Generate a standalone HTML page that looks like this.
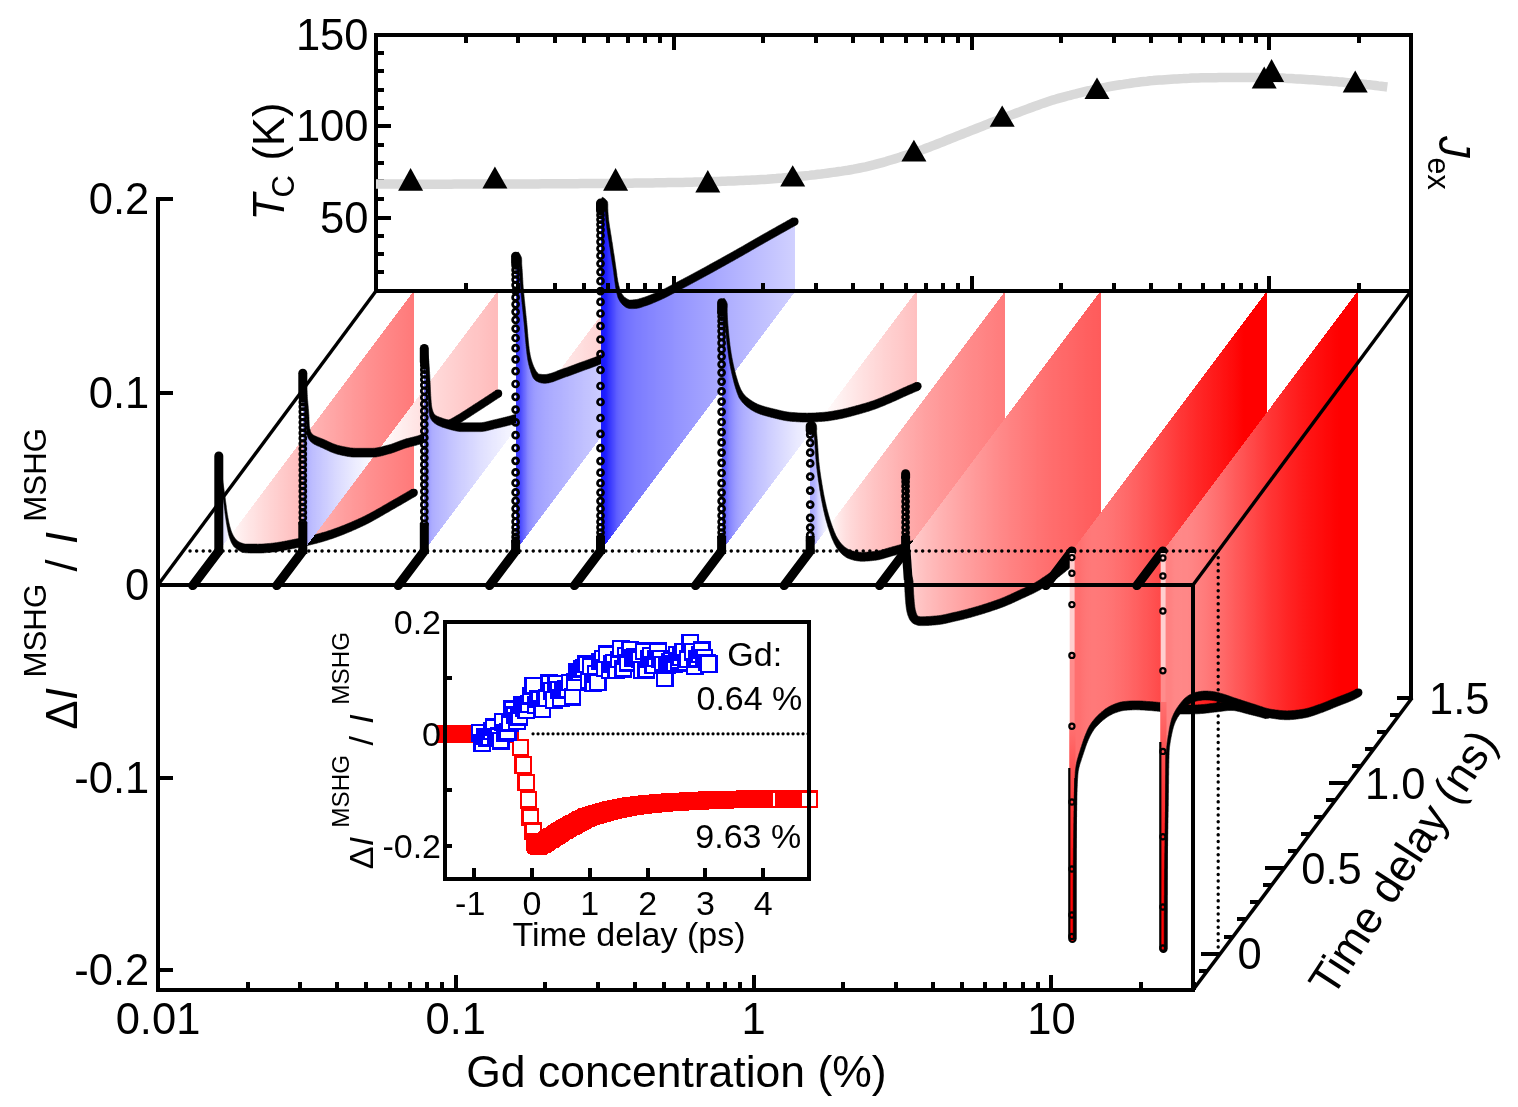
<!DOCTYPE html><html><head><meta charset="utf-8"><title>figure</title><style>html,body{margin:0;padding:0;background:#fff}svg{display:block}</style></head><body><svg width="1518" height="1107" viewBox="0 0 1518 1107" font-family='"Liberation Sans", sans-serif' fill="#000">
<rect width="1518" height="1107" fill="#fff"/>
<defs><linearGradient id="g0" gradientUnits="userSpaceOnUse" x1="218.8" y1="0" x2="413.9" y2="0"><stop offset="0.0000" stop-color="#bfbfff"/><stop offset="0.0103" stop-color="#cdcdff"/><stop offset="0.0205" stop-color="#d9d9ff"/><stop offset="0.0308" stop-color="#e5e5ff"/><stop offset="0.0410" stop-color="#f0f0ff"/><stop offset="0.0513" stop-color="#f9f9ff"/><stop offset="0.0615" stop-color="#ffffff"/><stop offset="0.0718" stop-color="#fffafa"/><stop offset="0.0820" stop-color="#fff6f6"/><stop offset="0.0923" stop-color="#fff3f3"/><stop offset="0.1025" stop-color="#fff1f1"/><stop offset="0.1128" stop-color="#ffeeee"/><stop offset="0.1230" stop-color="#ffecec"/><stop offset="0.1333" stop-color="#ffeaea"/><stop offset="0.1435" stop-color="#ffe8e8"/><stop offset="0.1538" stop-color="#ffe6e6"/><stop offset="0.1640" stop-color="#ffe4e4"/><stop offset="0.1743" stop-color="#ffe3e3"/><stop offset="0.1845" stop-color="#ffe1e1"/><stop offset="0.1948" stop-color="#ffdfdf"/><stop offset="0.2050" stop-color="#ffdddd"/><stop offset="0.2153" stop-color="#ffdcdc"/><stop offset="0.2255" stop-color="#ffdada"/><stop offset="0.2358" stop-color="#ffd8d8"/><stop offset="0.2460" stop-color="#ffd7d7"/><stop offset="0.2563" stop-color="#ffd5d5"/><stop offset="0.2665" stop-color="#ffd3d3"/><stop offset="0.2768" stop-color="#ffd2d2"/><stop offset="0.2870" stop-color="#ffd0d0"/><stop offset="0.2973" stop-color="#ffcfcf"/><stop offset="0.3075" stop-color="#ffcdcd"/><stop offset="0.3178" stop-color="#ffcbcb"/><stop offset="0.3280" stop-color="#ffcaca"/><stop offset="0.3383" stop-color="#ffc8c8"/><stop offset="0.3485" stop-color="#ffc7c7"/><stop offset="0.3588" stop-color="#ffc5c5"/><stop offset="0.3690" stop-color="#ffc4c4"/><stop offset="0.3793" stop-color="#ffc2c2"/><stop offset="0.3895" stop-color="#ffc1c1"/><stop offset="0.3998" stop-color="#ffbfbf"/><stop offset="0.4100" stop-color="#ffbebe"/><stop offset="0.4203" stop-color="#ffbcbc"/><stop offset="0.4305" stop-color="#ffbbbb"/><stop offset="0.4408" stop-color="#ffb9b9"/><stop offset="0.4511" stop-color="#ffb8b8"/><stop offset="0.4613" stop-color="#ffb7b7"/><stop offset="0.4716" stop-color="#ffb5b5"/><stop offset="0.4818" stop-color="#ffb4b4"/><stop offset="0.4921" stop-color="#ffb2b2"/><stop offset="0.5023" stop-color="#ffb1b1"/><stop offset="0.5126" stop-color="#ffafaf"/><stop offset="0.5228" stop-color="#ffaeae"/><stop offset="0.5331" stop-color="#ffadad"/><stop offset="0.5433" stop-color="#ffabab"/><stop offset="0.5536" stop-color="#ffaaaa"/><stop offset="0.5638" stop-color="#ffa9a9"/><stop offset="0.5741" stop-color="#ffa7a7"/><stop offset="0.5843" stop-color="#ffa6a6"/><stop offset="0.5946" stop-color="#ffa5a5"/><stop offset="0.6048" stop-color="#ffa3a3"/><stop offset="0.6151" stop-color="#ffa2a2"/><stop offset="0.6253" stop-color="#ffa1a1"/><stop offset="0.6356" stop-color="#ffa0a0"/><stop offset="0.6458" stop-color="#ff9e9e"/><stop offset="0.6561" stop-color="#ff9d9d"/><stop offset="0.6663" stop-color="#ff9c9c"/><stop offset="0.6766" stop-color="#ff9b9b"/><stop offset="0.6868" stop-color="#ff9999"/><stop offset="0.6971" stop-color="#ff9898"/><stop offset="0.7073" stop-color="#ff9797"/><stop offset="0.7176" stop-color="#ff9696"/><stop offset="0.7278" stop-color="#ff9595"/><stop offset="0.7381" stop-color="#ff9494"/><stop offset="0.7483" stop-color="#ff9393"/><stop offset="0.7586" stop-color="#ff9191"/><stop offset="0.7688" stop-color="#ff9090"/><stop offset="0.7791" stop-color="#ff8f8f"/><stop offset="0.7893" stop-color="#ff8e8e"/><stop offset="0.7996" stop-color="#ff8d8d"/><stop offset="0.8098" stop-color="#ff8c8c"/><stop offset="0.8201" stop-color="#ff8b8b"/><stop offset="0.8303" stop-color="#ff8a8a"/><stop offset="0.8406" stop-color="#ff8989"/><stop offset="0.8508" stop-color="#ff8888"/><stop offset="0.8611" stop-color="#ff8787"/><stop offset="0.8713" stop-color="#ff8686"/><stop offset="0.8816" stop-color="#ff8585"/><stop offset="0.8919" stop-color="#ff8484"/><stop offset="0.9021" stop-color="#ff8383"/><stop offset="0.9124" stop-color="#ff8282"/><stop offset="0.9226" stop-color="#ff8181"/><stop offset="0.9329" stop-color="#ff8080"/><stop offset="0.9431" stop-color="#ff7f7f"/><stop offset="0.9534" stop-color="#ff7e7e"/><stop offset="0.9636" stop-color="#ff7d7d"/><stop offset="0.9739" stop-color="#ff7c7c"/><stop offset="0.9841" stop-color="#ff7b7b"/><stop offset="0.9944" stop-color="#ff7a7a"/></linearGradient><linearGradient id="g1" gradientUnits="userSpaceOnUse" x1="302.8" y1="0" x2="498.3" y2="0"><stop offset="0.0000" stop-color="#8888ff"/><stop offset="0.0102" stop-color="#9494ff"/><stop offset="0.0205" stop-color="#a3a3ff"/><stop offset="0.0307" stop-color="#b6b6ff"/><stop offset="0.0409" stop-color="#babaff"/><stop offset="0.0512" stop-color="#bebeff"/><stop offset="0.0614" stop-color="#c0c0ff"/><stop offset="0.0716" stop-color="#c3c3ff"/><stop offset="0.0818" stop-color="#c5c5ff"/><stop offset="0.0921" stop-color="#c7c7ff"/><stop offset="0.1023" stop-color="#cacaff"/><stop offset="0.1125" stop-color="#ccccff"/><stop offset="0.1228" stop-color="#ceceff"/><stop offset="0.1330" stop-color="#d1d1ff"/><stop offset="0.1432" stop-color="#d3d3ff"/><stop offset="0.1535" stop-color="#d5d5ff"/><stop offset="0.1637" stop-color="#d8d8ff"/><stop offset="0.1739" stop-color="#dadaff"/><stop offset="0.1841" stop-color="#dcdcff"/><stop offset="0.1944" stop-color="#dedeff"/><stop offset="0.2046" stop-color="#e0e0ff"/><stop offset="0.2148" stop-color="#e2e2ff"/><stop offset="0.2251" stop-color="#e4e4ff"/><stop offset="0.2353" stop-color="#e6e6ff"/><stop offset="0.2455" stop-color="#e8e8ff"/><stop offset="0.2558" stop-color="#eaeaff"/><stop offset="0.2660" stop-color="#ececff"/><stop offset="0.2762" stop-color="#eeeeff"/><stop offset="0.2864" stop-color="#efefff"/><stop offset="0.2967" stop-color="#f1f1ff"/><stop offset="0.3069" stop-color="#f3f3ff"/><stop offset="0.3171" stop-color="#f5f5ff"/><stop offset="0.3274" stop-color="#f6f6ff"/><stop offset="0.3376" stop-color="#f8f8ff"/><stop offset="0.3478" stop-color="#fafaff"/><stop offset="0.3581" stop-color="#fcfcff"/><stop offset="0.3683" stop-color="#fdfdff"/><stop offset="0.3785" stop-color="#ffffff"/><stop offset="0.3887" stop-color="#fffdfd"/><stop offset="0.3990" stop-color="#fffcfc"/><stop offset="0.4092" stop-color="#fffbfb"/><stop offset="0.4194" stop-color="#fff9f9"/><stop offset="0.4297" stop-color="#fff8f8"/><stop offset="0.4399" stop-color="#fff6f6"/><stop offset="0.4501" stop-color="#fff5f5"/><stop offset="0.4604" stop-color="#fff4f4"/><stop offset="0.4706" stop-color="#fff2f2"/><stop offset="0.4808" stop-color="#fff1f1"/><stop offset="0.4910" stop-color="#fff0f0"/><stop offset="0.5013" stop-color="#ffefef"/><stop offset="0.5115" stop-color="#ffeded"/><stop offset="0.5217" stop-color="#ffecec"/><stop offset="0.5320" stop-color="#ffebeb"/><stop offset="0.5422" stop-color="#ffe9e9"/><stop offset="0.5524" stop-color="#ffe8e8"/><stop offset="0.5627" stop-color="#ffe6e6"/><stop offset="0.5729" stop-color="#ffe5e5"/><stop offset="0.5831" stop-color="#ffe4e4"/><stop offset="0.5934" stop-color="#ffe2e2"/><stop offset="0.6036" stop-color="#ffe1e1"/><stop offset="0.6138" stop-color="#ffe0e0"/><stop offset="0.6240" stop-color="#ffdfdf"/><stop offset="0.6343" stop-color="#ffdddd"/><stop offset="0.6445" stop-color="#ffdcdc"/><stop offset="0.6547" stop-color="#ffdbdb"/><stop offset="0.6650" stop-color="#ffdada"/><stop offset="0.6752" stop-color="#ffdada"/><stop offset="0.6854" stop-color="#ffd8d8"/><stop offset="0.6957" stop-color="#ffd7d7"/><stop offset="0.7059" stop-color="#ffd6d6"/><stop offset="0.7161" stop-color="#ffd5d5"/><stop offset="0.7263" stop-color="#ffd4d4"/><stop offset="0.7366" stop-color="#ffd3d3"/><stop offset="0.7468" stop-color="#ffd2d2"/><stop offset="0.7570" stop-color="#ffd1d1"/><stop offset="0.7673" stop-color="#ffd0d0"/><stop offset="0.7775" stop-color="#ffcfcf"/><stop offset="0.7877" stop-color="#ffcece"/><stop offset="0.7980" stop-color="#ffcdcd"/><stop offset="0.8082" stop-color="#ffcccc"/><stop offset="0.8184" stop-color="#ffcbcb"/><stop offset="0.8286" stop-color="#ffcaca"/><stop offset="0.8389" stop-color="#ffc9c9"/><stop offset="0.8491" stop-color="#ffc8c8"/><stop offset="0.8593" stop-color="#ffc7c7"/><stop offset="0.8696" stop-color="#ffc6c6"/><stop offset="0.8798" stop-color="#ffc5c5"/><stop offset="0.8900" stop-color="#ffc5c5"/><stop offset="0.9003" stop-color="#ffc4c4"/><stop offset="0.9105" stop-color="#ffc3c3"/><stop offset="0.9207" stop-color="#ffc2c2"/><stop offset="0.9309" stop-color="#ffc1c1"/><stop offset="0.9412" stop-color="#ffc0c0"/><stop offset="0.9514" stop-color="#ffbfbf"/><stop offset="0.9616" stop-color="#ffbebe"/><stop offset="0.9719" stop-color="#ffbdbd"/><stop offset="0.9821" stop-color="#ffbcbc"/><stop offset="0.9923" stop-color="#ffbcbc"/></linearGradient><linearGradient id="g2" gradientUnits="userSpaceOnUse" x1="424.3" y1="0" x2="619.0" y2="0"><stop offset="0.0000" stop-color="#7878ff"/><stop offset="0.0103" stop-color="#7e7eff"/><stop offset="0.0205" stop-color="#8e8eff"/><stop offset="0.0308" stop-color="#a5a5ff"/><stop offset="0.0411" stop-color="#adadff"/><stop offset="0.0514" stop-color="#b0b0ff"/><stop offset="0.0616" stop-color="#b3b3ff"/><stop offset="0.0719" stop-color="#b5b5ff"/><stop offset="0.0822" stop-color="#b8b8ff"/><stop offset="0.0924" stop-color="#babaff"/><stop offset="0.1027" stop-color="#bcbcff"/><stop offset="0.1130" stop-color="#bebeff"/><stop offset="0.1233" stop-color="#c1c1ff"/><stop offset="0.1335" stop-color="#c3c3ff"/><stop offset="0.1438" stop-color="#c5c5ff"/><stop offset="0.1541" stop-color="#c7c7ff"/><stop offset="0.1644" stop-color="#c9c9ff"/><stop offset="0.1746" stop-color="#cbcbff"/><stop offset="0.1849" stop-color="#cdcdff"/><stop offset="0.1952" stop-color="#cfcfff"/><stop offset="0.2054" stop-color="#d0d0ff"/><stop offset="0.2157" stop-color="#d2d2ff"/><stop offset="0.2260" stop-color="#d4d4ff"/><stop offset="0.2363" stop-color="#d6d6ff"/><stop offset="0.2465" stop-color="#d7d7ff"/><stop offset="0.2568" stop-color="#d9d9ff"/><stop offset="0.2671" stop-color="#dbdbff"/><stop offset="0.2773" stop-color="#ddddff"/><stop offset="0.2876" stop-color="#dfdfff"/><stop offset="0.2979" stop-color="#e0e0ff"/><stop offset="0.3082" stop-color="#e2e2ff"/><stop offset="0.3184" stop-color="#e3e3ff"/><stop offset="0.3287" stop-color="#e5e5ff"/><stop offset="0.3390" stop-color="#e6e6ff"/><stop offset="0.3493" stop-color="#e8e8ff"/><stop offset="0.3595" stop-color="#e9e9ff"/><stop offset="0.3698" stop-color="#eaeaff"/><stop offset="0.3801" stop-color="#ececff"/><stop offset="0.3903" stop-color="#ededff"/><stop offset="0.4006" stop-color="#efefff"/><stop offset="0.4109" stop-color="#f0f0ff"/><stop offset="0.4212" stop-color="#f2f2ff"/><stop offset="0.4314" stop-color="#f3f3ff"/><stop offset="0.4417" stop-color="#f4f4ff"/><stop offset="0.4520" stop-color="#f6f6ff"/><stop offset="0.4622" stop-color="#f7f7ff"/><stop offset="0.4725" stop-color="#f9f9ff"/><stop offset="0.4828" stop-color="#fafaff"/><stop offset="0.4931" stop-color="#fbfbff"/><stop offset="0.5033" stop-color="#fdfdff"/><stop offset="0.5136" stop-color="#fefeff"/><stop offset="0.5239" stop-color="#ffffff"/><stop offset="0.5342" stop-color="#fffefe"/><stop offset="0.5444" stop-color="#fffcfc"/><stop offset="0.5547" stop-color="#fffbfb"/><stop offset="0.5650" stop-color="#fffafa"/><stop offset="0.5752" stop-color="#fff9f9"/><stop offset="0.5855" stop-color="#fff7f7"/><stop offset="0.5958" stop-color="#fff6f6"/><stop offset="0.6061" stop-color="#fff5f5"/><stop offset="0.6163" stop-color="#fff4f4"/><stop offset="0.6266" stop-color="#fff2f2"/><stop offset="0.6369" stop-color="#fff1f1"/><stop offset="0.6471" stop-color="#fff0f0"/><stop offset="0.6574" stop-color="#ffefef"/><stop offset="0.6677" stop-color="#ffeeee"/><stop offset="0.6780" stop-color="#ffecec"/><stop offset="0.6882" stop-color="#ffebeb"/><stop offset="0.6985" stop-color="#ffeaea"/><stop offset="0.7088" stop-color="#ffe9e9"/><stop offset="0.7191" stop-color="#ffe8e8"/><stop offset="0.7293" stop-color="#ffe7e7"/><stop offset="0.7396" stop-color="#ffe6e6"/><stop offset="0.7499" stop-color="#ffe4e4"/><stop offset="0.7601" stop-color="#ffe3e3"/><stop offset="0.7704" stop-color="#ffe2e2"/><stop offset="0.7807" stop-color="#ffe1e1"/><stop offset="0.7910" stop-color="#ffe0e0"/><stop offset="0.8012" stop-color="#ffdfdf"/><stop offset="0.8115" stop-color="#ffdede"/><stop offset="0.8218" stop-color="#ffdcdc"/><stop offset="0.8320" stop-color="#ffdbdb"/><stop offset="0.8423" stop-color="#ffdada"/><stop offset="0.8526" stop-color="#ffd9d9"/><stop offset="0.8629" stop-color="#ffd8d8"/><stop offset="0.8731" stop-color="#ffd7d7"/><stop offset="0.8834" stop-color="#ffd6d6"/><stop offset="0.8937" stop-color="#ffd5d5"/><stop offset="0.9040" stop-color="#ffd4d4"/><stop offset="0.9142" stop-color="#ffd3d3"/><stop offset="0.9245" stop-color="#ffd2d2"/><stop offset="0.9348" stop-color="#ffd0d0"/><stop offset="0.9450" stop-color="#ffcfcf"/><stop offset="0.9553" stop-color="#ffcece"/><stop offset="0.9656" stop-color="#ffcdcd"/><stop offset="0.9759" stop-color="#ffcccc"/><stop offset="0.9861" stop-color="#ffcbcb"/><stop offset="0.9964" stop-color="#ffcaca"/></linearGradient><linearGradient id="g3" gradientUnits="userSpaceOnUse" x1="515.6" y1="0" x2="710.6" y2="0"><stop offset="0.0000" stop-color="#3b3bff"/><stop offset="0.0103" stop-color="#3e3eff"/><stop offset="0.0205" stop-color="#4242ff"/><stop offset="0.0308" stop-color="#5454ff"/><stop offset="0.0410" stop-color="#6464ff"/><stop offset="0.0513" stop-color="#7272ff"/><stop offset="0.0615" stop-color="#8383ff"/><stop offset="0.0718" stop-color="#8d8dff"/><stop offset="0.0821" stop-color="#9393ff"/><stop offset="0.0923" stop-color="#9999ff"/><stop offset="0.1026" stop-color="#9d9dff"/><stop offset="0.1128" stop-color="#a0a0ff"/><stop offset="0.1231" stop-color="#a2a2ff"/><stop offset="0.1333" stop-color="#a4a4ff"/><stop offset="0.1436" stop-color="#a6a6ff"/><stop offset="0.1538" stop-color="#a8a8ff"/><stop offset="0.1641" stop-color="#a9a9ff"/><stop offset="0.1744" stop-color="#ababff"/><stop offset="0.1846" stop-color="#acacff"/><stop offset="0.1949" stop-color="#aeaeff"/><stop offset="0.2051" stop-color="#afafff"/><stop offset="0.2154" stop-color="#b0b0ff"/><stop offset="0.2256" stop-color="#b1b1ff"/><stop offset="0.2359" stop-color="#b2b2ff"/><stop offset="0.2462" stop-color="#b4b4ff"/><stop offset="0.2564" stop-color="#b5b5ff"/><stop offset="0.2667" stop-color="#b6b6ff"/><stop offset="0.2769" stop-color="#b8b8ff"/><stop offset="0.2872" stop-color="#b9b9ff"/><stop offset="0.2974" stop-color="#babaff"/><stop offset="0.3077" stop-color="#bcbcff"/><stop offset="0.3179" stop-color="#bdbdff"/><stop offset="0.3282" stop-color="#bebeff"/><stop offset="0.3385" stop-color="#bfbfff"/><stop offset="0.3487" stop-color="#c1c1ff"/><stop offset="0.3590" stop-color="#c2c2ff"/><stop offset="0.3692" stop-color="#c3c3ff"/><stop offset="0.3795" stop-color="#c4c4ff"/><stop offset="0.3897" stop-color="#c6c6ff"/><stop offset="0.4000" stop-color="#c7c7ff"/><stop offset="0.4103" stop-color="#c8c8ff"/><stop offset="0.4205" stop-color="#cacaff"/><stop offset="0.4308" stop-color="#cbcbff"/><stop offset="0.4410" stop-color="#ccccff"/><stop offset="0.4513" stop-color="#cdcdff"/><stop offset="0.4615" stop-color="#ceceff"/><stop offset="0.4718" stop-color="#cfcfff"/><stop offset="0.4821" stop-color="#d1d1ff"/><stop offset="0.4923" stop-color="#d2d2ff"/><stop offset="0.5026" stop-color="#d3d3ff"/><stop offset="0.5128" stop-color="#d4d4ff"/><stop offset="0.5231" stop-color="#d5d5ff"/><stop offset="0.5333" stop-color="#d6d6ff"/><stop offset="0.5436" stop-color="#d7d7ff"/><stop offset="0.5538" stop-color="#d8d8ff"/><stop offset="0.5641" stop-color="#d9d9ff"/><stop offset="0.5744" stop-color="#dbdbff"/><stop offset="0.5846" stop-color="#dcdcff"/><stop offset="0.5949" stop-color="#ddddff"/><stop offset="0.6051" stop-color="#dedeff"/><stop offset="0.6154" stop-color="#dfdfff"/><stop offset="0.6256" stop-color="#e0e0ff"/><stop offset="0.6359" stop-color="#e1e1ff"/><stop offset="0.6462" stop-color="#e2e2ff"/><stop offset="0.6564" stop-color="#e3e3ff"/><stop offset="0.6667" stop-color="#e4e4ff"/><stop offset="0.6769" stop-color="#e5e5ff"/><stop offset="0.6872" stop-color="#e6e6ff"/><stop offset="0.6974" stop-color="#e7e7ff"/><stop offset="0.7077" stop-color="#e8e8ff"/><stop offset="0.7179" stop-color="#e9e9ff"/><stop offset="0.7282" stop-color="#eaeaff"/><stop offset="0.7385" stop-color="#ebebff"/><stop offset="0.7487" stop-color="#ededff"/><stop offset="0.7590" stop-color="#eeeeff"/><stop offset="0.7692" stop-color="#efefff"/><stop offset="0.7795" stop-color="#f0f0ff"/><stop offset="0.7897" stop-color="#f1f1ff"/><stop offset="0.8000" stop-color="#f2f2ff"/><stop offset="0.8103" stop-color="#f3f3ff"/><stop offset="0.8205" stop-color="#f4f4ff"/><stop offset="0.8308" stop-color="#f5f5ff"/><stop offset="0.8410" stop-color="#f6f6ff"/><stop offset="0.8513" stop-color="#f7f7ff"/><stop offset="0.8615" stop-color="#f8f8ff"/><stop offset="0.8718" stop-color="#f9f9ff"/><stop offset="0.8821" stop-color="#fafaff"/><stop offset="0.8923" stop-color="#fbfbff"/><stop offset="0.9026" stop-color="#fcfcff"/><stop offset="0.9128" stop-color="#fdfdff"/><stop offset="0.9231" stop-color="#fefeff"/><stop offset="0.9333" stop-color="#ffffff"/><stop offset="0.9436" stop-color="#fffefe"/><stop offset="0.9538" stop-color="#fffdfd"/><stop offset="0.9641" stop-color="#fffcfc"/><stop offset="0.9744" stop-color="#fffbfb"/><stop offset="0.9846" stop-color="#fffbfb"/><stop offset="0.9949" stop-color="#fffafa"/></linearGradient><linearGradient id="g4" gradientUnits="userSpaceOnUse" x1="600.5" y1="0" x2="794.5" y2="0"><stop offset="0.0000" stop-color="#1818ff"/><stop offset="0.0103" stop-color="#1a1aff"/><stop offset="0.0206" stop-color="#1c1cff"/><stop offset="0.0309" stop-color="#2424ff"/><stop offset="0.0412" stop-color="#3131ff"/><stop offset="0.0515" stop-color="#3b3bff"/><stop offset="0.0619" stop-color="#4646ff"/><stop offset="0.0722" stop-color="#5050ff"/><stop offset="0.0825" stop-color="#5c5cff"/><stop offset="0.0928" stop-color="#6363ff"/><stop offset="0.1031" stop-color="#6868ff"/><stop offset="0.1134" stop-color="#6c6cff"/><stop offset="0.1237" stop-color="#6f6fff"/><stop offset="0.1340" stop-color="#7272ff"/><stop offset="0.1443" stop-color="#7474ff"/><stop offset="0.1546" stop-color="#7676ff"/><stop offset="0.1649" stop-color="#7878ff"/><stop offset="0.1753" stop-color="#7a7aff"/><stop offset="0.1856" stop-color="#7c7cff"/><stop offset="0.1959" stop-color="#7d7dff"/><stop offset="0.2062" stop-color="#7e7eff"/><stop offset="0.2165" stop-color="#8080ff"/><stop offset="0.2268" stop-color="#8181ff"/><stop offset="0.2371" stop-color="#8282ff"/><stop offset="0.2474" stop-color="#8484ff"/><stop offset="0.2577" stop-color="#8585ff"/><stop offset="0.2680" stop-color="#8686ff"/><stop offset="0.2784" stop-color="#8787ff"/><stop offset="0.2887" stop-color="#8989ff"/><stop offset="0.2990" stop-color="#8a8aff"/><stop offset="0.3093" stop-color="#8b8bff"/><stop offset="0.3196" stop-color="#8c8cff"/><stop offset="0.3299" stop-color="#8d8dff"/><stop offset="0.3402" stop-color="#8e8eff"/><stop offset="0.3505" stop-color="#8f8fff"/><stop offset="0.3608" stop-color="#9090ff"/><stop offset="0.3711" stop-color="#9191ff"/><stop offset="0.3814" stop-color="#9393ff"/><stop offset="0.3918" stop-color="#9494ff"/><stop offset="0.4021" stop-color="#9595ff"/><stop offset="0.4124" stop-color="#9696ff"/><stop offset="0.4227" stop-color="#9797ff"/><stop offset="0.4330" stop-color="#9898ff"/><stop offset="0.4433" stop-color="#9999ff"/><stop offset="0.4536" stop-color="#9a9aff"/><stop offset="0.4639" stop-color="#9b9bff"/><stop offset="0.4742" stop-color="#9c9cff"/><stop offset="0.4845" stop-color="#9d9dff"/><stop offset="0.4948" stop-color="#9e9eff"/><stop offset="0.5052" stop-color="#9f9fff"/><stop offset="0.5155" stop-color="#a0a0ff"/><stop offset="0.5258" stop-color="#a1a1ff"/><stop offset="0.5361" stop-color="#a2a2ff"/><stop offset="0.5464" stop-color="#a3a3ff"/><stop offset="0.5567" stop-color="#a4a4ff"/><stop offset="0.5670" stop-color="#a5a5ff"/><stop offset="0.5773" stop-color="#a6a6ff"/><stop offset="0.5876" stop-color="#a7a7ff"/><stop offset="0.5979" stop-color="#a9a9ff"/><stop offset="0.6082" stop-color="#aaaaff"/><stop offset="0.6186" stop-color="#ababff"/><stop offset="0.6289" stop-color="#acacff"/><stop offset="0.6392" stop-color="#adadff"/><stop offset="0.6495" stop-color="#aeaeff"/><stop offset="0.6598" stop-color="#afafff"/><stop offset="0.6701" stop-color="#b0b0ff"/><stop offset="0.6804" stop-color="#b1b1ff"/><stop offset="0.6907" stop-color="#b2b2ff"/><stop offset="0.7010" stop-color="#b3b3ff"/><stop offset="0.7113" stop-color="#b4b4ff"/><stop offset="0.7216" stop-color="#b5b5ff"/><stop offset="0.7320" stop-color="#b6b6ff"/><stop offset="0.7423" stop-color="#b7b7ff"/><stop offset="0.7526" stop-color="#b8b8ff"/><stop offset="0.7629" stop-color="#b9b9ff"/><stop offset="0.7732" stop-color="#babaff"/><stop offset="0.7835" stop-color="#bbbbff"/><stop offset="0.7938" stop-color="#bcbcff"/><stop offset="0.8041" stop-color="#bdbdff"/><stop offset="0.8144" stop-color="#bebeff"/><stop offset="0.8247" stop-color="#bfbfff"/><stop offset="0.8351" stop-color="#c0c0ff"/><stop offset="0.8454" stop-color="#c1c1ff"/><stop offset="0.8557" stop-color="#c2c2ff"/><stop offset="0.8660" stop-color="#c3c3ff"/><stop offset="0.8763" stop-color="#c4c4ff"/><stop offset="0.8866" stop-color="#c5c5ff"/><stop offset="0.8969" stop-color="#c6c6ff"/><stop offset="0.9072" stop-color="#c7c7ff"/><stop offset="0.9175" stop-color="#c8c8ff"/><stop offset="0.9278" stop-color="#c9c9ff"/><stop offset="0.9381" stop-color="#cacaff"/><stop offset="0.9485" stop-color="#cbcbff"/><stop offset="0.9588" stop-color="#ccccff"/><stop offset="0.9691" stop-color="#cdcdff"/><stop offset="0.9794" stop-color="#ceceff"/><stop offset="0.9897" stop-color="#cfcfff"/><stop offset="1.0000" stop-color="#d0d0ff"/></linearGradient><linearGradient id="g5" gradientUnits="userSpaceOnUse" x1="721.6" y1="0" x2="917.4" y2="0"><stop offset="0.0000" stop-color="#5959ff"/><stop offset="0.0102" stop-color="#5c5cff"/><stop offset="0.0204" stop-color="#6262ff"/><stop offset="0.0306" stop-color="#7676ff"/><stop offset="0.0409" stop-color="#8383ff"/><stop offset="0.0511" stop-color="#8c8cff"/><stop offset="0.0613" stop-color="#9494ff"/><stop offset="0.0715" stop-color="#9b9bff"/><stop offset="0.0817" stop-color="#a1a1ff"/><stop offset="0.0919" stop-color="#a6a6ff"/><stop offset="0.1021" stop-color="#aaaaff"/><stop offset="0.1124" stop-color="#aeaeff"/><stop offset="0.1226" stop-color="#b1b1ff"/><stop offset="0.1328" stop-color="#b4b4ff"/><stop offset="0.1430" stop-color="#b7b7ff"/><stop offset="0.1532" stop-color="#b9b9ff"/><stop offset="0.1634" stop-color="#bcbcff"/><stop offset="0.1736" stop-color="#bebeff"/><stop offset="0.1839" stop-color="#c1c1ff"/><stop offset="0.1941" stop-color="#c3c3ff"/><stop offset="0.2043" stop-color="#c5c5ff"/><stop offset="0.2145" stop-color="#c7c7ff"/><stop offset="0.2247" stop-color="#c9c9ff"/><stop offset="0.2349" stop-color="#ccccff"/><stop offset="0.2451" stop-color="#ceceff"/><stop offset="0.2554" stop-color="#d0d0ff"/><stop offset="0.2656" stop-color="#d2d2ff"/><stop offset="0.2758" stop-color="#d4d4ff"/><stop offset="0.2860" stop-color="#d6d6ff"/><stop offset="0.2962" stop-color="#d8d8ff"/><stop offset="0.3064" stop-color="#dadaff"/><stop offset="0.3166" stop-color="#dcdcff"/><stop offset="0.3269" stop-color="#dedeff"/><stop offset="0.3371" stop-color="#e0e0ff"/><stop offset="0.3473" stop-color="#e2e2ff"/><stop offset="0.3575" stop-color="#e4e4ff"/><stop offset="0.3677" stop-color="#e6e6ff"/><stop offset="0.3779" stop-color="#e8e8ff"/><stop offset="0.3882" stop-color="#eaeaff"/><stop offset="0.3984" stop-color="#ebebff"/><stop offset="0.4086" stop-color="#ededff"/><stop offset="0.4188" stop-color="#efefff"/><stop offset="0.4290" stop-color="#f1f1ff"/><stop offset="0.4392" stop-color="#f3f3ff"/><stop offset="0.4494" stop-color="#f4f4ff"/><stop offset="0.4597" stop-color="#f6f6ff"/><stop offset="0.4699" stop-color="#f8f8ff"/><stop offset="0.4801" stop-color="#f9f9ff"/><stop offset="0.4903" stop-color="#fbfbff"/><stop offset="0.5005" stop-color="#fdfdff"/><stop offset="0.5107" stop-color="#ffffff"/><stop offset="0.5209" stop-color="#fffefe"/><stop offset="0.5312" stop-color="#fffcfc"/><stop offset="0.5414" stop-color="#fffbfb"/><stop offset="0.5516" stop-color="#fff9f9"/><stop offset="0.5618" stop-color="#fff7f7"/><stop offset="0.5720" stop-color="#fff6f6"/><stop offset="0.5822" stop-color="#fff4f4"/><stop offset="0.5924" stop-color="#fff3f3"/><stop offset="0.6027" stop-color="#fff1f1"/><stop offset="0.6129" stop-color="#fff0f0"/><stop offset="0.6231" stop-color="#ffeeee"/><stop offset="0.6333" stop-color="#ffeded"/><stop offset="0.6435" stop-color="#ffebeb"/><stop offset="0.6537" stop-color="#ffeaea"/><stop offset="0.6639" stop-color="#ffe9e9"/><stop offset="0.6742" stop-color="#ffe7e7"/><stop offset="0.6844" stop-color="#ffe6e6"/><stop offset="0.6946" stop-color="#ffe4e4"/><stop offset="0.7048" stop-color="#ffe3e3"/><stop offset="0.7150" stop-color="#ffe2e2"/><stop offset="0.7252" stop-color="#ffe0e0"/><stop offset="0.7354" stop-color="#ffdfdf"/><stop offset="0.7457" stop-color="#ffdede"/><stop offset="0.7559" stop-color="#ffdcdc"/><stop offset="0.7661" stop-color="#ffdbdb"/><stop offset="0.7763" stop-color="#ffdada"/><stop offset="0.7865" stop-color="#ffd8d8"/><stop offset="0.7967" stop-color="#ffd7d7"/><stop offset="0.8069" stop-color="#ffd6d6"/><stop offset="0.8172" stop-color="#ffd5d5"/><stop offset="0.8274" stop-color="#ffd3d3"/><stop offset="0.8376" stop-color="#ffd2d2"/><stop offset="0.8478" stop-color="#ffd1d1"/><stop offset="0.8580" stop-color="#ffd0d0"/><stop offset="0.8682" stop-color="#ffcece"/><stop offset="0.8784" stop-color="#ffcdcd"/><stop offset="0.8887" stop-color="#ffcccc"/><stop offset="0.8989" stop-color="#ffcbcb"/><stop offset="0.9091" stop-color="#ffcaca"/><stop offset="0.9193" stop-color="#ffc9c9"/><stop offset="0.9295" stop-color="#ffc8c8"/><stop offset="0.9397" stop-color="#ffc6c6"/><stop offset="0.9499" stop-color="#ffc5c5"/><stop offset="0.9602" stop-color="#ffc4c4"/><stop offset="0.9704" stop-color="#ffc3c3"/><stop offset="0.9806" stop-color="#ffc2c2"/><stop offset="0.9908" stop-color="#ffc0c0"/></linearGradient><linearGradient id="g6" gradientUnits="userSpaceOnUse" x1="810.2" y1="0" x2="1005.2" y2="0"><stop offset="0.0000" stop-color="#ababff"/><stop offset="0.0103" stop-color="#adadff"/><stop offset="0.0205" stop-color="#b1b1ff"/><stop offset="0.0308" stop-color="#bdbdff"/><stop offset="0.0410" stop-color="#cfcfff"/><stop offset="0.0513" stop-color="#dadaff"/><stop offset="0.0615" stop-color="#e4e4ff"/><stop offset="0.0718" stop-color="#ededff"/><stop offset="0.0821" stop-color="#f4f4ff"/><stop offset="0.0923" stop-color="#fbfbff"/><stop offset="0.1026" stop-color="#fffdfd"/><stop offset="0.1128" stop-color="#fff8f8"/><stop offset="0.1231" stop-color="#fff3f3"/><stop offset="0.1333" stop-color="#ffefef"/><stop offset="0.1436" stop-color="#ffebeb"/><stop offset="0.1538" stop-color="#ffe7e7"/><stop offset="0.1641" stop-color="#ffe4e4"/><stop offset="0.1744" stop-color="#ffe1e1"/><stop offset="0.1846" stop-color="#ffdede"/><stop offset="0.1949" stop-color="#ffdcdc"/><stop offset="0.2051" stop-color="#ffd9d9"/><stop offset="0.2154" stop-color="#ffd7d7"/><stop offset="0.2256" stop-color="#ffd5d5"/><stop offset="0.2359" stop-color="#ffd3d3"/><stop offset="0.2462" stop-color="#ffd1d1"/><stop offset="0.2564" stop-color="#ffcfcf"/><stop offset="0.2667" stop-color="#ffcdcd"/><stop offset="0.2769" stop-color="#ffcccc"/><stop offset="0.2872" stop-color="#ffcaca"/><stop offset="0.2974" stop-color="#ffc8c8"/><stop offset="0.3077" stop-color="#ffc7c7"/><stop offset="0.3179" stop-color="#ffc5c5"/><stop offset="0.3282" stop-color="#ffc3c3"/><stop offset="0.3385" stop-color="#ffc2c2"/><stop offset="0.3487" stop-color="#ffc0c0"/><stop offset="0.3590" stop-color="#ffbfbf"/><stop offset="0.3692" stop-color="#ffbdbd"/><stop offset="0.3795" stop-color="#ffbcbc"/><stop offset="0.3897" stop-color="#ffbbbb"/><stop offset="0.4000" stop-color="#ffb9b9"/><stop offset="0.4103" stop-color="#ffb8b8"/><stop offset="0.4205" stop-color="#ffb7b7"/><stop offset="0.4308" stop-color="#ffb5b5"/><stop offset="0.4410" stop-color="#ffb4b4"/><stop offset="0.4513" stop-color="#ffb2b2"/><stop offset="0.4615" stop-color="#ffb1b1"/><stop offset="0.4718" stop-color="#ffb0b0"/><stop offset="0.4821" stop-color="#ffaeae"/><stop offset="0.4923" stop-color="#ffadad"/><stop offset="0.5026" stop-color="#ffacac"/><stop offset="0.5128" stop-color="#ffaaaa"/><stop offset="0.5231" stop-color="#ffa9a9"/><stop offset="0.5333" stop-color="#ffa8a8"/><stop offset="0.5436" stop-color="#ffa6a6"/><stop offset="0.5538" stop-color="#ffa5a5"/><stop offset="0.5641" stop-color="#ffa4a4"/><stop offset="0.5744" stop-color="#ffa3a3"/><stop offset="0.5846" stop-color="#ffa1a1"/><stop offset="0.5949" stop-color="#ffa0a0"/><stop offset="0.6051" stop-color="#ff9f9f"/><stop offset="0.6154" stop-color="#ff9e9e"/><stop offset="0.6256" stop-color="#ff9d9d"/><stop offset="0.6359" stop-color="#ff9c9c"/><stop offset="0.6462" stop-color="#ff9b9b"/><stop offset="0.6564" stop-color="#ff9a9a"/><stop offset="0.6667" stop-color="#ff9898"/><stop offset="0.6769" stop-color="#ff9797"/><stop offset="0.6872" stop-color="#ff9696"/><stop offset="0.6974" stop-color="#ff9595"/><stop offset="0.7077" stop-color="#ff9494"/><stop offset="0.7179" stop-color="#ff9494"/><stop offset="0.7282" stop-color="#ff9393"/><stop offset="0.7385" stop-color="#ff9292"/><stop offset="0.7487" stop-color="#ff9191"/><stop offset="0.7590" stop-color="#ff9090"/><stop offset="0.7692" stop-color="#ff8f8f"/><stop offset="0.7795" stop-color="#ff8e8e"/><stop offset="0.7897" stop-color="#ff8d8d"/><stop offset="0.8000" stop-color="#ff8c8c"/><stop offset="0.8103" stop-color="#ff8b8b"/><stop offset="0.8205" stop-color="#ff8a8a"/><stop offset="0.8308" stop-color="#ff8989"/><stop offset="0.8410" stop-color="#ff8888"/><stop offset="0.8513" stop-color="#ff8888"/><stop offset="0.8615" stop-color="#ff8787"/><stop offset="0.8718" stop-color="#ff8686"/><stop offset="0.8821" stop-color="#ff8585"/><stop offset="0.8923" stop-color="#ff8484"/><stop offset="0.9026" stop-color="#ff8383"/><stop offset="0.9128" stop-color="#ff8282"/><stop offset="0.9231" stop-color="#ff8282"/><stop offset="0.9333" stop-color="#ff8181"/><stop offset="0.9436" stop-color="#ff8080"/><stop offset="0.9538" stop-color="#ff7f7f"/><stop offset="0.9641" stop-color="#ff7e7e"/><stop offset="0.9744" stop-color="#ff7e7e"/><stop offset="0.9846" stop-color="#ff7d7d"/><stop offset="0.9949" stop-color="#ff7c7c"/></linearGradient><linearGradient id="g7" gradientUnits="userSpaceOnUse" x1="905.6" y1="0" x2="1100.6" y2="0"><stop offset="0.0000" stop-color="#cacaff"/><stop offset="0.0103" stop-color="#fdfdff"/><stop offset="0.0205" stop-color="#ffdddd"/><stop offset="0.0308" stop-color="#ffd1d1"/><stop offset="0.0410" stop-color="#ffcccc"/><stop offset="0.0513" stop-color="#ffc9c9"/><stop offset="0.0615" stop-color="#ffc6c6"/><stop offset="0.0718" stop-color="#ffc4c4"/><stop offset="0.0821" stop-color="#ffc3c3"/><stop offset="0.0923" stop-color="#ffc1c1"/><stop offset="0.1026" stop-color="#ffbfbf"/><stop offset="0.1128" stop-color="#ffbdbd"/><stop offset="0.1231" stop-color="#ffbcbc"/><stop offset="0.1333" stop-color="#ffbaba"/><stop offset="0.1436" stop-color="#ffb8b8"/><stop offset="0.1538" stop-color="#ffb7b7"/><stop offset="0.1641" stop-color="#ffb5b5"/><stop offset="0.1744" stop-color="#ffb3b3"/><stop offset="0.1846" stop-color="#ffb2b2"/><stop offset="0.1949" stop-color="#ffb0b0"/><stop offset="0.2051" stop-color="#ffafaf"/><stop offset="0.2154" stop-color="#ffadad"/><stop offset="0.2256" stop-color="#ffacac"/><stop offset="0.2359" stop-color="#ffabab"/><stop offset="0.2462" stop-color="#ffa9a9"/><stop offset="0.2564" stop-color="#ffa8a8"/><stop offset="0.2667" stop-color="#ffa6a6"/><stop offset="0.2769" stop-color="#ffa5a5"/><stop offset="0.2872" stop-color="#ffa3a3"/><stop offset="0.2974" stop-color="#ffa2a2"/><stop offset="0.3077" stop-color="#ffa0a0"/><stop offset="0.3179" stop-color="#ff9f9f"/><stop offset="0.3282" stop-color="#ff9e9e"/><stop offset="0.3385" stop-color="#ff9c9c"/><stop offset="0.3487" stop-color="#ff9b9b"/><stop offset="0.3590" stop-color="#ff9999"/><stop offset="0.3692" stop-color="#ff9898"/><stop offset="0.3795" stop-color="#ff9797"/><stop offset="0.3897" stop-color="#ff9595"/><stop offset="0.4000" stop-color="#ff9494"/><stop offset="0.4103" stop-color="#ff9393"/><stop offset="0.4205" stop-color="#ff9191"/><stop offset="0.4308" stop-color="#ff9090"/><stop offset="0.4410" stop-color="#ff8f8f"/><stop offset="0.4513" stop-color="#ff8d8d"/><stop offset="0.4615" stop-color="#ff8c8c"/><stop offset="0.4718" stop-color="#ff8b8b"/><stop offset="0.4821" stop-color="#ff8989"/><stop offset="0.4923" stop-color="#ff8888"/><stop offset="0.5026" stop-color="#ff8787"/><stop offset="0.5128" stop-color="#ff8686"/><stop offset="0.5231" stop-color="#ff8585"/><stop offset="0.5333" stop-color="#ff8383"/><stop offset="0.5436" stop-color="#ff8282"/><stop offset="0.5538" stop-color="#ff8181"/><stop offset="0.5641" stop-color="#ff8080"/><stop offset="0.5744" stop-color="#ff7f7f"/><stop offset="0.5846" stop-color="#ff7e7e"/><stop offset="0.5949" stop-color="#ff7c7c"/><stop offset="0.6051" stop-color="#ff7b7b"/><stop offset="0.6154" stop-color="#ff7a7a"/><stop offset="0.6256" stop-color="#ff7979"/><stop offset="0.6359" stop-color="#ff7878"/><stop offset="0.6462" stop-color="#ff7777"/><stop offset="0.6564" stop-color="#ff7676"/><stop offset="0.6667" stop-color="#ff7575"/><stop offset="0.6769" stop-color="#ff7373"/><stop offset="0.6872" stop-color="#ff7373"/><stop offset="0.6974" stop-color="#ff7272"/><stop offset="0.7077" stop-color="#ff7171"/><stop offset="0.7179" stop-color="#ff7070"/><stop offset="0.7282" stop-color="#ff6f6f"/><stop offset="0.7385" stop-color="#ff6e6e"/><stop offset="0.7487" stop-color="#ff6d6d"/><stop offset="0.7590" stop-color="#ff6c6c"/><stop offset="0.7692" stop-color="#ff6c6c"/><stop offset="0.7795" stop-color="#ff6b6b"/><stop offset="0.7897" stop-color="#ff6a6a"/><stop offset="0.8000" stop-color="#ff6969"/><stop offset="0.8103" stop-color="#ff6868"/><stop offset="0.8205" stop-color="#ff6868"/><stop offset="0.8308" stop-color="#ff6767"/><stop offset="0.8410" stop-color="#ff6666"/><stop offset="0.8513" stop-color="#ff6666"/><stop offset="0.8615" stop-color="#ff6565"/><stop offset="0.8718" stop-color="#ff6464"/><stop offset="0.8821" stop-color="#ff6363"/><stop offset="0.8923" stop-color="#ff6262"/><stop offset="0.9026" stop-color="#ff6262"/><stop offset="0.9128" stop-color="#ff6161"/><stop offset="0.9231" stop-color="#ff6060"/><stop offset="0.9333" stop-color="#ff5f5f"/><stop offset="0.9436" stop-color="#ff5f5f"/><stop offset="0.9538" stop-color="#ff5e5e"/><stop offset="0.9641" stop-color="#ff5d5d"/><stop offset="0.9744" stop-color="#ff5d5d"/><stop offset="0.9846" stop-color="#ff5c5c"/><stop offset="0.9949" stop-color="#ff5b5b"/></linearGradient><linearGradient id="g8" gradientUnits="userSpaceOnUse" x1="1071.9" y1="0" x2="1266.9" y2="0"><stop offset="0.0000" stop-color="#ff6f6f"/><stop offset="0.0103" stop-color="#ff6f6f"/><stop offset="0.0205" stop-color="#ff6f6f"/><stop offset="0.0308" stop-color="#ff6f6f"/><stop offset="0.0410" stop-color="#ff6f6f"/><stop offset="0.0513" stop-color="#ff7272"/><stop offset="0.0615" stop-color="#ff7474"/><stop offset="0.0718" stop-color="#ff7676"/><stop offset="0.0821" stop-color="#ff7777"/><stop offset="0.0923" stop-color="#ff7878"/><stop offset="0.1026" stop-color="#ff7979"/><stop offset="0.1128" stop-color="#ff7979"/><stop offset="0.1231" stop-color="#ff7979"/><stop offset="0.1333" stop-color="#ff7878"/><stop offset="0.1436" stop-color="#ff7878"/><stop offset="0.1538" stop-color="#ff7777"/><stop offset="0.1641" stop-color="#ff7777"/><stop offset="0.1744" stop-color="#ff7676"/><stop offset="0.1846" stop-color="#ff7575"/><stop offset="0.1949" stop-color="#ff7474"/><stop offset="0.2051" stop-color="#ff7373"/><stop offset="0.2154" stop-color="#ff7272"/><stop offset="0.2256" stop-color="#ff7070"/><stop offset="0.2359" stop-color="#ff6f6f"/><stop offset="0.2462" stop-color="#ff6e6e"/><stop offset="0.2564" stop-color="#ff6c6c"/><stop offset="0.2667" stop-color="#ff6b6b"/><stop offset="0.2769" stop-color="#ff6969"/><stop offset="0.2872" stop-color="#ff6868"/><stop offset="0.2974" stop-color="#ff6666"/><stop offset="0.3077" stop-color="#ff6464"/><stop offset="0.3179" stop-color="#ff6262"/><stop offset="0.3282" stop-color="#ff6161"/><stop offset="0.3385" stop-color="#ff5f5f"/><stop offset="0.3487" stop-color="#ff5d5d"/><stop offset="0.3590" stop-color="#ff5b5b"/><stop offset="0.3692" stop-color="#ff5959"/><stop offset="0.3795" stop-color="#ff5858"/><stop offset="0.3897" stop-color="#ff5656"/><stop offset="0.4000" stop-color="#ff5454"/><stop offset="0.4103" stop-color="#ff5252"/><stop offset="0.4205" stop-color="#ff5050"/><stop offset="0.4308" stop-color="#ff4e4e"/><stop offset="0.4410" stop-color="#ff4c4c"/><stop offset="0.4513" stop-color="#ff4a4a"/><stop offset="0.4615" stop-color="#ff4949"/><stop offset="0.4718" stop-color="#ff4747"/><stop offset="0.4821" stop-color="#ff4545"/><stop offset="0.4923" stop-color="#ff4343"/><stop offset="0.5026" stop-color="#ff4141"/><stop offset="0.5128" stop-color="#ff3f3f"/><stop offset="0.5231" stop-color="#ff3d3d"/><stop offset="0.5333" stop-color="#ff3b3b"/><stop offset="0.5436" stop-color="#ff3939"/><stop offset="0.5538" stop-color="#ff3737"/><stop offset="0.5641" stop-color="#ff3535"/><stop offset="0.5744" stop-color="#ff3434"/><stop offset="0.5846" stop-color="#ff3232"/><stop offset="0.5949" stop-color="#ff3030"/><stop offset="0.6051" stop-color="#ff2e2e"/><stop offset="0.6154" stop-color="#ff2d2d"/><stop offset="0.6256" stop-color="#ff2b2b"/><stop offset="0.6359" stop-color="#ff2929"/><stop offset="0.6462" stop-color="#ff2727"/><stop offset="0.6564" stop-color="#ff2626"/><stop offset="0.6667" stop-color="#ff2424"/><stop offset="0.6769" stop-color="#ff2222"/><stop offset="0.6872" stop-color="#ff2121"/><stop offset="0.6974" stop-color="#ff1f1f"/><stop offset="0.7077" stop-color="#ff1e1e"/><stop offset="0.7179" stop-color="#ff1c1c"/><stop offset="0.7282" stop-color="#ff1a1a"/><stop offset="0.7385" stop-color="#ff1919"/><stop offset="0.7487" stop-color="#ff1717"/><stop offset="0.7590" stop-color="#ff1616"/><stop offset="0.7692" stop-color="#ff1414"/><stop offset="0.7795" stop-color="#ff1212"/><stop offset="0.7897" stop-color="#ff1111"/><stop offset="0.8000" stop-color="#ff0f0f"/><stop offset="0.8103" stop-color="#ff0d0d"/><stop offset="0.8205" stop-color="#ff0c0c"/><stop offset="0.8308" stop-color="#ff0a0a"/><stop offset="0.8410" stop-color="#ff0808"/><stop offset="0.8513" stop-color="#ff0606"/><stop offset="0.8615" stop-color="#ff0404"/><stop offset="0.8718" stop-color="#ff0202"/><stop offset="0.8821" stop-color="#ff0000"/><stop offset="0.8923" stop-color="#ff0000"/><stop offset="0.9026" stop-color="#ff0000"/><stop offset="0.9128" stop-color="#ff0000"/><stop offset="0.9231" stop-color="#ff0000"/><stop offset="0.9333" stop-color="#ff0000"/><stop offset="0.9436" stop-color="#ff0000"/><stop offset="0.9538" stop-color="#ff0000"/><stop offset="0.9641" stop-color="#ff0000"/><stop offset="0.9744" stop-color="#ff0000"/><stop offset="0.9846" stop-color="#ff0000"/><stop offset="0.9949" stop-color="#ff0000"/></linearGradient><linearGradient id="s8" x1="0" y1="0" x2="0" y2="1"><stop offset="0" stop-color="#ff7070"/><stop offset="0.35" stop-color="#ff3a3a"/><stop offset="0.7" stop-color="#ff0808"/><stop offset="1" stop-color="#ff0000"/></linearGradient><linearGradient id="g9" gradientUnits="userSpaceOnUse" x1="1162.9" y1="0" x2="1358.4" y2="0"><stop offset="0.0000" stop-color="#ff8282"/><stop offset="0.0102" stop-color="#ff8282"/><stop offset="0.0205" stop-color="#ff8282"/><stop offset="0.0307" stop-color="#ff8282"/><stop offset="0.0409" stop-color="#ff8282"/><stop offset="0.0512" stop-color="#ff8585"/><stop offset="0.0614" stop-color="#ff8787"/><stop offset="0.0716" stop-color="#ff8787"/><stop offset="0.0818" stop-color="#ff8787"/><stop offset="0.0921" stop-color="#ff8888"/><stop offset="0.1023" stop-color="#ff8787"/><stop offset="0.1125" stop-color="#ff8787"/><stop offset="0.1228" stop-color="#ff8787"/><stop offset="0.1330" stop-color="#ff8686"/><stop offset="0.1432" stop-color="#ff8585"/><stop offset="0.1535" stop-color="#ff8484"/><stop offset="0.1637" stop-color="#ff8282"/><stop offset="0.1739" stop-color="#ff8181"/><stop offset="0.1841" stop-color="#ff7f7f"/><stop offset="0.1944" stop-color="#ff7e7e"/><stop offset="0.2046" stop-color="#ff7c7c"/><stop offset="0.2148" stop-color="#ff7b7b"/><stop offset="0.2251" stop-color="#ff7979"/><stop offset="0.2353" stop-color="#ff7777"/><stop offset="0.2455" stop-color="#ff7575"/><stop offset="0.2558" stop-color="#ff7373"/><stop offset="0.2660" stop-color="#ff7171"/><stop offset="0.2762" stop-color="#ff6f6f"/><stop offset="0.2864" stop-color="#ff6d6d"/><stop offset="0.2967" stop-color="#ff6b6b"/><stop offset="0.3069" stop-color="#ff6969"/><stop offset="0.3171" stop-color="#ff6767"/><stop offset="0.3274" stop-color="#ff6464"/><stop offset="0.3376" stop-color="#ff6262"/><stop offset="0.3478" stop-color="#ff6060"/><stop offset="0.3581" stop-color="#ff5e5e"/><stop offset="0.3683" stop-color="#ff5b5b"/><stop offset="0.3785" stop-color="#ff5959"/><stop offset="0.3887" stop-color="#ff5757"/><stop offset="0.3990" stop-color="#ff5555"/><stop offset="0.4092" stop-color="#ff5353"/><stop offset="0.4194" stop-color="#ff5151"/><stop offset="0.4297" stop-color="#ff4e4e"/><stop offset="0.4399" stop-color="#ff4c4c"/><stop offset="0.4501" stop-color="#ff4a4a"/><stop offset="0.4604" stop-color="#ff4848"/><stop offset="0.4706" stop-color="#ff4646"/><stop offset="0.4808" stop-color="#ff4343"/><stop offset="0.4910" stop-color="#ff4141"/><stop offset="0.5013" stop-color="#ff3f3f"/><stop offset="0.5115" stop-color="#ff3d3d"/><stop offset="0.5217" stop-color="#ff3b3b"/><stop offset="0.5320" stop-color="#ff3838"/><stop offset="0.5422" stop-color="#ff3636"/><stop offset="0.5524" stop-color="#ff3434"/><stop offset="0.5627" stop-color="#ff3232"/><stop offset="0.5729" stop-color="#ff3131"/><stop offset="0.5831" stop-color="#ff2f2f"/><stop offset="0.5934" stop-color="#ff2d2d"/><stop offset="0.6036" stop-color="#ff2b2b"/><stop offset="0.6138" stop-color="#ff2929"/><stop offset="0.6240" stop-color="#ff2727"/><stop offset="0.6343" stop-color="#ff2525"/><stop offset="0.6445" stop-color="#ff2323"/><stop offset="0.6547" stop-color="#ff2222"/><stop offset="0.6650" stop-color="#ff2020"/><stop offset="0.6752" stop-color="#ff1f1f"/><stop offset="0.6854" stop-color="#ff1d1d"/><stop offset="0.6957" stop-color="#ff1b1b"/><stop offset="0.7059" stop-color="#ff1a1a"/><stop offset="0.7161" stop-color="#ff1818"/><stop offset="0.7263" stop-color="#ff1717"/><stop offset="0.7366" stop-color="#ff1515"/><stop offset="0.7468" stop-color="#ff1414"/><stop offset="0.7570" stop-color="#ff1212"/><stop offset="0.7673" stop-color="#ff1111"/><stop offset="0.7775" stop-color="#ff1010"/><stop offset="0.7877" stop-color="#ff0e0e"/><stop offset="0.7980" stop-color="#ff0d0d"/><stop offset="0.8082" stop-color="#ff0c0c"/><stop offset="0.8184" stop-color="#ff0b0b"/><stop offset="0.8286" stop-color="#ff0909"/><stop offset="0.8389" stop-color="#ff0808"/><stop offset="0.8491" stop-color="#ff0707"/><stop offset="0.8593" stop-color="#ff0606"/><stop offset="0.8696" stop-color="#ff0404"/><stop offset="0.8798" stop-color="#ff0303"/><stop offset="0.8900" stop-color="#ff0202"/><stop offset="0.9003" stop-color="#ff0101"/><stop offset="0.9105" stop-color="#ff0000"/><stop offset="0.9207" stop-color="#ff0000"/><stop offset="0.9309" stop-color="#ff0000"/><stop offset="0.9412" stop-color="#ff0000"/><stop offset="0.9514" stop-color="#ff0000"/><stop offset="0.9616" stop-color="#ff0000"/><stop offset="0.9719" stop-color="#ff0000"/><stop offset="0.9821" stop-color="#ff0000"/><stop offset="0.9923" stop-color="#ff0000"/></linearGradient><linearGradient id="s9" x1="0" y1="0" x2="0" y2="1"><stop offset="0" stop-color="#ff7070"/><stop offset="0.35" stop-color="#ff3a3a"/><stop offset="0.7" stop-color="#ff0808"/><stop offset="1" stop-color="#ff0000"/></linearGradient></defs>
<g id="curves"><path d="M218.8 551.0 L218.8 451.4 L219.1 453.4 L219.1 454.1 L219.2 454.8 L219.2 455.5 L219.3 456.2 L219.4 456.9 L219.4 457.6 L219.5 458.3 L219.5 459.0 L219.6 459.7 L219.6 460.4 L219.7 461.1 L219.7 461.8 L219.8 462.5 L219.9 463.2 L219.9 463.9 L220.0 464.6 L220.1 465.3 L220.1 466.0 L220.2 466.7 L220.2 467.4 L220.3 468.1 L220.4 468.8 L220.5 469.5 L220.5 470.2 L220.6 470.9 L220.7 471.6 L220.7 472.3 L220.8 473.0 L220.9 473.7 L221.0 474.4 L221.1 475.1 L221.1 475.8 L221.2 476.5 L221.3 477.2 L221.4 477.9 L221.5 478.6 L221.6 479.3 L221.7 480.0 L221.7 480.7 L221.8 481.4 L221.9 482.1 L222.0 482.8 L222.1 483.5 L222.2 484.2 L222.3 484.9 L222.4 485.6 L222.5 486.3 L222.6 487.0 L222.7 487.7 L222.8 488.4 L222.9 489.1 L223.0 489.8 L223.1 490.5 L223.2 491.1 L223.3 491.8 L223.4 492.5 L223.5 493.2 L223.6 493.9 L223.7 494.6 L223.8 495.3 L223.8 496.0 L223.9 496.7 L224.0 497.4 L224.1 498.1 L224.2 498.8 L224.3 499.5 L224.4 500.2 L224.5 500.9 L224.6 501.6 L224.7 502.3 L224.8 503.0 L224.9 503.7 L225.0 504.4 L225.1 505.1 L225.2 505.8 L225.2 506.5 L225.3 507.2 L225.4 507.9 L225.5 508.6 L225.6 509.3 L225.7 510.0 L225.8 510.7 L225.9 511.4 L226.0 512.1 L226.1 512.8 L226.2 513.5 L226.3 514.2 L226.4 514.9 L226.5 515.6 L226.6 516.3 L226.7 516.9 L226.8 517.6 L226.9 518.3 L227.0 519.0 L227.1 519.7 L227.3 520.4 L227.4 521.1 L227.5 521.8 L227.6 522.5 L227.8 523.2 L227.9 523.9 L228.0 524.6 L228.2 525.3 L228.3 526.0 L228.5 526.6 L228.6 527.3 L228.8 528.0 L228.9 528.7 L229.1 529.4 L229.3 530.1 L229.5 530.8 L229.7 531.5 L229.8 532.2 L230.1 532.8 L230.3 533.5 L230.5 534.1 L230.7 534.8 L230.9 535.4 L231.2 536.1 L231.5 536.7 L231.8 537.4 L232.1 538.1 L232.4 538.7 L232.8 539.4 L233.1 540.1 L233.5 540.7 L233.9 541.3 L234.3 541.9 L234.7 542.5 L235.2 543.0 L235.6 543.5 L236.1 544.0 L236.6 544.4 L237.1 544.7 L237.6 545.1 L238.2 545.5 L238.8 545.9 L239.4 546.3 L240.0 546.6 L240.7 546.9 L241.4 547.3 L242.1 547.5 L242.8 547.8 L243.5 548.0 L244.2 548.2 L244.9 548.3 L245.6 548.4 L246.3 548.4 L246.9 548.4 L247.6 548.5 L248.3 548.5 L249.0 548.5 L249.7 548.5 L250.4 548.5 L251.1 548.5 L251.8 548.5 L252.5 548.6 L253.3 548.6 L254.0 548.6 L254.7 548.6 L255.4 548.6 L256.1 548.6 L256.8 548.6 L257.5 548.6 L258.2 548.6 L258.9 548.6 L259.6 548.6 L260.3 548.6 L261.0 548.5 L261.7 548.5 L262.4 548.5 L263.1 548.4 L263.8 548.4 L264.5 548.3 L265.2 548.3 L266.0 548.2 L266.7 548.2 L267.4 548.1 L268.1 548.0 L268.8 548.0 L269.5 547.9 L270.2 547.8 L270.9 547.8 L271.5 547.7 L272.2 547.6 L272.9 547.6 L273.6 547.5 L274.3 547.4 L275.0 547.3 L275.7 547.2 L276.4 547.1 L277.1 547.0 L277.8 546.9 L278.5 546.8 L279.2 546.7 L279.9 546.6 L280.6 546.4 L281.3 546.3 L282.0 546.2 L282.7 546.1 L283.4 545.9 L284.1 545.8 L284.7 545.7 L285.4 545.6 L286.1 545.4 L286.8 545.3 L287.5 545.1 L288.2 545.0 L288.9 544.9 L289.6 544.7 L290.3 544.6 L291.0 544.5 L291.7 544.3 L292.4 544.2 L293.0 544.0 L293.7 543.9 L294.4 543.8 L295.1 543.6 L295.8 543.5 L296.5 543.4 L297.2 543.2 L297.9 543.1 L298.6 543.0 L299.3 542.8 L299.9 542.7 L300.6 542.5 L301.3 542.4 L302.0 542.2 L302.7 542.1 L303.4 541.9 L304.1 541.8 L304.8 541.6 L305.4 541.5 L306.1 541.3 L306.8 541.2 L307.5 541.0 L308.2 540.9 L308.9 540.7 L309.6 540.5 L310.2 540.4 L310.9 540.2 L311.6 540.0 L312.3 539.9 L313.0 539.7 L313.7 539.5 L314.3 539.4 L315.0 539.2 L315.7 539.0 L316.4 538.8 L317.1 538.7 L317.7 538.5 L318.4 538.3 L319.1 538.1 L319.8 537.9 L320.5 537.7 L321.1 537.5 L321.8 537.3 L322.5 537.2 L323.2 537.0 L323.8 536.8 L324.5 536.6 L325.2 536.3 L325.9 536.1 L326.5 535.9 L327.2 535.7 L327.9 535.5 L328.5 535.3 L329.2 535.1 L329.9 534.9 L330.5 534.6 L331.2 534.4 L331.9 534.2 L332.5 534.0 L333.2 533.7 L333.8 533.5 L334.5 533.3 L335.2 533.0 L335.8 532.8 L336.5 532.5 L337.2 532.3 L337.8 532.0 L338.5 531.8 L339.1 531.6 L339.8 531.3 L340.5 531.0 L341.1 530.8 L341.8 530.5 L342.4 530.3 L343.1 530.0 L343.7 529.8 L344.4 529.5 L345.1 529.2 L345.7 529.0 L346.4 528.7 L347.0 528.4 L347.7 528.2 L348.3 527.9 L349.0 527.6 L349.6 527.4 L350.3 527.1 L350.9 526.8 L351.6 526.5 L352.2 526.2 L352.9 526.0 L353.5 525.7 L354.1 525.4 L354.8 525.1 L355.4 524.8 L356.1 524.5 L356.7 524.3 L357.3 524.0 L358.0 523.7 L358.6 523.4 L359.3 523.1 L359.9 522.8 L360.5 522.5 L361.2 522.2 L361.8 521.9 L362.4 521.6 L363.1 521.3 L363.7 521.0 L364.3 520.7 L365.0 520.4 L365.6 520.1 L366.2 519.8 L366.8 519.4 L367.5 519.1 L368.1 518.8 L368.7 518.5 L369.3 518.2 L369.9 517.8 L370.6 517.5 L371.2 517.2 L371.8 516.8 L372.4 516.5 L373.0 516.2 L373.7 515.8 L374.3 515.5 L374.9 515.1 L375.5 514.8 L376.1 514.4 L376.7 514.1 L377.3 513.8 L378.0 513.4 L378.6 513.1 L379.2 512.7 L379.8 512.4 L380.4 512.0 L381.0 511.7 L381.6 511.3 L382.2 510.9 L382.8 510.6 L383.5 510.2 L384.1 509.9 L384.7 509.5 L385.3 509.2 L385.9 508.8 L386.5 508.5 L387.1 508.1 L387.7 507.8 L388.3 507.4 L388.9 507.1 L389.6 506.7 L390.2 506.4 L390.8 506.0 L391.4 505.6 L392.0 505.3 L392.6 504.9 L393.2 504.6 L393.8 504.3 L394.4 503.9 L395.1 503.6 L395.7 503.2 L396.3 502.9 L396.9 502.5 L397.5 502.2 L398.1 501.8 L398.7 501.5 L399.3 501.1 L399.9 500.8 L400.5 500.4 L401.2 500.1 L401.8 499.7 L402.4 499.4 L403.0 499.0 L403.6 498.7 L404.2 498.3 L404.8 497.9 L405.4 497.6 L406.0 497.2 L406.6 496.9 L407.2 496.5 L407.8 496.2 L408.4 495.8 L409.1 495.5 L409.7 495.1 L410.3 494.7 L410.9 494.4 L411.5 494.0 L412.1 493.7 L412.7 493.3 L413.3 493.0 L413.9 492.6 L413.9 290.9 L218.8 551.0Z" fill="url(#g0)" shape-rendering="crispEdges"/>
<g fill="none" stroke="#000" stroke-width="2.7"><path d="M192.8 585.5L218.8 551.0" stroke="#000" stroke-width="9.2" stroke-linecap="round" fill="none"/><path d="M218.8 551.0L218.8 455.9" stroke="#000" stroke-width="9" stroke-linecap="round" fill="none"/><path d="M218.3 453.5 L218.3 454.2 L218.3 454.9 L218.4 455.6 L218.5 456.3 L218.5 457.0 L218.6 457.7 L218.6 458.4 L218.7 459.1 L218.7 459.8 L218.8 460.5 L218.8 461.2 L218.9 461.9 L218.9 462.6 L219.0 463.3 L219.1 464.0 L219.1 464.7 L219.2 465.4 L219.2 466.1 L219.3 466.8 L219.4 467.5 L219.4 468.2 L219.5 468.9 L219.6 469.6 L219.6 470.3 L219.7 471.0 L219.8 471.7 L219.8 472.4 L219.9 473.1 L220.0 473.8 L220.0 474.5 L220.1 475.2 L220.2 475.9 L220.3 476.6 L220.3 477.3 L220.4 478.0 L220.5 478.7 L220.6 479.4 L220.7 480.1 L220.7 480.8 L220.8 481.5 L220.9 482.2 L221.0 482.9 L221.1 483.6 L221.2 484.3 L221.3 485.0 L221.4 485.7 L221.5 486.4 L221.6 487.1 L221.7 487.8 L221.7 488.5 L221.8 489.2 L221.9 489.9 L222.0 490.6 L222.1 491.3 L222.2 492.0 L222.3 492.7 L222.4 493.4 L222.5 494.1 L222.6 494.8 L222.7 495.5 L222.8 496.2 L222.9 496.9 L223.0 497.6 L223.1 498.3 L223.2 499.0 L223.3 499.6 L223.4 500.3 L223.5 501.0 L223.6 501.7 L223.7 502.4 L223.8 503.1 L223.9 503.8 L224.0 504.5 L224.1 505.2 L224.2 505.9 L224.2 506.6 L224.3 507.3 L224.4 508.0 L224.5 508.7 L224.6 509.4 L224.7 510.1 L224.8 510.8 L224.9 511.5 L224.9 512.2 L225.0 512.9 L225.1 513.6 L225.2 514.3 L225.3 515.0 L225.4 515.7 L225.5 516.4 L225.6 517.1 L225.7 517.8 L225.8 518.5 L225.9 519.2 L226.0 519.9 L226.1 520.6 L226.2 521.3 L226.3 522.0 L226.4 522.7 L226.5 523.4 L226.6 524.1 L226.8 524.8 L226.9 525.5 L227.0 526.2 L227.1 526.9 L227.3 527.7 L227.4 528.4 L227.5 529.1 L227.7 529.8 L227.8 530.5 L227.9 531.2 L228.1 531.9 L228.2 532.6 L228.4 533.3 L228.6 534.0 L228.7 534.7 L228.9 535.4 L229.1 536.1 L229.3 536.8 L229.5 537.6 L229.8 538.3 L230.0 539.1 L230.3 539.8 L230.6 540.6 L230.9 541.3 L231.2 542.1 L231.6 542.9 L232.0 543.6 L232.4 544.3 L232.8 545.0 L233.3 545.7 L233.8 546.4 L234.4 547.0 L235.0 547.5 L235.5 548.1 L236.1 548.6 L236.8 549.1 L237.5 549.6 L238.2 550.1 L239.0 550.6 L239.8 551.0 L240.6 551.4 L241.5 551.8 L242.4 552.1 L243.3 552.3 L244.3 552.6 L245.2 552.7 L246.1 552.8 L246.8 552.8 L247.5 552.8 L248.2 552.9 L248.9 552.9 L249.6 552.9 L250.3 553.0 L251.0 553.0 L251.8 553.0 L252.5 553.0 L253.2 553.0 L253.9 553.0 L254.6 553.0 L255.4 553.0 L256.1 553.0 L256.8 553.0 L257.5 553.0 L258.2 553.0 L259.0 553.0 L259.7 553.0 L260.5 553.0 L261.2 553.0 L262.0 552.9 L262.7 552.9 L263.4 552.9 L264.2 552.8 L264.9 552.7 L265.6 552.7 L266.3 552.6 L267.0 552.6 L267.7 552.5 L268.4 552.4 L269.2 552.4 L269.8 552.3 L270.5 552.3 L271.3 552.2 L272.0 552.1 L272.7 552.0 L273.4 552.0 L274.2 551.9 L274.9 551.8 L275.6 551.7 L276.3 551.6 L277.1 551.5 L277.8 551.4 L278.5 551.3 L279.2 551.1 L279.9 551.0 L280.6 550.9 L281.3 550.8 L282.0 550.7 L282.8 550.5 L283.5 550.4 L284.2 550.3 L284.9 550.1 L285.6 550.0 L286.3 549.9 L287.0 549.7 L287.7 549.6 L288.4 549.4 L289.1 549.3 L289.8 549.2 L290.5 549.0 L291.1 548.9 L291.8 548.7 L292.5 548.6 L293.2 548.5 L293.9 548.3 L294.6 548.2 L295.3 548.1 L295.9 547.9 L296.6 547.8 L297.3 547.7 L298.0 547.5 L298.7 547.4 L299.4 547.2 L300.1 547.1 L300.8 547.0 L301.5 546.8 L302.2 546.7 L302.9 546.5 L303.6 546.4 L304.3 546.2 L305.0 546.1 L305.7 545.9 L306.4 545.7 L307.1 545.6 L307.8 545.4 L308.5 545.3 L309.2 545.1 L309.9 544.9 L310.6 544.8 L311.3 544.6 L311.9 544.4 L312.6 544.3 L313.3 544.1 L314.0 543.9 L314.7 543.7 L315.4 543.6 L316.1 543.4 L316.8 543.2 L317.5 543.0 L318.2 542.8 L318.9 542.6 L319.6 542.5 L320.2 542.3 L320.9 542.1 L321.6 541.9 L322.3 541.7 L323.0 541.5 L323.7 541.3 L324.4 541.1 L325.1 540.9 L325.8 540.6 L326.4 540.4 L327.1 540.2 L327.8 540.0 L328.5 539.8 L329.2 539.6 L329.8 539.3 L330.5 539.1 L331.2 538.9 L331.9 538.7 L332.6 538.4 L333.2 538.2 L333.9 538.0 L334.6 537.7 L335.3 537.5 L335.9 537.2 L336.6 537.0 L337.3 536.7 L337.9 536.5 L338.6 536.2 L339.3 536.0 L340.0 535.7 L340.6 535.5 L341.3 535.2 L342.0 535.0 L342.6 534.7 L343.3 534.4 L344.0 534.2 L344.6 533.9 L345.3 533.6 L345.9 533.4 L346.6 533.1 L347.3 532.8 L347.9 532.6 L348.6 532.3 L349.3 532.0 L349.9 531.7 L350.6 531.4 L351.2 531.2 L351.9 530.9 L352.5 530.6 L353.2 530.3 L353.8 530.0 L354.5 529.7 L355.1 529.5 L355.8 529.2 L356.4 528.9 L357.1 528.6 L357.7 528.3 L358.4 528.0 L359.0 527.7 L359.7 527.4 L360.3 527.1 L361.0 526.8 L361.6 526.5 L362.2 526.2 L362.9 525.9 L363.5 525.6 L364.2 525.3 L364.8 525.0 L365.5 524.7 L366.1 524.3 L366.8 524.0 L367.4 523.7 L368.0 523.4 L368.7 523.0 L369.3 522.7 L369.9 522.4 L370.6 522.0 L371.2 521.7 L371.8 521.4 L372.4 521.0 L373.1 520.7 L373.7 520.3 L374.3 520.0 L374.9 519.6 L375.6 519.3 L376.2 518.9 L376.8 518.6 L377.4 518.2 L378.1 517.9 L378.7 517.5 L379.3 517.2 L379.9 516.8 L380.5 516.5 L381.1 516.1 L381.7 515.8 L382.4 515.4 L383.0 515.1 L383.6 514.7 L384.2 514.3 L384.8 514.0 L385.4 513.6 L386.0 513.3 L386.6 512.9 L387.3 512.6 L387.9 512.2 L388.5 511.9 L389.1 511.5 L389.7 511.2 L390.3 510.8 L390.9 510.5 L391.5 510.1 L392.1 509.7 L392.7 509.4 L393.3 509.1 L393.9 508.7 L394.6 508.4 L395.2 508.0 L395.8 507.7 L396.4 507.3 L397.0 507.0 L397.6 506.6 L398.2 506.3 L398.8 505.9 L399.4 505.6 L400.1 505.2 L400.7 504.9 L401.3 504.5 L401.9 504.2 L402.5 503.8 L403.1 503.5 L403.7 503.1 L404.3 502.7 L404.9 502.4 L405.6 502.0 L406.2 501.7 L406.8 501.3 L407.4 501.0 L408.0 500.6 L408.6 500.3 L409.2 499.9 L409.8 499.5 L410.4 499.2 L411.0 498.8 L411.6 498.5 L412.2 498.1 L412.9 497.8 L413.5 497.4 L414.1 497.0 L414.7 496.7 L415.3 496.3 L415.9 496.0 L411.9 489.2 L411.3 489.6 L410.7 490.0 L410.1 490.3 L409.5 490.7 L408.9 491.0 L408.3 491.4 L407.7 491.7 L407.1 492.1 L406.5 492.4 L405.9 492.8 L405.3 493.2 L404.7 493.5 L404.0 493.9 L403.4 494.2 L402.8 494.6 L402.2 494.9 L401.6 495.3 L401.0 495.6 L400.4 496.0 L399.8 496.3 L399.2 496.7 L398.6 497.0 L398.0 497.4 L397.4 497.7 L396.8 498.1 L396.2 498.4 L395.5 498.8 L394.9 499.1 L394.3 499.5 L393.7 499.8 L393.1 500.1 L392.5 500.5 L391.9 500.8 L391.3 501.2 L390.7 501.5 L390.0 501.9 L389.4 502.2 L388.8 502.6 L388.2 503.0 L387.6 503.3 L387.0 503.7 L386.4 504.0 L385.8 504.4 L385.1 504.7 L384.5 505.1 L383.9 505.4 L383.3 505.8 L382.7 506.1 L382.1 506.5 L381.5 506.9 L380.9 507.2 L380.3 507.6 L379.7 507.9 L379.1 508.3 L378.4 508.6 L377.8 508.9 L377.2 509.3 L376.6 509.6 L376.0 510.0 L375.4 510.3 L374.8 510.7 L374.2 511.0 L373.6 511.3 L373.0 511.7 L372.4 512.0 L371.7 512.3 L371.1 512.7 L370.5 513.0 L369.9 513.3 L369.3 513.7 L368.7 514.0 L368.1 514.3 L367.5 514.6 L366.9 514.9 L366.2 515.2 L365.6 515.6 L365.0 515.9 L364.4 516.2 L363.8 516.5 L363.2 516.8 L362.5 517.1 L361.9 517.4 L361.3 517.7 L360.7 517.9 L360.1 518.2 L359.5 518.5 L358.8 518.8 L358.2 519.1 L357.6 519.4 L356.9 519.7 L356.3 519.9 L355.7 520.2 L355.0 520.5 L354.4 520.8 L353.8 521.1 L353.1 521.4 L352.5 521.6 L351.8 521.9 L351.2 522.2 L350.6 522.5 L349.9 522.7 L349.3 523.0 L348.6 523.3 L348.0 523.5 L347.4 523.8 L346.7 524.1 L346.1 524.3 L345.4 524.6 L344.8 524.9 L344.1 525.1 L343.5 525.4 L342.8 525.6 L342.2 525.9 L341.5 526.1 L340.9 526.4 L340.3 526.6 L339.6 526.9 L339.0 527.1 L338.3 527.4 L337.7 527.6 L337.0 527.9 L336.4 528.1 L335.7 528.3 L335.1 528.6 L334.4 528.8 L333.7 529.0 L333.1 529.3 L332.4 529.5 L331.8 529.7 L331.1 530.0 L330.5 530.2 L329.8 530.4 L329.2 530.6 L328.5 530.8 L327.9 531.0 L327.2 531.2 L326.6 531.5 L325.9 531.7 L325.3 531.9 L324.6 532.1 L323.9 532.3 L323.3 532.5 L322.6 532.6 L322.0 532.8 L321.3 533.0 L320.6 533.2 L320.0 533.4 L319.3 533.6 L318.6 533.8 L318.0 534.0 L317.3 534.1 L316.6 534.3 L316.0 534.5 L315.3 534.7 L314.6 534.8 L313.9 535.0 L313.3 535.2 L312.6 535.3 L311.9 535.5 L311.2 535.7 L310.6 535.8 L309.9 536.0 L309.2 536.2 L308.6 536.3 L307.9 536.5 L307.2 536.6 L306.5 536.8 L305.8 536.9 L305.2 537.1 L304.5 537.2 L303.8 537.4 L303.1 537.5 L302.5 537.7 L301.8 537.8 L301.1 538.0 L300.4 538.1 L299.7 538.3 L299.1 538.4 L298.4 538.5 L297.7 538.7 L297.0 538.8 L296.3 538.9 L295.7 539.1 L295.0 539.2 L294.3 539.3 L293.6 539.5 L292.9 539.6 L292.2 539.8 L291.5 539.9 L290.8 540.0 L290.1 540.2 L289.4 540.3 L288.7 540.4 L288.0 540.6 L287.4 540.7 L286.7 540.9 L286.0 541.0 L285.3 541.1 L284.6 541.3 L283.9 541.4 L283.2 541.5 L282.6 541.6 L281.9 541.8 L281.2 541.9 L280.5 542.0 L279.8 542.1 L279.2 542.2 L278.5 542.3 L277.8 542.4 L277.1 542.6 L276.5 542.7 L275.8 542.7 L275.1 542.8 L274.5 542.9 L273.8 543.0 L273.1 543.1 L272.4 543.2 L271.8 543.2 L271.1 543.3 L270.4 543.4 L269.8 543.4 L269.1 543.5 L268.4 543.6 L267.7 543.6 L267.0 543.7 L266.3 543.7 L265.6 543.8 L264.9 543.8 L264.2 543.9 L263.5 543.9 L262.9 544.0 L262.2 544.0 L261.5 544.1 L260.8 544.1 L260.2 544.1 L259.5 544.1 L258.9 544.1 L258.2 544.2 L257.5 544.2 L256.8 544.1 L256.1 544.1 L255.4 544.1 L254.7 544.1 L254.0 544.1 L253.3 544.1 L252.6 544.1 L251.9 544.1 L251.2 544.1 L250.5 544.1 L249.8 544.1 L249.1 544.1 L248.4 544.1 L247.7 544.1 L247.1 544.1 L246.4 544.1 L245.9 544.1 L245.5 544.1 L245.1 544.0 L244.6 543.9 L244.1 543.8 L243.6 543.7 L243.0 543.5 L242.4 543.3 L241.9 543.1 L241.3 542.9 L240.7 542.7 L240.2 542.4 L239.6 542.2 L239.1 541.9 L238.7 541.7 L238.3 541.5 L237.9 541.3 L237.5 541.0 L237.1 540.6 L236.7 540.2 L236.2 539.8 L235.8 539.3 L235.4 538.8 L234.9 538.2 L234.5 537.6 L234.1 537.1 L233.8 536.5 L233.4 535.9 L233.1 535.3 L232.8 534.7 L232.5 534.1 L232.2 533.5 L232.0 532.9 L231.7 532.3 L231.5 531.7 L231.2 531.0 L231.0 530.4 L230.8 529.7 L230.6 529.1 L230.4 528.4 L230.2 527.7 L230.0 527.0 L229.8 526.4 L229.6 525.7 L229.5 525.0 L229.3 524.3 L229.1 523.6 L229.0 522.9 L228.8 522.2 L228.7 521.6 L228.6 520.9 L228.4 520.2 L228.3 519.5 L228.2 518.8 L228.0 518.2 L227.9 517.5 L227.8 516.8 L227.7 516.1 L227.6 515.4 L227.4 514.7 L227.3 514.0 L227.2 513.3 L227.1 512.6 L227.0 511.9 L226.9 511.2 L226.8 510.5 L226.7 509.8 L226.6 509.1 L226.5 508.5 L226.4 507.8 L226.3 507.1 L226.3 506.4 L226.2 505.7 L226.1 505.0 L226.0 504.3 L225.9 503.6 L225.8 502.9 L225.7 502.2 L225.6 501.5 L225.5 500.8 L225.4 500.1 L225.4 499.4 L225.3 498.7 L225.2 498.0 L225.1 497.3 L225.0 496.6 L224.9 495.9 L224.8 495.2 L224.7 494.5 L224.6 493.8 L224.5 493.1 L224.4 492.4 L224.3 491.7 L224.2 491.0 L224.1 490.3 L224.0 489.6 L223.9 488.9 L223.8 488.2 L223.7 487.5 L223.6 486.8 L223.5 486.1 L223.4 485.4 L223.3 484.7 L223.2 484.0 L223.1 483.3 L223.0 482.7 L222.9 482.0 L222.8 481.3 L222.7 480.6 L222.6 479.9 L222.5 479.2 L222.5 478.5 L222.4 477.8 L222.3 477.1 L222.2 476.4 L222.1 475.7 L222.0 475.0 L221.9 474.3 L221.8 473.6 L221.7 472.9 L221.7 472.2 L221.6 471.5 L221.5 470.8 L221.4 470.1 L221.3 469.4 L221.3 468.7 L221.2 468.0 L221.1 467.3 L221.1 466.6 L221.0 465.9 L220.9 465.2 L220.8 464.5 L220.8 463.8 L220.7 463.1 L220.7 462.4 L220.6 461.7 L220.5 461.0 L220.5 460.3 L220.4 459.6 L220.4 458.9 L220.3 458.2 L220.3 457.5 L220.2 456.8 L220.1 456.1 L220.1 455.4 L220.0 454.7 L220.0 454.0 L219.9 453.3Z" fill="#000" stroke="#000" stroke-width="0.6" stroke-linejoin="round"/><circle cx="413.9" cy="492.6" r="3.9" fill="#000" stroke="none"/></g>
<path d="M302.8 551.0 L302.8 368.7 L303.1 370.7 L303.2 371.4 L303.3 372.1 L303.3 372.8 L303.4 373.5 L303.5 374.2 L303.6 374.9 L303.7 375.6 L303.8 376.3 L303.8 377.0 L303.9 377.7 L304.0 378.4 L304.1 379.1 L304.1 379.8 L304.2 380.5 L304.3 381.2 L304.4 381.9 L304.5 382.6 L304.5 383.3 L304.6 384.0 L304.7 384.7 L304.8 385.4 L304.8 386.1 L304.9 386.8 L305.0 387.5 L305.0 388.2 L305.1 388.9 L305.2 389.6 L305.3 390.3 L305.3 391.0 L305.4 391.7 L305.5 392.4 L305.5 393.1 L305.6 393.8 L305.7 394.5 L305.8 395.2 L305.8 395.9 L305.9 396.6 L306.0 397.3 L306.0 398.0 L306.1 398.7 L306.2 399.4 L306.2 400.1 L306.3 400.8 L306.4 401.5 L306.4 402.2 L306.5 402.9 L306.6 403.6 L306.6 404.3 L306.7 405.0 L306.7 405.7 L306.8 406.4 L306.9 407.1 L306.9 407.8 L307.0 408.5 L307.1 409.2 L307.1 409.9 L307.2 410.6 L307.2 411.3 L307.3 412.0 L307.3 412.7 L307.4 413.4 L307.4 414.1 L307.5 414.8 L307.5 415.5 L307.5 416.2 L307.6 416.9 L307.6 417.7 L307.6 418.4 L307.7 419.1 L307.7 419.8 L307.7 420.5 L307.8 421.3 L307.8 422.0 L307.8 422.7 L307.9 423.4 L307.9 424.1 L307.9 424.8 L308.0 425.5 L308.0 426.2 L308.1 426.9 L308.1 427.6 L308.2 428.3 L308.2 429.0 L308.3 429.7 L308.4 430.3 L308.5 431.0 L308.5 431.7 L308.6 432.3 L308.8 433.0 L309.0 433.6 L309.3 434.3 L309.7 435.0 L310.1 435.6 L310.5 436.2 L310.9 436.8 L311.4 437.3 L311.8 437.8 L312.3 438.3 L312.8 438.7 L313.3 439.1 L313.8 439.4 L314.4 439.8 L315.0 440.1 L315.7 440.5 L316.3 440.8 L317.0 441.1 L317.6 441.4 L318.3 441.7 L319.0 442.0 L319.7 442.2 L320.4 442.5 L321.1 442.8 L321.7 443.1 L322.4 443.4 L323.0 443.7 L323.7 444.0 L324.3 444.2 L324.9 444.5 L325.6 444.8 L326.2 445.1 L326.9 445.5 L327.5 445.8 L328.2 446.1 L328.8 446.3 L329.5 446.6 L330.1 446.9 L330.8 447.2 L331.4 447.5 L332.1 447.8 L332.7 448.0 L333.4 448.3 L334.0 448.6 L334.7 448.8 L335.3 449.0 L336.0 449.3 L336.7 449.5 L337.3 449.7 L338.0 449.9 L338.7 450.0 L339.4 450.2 L340.0 450.3 L340.7 450.5 L341.4 450.6 L342.1 450.8 L342.8 450.9 L343.4 451.1 L344.1 451.2 L344.8 451.4 L345.5 451.5 L346.2 451.6 L346.9 451.8 L347.6 451.9 L348.3 452.0 L349.0 452.1 L349.7 452.2 L350.4 452.3 L351.1 452.4 L351.8 452.5 L352.5 452.6 L353.2 452.6 L353.9 452.6 L354.6 452.7 L355.3 452.7 L356.0 452.7 L356.7 452.7 L357.4 452.7 L358.1 452.7 L358.8 452.7 L359.5 452.7 L360.3 452.7 L361.0 452.7 L361.7 452.7 L362.4 452.7 L363.1 452.7 L363.8 452.7 L364.5 452.7 L365.2 452.7 L365.9 452.7 L366.6 452.7 L367.3 452.7 L368.0 452.7 L368.7 452.7 L369.4 452.7 L370.1 452.7 L370.8 452.7 L371.5 452.7 L372.2 452.7 L372.9 452.7 L373.6 452.7 L374.3 452.6 L375.0 452.6 L375.7 452.5 L376.4 452.4 L377.1 452.3 L377.8 452.2 L378.5 452.0 L379.2 451.9 L379.9 451.7 L380.5 451.6 L381.2 451.4 L381.9 451.2 L382.6 451.1 L383.3 450.9 L384.0 450.7 L384.7 450.5 L385.4 450.3 L386.0 450.1 L386.7 450.0 L387.4 449.8 L388.1 449.6 L388.8 449.4 L389.4 449.2 L390.1 449.0 L390.8 448.8 L391.4 448.6 L392.1 448.4 L392.8 448.2 L393.4 448.0 L394.1 447.7 L394.8 447.5 L395.4 447.2 L396.1 447.0 L396.7 446.7 L397.4 446.5 L398.1 446.2 L398.7 446.0 L399.4 445.7 L400.0 445.5 L400.7 445.2 L401.4 445.0 L402.0 444.7 L402.7 444.5 L403.3 444.2 L404.0 444.0 L404.7 443.8 L405.3 443.6 L406.0 443.4 L406.7 443.2 L407.4 443.0 L408.1 442.8 L408.7 442.6 L409.4 442.5 L410.1 442.3 L410.8 442.1 L411.5 441.9 L412.2 441.8 L412.9 441.6 L413.5 441.4 L414.2 441.3 L414.9 441.1 L415.6 440.9 L416.3 440.7 L416.9 440.5 L417.6 440.3 L418.3 440.1 L418.9 439.9 L419.6 439.7 L420.2 439.4 L420.9 439.2 L421.5 438.9 L422.2 438.7 L422.8 438.4 L423.4 438.1 L424.1 437.8 L424.7 437.5 L425.3 437.2 L425.9 436.8 L426.6 436.5 L427.2 436.2 L427.8 435.8 L428.4 435.5 L429.0 435.1 L429.6 434.8 L430.3 434.4 L430.9 434.1 L431.5 433.7 L432.1 433.3 L432.7 433.0 L433.3 432.6 L433.9 432.3 L434.5 431.9 L435.2 431.6 L435.8 431.2 L436.4 430.9 L437.0 430.5 L437.6 430.2 L438.3 429.9 L438.9 429.5 L439.5 429.2 L440.1 428.9 L440.8 428.6 L441.4 428.3 L442.0 427.9 L442.6 427.6 L443.3 427.3 L443.9 427.0 L444.5 426.7 L445.2 426.4 L445.8 426.1 L446.4 425.7 L447.1 425.4 L447.7 425.1 L448.3 424.8 L448.9 424.5 L449.6 424.2 L450.2 423.8 L450.8 423.5 L451.4 423.2 L452.1 422.9 L452.7 422.5 L453.3 422.2 L453.9 421.8 L454.5 421.5 L455.1 421.2 L455.7 420.8 L456.3 420.5 L456.9 420.1 L457.6 419.7 L458.2 419.4 L458.8 419.0 L459.4 418.7 L460.0 418.3 L460.6 417.9 L461.2 417.6 L461.8 417.2 L462.3 416.8 L462.9 416.4 L463.5 416.1 L464.1 415.7 L464.7 415.3 L465.3 414.9 L465.9 414.6 L466.5 414.2 L467.1 413.8 L467.7 413.4 L468.3 413.0 L468.9 412.6 L469.5 412.3 L470.0 411.9 L470.6 411.5 L471.2 411.1 L471.8 410.7 L472.4 410.3 L473.0 409.9 L473.6 409.6 L474.2 409.2 L474.8 408.8 L475.4 408.4 L475.9 408.0 L476.5 407.7 L477.1 407.3 L477.7 406.9 L478.3 406.5 L478.9 406.1 L479.5 405.8 L480.1 405.4 L480.7 405.0 L481.3 404.6 L481.9 404.2 L482.4 403.8 L483.0 403.5 L483.6 403.1 L484.2 402.7 L484.8 402.3 L485.4 401.9 L486.0 401.5 L486.6 401.2 L487.2 400.8 L487.7 400.4 L488.3 400.0 L488.9 399.6 L489.5 399.2 L490.1 398.8 L490.7 398.5 L491.3 398.1 L491.9 397.7 L492.4 397.3 L493.0 396.9 L493.6 396.5 L494.2 396.1 L494.8 395.7 L495.4 395.3 L496.0 395.0 L496.5 394.6 L497.1 394.2 L497.7 393.8 L498.3 393.4 L498.3 290.3 L302.8 551.0Z" fill="url(#g1)" shape-rendering="crispEdges"/>
<g fill="none" stroke="#000" stroke-width="2.7"><path d="M276.8 585.5L302.8 551.0" stroke="#000" stroke-width="9.2" stroke-linecap="round" fill="none"/><path d="M302.8 554.0L302.8 522.0" stroke="#000" stroke-width="9" stroke-linecap="butt" fill="none"/><path d="M302.8 395.7L302.8 373.2" stroke="#000" stroke-width="9" stroke-linecap="round" fill="none"/><circle cx="302.8" cy="523.0" r="3.0"/><circle cx="302.8" cy="517.7" r="3.0"/><circle cx="302.8" cy="512.4" r="3.0"/><circle cx="302.8" cy="507.1" r="3.0"/><circle cx="302.8" cy="501.8" r="3.0"/><circle cx="302.8" cy="496.5" r="3.0"/><circle cx="302.8" cy="491.2" r="3.0"/><circle cx="302.8" cy="485.9" r="3.0"/><circle cx="302.8" cy="480.6" r="3.0"/><circle cx="302.8" cy="475.3" r="3.0"/><circle cx="302.8" cy="470.0" r="3.0"/><circle cx="302.8" cy="464.7" r="3.0"/><circle cx="302.8" cy="459.4" r="3.0"/><circle cx="302.8" cy="454.1" r="3.0"/><circle cx="302.8" cy="448.8" r="3.0"/><circle cx="302.8" cy="443.5" r="3.0"/><circle cx="302.8" cy="438.2" r="3.0"/><circle cx="302.8" cy="432.9" r="3.0"/><circle cx="302.8" cy="427.6" r="3.0"/><circle cx="302.8" cy="422.3" r="3.0"/><circle cx="302.8" cy="417.0" r="3.0"/><circle cx="302.8" cy="411.7" r="3.0"/><circle cx="302.8" cy="406.7" r="3.0"/><circle cx="302.8" cy="402.1" r="3.0"/><circle cx="302.8" cy="397.8" r="3.0"/><path d="M301.8 370.9 L301.8 371.6 L301.9 372.3 L302.0 373.0 L302.1 373.7 L302.2 374.3 L302.2 375.0 L302.3 375.7 L302.4 376.4 L302.5 377.1 L302.6 377.8 L302.6 378.5 L302.7 379.2 L302.8 379.9 L302.9 380.6 L303.0 381.3 L303.0 382.0 L303.1 382.7 L303.2 383.4 L303.3 384.1 L303.3 384.8 L303.4 385.5 L303.5 386.2 L303.6 386.9 L303.6 387.6 L303.7 388.3 L303.8 389.0 L303.9 389.7 L303.9 390.4 L304.0 391.1 L304.1 391.8 L304.1 392.5 L304.2 393.2 L304.3 393.9 L304.3 394.6 L304.4 395.3 L304.5 396.0 L304.5 396.7 L304.6 397.4 L304.7 398.1 L304.8 398.8 L304.8 399.5 L304.9 400.2 L305.0 400.9 L305.0 401.6 L305.1 402.3 L305.2 403.0 L305.2 403.7 L305.3 404.4 L305.3 405.1 L305.4 405.8 L305.5 406.5 L305.5 407.2 L305.6 407.9 L305.6 408.6 L305.7 409.3 L305.8 410.0 L305.8 410.7 L305.9 411.4 L305.9 412.1 L306.0 412.8 L306.0 413.5 L306.1 414.2 L306.1 414.9 L306.2 415.6 L306.2 416.3 L306.2 417.0 L306.3 417.7 L306.3 418.4 L306.3 419.2 L306.4 419.9 L306.4 420.6 L306.4 421.3 L306.4 422.0 L306.5 422.8 L306.5 423.5 L306.5 424.2 L306.6 424.9 L306.6 425.6 L306.7 426.3 L306.7 427.0 L306.7 427.7 L306.7 428.4 L306.7 429.1 L306.7 429.8 L306.6 430.5 L306.6 431.2 L306.6 431.9 L306.6 432.7 L306.7 433.6 L306.9 434.5 L307.2 435.4 L307.5 436.2 L307.8 437.1 L308.2 437.9 L308.6 438.7 L309.0 439.4 L309.5 440.1 L310.0 440.8 L310.6 441.4 L311.2 442.0 L311.8 442.6 L312.5 443.1 L313.2 443.5 L313.9 444.0 L314.6 444.4 L315.3 444.7 L316.0 445.1 L316.7 445.4 L317.4 445.8 L318.1 446.1 L318.8 446.3 L319.5 446.6 L320.1 446.9 L320.7 447.2 L321.3 447.4 L321.9 447.7 L322.6 448.0 L323.2 448.3 L323.8 448.6 L324.5 448.9 L325.1 449.2 L325.8 449.5 L326.4 449.8 L327.1 450.1 L327.7 450.4 L328.4 450.7 L329.1 451.0 L329.8 451.4 L330.4 451.7 L331.1 451.9 L331.8 452.2 L332.5 452.5 L333.2 452.8 L334.0 453.1 L334.7 453.3 L335.4 453.6 L336.1 453.8 L336.9 454.0 L337.6 454.2 L338.4 454.4 L339.1 454.6 L339.8 454.7 L340.4 454.9 L341.1 455.1 L341.8 455.2 L342.5 455.4 L343.2 455.5 L344.0 455.7 L344.7 455.8 L345.4 456.0 L346.1 456.1 L346.9 456.2 L347.6 456.4 L348.4 456.5 L349.1 456.6 L349.9 456.7 L350.6 456.8 L351.4 456.9 L352.2 457.0 L352.9 457.0 L353.7 457.1 L354.5 457.1 L355.3 457.1 L356.0 457.1 L356.7 457.1 L357.4 457.1 L358.1 457.1 L358.8 457.1 L359.5 457.1 L360.3 457.1 L361.0 457.1 L361.7 457.1 L362.4 457.1 L363.1 457.1 L363.8 457.1 L364.5 457.1 L365.2 457.1 L365.9 457.1 L366.6 457.1 L367.3 457.1 L368.0 457.1 L368.7 457.1 L369.4 457.1 L370.1 457.1 L370.8 457.1 L371.5 457.1 L372.2 457.1 L373.0 457.1 L373.8 457.1 L374.6 457.0 L375.4 457.0 L376.2 456.9 L377.0 456.8 L377.8 456.6 L378.6 456.5 L379.3 456.3 L380.1 456.2 L380.8 456.0 L381.5 455.8 L382.3 455.7 L383.0 455.5 L383.7 455.3 L384.4 455.1 L385.1 454.9 L385.8 454.7 L386.5 454.5 L387.2 454.3 L387.9 454.1 L388.5 453.9 L389.2 453.8 L389.9 453.6 L390.6 453.4 L391.3 453.2 L392.0 452.9 L392.7 452.7 L393.5 452.5 L394.2 452.2 L394.9 452.0 L395.6 451.7 L396.2 451.5 L396.9 451.2 L397.6 450.9 L398.3 450.7 L398.9 450.4 L399.6 450.2 L400.2 449.9 L400.9 449.7 L401.6 449.4 L402.2 449.2 L402.8 448.9 L403.5 448.7 L404.1 448.5 L404.7 448.3 L405.4 448.1 L406.0 447.9 L406.6 447.7 L407.2 447.5 L407.9 447.3 L408.5 447.2 L409.2 447.0 L409.8 446.8 L410.5 446.6 L411.2 446.5 L411.8 446.3 L412.5 446.1 L413.2 446.0 L413.9 445.8 L414.6 445.6 L415.3 445.4 L416.0 445.3 L416.7 445.1 L417.4 444.8 L418.1 444.6 L418.9 444.4 L419.6 444.2 L420.3 443.9 L421.0 443.7 L421.7 443.4 L422.4 443.1 L423.1 442.8 L423.8 442.5 L424.5 442.2 L425.2 441.8 L425.9 441.5 L426.5 441.2 L427.2 440.8 L427.8 440.4 L428.5 440.1 L429.1 439.7 L429.8 439.3 L430.4 439.0 L431.0 438.6 L431.7 438.2 L432.3 437.9 L432.9 437.5 L433.5 437.1 L434.1 436.8 L434.7 436.4 L435.3 436.1 L435.9 435.7 L436.5 435.4 L437.1 435.0 L437.7 434.7 L438.3 434.4 L438.9 434.1 L439.5 433.8 L440.1 433.4 L440.7 433.1 L441.4 432.8 L442.0 432.5 L442.6 432.2 L443.2 431.9 L443.8 431.6 L444.5 431.3 L445.1 431.0 L445.7 430.7 L446.4 430.3 L447.0 430.0 L447.6 429.7 L448.2 429.4 L448.9 429.1 L449.5 428.7 L450.1 428.4 L450.8 428.1 L451.4 427.8 L452.1 427.4 L452.7 427.1 L453.3 426.8 L454.0 426.4 L454.6 426.1 L455.2 425.7 L455.8 425.4 L456.5 425.0 L457.1 424.6 L457.7 424.3 L458.3 423.9 L459.0 423.5 L459.6 423.2 L460.2 422.8 L460.8 422.4 L461.4 422.0 L462.0 421.7 L462.6 421.3 L463.2 420.9 L463.8 420.5 L464.4 420.1 L465.0 419.8 L465.6 419.4 L466.2 419.0 L466.8 418.6 L467.4 418.2 L468.0 417.8 L468.6 417.4 L469.2 417.1 L469.8 416.7 L470.4 416.3 L471.0 415.9 L471.6 415.5 L472.2 415.1 L472.8 414.7 L473.3 414.4 L473.9 414.0 L474.5 413.6 L475.1 413.2 L475.7 412.8 L476.3 412.4 L476.9 412.1 L477.5 411.7 L478.0 411.3 L478.6 410.9 L479.2 410.5 L479.8 410.2 L480.4 409.8 L481.0 409.4 L481.6 409.0 L482.2 408.6 L482.8 408.3 L483.4 407.9 L484.0 407.5 L484.6 407.1 L485.1 406.7 L485.7 406.3 L486.3 405.9 L486.9 405.6 L487.5 405.2 L488.1 404.8 L488.7 404.4 L489.3 404.0 L489.9 403.6 L490.5 403.2 L491.0 402.9 L491.6 402.5 L492.2 402.1 L492.8 401.7 L493.4 401.3 L494.0 400.9 L494.6 400.5 L495.2 400.1 L495.8 399.7 L496.3 399.4 L496.9 399.0 L497.5 398.6 L498.1 398.2 L498.7 397.8 L499.3 397.4 L499.9 397.0 L500.4 396.6 L496.2 390.2 L495.6 390.6 L495.0 391.0 L494.4 391.4 L493.8 391.7 L493.2 392.1 L492.6 392.5 L492.1 392.9 L491.5 393.3 L490.9 393.7 L490.3 394.1 L489.7 394.4 L489.1 394.8 L488.6 395.2 L488.0 395.6 L487.4 396.0 L486.8 396.4 L486.2 396.8 L485.6 397.1 L485.0 397.5 L484.4 397.9 L483.9 398.3 L483.3 398.7 L482.7 399.1 L482.1 399.4 L481.5 399.8 L480.9 400.2 L480.3 400.6 L479.7 401.0 L479.1 401.3 L478.6 401.7 L478.0 402.1 L477.4 402.5 L476.8 402.9 L476.2 403.2 L475.6 403.6 L475.0 404.0 L474.4 404.4 L473.8 404.8 L473.2 405.1 L472.7 405.5 L472.1 405.9 L471.5 406.3 L470.9 406.7 L470.3 407.1 L469.7 407.5 L469.1 407.8 L468.5 408.2 L467.9 408.6 L467.3 409.0 L466.7 409.4 L466.2 409.8 L465.6 410.1 L465.0 410.5 L464.4 410.9 L463.8 411.3 L463.2 411.6 L462.6 412.0 L462.0 412.4 L461.4 412.8 L460.9 413.1 L460.3 413.5 L459.7 413.9 L459.1 414.2 L458.5 414.6 L457.9 414.9 L457.3 415.3 L456.7 415.6 L456.1 416.0 L455.5 416.3 L454.9 416.7 L454.3 417.0 L453.7 417.4 L453.1 417.7 L452.6 418.0 L452.0 418.3 L451.4 418.7 L450.8 419.0 L450.2 419.3 L449.5 419.6 L448.9 419.9 L448.3 420.2 L447.7 420.6 L447.1 420.9 L446.5 421.2 L445.8 421.5 L445.2 421.8 L444.6 422.1 L444.0 422.4 L443.3 422.7 L442.7 423.0 L442.1 423.4 L441.5 423.7 L440.8 424.0 L440.2 424.3 L439.6 424.6 L438.9 425.0 L438.3 425.3 L437.7 425.6 L437.0 426.0 L436.4 426.3 L435.7 426.6 L435.1 427.0 L434.4 427.3 L433.8 427.7 L433.2 428.1 L432.5 428.4 L431.9 428.8 L431.3 429.2 L430.7 429.5 L430.1 429.9 L429.5 430.3 L428.8 430.6 L428.2 431.0 L427.6 431.3 L427.0 431.7 L426.4 432.0 L425.8 432.3 L425.2 432.6 L424.6 433.0 L424.0 433.3 L423.5 433.5 L422.9 433.8 L422.3 434.1 L421.7 434.4 L421.1 434.6 L420.5 434.8 L419.9 435.1 L419.4 435.3 L418.8 435.5 L418.2 435.7 L417.6 435.9 L417.0 436.1 L416.4 436.2 L415.7 436.4 L415.1 436.6 L414.5 436.7 L413.8 436.9 L413.2 437.1 L412.5 437.2 L411.8 437.4 L411.1 437.6 L410.4 437.7 L409.8 437.9 L409.1 438.1 L408.4 438.3 L407.7 438.5 L406.9 438.6 L406.2 438.8 L405.5 439.0 L404.8 439.3 L404.1 439.5 L403.4 439.7 L402.7 440.0 L401.9 440.2 L401.3 440.5 L400.6 440.7 L399.9 441.0 L399.2 441.2 L398.5 441.5 L397.9 441.8 L397.2 442.0 L396.5 442.3 L395.9 442.5 L395.2 442.8 L394.6 443.0 L393.9 443.3 L393.3 443.5 L392.7 443.7 L392.0 443.9 L391.4 444.2 L390.8 444.4 L390.1 444.6 L389.5 444.7 L388.9 444.9 L388.3 445.1 L387.7 445.2 L387.0 445.4 L386.3 445.6 L385.6 445.8 L384.9 446.0 L384.2 446.1 L383.5 446.3 L382.9 446.5 L382.2 446.7 L381.5 446.9 L380.9 447.0 L380.2 447.2 L379.5 447.3 L378.9 447.5 L378.3 447.6 L377.6 447.7 L377.0 447.8 L376.4 447.9 L375.8 448.0 L375.2 448.1 L374.6 448.2 L374.0 448.2 L373.4 448.2 L372.8 448.3 L372.2 448.3 L371.5 448.3 L370.8 448.3 L370.1 448.3 L369.4 448.3 L368.7 448.3 L368.0 448.3 L367.3 448.3 L366.6 448.3 L365.9 448.3 L365.2 448.3 L364.5 448.3 L363.8 448.3 L363.1 448.3 L362.4 448.3 L361.7 448.3 L361.0 448.3 L360.3 448.3 L359.5 448.3 L358.8 448.3 L358.1 448.3 L357.4 448.3 L356.7 448.3 L356.1 448.3 L355.4 448.3 L354.8 448.2 L354.2 448.2 L353.5 448.2 L352.9 448.1 L352.3 448.1 L351.6 448.0 L351.0 447.9 L350.3 447.9 L349.7 447.8 L349.0 447.7 L348.4 447.6 L347.7 447.4 L347.0 447.3 L346.4 447.2 L345.7 447.1 L345.0 446.9 L344.4 446.8 L343.7 446.7 L343.0 446.5 L342.3 446.4 L341.6 446.2 L341.0 446.1 L340.3 446.0 L339.7 445.8 L339.1 445.7 L338.5 445.5 L337.9 445.4 L337.3 445.2 L336.7 445.0 L336.1 444.8 L335.5 444.6 L334.9 444.4 L334.3 444.1 L333.7 443.9 L333.1 443.7 L332.4 443.4 L331.8 443.1 L331.2 442.9 L330.5 442.6 L329.9 442.3 L329.3 442.0 L328.6 441.7 L328.0 441.4 L327.3 441.1 L326.7 440.8 L326.1 440.5 L325.4 440.2 L324.7 439.9 L324.1 439.6 L323.3 439.3 L322.6 439.0 L321.9 438.7 L321.2 438.4 L320.6 438.2 L319.9 437.9 L319.2 437.7 L318.6 437.4 L318.0 437.2 L317.4 437.0 L316.9 436.8 L316.3 436.5 L315.8 436.3 L315.4 436.1 L315.0 435.9 L314.6 435.8 L314.2 435.6 L313.7 435.3 L313.3 435.0 L312.8 434.6 L312.3 434.2 L311.9 433.7 L311.5 433.2 L311.2 432.8 L310.9 432.3 L310.6 431.9 L310.5 431.4 L310.3 430.8 L310.1 430.1 L310.0 429.5 L309.8 428.8 L309.7 428.2 L309.6 427.5 L309.5 426.8 L309.4 426.2 L309.3 425.5 L309.3 424.8 L309.2 424.1 L309.2 423.4 L309.2 422.6 L309.1 421.9 L309.1 421.2 L309.1 420.5 L309.0 419.8 L309.0 419.1 L309.0 418.3 L309.0 417.6 L308.9 416.9 L308.9 416.2 L308.9 415.4 L308.8 414.7 L308.8 414.0 L308.7 413.3 L308.7 412.6 L308.6 411.9 L308.6 411.2 L308.5 410.5 L308.5 409.8 L308.4 409.1 L308.3 408.4 L308.3 407.7 L308.2 407.0 L308.2 406.3 L308.1 405.5 L308.0 404.8 L308.0 404.1 L307.9 403.4 L307.8 402.7 L307.8 402.0 L307.7 401.3 L307.6 400.6 L307.6 399.9 L307.5 399.2 L307.4 398.5 L307.4 397.8 L307.3 397.1 L307.2 396.4 L307.2 395.7 L307.1 395.0 L307.0 394.3 L307.0 393.6 L306.9 392.9 L306.8 392.2 L306.8 391.5 L306.7 390.8 L306.6 390.1 L306.5 389.4 L306.5 388.7 L306.4 388.0 L306.3 387.3 L306.2 386.6 L306.2 385.9 L306.1 385.2 L306.0 384.5 L305.9 383.8 L305.9 383.1 L305.8 382.4 L305.7 381.7 L305.6 381.0 L305.6 380.3 L305.5 379.6 L305.4 378.9 L305.3 378.2 L305.3 377.5 L305.2 376.8 L305.1 376.1 L305.0 375.4 L304.9 374.7 L304.9 374.0 L304.8 373.3 L304.7 372.6 L304.6 371.9 L304.5 371.2 L304.4 370.5Z" fill="#000" stroke="#000" stroke-width="0.6" stroke-linejoin="round"/><circle cx="498.3" cy="393.4" r="3.9" fill="#000" stroke="none"/></g>
<path d="M424.3 551.0 L424.3 344.0 L424.6 346.0 L424.8 346.7 L424.9 347.4 L425.1 348.1 L425.2 348.7 L425.4 349.4 L425.5 350.1 L425.7 350.8 L425.8 351.5 L426.0 352.2 L426.1 352.9 L426.3 353.6 L426.4 354.3 L426.5 355.0 L426.6 355.6 L426.8 356.3 L426.9 357.0 L427.0 357.7 L427.1 358.4 L427.2 359.1 L427.3 359.8 L427.3 360.5 L427.4 361.2 L427.5 361.9 L427.6 362.6 L427.6 363.3 L427.7 364.0 L427.7 364.7 L427.8 365.4 L427.8 366.1 L427.9 366.8 L427.9 367.5 L428.0 368.2 L428.0 368.9 L428.1 369.6 L428.1 370.3 L428.1 371.0 L428.2 371.7 L428.2 372.4 L428.3 373.1 L428.3 373.8 L428.3 374.5 L428.4 375.2 L428.4 375.9 L428.4 376.6 L428.5 377.3 L428.5 378.0 L428.6 378.7 L428.6 379.4 L428.6 380.1 L428.7 380.8 L428.7 381.5 L428.8 382.2 L428.8 382.9 L428.8 383.6 L428.9 384.3 L428.9 385.0 L428.9 385.7 L429.0 386.4 L429.0 387.1 L429.0 387.8 L429.1 388.5 L429.1 389.2 L429.1 389.9 L429.2 390.6 L429.2 391.3 L429.2 392.0 L429.3 392.7 L429.3 393.4 L429.3 394.1 L429.4 394.9 L429.4 395.6 L429.4 396.3 L429.5 397.0 L429.5 397.7 L429.6 398.4 L429.6 399.1 L429.7 399.8 L429.7 400.5 L429.8 401.2 L429.8 401.9 L429.9 402.5 L429.9 403.2 L430.0 403.9 L430.0 404.6 L430.1 405.3 L430.2 406.1 L430.3 406.8 L430.4 407.5 L430.4 408.2 L430.5 408.9 L430.7 409.6 L430.8 410.3 L430.9 411.0 L431.0 411.7 L431.2 412.4 L431.3 413.0 L431.5 413.7 L431.7 414.3 L432.0 415.0 L432.3 415.6 L432.7 416.3 L433.1 416.9 L433.5 417.5 L434.0 418.0 L434.4 418.4 L434.9 418.8 L435.4 419.2 L436.0 419.6 L436.5 420.0 L437.1 420.3 L437.7 420.7 L438.4 421.0 L439.0 421.3 L439.7 421.6 L440.4 421.9 L441.1 422.1 L441.7 422.4 L442.4 422.7 L443.1 422.9 L443.8 423.1 L444.5 423.3 L445.2 423.6 L445.9 423.8 L446.6 423.9 L447.2 424.1 L447.9 424.3 L448.6 424.5 L449.2 424.7 L449.9 424.9 L450.6 425.1 L451.3 425.3 L452.0 425.5 L452.7 425.7 L453.4 425.8 L454.0 426.0 L454.7 426.2 L455.4 426.3 L456.1 426.5 L456.8 426.6 L457.5 426.7 L458.2 426.8 L458.9 426.9 L459.6 427.0 L460.3 427.1 L461.0 427.1 L461.7 427.2 L462.4 427.2 L463.1 427.2 L463.8 427.2 L464.5 427.2 L465.2 427.2 L465.9 427.2 L466.6 427.2 L467.3 427.2 L468.0 427.2 L468.7 427.2 L469.4 427.2 L470.1 427.2 L470.8 427.2 L471.5 427.2 L472.2 427.2 L472.9 427.2 L473.6 427.2 L474.3 427.2 L475.1 427.2 L475.8 427.2 L476.5 427.2 L477.2 427.2 L477.9 427.2 L478.6 427.2 L479.3 427.2 L479.9 427.2 L480.6 427.2 L481.3 427.1 L482.0 427.1 L482.7 427.0 L483.4 426.9 L484.1 426.8 L484.8 426.6 L485.5 426.5 L486.2 426.4 L486.9 426.2 L487.5 426.0 L488.2 425.9 L488.9 425.7 L489.6 425.5 L490.3 425.3 L491.0 425.1 L491.7 425.0 L492.4 424.8 L493.0 424.6 L493.7 424.4 L494.4 424.3 L495.1 424.1 L495.8 423.9 L496.5 423.8 L497.1 423.6 L497.8 423.5 L498.5 423.3 L499.2 423.2 L499.9 423.0 L500.6 422.8 L501.3 422.7 L501.9 422.5 L502.6 422.3 L503.3 422.2 L504.0 422.0 L504.7 421.8 L505.4 421.7 L506.0 421.5 L506.7 421.3 L507.4 421.1 L508.1 421.0 L508.8 420.8 L509.4 420.6 L510.1 420.4 L510.8 420.2 L511.5 420.0 L512.1 419.8 L512.8 419.7 L513.5 419.5 L514.1 419.3 L514.8 419.1 L515.5 418.8 L516.2 418.6 L516.8 418.4 L517.5 418.2 L518.2 418.0 L518.8 417.8 L519.5 417.6 L520.2 417.3 L520.8 417.1 L521.5 416.9 L522.2 416.7 L522.8 416.4 L523.5 416.2 L524.2 416.0 L524.8 415.7 L525.5 415.5 L526.1 415.3 L526.8 415.0 L527.5 414.8 L528.1 414.5 L528.8 414.3 L529.4 414.1 L530.1 413.8 L530.8 413.6 L531.4 413.3 L532.1 413.1 L532.7 412.8 L533.4 412.6 L534.0 412.3 L534.7 412.1 L535.4 411.8 L536.0 411.6 L536.7 411.3 L537.3 411.1 L538.0 410.8 L538.6 410.5 L539.3 410.3 L539.9 410.0 L540.6 409.8 L541.2 409.5 L541.9 409.3 L542.5 409.0 L543.2 408.7 L543.8 408.5 L544.5 408.2 L545.1 407.9 L545.8 407.7 L546.4 407.4 L547.1 407.1 L547.7 406.8 L548.4 406.6 L549.0 406.3 L549.7 406.0 L550.3 405.7 L550.9 405.5 L551.6 405.2 L552.2 404.9 L552.9 404.6 L553.5 404.3 L554.2 404.1 L554.8 403.8 L555.4 403.5 L556.1 403.2 L556.7 402.9 L557.4 402.6 L558.0 402.3 L558.7 402.0 L559.3 401.8 L559.9 401.5 L560.6 401.2 L561.2 400.9 L561.9 400.6 L562.5 400.3 L563.1 400.0 L563.8 399.7 L564.4 399.4 L565.0 399.1 L565.7 398.8 L566.3 398.5 L567.0 398.2 L567.6 397.9 L568.2 397.6 L568.9 397.3 L569.5 397.0 L570.1 396.7 L570.8 396.4 L571.4 396.1 L572.0 395.8 L572.7 395.5 L573.3 395.2 L573.9 394.9 L574.6 394.6 L575.2 394.3 L575.8 394.0 L576.5 393.7 L577.1 393.4 L577.7 393.1 L578.4 392.8 L579.0 392.5 L579.6 392.2 L580.3 391.9 L580.9 391.6 L581.5 391.3 L582.2 391.0 L582.8 390.7 L583.4 390.3 L584.1 390.0 L584.7 389.7 L585.3 389.4 L585.9 389.1 L586.6 388.8 L587.2 388.5 L587.8 388.2 L588.5 387.9 L589.1 387.6 L589.7 387.3 L590.4 386.9 L591.0 386.6 L591.6 386.3 L592.2 386.0 L592.9 385.7 L593.5 385.4 L594.1 385.1 L594.7 384.7 L595.4 384.4 L596.0 384.1 L596.6 383.8 L597.3 383.5 L597.9 383.2 L598.5 382.8 L599.1 382.5 L599.8 382.2 L600.4 381.9 L601.0 381.5 L601.6 381.2 L602.2 380.9 L602.9 380.6 L603.5 380.3 L604.1 379.9 L604.7 379.6 L605.4 379.3 L606.0 379.0 L606.6 378.6 L607.2 378.3 L607.9 378.0 L608.5 377.6 L609.1 377.3 L609.7 377.0 L610.3 376.7 L611.0 376.3 L611.6 376.0 L612.2 375.7 L612.8 375.3 L613.4 375.0 L614.1 374.7 L614.7 374.3 L615.3 374.0 L615.9 373.7 L616.5 373.3 L617.1 373.0 L617.8 372.7 L618.4 372.3 L619.0 372.0 L619.0 291.4 L424.3 551.0Z" fill="url(#g2)" shape-rendering="crispEdges"/>
<g fill="none" stroke="#000" stroke-width="2.7"><path d="M398.3 585.5L424.3 551.0" stroke="#000" stroke-width="9.2" stroke-linecap="round" fill="none"/><path d="M424.3 554.0L424.3 523.0" stroke="#000" stroke-width="9" stroke-linecap="butt" fill="none"/><path d="M424.3 362.0L424.3 348.5" stroke="#000" stroke-width="9" stroke-linecap="round" fill="none"/><circle cx="424.3" cy="524.0" r="3.0"/><circle cx="424.3" cy="518.0" r="3.0"/><circle cx="424.3" cy="511.4" r="3.0"/><circle cx="424.3" cy="504.7" r="3.0"/><circle cx="424.3" cy="498.0" r="3.0"/><circle cx="424.3" cy="491.3" r="3.0"/><circle cx="424.3" cy="484.6" r="3.0"/><circle cx="424.3" cy="477.9" r="3.0"/><circle cx="424.3" cy="471.2" r="3.0"/><circle cx="424.3" cy="464.5" r="3.0"/><circle cx="424.3" cy="457.8" r="3.0"/><circle cx="424.3" cy="451.1" r="3.0"/><circle cx="424.3" cy="444.4" r="3.0"/><circle cx="424.3" cy="437.7" r="3.0"/><circle cx="424.3" cy="431.0" r="3.0"/><circle cx="424.3" cy="424.3" r="3.0"/><circle cx="424.3" cy="417.6" r="3.0"/><circle cx="424.3" cy="410.9" r="3.0"/><circle cx="424.3" cy="404.2" r="3.0"/><circle cx="424.3" cy="397.5" r="3.0"/><circle cx="424.3" cy="391.0" r="3.0"/><circle cx="424.3" cy="385.1" r="3.0"/><circle cx="424.3" cy="379.5" r="3.0"/><circle cx="424.3" cy="374.4" r="3.0"/><circle cx="424.3" cy="369.7" r="3.0"/><circle cx="424.3" cy="365.3" r="3.0"/><path d="M422.9 346.4 L423.1 347.1 L423.2 347.8 L423.4 348.4 L423.6 349.1 L423.7 349.8 L423.9 350.5 L424.1 351.2 L424.2 351.8 L424.4 352.5 L424.5 353.2 L424.7 353.9 L424.8 354.6 L425.0 355.2 L425.1 355.9 L425.3 356.6 L425.4 357.3 L425.5 357.9 L425.6 358.6 L425.7 359.3 L425.8 360.0 L425.9 360.7 L426.0 361.3 L426.1 362.0 L426.2 362.7 L426.2 363.4 L426.3 364.1 L426.4 364.8 L426.4 365.5 L426.5 366.2 L426.5 366.9 L426.6 367.6 L426.6 368.3 L426.7 369.0 L426.7 369.7 L426.8 370.4 L426.8 371.1 L426.8 371.8 L426.9 372.5 L426.9 373.2 L426.9 373.9 L427.0 374.6 L427.0 375.3 L427.1 376.0 L427.1 376.7 L427.1 377.4 L427.2 378.1 L427.2 378.8 L427.3 379.5 L427.3 380.2 L427.3 380.9 L427.4 381.6 L427.4 382.3 L427.4 383.0 L427.5 383.7 L427.5 384.4 L427.5 385.1 L427.6 385.8 L427.6 386.5 L427.6 387.2 L427.7 387.9 L427.7 388.6 L427.7 389.3 L427.8 390.0 L427.8 390.7 L427.8 391.4 L427.9 392.1 L427.9 392.8 L427.9 393.5 L428.0 394.2 L428.0 394.9 L428.1 395.6 L428.1 396.3 L428.1 397.0 L428.2 397.7 L428.2 398.4 L428.3 399.1 L428.3 399.8 L428.4 400.5 L428.4 401.3 L428.5 402.0 L428.5 402.7 L428.6 403.4 L428.6 404.1 L428.7 404.8 L428.7 405.5 L428.8 406.2 L428.8 406.9 L428.9 407.7 L428.9 408.4 L429.0 409.1 L429.0 409.9 L429.1 410.6 L429.1 411.3 L429.2 412.1 L429.2 412.8 L429.3 413.5 L429.4 414.3 L429.5 415.1 L429.7 416.0 L430.0 416.9 L430.3 417.7 L430.7 418.6 L431.2 419.4 L431.7 420.1 L432.2 420.9 L432.8 421.5 L433.3 422.1 L433.9 422.6 L434.6 423.2 L435.2 423.6 L435.9 424.1 L436.6 424.5 L437.3 424.9 L438.1 425.3 L438.8 425.7 L439.6 426.0 L440.3 426.3 L441.0 426.6 L441.8 426.9 L442.5 427.2 L443.3 427.4 L444.0 427.6 L444.7 427.9 L445.4 428.1 L446.0 428.3 L446.7 428.5 L447.4 428.7 L448.1 428.9 L448.7 429.1 L449.4 429.3 L450.2 429.5 L450.9 429.7 L451.6 429.9 L452.3 430.1 L453.0 430.2 L453.8 430.4 L454.5 430.6 L455.3 430.8 L456.0 430.9 L456.8 431.1 L457.6 431.2 L458.3 431.3 L459.1 431.4 L459.9 431.5 L460.7 431.6 L461.5 431.6 L462.3 431.6 L463.1 431.6 L463.8 431.6 L464.5 431.6 L465.2 431.6 L465.9 431.6 L466.6 431.6 L467.3 431.6 L468.0 431.6 L468.7 431.6 L469.4 431.6 L470.1 431.6 L470.8 431.6 L471.5 431.6 L472.2 431.6 L472.9 431.6 L473.6 431.6 L474.3 431.6 L475.1 431.6 L475.8 431.6 L476.5 431.6 L477.2 431.6 L477.9 431.6 L478.6 431.6 L479.3 431.6 L480.1 431.6 L480.9 431.6 L481.7 431.5 L482.5 431.4 L483.3 431.3 L484.1 431.2 L484.8 431.1 L485.6 431.0 L486.4 430.8 L487.1 430.6 L487.8 430.5 L488.6 430.3 L489.3 430.1 L490.0 429.9 L490.7 429.7 L491.4 429.5 L492.1 429.3 L492.8 429.2 L493.5 429.0 L494.1 428.8 L494.8 428.6 L495.4 428.5 L496.1 428.3 L496.7 428.2 L497.4 428.0 L498.1 427.9 L498.8 427.7 L499.5 427.6 L500.2 427.4 L500.9 427.2 L501.6 427.1 L502.3 426.9 L503.0 426.7 L503.6 426.6 L504.3 426.4 L505.0 426.2 L505.7 426.1 L506.4 425.9 L507.1 425.7 L507.8 425.5 L508.5 425.3 L509.2 425.2 L509.9 425.0 L510.6 424.8 L511.3 424.6 L511.9 424.4 L512.6 424.2 L513.3 424.0 L514.0 423.8 L514.7 423.6 L515.4 423.4 L516.1 423.2 L516.8 423.0 L517.4 422.7 L518.1 422.5 L518.8 422.3 L519.5 422.1 L520.2 421.9 L520.8 421.6 L521.5 421.4 L522.2 421.2 L522.9 420.9 L523.5 420.7 L524.2 420.5 L524.9 420.2 L525.6 420.0 L526.2 419.7 L526.9 419.5 L527.6 419.3 L528.2 419.0 L528.9 418.8 L529.6 418.5 L530.3 418.3 L530.9 418.0 L531.6 417.8 L532.2 417.5 L532.9 417.3 L533.6 417.0 L534.2 416.8 L534.9 416.5 L535.6 416.3 L536.2 416.0 L536.9 415.7 L537.5 415.5 L538.2 415.2 L538.9 415.0 L539.5 414.7 L540.2 414.5 L540.8 414.2 L541.5 413.9 L542.1 413.7 L542.8 413.4 L543.4 413.1 L544.1 412.9 L544.8 412.6 L545.4 412.3 L546.1 412.1 L546.7 411.8 L547.4 411.5 L548.0 411.2 L548.7 411.0 L549.3 410.7 L550.0 410.4 L550.6 410.1 L551.3 409.9 L552.0 409.6 L552.6 409.3 L553.2 409.0 L553.9 408.7 L554.5 408.4 L555.2 408.1 L555.8 407.9 L556.5 407.6 L557.1 407.3 L557.8 407.0 L558.4 406.7 L559.1 406.4 L559.7 406.1 L560.4 405.8 L561.0 405.5 L561.6 405.2 L562.3 404.9 L562.9 404.6 L563.6 404.3 L564.2 404.0 L564.9 403.7 L565.5 403.4 L566.1 403.1 L566.8 402.8 L567.4 402.5 L568.1 402.2 L568.7 401.9 L569.3 401.6 L570.0 401.3 L570.6 401.0 L571.3 400.7 L571.9 400.4 L572.5 400.1 L573.2 399.8 L573.8 399.5 L574.4 399.2 L575.1 398.9 L575.7 398.6 L576.3 398.3 L577.0 398.0 L577.6 397.7 L578.2 397.4 L578.9 397.1 L579.5 396.8 L580.1 396.5 L580.8 396.2 L581.4 395.9 L582.0 395.6 L582.7 395.3 L583.3 395.0 L583.9 394.6 L584.6 394.3 L585.2 394.0 L585.9 393.7 L586.5 393.4 L587.1 393.1 L587.8 392.8 L588.4 392.5 L589.0 392.2 L589.6 391.9 L590.3 391.5 L590.9 391.2 L591.5 390.9 L592.2 390.6 L592.8 390.3 L593.4 390.0 L594.1 389.6 L594.7 389.3 L595.3 389.0 L596.0 388.7 L596.6 388.4 L597.2 388.1 L597.8 387.7 L598.5 387.4 L599.1 387.1 L599.7 386.8 L600.4 386.5 L601.0 386.1 L601.6 385.8 L602.2 385.5 L602.9 385.2 L603.5 384.8 L604.1 384.5 L604.7 384.2 L605.4 383.9 L606.0 383.5 L606.6 383.2 L607.2 382.9 L607.9 382.5 L608.5 382.2 L609.1 381.9 L609.7 381.6 L610.4 381.2 L611.0 380.9 L611.6 380.6 L612.2 380.2 L612.9 379.9 L613.5 379.6 L614.1 379.2 L614.7 378.9 L615.3 378.6 L616.0 378.2 L616.6 377.9 L617.2 377.6 L617.8 377.2 L618.4 376.9 L619.1 376.5 L619.7 376.2 L620.3 375.9 L620.9 375.5 L617.1 368.5 L616.5 368.8 L615.8 369.1 L615.2 369.5 L614.6 369.8 L614.0 370.1 L613.4 370.5 L612.8 370.8 L612.1 371.1 L611.5 371.5 L610.9 371.8 L610.3 372.1 L609.7 372.4 L609.1 372.8 L608.4 373.1 L607.8 373.4 L607.2 373.7 L606.6 374.1 L606.0 374.4 L605.3 374.7 L604.7 375.0 L604.1 375.4 L603.5 375.7 L602.9 376.0 L602.2 376.3 L601.6 376.7 L601.0 377.0 L600.4 377.3 L599.8 377.6 L599.1 377.9 L598.5 378.3 L597.9 378.6 L597.3 378.9 L596.7 379.2 L596.0 379.5 L595.4 379.8 L594.8 380.2 L594.2 380.5 L593.5 380.8 L592.9 381.1 L592.3 381.4 L591.7 381.7 L591.0 382.0 L590.4 382.4 L589.8 382.7 L589.2 383.0 L588.5 383.3 L587.9 383.6 L587.3 383.9 L586.7 384.2 L586.0 384.5 L585.4 384.8 L584.8 385.1 L584.1 385.4 L583.5 385.7 L582.9 386.1 L582.3 386.4 L581.6 386.7 L581.0 387.0 L580.4 387.3 L579.8 387.6 L579.1 387.9 L578.5 388.2 L577.9 388.5 L577.2 388.8 L576.6 389.1 L576.0 389.4 L575.3 389.7 L574.7 390.0 L574.1 390.3 L573.4 390.6 L572.8 390.9 L572.2 391.2 L571.5 391.5 L570.9 391.8 L570.3 392.1 L569.6 392.4 L569.0 392.7 L568.4 393.0 L567.7 393.3 L567.1 393.6 L566.5 393.9 L565.8 394.2 L565.2 394.5 L564.6 394.8 L563.9 395.1 L563.3 395.4 L562.7 395.7 L562.0 396.0 L561.4 396.3 L560.8 396.5 L560.1 396.8 L559.5 397.1 L558.9 397.4 L558.2 397.7 L557.6 398.0 L556.9 398.3 L556.3 398.6 L555.7 398.8 L555.0 399.1 L554.4 399.4 L553.8 399.7 L553.1 400.0 L552.5 400.3 L551.8 400.5 L551.2 400.8 L550.6 401.1 L549.9 401.4 L549.3 401.6 L548.7 401.9 L548.0 402.2 L547.4 402.5 L546.7 402.7 L546.1 403.0 L545.5 403.3 L544.8 403.5 L544.2 403.8 L543.5 404.1 L542.9 404.3 L542.2 404.6 L541.6 404.8 L541.0 405.1 L540.3 405.4 L539.7 405.6 L539.0 405.9 L538.4 406.1 L537.7 406.4 L537.1 406.6 L536.4 406.9 L535.8 407.1 L535.1 407.4 L534.5 407.6 L533.8 407.9 L533.2 408.1 L532.5 408.4 L531.9 408.6 L531.2 408.9 L530.6 409.1 L529.9 409.4 L529.3 409.6 L528.6 409.9 L528.0 410.1 L527.3 410.3 L526.7 410.6 L526.0 410.8 L525.4 411.0 L524.7 411.3 L524.0 411.5 L523.4 411.7 L522.7 412.0 L522.1 412.2 L521.4 412.4 L520.8 412.6 L520.1 412.9 L519.5 413.1 L518.8 413.3 L518.2 413.5 L517.5 413.7 L516.8 413.9 L516.2 414.1 L515.5 414.3 L514.9 414.5 L514.2 414.7 L513.6 414.9 L512.9 415.1 L512.2 415.3 L511.6 415.5 L510.9 415.7 L510.3 415.9 L509.6 416.1 L509.0 416.3 L508.3 416.4 L507.6 416.6 L507.0 416.8 L506.3 417.0 L505.6 417.1 L505.0 417.3 L504.3 417.5 L503.6 417.6 L502.9 417.8 L502.3 418.0 L501.6 418.1 L500.9 418.3 L500.3 418.4 L499.6 418.6 L498.9 418.8 L498.2 418.9 L497.5 419.1 L496.9 419.2 L496.2 419.4 L495.5 419.5 L494.8 419.7 L494.1 419.9 L493.4 420.0 L492.7 420.2 L491.9 420.4 L491.2 420.6 L490.5 420.8 L489.9 420.9 L489.2 421.1 L488.5 421.3 L487.8 421.5 L487.2 421.6 L486.5 421.8 L485.9 421.9 L485.2 422.1 L484.6 422.2 L484.0 422.3 L483.4 422.4 L482.8 422.5 L482.2 422.6 L481.6 422.7 L481.0 422.7 L480.4 422.7 L479.8 422.8 L479.2 422.8 L478.6 422.8 L477.9 422.8 L477.2 422.8 L476.5 422.8 L475.8 422.8 L475.1 422.8 L474.3 422.8 L473.6 422.8 L472.9 422.8 L472.2 422.8 L471.5 422.8 L470.8 422.8 L470.1 422.8 L469.4 422.8 L468.7 422.8 L468.0 422.8 L467.3 422.8 L466.6 422.8 L465.9 422.8 L465.2 422.8 L464.5 422.8 L463.8 422.8 L463.1 422.8 L462.5 422.8 L461.9 422.7 L461.3 422.7 L460.7 422.7 L460.1 422.6 L459.5 422.6 L458.9 422.5 L458.2 422.4 L457.6 422.3 L457.0 422.2 L456.3 422.0 L455.7 421.9 L455.1 421.8 L454.4 421.6 L453.7 421.4 L453.1 421.3 L452.4 421.1 L451.8 420.9 L451.1 420.7 L450.4 420.6 L449.8 420.4 L449.1 420.2 L448.4 420.0 L447.8 419.8 L447.1 419.6 L446.5 419.5 L445.8 419.3 L445.1 419.1 L444.5 418.9 L443.8 418.7 L443.2 418.5 L442.6 418.3 L441.9 418.1 L441.3 417.8 L440.7 417.6 L440.1 417.4 L439.5 417.2 L439.0 417.0 L438.5 416.8 L438.0 416.6 L437.5 416.4 L437.1 416.2 L436.7 416.0 L436.3 415.8 L435.9 415.5 L435.4 415.2 L435.0 414.8 L434.6 414.4 L434.2 413.9 L433.9 413.5 L433.7 413.1 L433.4 412.5 L433.1 411.9 L432.9 411.3 L432.7 410.7 L432.5 410.0 L432.3 409.4 L432.1 408.7 L432.0 408.0 L431.8 407.3 L431.7 406.6 L431.6 405.9 L431.5 405.2 L431.4 404.5 L431.4 403.8 L431.3 403.1 L431.2 402.4 L431.2 401.7 L431.1 401.1 L431.1 400.4 L431.0 399.7 L431.0 399.0 L430.9 398.3 L430.9 397.6 L430.8 396.9 L430.8 396.2 L430.7 395.5 L430.7 394.8 L430.7 394.1 L430.6 393.4 L430.6 392.7 L430.6 392.0 L430.5 391.3 L430.5 390.6 L430.5 389.9 L430.4 389.2 L430.4 388.5 L430.4 387.8 L430.3 387.1 L430.3 386.4 L430.3 385.7 L430.2 385.0 L430.2 384.3 L430.2 383.5 L430.1 382.8 L430.1 382.1 L430.1 381.4 L430.0 380.7 L430.0 380.0 L429.9 379.3 L429.9 378.6 L429.9 377.9 L429.8 377.2 L429.8 376.5 L429.8 375.8 L429.7 375.1 L429.7 374.4 L429.6 373.7 L429.6 373.0 L429.6 372.3 L429.5 371.6 L429.5 370.9 L429.4 370.2 L429.4 369.5 L429.4 368.8 L429.3 368.1 L429.3 367.4 L429.2 366.7 L429.2 366.0 L429.1 365.3 L429.1 364.6 L429.0 363.9 L429.0 363.2 L428.9 362.5 L428.9 361.8 L428.8 361.0 L428.7 360.3 L428.7 359.6 L428.6 358.9 L428.5 358.2 L428.4 357.5 L428.3 356.8 L428.2 356.1 L428.1 355.4 L428.0 354.7 L427.9 354.0 L427.8 353.3 L427.7 352.6 L427.6 351.9 L427.5 351.2 L427.3 350.5 L427.2 349.8 L427.0 349.1 L426.9 348.4 L426.8 347.7 L426.6 347.0 L426.4 346.3 L426.3 345.6Z" fill="#000" stroke="#000" stroke-width="0.6" stroke-linejoin="round"/><circle cx="619.0" cy="372.0" r="4.0" fill="#000" stroke="none"/></g>
<path d="M515.6 551.0 L515.6 251.8 L515.9 253.8 L516.4 254.4 L516.8 254.9 L517.3 255.5 L517.8 256.1 L518.2 256.6 L518.6 257.2 L519.0 257.8 L519.3 258.4 L519.5 259.0 L519.6 259.7 L519.7 260.3 L519.8 260.9 L519.9 261.6 L520.0 262.2 L520.1 262.9 L520.2 263.6 L520.3 264.2 L520.4 264.9 L520.4 265.6 L520.5 266.3 L520.6 267.0 L520.6 267.7 L520.7 268.3 L520.7 269.0 L520.8 269.8 L520.9 270.5 L520.9 271.2 L520.9 271.9 L521.0 272.6 L521.0 273.3 L521.1 274.0 L521.1 274.7 L521.2 275.5 L521.2 276.2 L521.2 276.9 L521.3 277.6 L521.3 278.4 L521.4 279.1 L521.4 279.8 L521.4 280.5 L521.5 281.3 L521.5 282.0 L521.6 282.7 L521.6 283.4 L521.6 284.1 L521.7 284.9 L521.7 285.6 L521.8 286.3 L521.8 287.0 L521.9 287.7 L522.0 288.4 L522.0 289.1 L522.1 289.8 L522.2 290.5 L522.2 291.2 L522.3 291.9 L522.4 292.6 L522.4 293.3 L522.5 294.0 L522.6 294.7 L522.6 295.4 L522.7 296.1 L522.8 296.8 L522.8 297.5 L522.9 298.2 L523.0 298.9 L523.0 299.6 L523.1 300.3 L523.2 301.0 L523.2 301.7 L523.3 302.4 L523.4 303.1 L523.5 303.8 L523.5 304.5 L523.6 305.2 L523.7 305.9 L523.7 306.6 L523.8 307.3 L523.9 308.0 L524.0 308.7 L524.0 309.3 L524.1 310.0 L524.2 310.7 L524.2 311.4 L524.3 312.1 L524.4 312.8 L524.5 313.5 L524.5 314.2 L524.6 314.9 L524.7 315.6 L524.7 316.3 L524.8 317.0 L524.9 317.7 L525.0 318.4 L525.0 319.1 L525.1 319.8 L525.2 320.5 L525.2 321.2 L525.3 321.9 L525.4 322.6 L525.4 323.3 L525.5 324.0 L525.6 324.7 L525.6 325.4 L525.7 326.1 L525.8 326.8 L525.8 327.5 L525.9 328.2 L525.9 328.9 L526.0 329.6 L526.1 330.3 L526.1 331.0 L526.2 331.7 L526.2 332.4 L526.3 333.1 L526.4 333.8 L526.4 334.5 L526.5 335.2 L526.5 335.9 L526.6 336.6 L526.7 337.3 L526.7 338.0 L526.8 338.7 L526.8 339.4 L526.9 340.1 L527.0 340.8 L527.0 341.5 L527.1 342.2 L527.2 342.9 L527.2 343.6 L527.3 344.3 L527.4 345.0 L527.4 345.7 L527.5 346.4 L527.6 347.1 L527.7 347.8 L527.8 348.5 L527.8 349.2 L527.9 349.9 L528.0 350.6 L528.1 351.3 L528.2 352.0 L528.3 352.7 L528.4 353.4 L528.5 354.0 L528.6 354.7 L528.7 355.4 L528.8 356.1 L529.0 356.8 L529.1 357.5 L529.2 358.2 L529.4 358.9 L529.5 359.6 L529.7 360.3 L529.9 361.0 L530.0 361.7 L530.2 362.4 L530.4 363.0 L530.6 363.7 L530.8 364.4 L531.0 365.1 L531.2 365.7 L531.4 366.4 L531.6 367.0 L531.9 367.7 L532.1 368.3 L532.4 369.0 L532.6 369.7 L532.9 370.4 L533.2 371.1 L533.6 371.8 L533.9 372.6 L534.2 373.3 L534.6 373.9 L535.0 374.6 L535.4 375.2 L535.8 375.8 L536.2 376.3 L536.7 376.7 L537.1 377.1 L537.6 377.4 L538.1 377.6 L538.7 377.9 L539.3 378.1 L540.0 378.3 L540.7 378.4 L541.5 378.6 L542.2 378.7 L543.0 378.8 L543.7 378.9 L544.4 378.9 L545.1 378.9 L545.8 378.8 L546.4 378.8 L547.1 378.7 L547.8 378.6 L548.5 378.5 L549.2 378.3 L549.8 378.1 L550.5 378.0 L551.2 377.8 L551.9 377.6 L552.5 377.3 L553.2 377.1 L553.9 376.9 L554.5 376.6 L555.2 376.4 L555.9 376.1 L556.6 375.8 L557.2 375.6 L557.9 375.3 L558.6 375.0 L559.2 374.8 L559.9 374.5 L560.6 374.2 L561.2 374.0 L561.9 373.7 L562.6 373.5 L563.2 373.3 L563.9 373.0 L564.6 372.8 L565.2 372.6 L565.9 372.4 L566.6 372.1 L567.2 371.9 L567.9 371.7 L568.5 371.4 L569.2 371.2 L569.9 371.0 L570.5 370.7 L571.2 370.5 L571.8 370.2 L572.5 370.0 L573.2 369.8 L573.8 369.5 L574.5 369.3 L575.1 369.0 L575.8 368.8 L576.5 368.5 L577.1 368.3 L577.8 368.0 L578.4 367.8 L579.1 367.6 L579.7 367.3 L580.4 367.1 L581.1 366.8 L581.7 366.6 L582.4 366.3 L583.0 366.1 L583.7 365.9 L584.4 365.6 L585.0 365.4 L585.7 365.1 L586.3 364.9 L587.0 364.7 L587.7 364.4 L588.3 364.2 L589.0 364.0 L589.7 363.7 L590.3 363.5 L591.0 363.3 L591.6 363.0 L592.3 362.8 L593.0 362.5 L593.6 362.3 L594.3 362.0 L594.9 361.8 L595.6 361.5 L596.2 361.3 L596.9 361.0 L597.5 360.8 L598.2 360.5 L598.8 360.2 L599.5 359.9 L600.1 359.7 L600.7 359.4 L601.4 359.1 L602.0 358.8 L602.7 358.6 L603.3 358.3 L604.0 358.0 L604.6 357.7 L605.2 357.4 L605.9 357.1 L606.5 356.8 L607.2 356.6 L607.8 356.3 L608.4 356.0 L609.1 355.7 L609.7 355.4 L610.3 355.1 L611.0 354.8 L611.6 354.5 L612.2 354.2 L612.9 353.9 L613.5 353.6 L614.1 353.2 L614.8 352.9 L615.4 352.6 L616.0 352.3 L616.6 352.0 L617.3 351.7 L617.9 351.4 L618.5 351.1 L619.2 350.8 L619.8 350.4 L620.4 350.1 L621.0 349.8 L621.7 349.5 L622.3 349.2 L622.9 348.9 L623.6 348.5 L624.2 348.2 L624.8 347.9 L625.4 347.6 L626.1 347.2 L626.7 346.9 L627.3 346.6 L627.9 346.3 L628.6 346.0 L629.2 345.6 L629.8 345.3 L630.4 345.0 L631.1 344.7 L631.7 344.3 L632.3 344.0 L632.9 343.7 L633.5 343.4 L634.2 343.0 L634.8 342.7 L635.4 342.4 L636.0 342.1 L636.7 341.7 L637.3 341.4 L637.9 341.1 L638.5 340.8 L639.2 340.4 L639.8 340.1 L640.4 339.8 L641.0 339.5 L641.6 339.1 L642.3 338.8 L642.9 338.5 L643.5 338.2 L644.1 337.8 L644.7 337.5 L645.4 337.2 L646.0 336.9 L646.6 336.5 L647.2 336.2 L647.8 335.9 L648.5 335.5 L649.1 335.2 L649.7 334.9 L650.3 334.5 L650.9 334.2 L651.6 333.9 L652.2 333.5 L652.8 333.2 L653.4 332.9 L654.0 332.5 L654.6 332.2 L655.3 331.9 L655.9 331.5 L656.5 331.2 L657.1 330.9 L657.7 330.5 L658.3 330.2 L658.9 329.8 L659.6 329.5 L660.2 329.2 L660.8 328.8 L661.4 328.5 L662.0 328.1 L662.6 327.8 L663.2 327.5 L663.9 327.1 L664.5 326.8 L665.1 326.4 L665.7 326.1 L666.3 325.7 L666.9 325.4 L667.5 325.1 L668.1 324.7 L668.8 324.4 L669.4 324.0 L670.0 323.7 L670.6 323.3 L671.2 323.0 L671.8 322.6 L672.4 322.3 L673.0 322.0 L673.6 321.6 L674.3 321.3 L674.9 320.9 L675.5 320.6 L676.1 320.2 L676.7 319.9 L677.3 319.5 L677.9 319.2 L678.5 318.8 L679.1 318.5 L679.7 318.1 L680.4 317.8 L681.0 317.4 L681.6 317.1 L682.2 316.8 L682.8 316.4 L683.4 316.1 L684.0 315.7 L684.6 315.4 L685.2 315.0 L685.8 314.7 L686.4 314.3 L687.1 314.0 L687.7 313.6 L688.3 313.2 L688.9 312.9 L689.5 312.5 L690.1 312.2 L690.7 311.8 L691.3 311.5 L691.9 311.1 L692.5 310.8 L693.1 310.4 L693.7 310.1 L694.3 309.7 L694.9 309.4 L695.5 309.0 L696.1 308.6 L696.7 308.3 L697.3 307.9 L698.0 307.6 L698.6 307.2 L699.2 306.9 L699.8 306.5 L700.4 306.1 L701.0 305.8 L701.6 305.4 L702.2 305.1 L702.8 304.7 L703.4 304.3 L704.0 304.0 L704.6 303.6 L705.2 303.3 L705.8 302.9 L706.4 302.5 L707.0 302.2 L707.6 301.8 L708.2 301.5 L708.8 301.1 L709.4 300.7 L710.0 300.4 L710.6 300.0 L710.6 291.0 L515.6 551.0Z" fill="url(#g3)" shape-rendering="crispEdges"/>
<g fill="none" stroke="#000" stroke-width="2.7"><path d="M489.6 585.5L515.6 551.0" stroke="#000" stroke-width="9.2" stroke-linecap="round" fill="none"/><path d="M515.6 554.0L515.6 540.0" stroke="#000" stroke-width="9" stroke-linecap="butt" fill="none"/><path d="M515.6 262.8L515.6 256.3" stroke="#000" stroke-width="9" stroke-linecap="round" fill="none"/><circle cx="515.6" cy="541.0" r="3.0"/><circle cx="515.6" cy="536.9" r="3.0"/><circle cx="515.6" cy="532.3" r="3.0"/><circle cx="515.6" cy="527.3" r="3.0"/><circle cx="515.6" cy="521.7" r="3.0"/><circle cx="515.6" cy="515.5" r="3.0"/><circle cx="515.6" cy="508.6" r="3.0"/><circle cx="515.6" cy="500.9" r="3.0"/><circle cx="515.6" cy="492.4" r="3.0"/><circle cx="515.6" cy="482.9" r="3.0"/><circle cx="515.6" cy="472.4" r="3.0"/><circle cx="515.6" cy="460.8" r="3.0"/><circle cx="515.6" cy="448.0" r="3.0"/><circle cx="515.6" cy="435.2" r="3.0"/><circle cx="515.6" cy="422.4" r="3.0"/><circle cx="515.6" cy="409.6" r="3.0"/><circle cx="515.6" cy="396.8" r="3.0"/><circle cx="515.6" cy="384.0" r="3.0"/><circle cx="515.6" cy="371.2" r="3.0"/><circle cx="515.6" cy="359.3" r="3.0"/><circle cx="515.6" cy="348.2" r="3.0"/><circle cx="515.6" cy="338.0" r="3.0"/><circle cx="515.6" cy="328.6" r="3.0"/><circle cx="515.6" cy="319.8" r="3.0"/><circle cx="515.6" cy="311.8" r="3.0"/><circle cx="515.6" cy="304.3" r="3.0"/><circle cx="515.6" cy="297.4" r="3.0"/><circle cx="515.6" cy="291.0" r="3.0"/><circle cx="515.6" cy="285.1" r="3.0"/><circle cx="515.6" cy="279.6" r="3.0"/><circle cx="515.6" cy="274.5" r="3.0"/><circle cx="515.6" cy="269.9" r="3.0"/><circle cx="515.6" cy="265.5" r="3.0"/><path d="M513.6 255.7 L514.1 256.2 L514.7 256.8 L515.2 257.3 L515.7 257.7 L516.2 258.2 L516.6 258.6 L516.9 258.9 L517.1 259.3 L517.4 259.6 L517.5 260.1 L517.7 260.6 L517.9 261.3 L518.1 261.9 L518.3 262.5 L518.5 263.1 L518.7 263.8 L518.8 264.4 L518.9 265.1 L519.0 265.7 L519.1 266.4 L519.2 267.1 L519.3 267.8 L519.3 268.5 L519.4 269.2 L519.5 269.9 L519.5 270.6 L519.6 271.3 L519.6 272.0 L519.6 272.7 L519.7 273.4 L519.7 274.1 L519.8 274.8 L519.8 275.5 L519.9 276.3 L519.9 277.0 L519.9 277.7 L520.0 278.4 L520.0 279.2 L520.0 279.9 L520.1 280.6 L520.1 281.3 L520.2 282.1 L520.2 282.8 L520.3 283.5 L520.3 284.2 L520.3 284.9 L520.4 285.7 L520.4 286.4 L520.5 287.1 L520.6 287.8 L520.6 288.5 L520.7 289.2 L520.7 289.9 L520.8 290.6 L520.9 291.3 L520.9 292.0 L521.0 292.7 L521.1 293.4 L521.1 294.1 L521.2 294.8 L521.3 295.5 L521.3 296.2 L521.4 296.9 L521.5 297.6 L521.6 298.3 L521.6 299.0 L521.7 299.7 L521.8 300.4 L521.8 301.1 L521.9 301.8 L522.0 302.5 L522.0 303.2 L522.1 303.9 L522.2 304.6 L522.3 305.3 L522.3 306.0 L522.4 306.7 L522.5 307.4 L522.5 308.1 L522.6 308.8 L522.7 309.5 L522.8 310.2 L522.8 310.9 L522.9 311.6 L523.0 312.3 L523.0 313.0 L523.1 313.7 L523.2 314.4 L523.3 315.1 L523.3 315.8 L523.4 316.5 L523.5 317.2 L523.5 317.9 L523.6 318.6 L523.7 319.3 L523.8 320.0 L523.8 320.7 L523.9 321.4 L524.0 322.1 L524.0 322.7 L524.1 323.4 L524.2 324.1 L524.2 324.8 L524.3 325.5 L524.4 326.2 L524.4 326.9 L524.5 327.6 L524.5 328.3 L524.6 329.0 L524.7 329.7 L524.7 330.4 L524.8 331.1 L524.8 331.8 L524.9 332.5 L525.0 333.2 L525.0 333.9 L525.1 334.6 L525.1 335.3 L525.2 336.0 L525.2 336.8 L525.3 337.5 L525.4 338.2 L525.4 338.9 L525.5 339.6 L525.6 340.3 L525.6 341.0 L525.7 341.7 L525.8 342.4 L525.8 343.1 L525.9 343.8 L526.0 344.5 L526.0 345.2 L526.1 345.9 L526.2 346.6 L526.2 347.3 L526.3 348.0 L526.4 348.7 L526.5 349.4 L526.5 350.1 L526.6 350.8 L526.7 351.5 L526.8 352.2 L526.8 352.9 L526.9 353.6 L527.0 354.3 L527.1 355.0 L527.2 355.7 L527.3 356.4 L527.4 357.1 L527.5 357.8 L527.6 358.5 L527.7 359.3 L527.8 360.0 L528.0 360.7 L528.1 361.4 L528.3 362.1 L528.4 362.8 L528.6 363.5 L528.7 364.3 L528.9 365.0 L529.1 365.7 L529.3 366.4 L529.5 367.1 L529.6 367.7 L529.8 368.4 L530.0 369.1 L530.3 369.8 L530.5 370.5 L530.7 371.3 L530.9 372.1 L531.2 372.9 L531.5 373.7 L531.8 374.6 L532.1 375.4 L532.4 376.2 L532.8 377.0 L533.2 377.8 L533.7 378.6 L534.3 379.3 L535.0 380.0 L535.9 380.7 L536.7 381.2 L537.4 381.5 L538.2 381.9 L539.0 382.2 L539.8 382.5 L540.7 382.8 L541.6 383.0 L542.5 383.1 L543.5 383.2 L544.4 383.3 L545.3 383.3 L546.1 383.2 L546.9 383.1 L547.7 383.0 L548.6 382.9 L549.3 382.7 L550.1 382.5 L550.9 382.3 L551.7 382.1 L552.4 381.9 L553.1 381.7 L553.9 381.4 L554.6 381.1 L555.3 380.9 L556.0 380.6 L556.7 380.3 L557.4 380.1 L558.1 379.8 L558.8 379.5 L559.5 379.2 L560.1 379.0 L560.8 378.7 L561.5 378.4 L562.1 378.2 L562.7 377.9 L563.4 377.7 L564.0 377.5 L564.6 377.3 L565.2 377.1 L565.9 376.8 L566.6 376.6 L567.3 376.4 L567.9 376.2 L568.6 375.9 L569.3 375.7 L570.0 375.4 L570.6 375.2 L571.3 375.0 L572.0 374.7 L572.6 374.5 L573.3 374.2 L574.0 374.0 L574.6 373.7 L575.3 373.5 L576.0 373.2 L576.6 373.0 L577.3 372.7 L577.9 372.5 L578.6 372.3 L579.3 372.0 L579.9 371.8 L580.6 371.5 L581.2 371.3 L581.9 371.0 L582.5 370.8 L583.2 370.6 L583.8 370.3 L584.5 370.1 L585.1 369.8 L585.8 369.6 L586.4 369.4 L587.1 369.1 L587.8 368.9 L588.4 368.7 L589.1 368.4 L589.8 368.2 L590.4 368.0 L591.1 367.7 L591.8 367.5 L592.4 367.2 L593.1 367.0 L593.8 366.7 L594.4 366.5 L595.1 366.2 L595.8 366.0 L596.4 365.7 L597.1 365.5 L597.8 365.2 L598.4 364.9 L599.1 364.6 L599.8 364.4 L600.4 364.1 L601.1 363.8 L601.7 363.5 L602.4 363.2 L603.0 362.9 L603.7 362.7 L604.3 362.4 L605.0 362.1 L605.6 361.8 L606.3 361.5 L606.9 361.2 L607.6 360.9 L608.2 360.6 L608.9 360.3 L609.5 360.0 L610.2 359.7 L610.8 359.4 L611.4 359.1 L612.1 358.8 L612.7 358.5 L613.4 358.2 L614.0 357.9 L614.6 357.6 L615.3 357.2 L615.9 356.9 L616.6 356.6 L617.2 356.3 L617.8 356.0 L618.5 355.7 L619.1 355.4 L619.7 355.0 L620.4 354.7 L621.0 354.4 L621.6 354.1 L622.3 353.8 L622.9 353.4 L623.5 353.1 L624.1 352.8 L624.8 352.5 L625.4 352.2 L626.0 351.8 L626.7 351.5 L627.3 351.2 L627.9 350.9 L628.5 350.5 L629.2 350.2 L629.8 349.9 L630.4 349.6 L631.1 349.2 L631.7 348.9 L632.3 348.6 L632.9 348.3 L633.5 347.9 L634.2 347.6 L634.8 347.3 L635.4 347.0 L636.0 346.6 L636.7 346.3 L637.3 346.0 L637.9 345.7 L638.5 345.3 L639.2 345.0 L639.8 344.7 L640.4 344.4 L641.0 344.0 L641.6 343.7 L642.3 343.4 L642.9 343.1 L643.5 342.7 L644.1 342.4 L644.8 342.1 L645.4 341.8 L646.0 341.4 L646.6 341.1 L647.3 340.8 L647.9 340.4 L648.5 340.1 L649.1 339.8 L649.7 339.4 L650.4 339.1 L651.0 338.8 L651.6 338.4 L652.2 338.1 L652.8 337.8 L653.5 337.4 L654.1 337.1 L654.7 336.7 L655.3 336.4 L655.9 336.1 L656.6 335.7 L657.2 335.4 L657.8 335.1 L658.4 334.7 L659.0 334.4 L659.6 334.0 L660.3 333.7 L660.9 333.4 L661.5 333.0 L662.1 332.7 L662.7 332.3 L663.3 332.0 L664.0 331.6 L664.6 331.3 L665.2 331.0 L665.8 330.6 L666.4 330.3 L667.0 329.9 L667.6 329.6 L668.3 329.2 L668.9 328.9 L669.5 328.5 L670.1 328.2 L670.7 327.9 L671.3 327.5 L671.9 327.2 L672.6 326.8 L673.2 326.5 L673.8 326.1 L674.4 325.8 L675.0 325.4 L675.6 325.1 L676.2 324.7 L676.8 324.4 L677.4 324.0 L678.1 323.7 L678.7 323.4 L679.3 323.0 L679.9 322.7 L680.5 322.3 L681.1 322.0 L681.7 321.6 L682.3 321.3 L682.9 320.9 L683.6 320.6 L684.2 320.2 L684.8 319.9 L685.4 319.5 L686.0 319.2 L686.6 318.8 L687.2 318.5 L687.8 318.1 L688.4 317.8 L689.0 317.4 L689.7 317.0 L690.3 316.7 L690.9 316.3 L691.5 316.0 L692.1 315.6 L692.7 315.3 L693.3 314.9 L693.9 314.6 L694.5 314.2 L695.1 313.8 L695.7 313.5 L696.3 313.1 L696.9 312.8 L697.5 312.4 L698.2 312.1 L698.8 311.7 L699.4 311.3 L700.0 311.0 L700.6 310.6 L701.2 310.3 L701.8 309.9 L702.4 309.5 L703.0 309.2 L703.6 308.8 L704.2 308.5 L704.8 308.1 L705.4 307.7 L706.0 307.4 L706.6 307.0 L707.2 306.6 L707.8 306.3 L708.4 305.9 L709.0 305.6 L709.6 305.2 L710.2 304.8 L710.8 304.5 L711.4 304.1 L712.0 303.7 L712.6 303.4 L708.6 296.6 L708.0 297.0 L707.4 297.3 L706.8 297.7 L706.2 298.1 L705.6 298.4 L705.0 298.8 L704.4 299.2 L703.8 299.5 L703.2 299.9 L702.6 300.2 L702.0 300.6 L701.4 300.9 L700.8 301.3 L700.2 301.7 L699.5 302.0 L698.9 302.4 L698.3 302.7 L697.7 303.1 L697.1 303.5 L696.5 303.8 L695.9 304.2 L695.3 304.5 L694.7 304.9 L694.1 305.2 L693.5 305.6 L692.9 305.9 L692.3 306.3 L691.7 306.6 L691.1 307.0 L690.5 307.3 L689.9 307.7 L689.3 308.1 L688.7 308.4 L688.1 308.8 L687.5 309.1 L686.9 309.5 L686.3 309.8 L685.7 310.2 L685.1 310.5 L684.5 310.9 L683.8 311.2 L683.2 311.6 L682.6 311.9 L682.0 312.3 L681.4 312.6 L680.8 312.9 L680.2 313.3 L679.6 313.6 L679.0 314.0 L678.4 314.3 L677.8 314.7 L677.2 315.0 L676.6 315.4 L675.9 315.7 L675.3 316.1 L674.7 316.4 L674.1 316.8 L673.5 317.1 L672.9 317.4 L672.3 317.8 L671.7 318.1 L671.1 318.5 L670.5 318.8 L669.8 319.2 L669.2 319.5 L668.6 319.9 L668.0 320.2 L667.4 320.5 L666.8 320.9 L666.2 321.2 L665.6 321.6 L665.0 321.9 L664.3 322.3 L663.7 322.6 L663.1 322.9 L662.5 323.3 L661.9 323.6 L661.3 324.0 L660.7 324.3 L660.1 324.6 L659.5 325.0 L658.8 325.3 L658.2 325.6 L657.6 326.0 L657.0 326.3 L656.4 326.7 L655.8 327.0 L655.2 327.3 L654.6 327.7 L653.9 328.0 L653.3 328.3 L652.7 328.7 L652.1 329.0 L651.5 329.3 L650.9 329.7 L650.3 330.0 L649.6 330.3 L649.0 330.7 L648.4 331.0 L647.8 331.3 L647.2 331.7 L646.6 332.0 L645.9 332.3 L645.3 332.6 L644.7 333.0 L644.1 333.3 L643.5 333.6 L642.9 333.9 L642.2 334.3 L641.6 334.6 L641.0 334.9 L640.4 335.2 L639.8 335.6 L639.1 335.9 L638.5 336.2 L637.9 336.5 L637.3 336.8 L636.7 337.2 L636.0 337.5 L635.4 337.8 L634.8 338.1 L634.2 338.5 L633.5 338.8 L632.9 339.1 L632.3 339.4 L631.7 339.8 L631.0 340.1 L630.4 340.4 L629.8 340.7 L629.2 341.1 L628.6 341.4 L627.9 341.7 L627.3 342.0 L626.7 342.4 L626.1 342.7 L625.4 343.0 L624.8 343.3 L624.2 343.6 L623.6 344.0 L623.0 344.3 L622.3 344.6 L621.7 344.9 L621.1 345.2 L620.5 345.5 L619.8 345.9 L619.2 346.2 L618.6 346.5 L618.0 346.8 L617.3 347.1 L616.7 347.4 L616.1 347.7 L615.5 348.0 L614.8 348.3 L614.2 348.7 L613.6 349.0 L613.0 349.3 L612.3 349.6 L611.7 349.9 L611.1 350.2 L610.5 350.5 L609.8 350.8 L609.2 351.1 L608.6 351.4 L607.9 351.6 L607.3 351.9 L606.7 352.2 L606.1 352.5 L605.4 352.8 L604.8 353.1 L604.2 353.4 L603.5 353.7 L602.9 353.9 L602.3 354.2 L601.6 354.5 L601.0 354.8 L600.4 355.0 L599.7 355.3 L599.1 355.6 L598.5 355.8 L597.8 356.1 L597.2 356.4 L596.6 356.6 L595.9 356.9 L595.3 357.1 L594.7 357.4 L594.0 357.6 L593.4 357.9 L592.8 358.1 L592.1 358.3 L591.5 358.6 L590.8 358.8 L590.2 359.0 L589.5 359.3 L588.9 359.5 L588.2 359.7 L587.6 360.0 L586.9 360.2 L586.2 360.4 L585.6 360.7 L584.9 360.9 L584.3 361.2 L583.6 361.4 L582.9 361.6 L582.3 361.9 L581.6 362.1 L580.9 362.4 L580.3 362.6 L579.6 362.8 L578.9 363.1 L578.3 363.3 L577.6 363.6 L576.9 363.8 L576.3 364.1 L575.6 364.3 L575.0 364.6 L574.3 364.8 L573.7 365.1 L573.0 365.3 L572.3 365.5 L571.7 365.8 L571.0 366.0 L570.4 366.3 L569.7 366.5 L569.1 366.7 L568.4 367.0 L567.8 367.2 L567.1 367.4 L566.5 367.7 L565.8 367.9 L565.2 368.1 L564.5 368.3 L563.9 368.6 L563.2 368.8 L562.6 369.0 L561.9 369.3 L561.1 369.5 L560.4 369.8 L559.7 370.0 L559.0 370.3 L558.3 370.6 L557.7 370.8 L557.0 371.1 L556.3 371.4 L555.7 371.7 L555.0 371.9 L554.3 372.2 L553.7 372.4 L553.1 372.6 L552.4 372.9 L551.8 373.1 L551.2 373.3 L550.6 373.5 L549.9 373.6 L549.4 373.8 L548.8 373.9 L548.2 374.1 L547.6 374.2 L547.0 374.3 L546.5 374.4 L546.0 374.4 L545.4 374.5 L544.9 374.5 L544.4 374.5 L543.9 374.5 L543.4 374.5 L542.9 374.5 L542.3 374.5 L541.7 374.4 L541.1 374.3 L540.5 374.3 L540.0 374.2 L539.6 374.1 L539.4 374.2 L539.3 374.2 L539.0 374.2 L538.7 374.0 L538.4 373.8 L538.0 373.4 L537.6 373.0 L537.2 372.5 L536.7 372.0 L536.3 371.4 L535.9 370.8 L535.5 370.1 L535.2 369.5 L534.8 368.8 L534.5 368.2 L534.2 367.5 L533.9 366.9 L533.6 366.3 L533.4 365.7 L533.1 365.1 L532.9 364.5 L532.7 363.8 L532.4 363.2 L532.2 362.5 L532.0 361.9 L531.8 361.2 L531.6 360.5 L531.4 359.9 L531.2 359.2 L531.0 358.5 L530.9 357.9 L530.7 357.2 L530.5 356.5 L530.4 355.8 L530.2 355.2 L530.1 354.5 L530.0 353.8 L529.9 353.1 L529.8 352.5 L529.6 351.8 L529.5 351.1 L529.4 350.4 L529.3 349.7 L529.2 349.0 L529.1 348.4 L529.1 347.7 L529.0 347.0 L528.9 346.3 L528.8 345.6 L528.7 344.9 L528.7 344.2 L528.6 343.5 L528.5 342.8 L528.4 342.1 L528.4 341.4 L528.3 340.7 L528.2 340.0 L528.2 339.3 L528.1 338.6 L528.1 337.9 L528.0 337.2 L527.9 336.5 L527.9 335.8 L527.8 335.1 L527.8 334.4 L527.7 333.7 L527.6 333.0 L527.6 332.3 L527.5 331.6 L527.5 330.9 L527.4 330.2 L527.4 329.5 L527.3 328.8 L527.2 328.1 L527.2 327.4 L527.1 326.7 L527.1 326.0 L527.0 325.3 L526.9 324.6 L526.9 323.9 L526.8 323.2 L526.7 322.5 L526.7 321.8 L526.6 321.1 L526.5 320.4 L526.4 319.7 L526.4 319.0 L526.3 318.3 L526.2 317.6 L526.2 316.9 L526.1 316.2 L526.0 315.5 L525.9 314.8 L525.9 314.1 L525.8 313.4 L525.7 312.7 L525.7 312.0 L525.6 311.3 L525.5 310.6 L525.4 309.9 L525.4 309.2 L525.3 308.5 L525.2 307.8 L525.2 307.1 L525.1 306.4 L525.0 305.7 L524.9 305.0 L524.9 304.3 L524.8 303.6 L524.7 302.9 L524.7 302.2 L524.6 301.5 L524.5 300.8 L524.4 300.1 L524.4 299.4 L524.3 298.7 L524.2 298.0 L524.2 297.3 L524.1 296.6 L524.0 296.0 L524.0 295.3 L523.9 294.6 L523.8 293.9 L523.8 293.2 L523.7 292.5 L523.6 291.8 L523.6 291.1 L523.5 290.4 L523.4 289.7 L523.4 289.0 L523.3 288.3 L523.2 287.6 L523.2 286.9 L523.1 286.2 L523.1 285.5 L523.0 284.8 L523.0 284.1 L522.9 283.3 L522.9 282.6 L522.9 281.9 L522.8 281.2 L522.8 280.5 L522.7 279.7 L522.7 279.0 L522.7 278.3 L522.6 277.6 L522.6 276.8 L522.5 276.1 L522.5 275.4 L522.5 274.7 L522.4 274.0 L522.4 273.2 L522.3 272.5 L522.3 271.8 L522.2 271.1 L522.2 270.4 L522.2 269.7 L522.1 268.9 L522.0 268.2 L522.0 267.5 L521.9 266.8 L521.9 266.1 L521.8 265.4 L521.8 264.7 L521.7 264.1 L521.7 263.4 L521.7 262.7 L521.7 262.0 L521.7 261.3 L521.7 260.6 L521.7 260.0 L521.6 259.3 L521.6 258.5 L521.4 257.6 L521.1 256.7 L520.7 255.9 L520.3 255.1 L519.9 254.4 L519.4 253.7 L519.0 253.1 L518.6 252.5 L518.2 251.9Z" fill="#000" stroke="#000" stroke-width="0.6" stroke-linejoin="round"/><circle cx="710.6" cy="300.0" r="3.9" fill="#000" stroke="none"/></g>
<path d="M600.5 551.0 L600.5 198.6 L600.8 200.6 L601.5 200.9 L602.2 201.3 L603.0 201.6 L603.6 202.0 L604.2 202.4 L604.7 202.8 L605.0 203.3 L605.2 203.7 L605.3 204.2 L605.5 204.8 L605.6 205.3 L605.8 205.9 L605.9 206.6 L606.0 207.2 L606.1 207.9 L606.2 208.5 L606.3 209.2 L606.4 209.9 L606.5 210.7 L606.5 211.4 L606.6 212.2 L606.7 212.9 L606.7 213.7 L606.8 214.4 L606.9 215.2 L606.9 216.0 L607.0 216.8 L607.0 217.5 L607.1 218.3 L607.2 219.1 L607.2 219.8 L607.3 220.6 L607.4 221.3 L607.5 222.0 L607.6 222.7 L607.7 223.4 L607.8 224.1 L607.9 224.8 L608.0 225.5 L608.1 226.2 L608.2 226.9 L608.3 227.6 L608.4 228.3 L608.5 229.0 L608.6 229.7 L608.7 230.4 L608.8 231.1 L608.9 231.8 L609.0 232.5 L609.1 233.2 L609.3 233.9 L609.4 234.5 L609.5 235.2 L609.6 235.9 L609.7 236.6 L609.8 237.3 L609.9 238.0 L610.0 238.7 L610.1 239.4 L610.2 240.1 L610.4 240.8 L610.5 241.5 L610.6 242.2 L610.7 242.9 L610.8 243.6 L610.9 244.3 L611.0 245.0 L611.1 245.7 L611.2 246.3 L611.3 247.0 L611.4 247.7 L611.5 248.4 L611.6 249.1 L611.7 249.8 L611.9 250.5 L612.0 251.2 L612.1 251.9 L612.2 252.6 L612.3 253.3 L612.4 254.0 L612.5 254.7 L612.6 255.4 L612.7 256.1 L612.8 256.8 L612.9 257.5 L613.0 258.2 L613.1 258.9 L613.2 259.5 L613.3 260.2 L613.5 260.9 L613.6 261.6 L613.7 262.3 L613.8 263.0 L613.9 263.7 L614.0 264.4 L614.1 265.1 L614.2 265.8 L614.3 266.5 L614.4 267.2 L614.5 267.9 L614.6 268.6 L614.7 269.3 L614.8 270.0 L614.9 270.7 L615.0 271.4 L615.1 272.1 L615.2 272.8 L615.3 273.5 L615.3 274.2 L615.4 274.9 L615.5 275.6 L615.6 276.3 L615.7 277.0 L615.8 277.7 L615.9 278.4 L616.0 279.1 L616.1 279.8 L616.2 280.5 L616.3 281.2 L616.4 281.9 L616.5 282.5 L616.7 283.2 L616.8 283.9 L616.9 284.6 L617.0 285.3 L617.2 286.0 L617.3 286.7 L617.5 287.3 L617.6 288.0 L617.8 288.7 L617.9 289.4 L618.1 290.1 L618.3 290.8 L618.5 291.5 L618.7 292.1 L619.0 292.8 L619.2 293.5 L619.4 294.1 L619.7 294.8 L620.0 295.4 L620.3 296.1 L620.6 296.7 L620.9 297.3 L621.3 297.9 L621.7 298.5 L622.1 299.1 L622.6 299.6 L623.1 300.2 L623.6 300.7 L624.1 301.1 L624.6 301.6 L625.1 302.0 L625.7 302.4 L626.3 302.8 L626.9 303.2 L627.6 303.6 L628.2 303.9 L628.9 304.1 L629.6 304.3 L630.2 304.3 L630.9 304.3 L631.6 304.3 L632.3 304.2 L633.0 304.2 L633.7 304.2 L634.5 304.1 L635.2 304.1 L635.9 304.0 L636.6 303.9 L637.3 303.8 L637.9 303.7 L638.6 303.5 L639.3 303.4 L640.0 303.1 L640.7 302.9 L641.3 302.7 L642.0 302.5 L642.7 302.3 L643.3 302.0 L644.0 301.8 L644.7 301.6 L645.3 301.4 L646.0 301.2 L646.7 300.9 L647.3 300.7 L648.0 300.5 L648.7 300.2 L649.3 300.0 L650.0 299.7 L650.6 299.5 L651.3 299.2 L651.9 298.9 L652.6 298.7 L653.2 298.4 L653.9 298.1 L654.5 297.9 L655.2 297.6 L655.8 297.3 L656.5 297.0 L657.1 296.8 L657.8 296.5 L658.4 296.2 L659.1 295.9 L659.7 295.6 L660.3 295.3 L661.0 295.0 L661.6 294.7 L662.3 294.5 L662.9 294.2 L663.5 293.9 L664.2 293.6 L664.8 293.2 L665.4 292.9 L666.0 292.6 L666.7 292.3 L667.3 292.0 L667.9 291.7 L668.5 291.3 L669.2 291.0 L669.8 290.7 L670.4 290.4 L671.0 290.0 L671.7 289.7 L672.3 289.4 L672.9 289.0 L673.5 288.7 L674.1 288.4 L674.7 288.0 L675.4 287.7 L676.0 287.3 L676.6 287.0 L677.2 286.7 L677.8 286.3 L678.5 286.0 L679.1 285.7 L679.7 285.4 L680.3 285.0 L680.9 284.7 L681.6 284.4 L682.2 284.0 L682.8 283.7 L683.4 283.4 L684.1 283.1 L684.7 282.7 L685.3 282.4 L685.9 282.1 L686.5 281.7 L687.2 281.4 L687.8 281.1 L688.4 280.7 L689.0 280.4 L689.6 280.1 L690.3 279.8 L690.9 279.4 L691.5 279.1 L692.1 278.8 L692.7 278.4 L693.4 278.1 L694.0 277.8 L694.6 277.4 L695.2 277.1 L695.8 276.8 L696.4 276.4 L697.1 276.1 L697.7 275.8 L698.3 275.4 L698.9 275.1 L699.5 274.8 L700.2 274.4 L700.8 274.1 L701.4 273.7 L702.0 273.4 L702.6 273.1 L703.2 272.7 L703.9 272.4 L704.5 272.1 L705.1 271.7 L705.7 271.4 L706.3 271.1 L706.9 270.7 L707.6 270.4 L708.2 270.0 L708.8 269.7 L709.4 269.4 L710.0 269.0 L710.6 268.7 L711.2 268.3 L711.9 268.0 L712.5 267.7 L713.1 267.3 L713.7 267.0 L714.3 266.6 L714.9 266.3 L715.6 266.0 L716.2 265.6 L716.8 265.3 L717.4 264.9 L718.0 264.6 L718.6 264.3 L719.2 263.9 L719.9 263.6 L720.5 263.2 L721.1 262.9 L721.7 262.6 L722.3 262.2 L722.9 261.9 L723.5 261.5 L724.2 261.2 L724.8 260.8 L725.4 260.5 L726.0 260.2 L726.6 259.8 L727.2 259.5 L727.8 259.1 L728.5 258.8 L729.1 258.5 L729.7 258.1 L730.3 257.8 L730.9 257.4 L731.5 257.1 L732.1 256.7 L732.7 256.4 L733.4 256.0 L734.0 255.7 L734.6 255.4 L735.2 255.0 L735.8 254.7 L736.4 254.3 L737.0 254.0 L737.6 253.6 L738.3 253.3 L738.9 252.9 L739.5 252.6 L740.1 252.2 L740.7 251.9 L741.3 251.6 L741.9 251.2 L742.5 250.9 L743.1 250.5 L743.8 250.2 L744.4 249.8 L745.0 249.5 L745.6 249.1 L746.2 248.8 L746.8 248.4 L747.4 248.1 L748.0 247.7 L748.6 247.4 L749.2 247.0 L749.8 246.6 L750.5 246.3 L751.1 245.9 L751.7 245.6 L752.3 245.2 L752.9 244.9 L753.5 244.5 L754.1 244.2 L754.7 243.8 L755.3 243.5 L755.9 243.1 L756.5 242.8 L757.1 242.4 L757.8 242.1 L758.4 241.7 L759.0 241.4 L759.6 241.0 L760.2 240.7 L760.8 240.3 L761.4 240.0 L762.0 239.6 L762.6 239.3 L763.3 239.0 L763.9 238.6 L764.5 238.3 L765.1 237.9 L765.7 237.6 L766.3 237.2 L766.9 236.9 L767.5 236.5 L768.1 236.2 L768.8 235.8 L769.4 235.5 L770.0 235.1 L770.6 234.8 L771.2 234.5 L771.8 234.1 L772.4 233.8 L773.0 233.4 L773.7 233.1 L774.3 232.7 L774.9 232.4 L775.5 232.0 L776.1 231.7 L776.7 231.3 L777.3 231.0 L777.9 230.7 L778.6 230.3 L779.2 230.0 L779.8 229.6 L780.4 229.3 L781.0 228.9 L781.6 228.6 L782.2 228.3 L782.8 227.9 L783.5 227.6 L784.1 227.2 L784.7 226.9 L785.3 226.5 L785.9 226.2 L786.5 225.8 L787.1 225.5 L787.7 225.2 L788.4 224.8 L789.0 224.5 L789.6 224.1 L790.2 223.8 L790.8 223.5 L791.4 223.1 L792.0 222.8 L792.7 222.4 L793.3 222.1 L793.9 221.7 L794.5 221.4 L794.5 292.3 L600.5 551.0Z" fill="url(#g4)" shape-rendering="crispEdges"/>
<g fill="none" stroke="#000" stroke-width="2.7"><path d="M574.5 585.5L600.5 551.0" stroke="#000" stroke-width="9.2" stroke-linecap="round" fill="none"/><path d="M600.5 554.0L600.5 536.0" stroke="#000" stroke-width="9" stroke-linecap="butt" fill="none"/><path d="M600.5 209.6L600.5 203.1" stroke="#000" stroke-width="9" stroke-linecap="round" fill="none"/><circle cx="600.5" cy="537.0" r="3.0"/><circle cx="600.5" cy="532.5" r="3.0"/><circle cx="600.5" cy="527.4" r="3.0"/><circle cx="600.5" cy="521.8" r="3.0"/><circle cx="600.5" cy="515.6" r="3.0"/><circle cx="600.5" cy="508.7" r="3.0"/><circle cx="600.5" cy="501.1" r="3.0"/><circle cx="600.5" cy="492.6" r="3.0"/><circle cx="600.5" cy="483.2" r="3.0"/><circle cx="600.5" cy="472.7" r="3.0"/><circle cx="600.5" cy="461.1" r="3.0"/><circle cx="600.5" cy="448.2" r="3.0"/><circle cx="600.5" cy="433.9" r="3.0"/><circle cx="600.5" cy="418.0" r="3.0"/><circle cx="600.5" cy="402.0" r="3.0"/><circle cx="600.5" cy="386.0" r="3.0"/><circle cx="600.5" cy="370.0" r="3.0"/><circle cx="600.5" cy="354.2" r="3.0"/><circle cx="600.5" cy="339.5" r="3.0"/><circle cx="600.5" cy="326.0" r="3.0"/><circle cx="600.5" cy="313.5" r="3.0"/><circle cx="600.5" cy="301.9" r="3.0"/><circle cx="600.5" cy="291.1" r="3.0"/><circle cx="600.5" cy="281.2" r="3.0"/><circle cx="600.5" cy="272.1" r="3.0"/><circle cx="600.5" cy="263.6" r="3.0"/><circle cx="600.5" cy="255.7" r="3.0"/><circle cx="600.5" cy="248.5" r="3.0"/><circle cx="600.5" cy="241.8" r="3.0"/><circle cx="600.5" cy="235.5" r="3.0"/><circle cx="600.5" cy="229.8" r="3.0"/><circle cx="600.5" cy="224.5" r="3.0"/><circle cx="600.5" cy="219.6" r="3.0"/><circle cx="600.5" cy="215.0" r="3.0"/><circle cx="600.5" cy="210.8" r="3.0"/><path d="M599.3 204.0 L600.0 204.2 L600.7 204.4 L601.4 204.6 L601.9 204.7 L602.3 204.8 L602.4 204.8 L602.5 204.6 L602.6 204.6 L602.9 205.0 L603.2 205.4 L603.5 205.9 L603.7 206.4 L604.0 206.9 L604.2 207.5 L604.4 208.1 L604.6 208.7 L604.8 209.4 L604.9 210.1 L605.0 210.8 L605.1 211.5 L605.2 212.3 L605.3 213.0 L605.4 213.8 L605.4 214.6 L605.5 215.3 L605.6 216.1 L605.6 216.9 L605.7 217.7 L605.7 218.4 L605.8 219.2 L605.9 220.0 L605.9 220.7 L606.0 221.5 L606.1 222.2 L606.2 222.9 L606.3 223.6 L606.4 224.3 L606.5 225.0 L606.6 225.7 L606.7 226.4 L606.7 227.1 L606.8 227.8 L606.9 228.5 L607.0 229.2 L607.1 229.9 L607.3 230.6 L607.4 231.3 L607.5 232.0 L607.6 232.7 L607.7 233.4 L607.8 234.1 L607.9 234.8 L608.0 235.5 L608.1 236.2 L608.2 236.9 L608.3 237.6 L608.4 238.2 L608.6 238.9 L608.7 239.6 L608.8 240.3 L608.9 241.0 L609.0 241.7 L609.1 242.4 L609.2 243.1 L609.3 243.8 L609.4 244.5 L609.5 245.2 L609.6 245.9 L609.7 246.6 L609.9 247.3 L610.0 248.0 L610.1 248.7 L610.2 249.4 L610.3 250.0 L610.4 250.7 L610.5 251.4 L610.6 252.1 L610.7 252.8 L610.8 253.5 L610.9 254.2 L611.0 254.9 L611.1 255.6 L611.2 256.3 L611.4 257.0 L611.5 257.7 L611.6 258.4 L611.7 259.1 L611.8 259.8 L611.9 260.5 L612.0 261.2 L612.1 261.9 L612.2 262.5 L612.3 263.2 L612.4 263.9 L612.5 264.6 L612.7 265.3 L612.8 266.0 L612.9 266.7 L613.0 267.4 L613.1 268.1 L613.2 268.8 L613.3 269.5 L613.4 270.2 L613.5 270.9 L613.6 271.6 L613.7 272.3 L613.8 273.0 L613.8 273.7 L613.9 274.4 L614.0 275.1 L614.1 275.8 L614.2 276.5 L614.3 277.2 L614.4 277.9 L614.5 278.6 L614.6 279.3 L614.6 280.0 L614.7 280.7 L614.8 281.4 L614.9 282.1 L615.0 282.8 L615.1 283.5 L615.2 284.2 L615.3 284.9 L615.4 285.6 L615.5 286.3 L615.6 287.0 L615.7 287.7 L615.9 288.4 L616.0 289.1 L616.1 289.9 L616.3 290.6 L616.4 291.3 L616.6 292.1 L616.7 292.8 L616.9 293.5 L617.1 294.3 L617.3 295.0 L617.5 295.7 L617.7 296.5 L617.9 297.2 L618.2 297.9 L618.5 298.7 L618.9 299.4 L619.3 300.2 L619.7 300.9 L620.2 301.7 L620.7 302.4 L621.2 303.1 L621.8 303.8 L622.3 304.4 L622.9 304.9 L623.5 305.5 L624.1 306.0 L624.9 306.6 L625.8 307.2 L626.7 307.7 L627.8 308.1 L629.1 308.4 L630.2 308.5 L631.0 308.6 L631.8 308.6 L632.5 308.6 L633.3 308.6 L634.0 308.5 L634.8 308.5 L635.5 308.4 L636.3 308.4 L637.1 308.3 L638.0 308.1 L638.9 308.0 L639.7 307.8 L640.5 307.5 L641.3 307.3 L642.0 307.1 L642.7 306.8 L643.4 306.6 L644.0 306.3 L644.6 306.1 L645.3 305.9 L646.0 305.7 L646.7 305.4 L647.4 305.2 L648.1 304.9 L648.8 304.7 L649.5 304.4 L650.1 304.2 L650.8 303.9 L651.5 303.7 L652.2 303.4 L652.8 303.1 L653.5 302.8 L654.2 302.6 L654.8 302.3 L655.5 302.0 L656.2 301.7 L656.8 301.4 L657.5 301.1 L658.1 300.9 L658.8 300.6 L659.4 300.3 L660.1 300.0 L660.7 299.7 L661.4 299.4 L662.0 299.1 L662.7 298.8 L663.3 298.5 L664.0 298.2 L664.6 297.9 L665.3 297.6 L665.9 297.2 L666.6 296.9 L667.2 296.6 L667.9 296.3 L668.5 295.9 L669.2 295.6 L669.8 295.3 L670.4 294.9 L671.1 294.6 L671.7 294.3 L672.3 293.9 L672.9 293.6 L673.6 293.3 L674.2 292.9 L674.8 292.6 L675.4 292.2 L676.1 291.9 L676.7 291.6 L677.3 291.2 L677.9 290.9 L678.5 290.6 L679.1 290.2 L679.8 289.9 L680.4 289.6 L681.0 289.2 L681.6 288.9 L682.2 288.6 L682.8 288.3 L683.5 287.9 L684.1 287.6 L684.7 287.3 L685.3 287.0 L685.9 286.6 L686.6 286.3 L687.2 286.0 L687.8 285.6 L688.4 285.3 L689.1 285.0 L689.7 284.6 L690.3 284.3 L690.9 284.0 L691.5 283.6 L692.2 283.3 L692.8 283.0 L693.4 282.6 L694.0 282.3 L694.6 282.0 L695.3 281.6 L695.9 281.3 L696.5 281.0 L697.1 280.6 L697.7 280.3 L698.4 280.0 L699.0 279.6 L699.6 279.3 L700.2 279.0 L700.8 278.6 L701.5 278.3 L702.1 278.0 L702.7 277.6 L703.3 277.3 L703.9 276.9 L704.5 276.6 L705.2 276.3 L705.8 275.9 L706.4 275.6 L707.0 275.3 L707.6 274.9 L708.3 274.6 L708.9 274.2 L709.5 273.9 L710.1 273.6 L710.7 273.2 L711.3 272.9 L712.0 272.5 L712.6 272.2 L713.2 271.9 L713.8 271.5 L714.4 271.2 L715.0 270.8 L715.7 270.5 L716.3 270.2 L716.9 269.8 L717.5 269.5 L718.1 269.1 L718.7 268.8 L719.3 268.5 L720.0 268.1 L720.6 267.8 L721.2 267.4 L721.8 267.1 L722.4 266.7 L723.0 266.4 L723.6 266.1 L724.3 265.7 L724.9 265.4 L725.5 265.0 L726.1 264.7 L726.7 264.3 L727.3 264.0 L728.0 263.7 L728.6 263.3 L729.2 263.0 L729.8 262.6 L730.4 262.3 L731.0 261.9 L731.6 261.6 L732.3 261.3 L732.9 260.9 L733.5 260.6 L734.1 260.2 L734.7 259.9 L735.3 259.5 L735.9 259.2 L736.5 258.8 L737.2 258.5 L737.8 258.2 L738.4 257.8 L739.0 257.5 L739.6 257.1 L740.2 256.8 L740.8 256.4 L741.5 256.1 L742.1 255.7 L742.7 255.4 L743.3 255.0 L743.9 254.7 L744.5 254.3 L745.1 254.0 L745.7 253.6 L746.3 253.3 L747.0 252.9 L747.6 252.6 L748.2 252.2 L748.8 251.9 L749.4 251.5 L750.0 251.2 L750.6 250.8 L751.2 250.4 L751.8 250.1 L752.4 249.7 L753.1 249.4 L753.7 249.0 L754.3 248.7 L754.9 248.3 L755.5 248.0 L756.1 247.6 L756.7 247.3 L757.3 246.9 L757.9 246.6 L758.5 246.2 L759.1 245.9 L759.7 245.5 L760.3 245.2 L761.0 244.8 L761.6 244.5 L762.2 244.2 L762.8 243.8 L763.4 243.5 L764.0 243.1 L764.6 242.8 L765.2 242.4 L765.8 242.1 L766.4 241.7 L767.1 241.4 L767.7 241.0 L768.3 240.7 L768.9 240.3 L769.5 240.0 L770.1 239.7 L770.7 239.3 L771.3 239.0 L771.9 238.6 L772.6 238.3 L773.2 237.9 L773.8 237.6 L774.4 237.2 L775.0 236.9 L775.6 236.6 L776.2 236.2 L776.8 235.9 L777.4 235.5 L778.1 235.2 L778.7 234.8 L779.3 234.5 L779.9 234.1 L780.5 233.8 L781.1 233.5 L781.7 233.1 L782.3 232.8 L783.0 232.4 L783.6 232.1 L784.2 231.7 L784.8 231.4 L785.4 231.1 L786.0 230.7 L786.6 230.4 L787.2 230.0 L787.9 229.7 L788.5 229.3 L789.1 229.0 L789.7 228.7 L790.3 228.3 L790.9 228.0 L791.5 227.6 L792.2 227.3 L792.8 227.0 L793.4 226.6 L794.0 226.3 L794.6 225.9 L795.2 225.6 L795.8 225.2 L796.4 224.9 L792.6 217.9 L791.9 218.2 L791.3 218.6 L790.7 218.9 L790.1 219.3 L789.5 219.6 L788.9 220.0 L788.3 220.3 L787.6 220.6 L787.0 221.0 L786.4 221.3 L785.8 221.7 L785.2 222.0 L784.6 222.4 L784.0 222.7 L783.3 223.0 L782.7 223.4 L782.1 223.7 L781.5 224.1 L780.9 224.4 L780.3 224.8 L779.7 225.1 L779.0 225.4 L778.4 225.8 L777.8 226.1 L777.2 226.5 L776.6 226.8 L776.0 227.2 L775.4 227.5 L774.8 227.9 L774.1 228.2 L773.5 228.6 L772.9 228.9 L772.3 229.2 L771.7 229.6 L771.1 229.9 L770.5 230.3 L769.8 230.6 L769.2 231.0 L768.6 231.3 L768.0 231.7 L767.4 232.0 L766.8 232.4 L766.2 232.7 L765.6 233.0 L765.0 233.4 L764.3 233.7 L763.7 234.1 L763.1 234.4 L762.5 234.8 L761.9 235.1 L761.3 235.5 L760.7 235.8 L760.1 236.2 L759.4 236.5 L758.8 236.9 L758.2 237.2 L757.6 237.6 L757.0 237.9 L756.4 238.3 L755.8 238.6 L755.2 239.0 L754.6 239.3 L753.9 239.7 L753.3 240.0 L752.7 240.4 L752.1 240.7 L751.5 241.1 L750.9 241.4 L750.3 241.8 L749.7 242.1 L749.1 242.5 L748.5 242.8 L747.8 243.2 L747.2 243.6 L746.6 243.9 L746.0 244.3 L745.4 244.6 L744.8 245.0 L744.2 245.3 L743.6 245.7 L743.0 246.0 L742.4 246.4 L741.8 246.7 L741.2 247.0 L740.6 247.4 L739.9 247.7 L739.3 248.1 L738.7 248.4 L738.1 248.8 L737.5 249.1 L736.9 249.5 L736.3 249.8 L735.7 250.2 L735.1 250.5 L734.5 250.8 L733.8 251.2 L733.2 251.5 L732.6 251.9 L732.0 252.2 L731.4 252.6 L730.8 252.9 L730.2 253.2 L729.6 253.6 L729.0 253.9 L728.3 254.3 L727.7 254.6 L727.1 255.0 L726.5 255.3 L725.9 255.6 L725.3 256.0 L724.7 256.3 L724.0 256.7 L723.4 257.0 L722.8 257.3 L722.2 257.7 L721.6 258.0 L721.0 258.4 L720.4 258.7 L719.8 259.1 L719.1 259.4 L718.5 259.7 L717.9 260.1 L717.3 260.4 L716.7 260.8 L716.1 261.1 L715.5 261.4 L714.8 261.8 L714.2 262.1 L713.6 262.5 L713.0 262.8 L712.4 263.1 L711.8 263.5 L711.2 263.8 L710.5 264.1 L709.9 264.5 L709.3 264.8 L708.7 265.2 L708.1 265.5 L707.5 265.8 L706.9 266.2 L706.2 266.5 L705.6 266.9 L705.0 267.2 L704.4 267.5 L703.8 267.9 L703.2 268.2 L702.5 268.5 L701.9 268.9 L701.3 269.2 L700.7 269.5 L700.1 269.9 L699.5 270.2 L698.9 270.5 L698.2 270.9 L697.6 271.2 L697.0 271.5 L696.4 271.9 L695.8 272.2 L695.1 272.5 L694.5 272.9 L693.9 273.2 L693.3 273.5 L692.7 273.9 L692.1 274.2 L691.4 274.5 L690.8 274.9 L690.2 275.2 L689.6 275.5 L689.0 275.9 L688.4 276.2 L687.7 276.5 L687.1 276.9 L686.5 277.2 L685.9 277.5 L685.3 277.8 L684.6 278.2 L684.0 278.5 L683.4 278.8 L682.8 279.2 L682.2 279.5 L681.5 279.8 L680.9 280.1 L680.3 280.5 L679.7 280.8 L679.1 281.1 L678.4 281.5 L677.8 281.8 L677.2 282.1 L676.6 282.5 L675.9 282.8 L675.3 283.1 L674.7 283.5 L674.1 283.8 L673.4 284.1 L672.8 284.5 L672.2 284.8 L671.6 285.1 L671.0 285.5 L670.4 285.8 L669.7 286.1 L669.1 286.5 L668.5 286.8 L667.9 287.1 L667.3 287.4 L666.7 287.7 L666.1 288.1 L665.4 288.4 L664.8 288.7 L664.2 289.0 L663.6 289.3 L663.0 289.6 L662.4 289.9 L661.8 290.2 L661.1 290.4 L660.5 290.7 L659.9 291.0 L659.3 291.3 L658.6 291.6 L658.0 291.8 L657.4 292.1 L656.7 292.4 L656.1 292.7 L655.5 292.9 L654.8 293.2 L654.2 293.5 L653.5 293.8 L652.9 294.0 L652.3 294.3 L651.6 294.5 L651.0 294.8 L650.4 295.1 L649.7 295.3 L649.1 295.6 L648.4 295.8 L647.8 296.0 L647.2 296.3 L646.5 296.5 L645.9 296.7 L645.3 296.9 L644.6 297.2 L644.0 297.4 L643.4 297.6 L642.7 297.8 L642.0 298.0 L641.3 298.2 L640.6 298.4 L640.0 298.6 L639.3 298.8 L638.7 299.0 L638.1 299.2 L637.5 299.3 L637.0 299.4 L636.5 299.5 L636.0 299.6 L635.5 299.6 L634.8 299.7 L634.2 299.7 L633.5 299.8 L632.8 299.9 L632.1 299.9 L631.5 300.0 L630.8 300.0 L630.3 300.1 L630.1 300.1 L630.0 300.1 L629.8 300.1 L629.4 300.0 L629.0 299.9 L628.5 299.6 L627.9 299.4 L627.4 299.0 L626.8 298.7 L626.4 298.5 L625.9 298.2 L625.5 297.9 L625.0 297.6 L624.6 297.2 L624.1 296.7 L623.7 296.3 L623.3 295.9 L623.0 295.4 L622.6 294.9 L622.3 294.4 L621.9 293.9 L621.6 293.3 L621.3 292.7 L621.0 292.1 L620.7 291.5 L620.5 290.9 L620.2 290.2 L620.0 289.6 L619.7 288.9 L619.5 288.3 L619.3 287.6 L619.2 287.0 L619.0 286.3 L618.8 285.7 L618.7 285.0 L618.5 284.3 L618.4 283.6 L618.2 283.0 L618.1 282.3 L617.9 281.6 L617.8 280.9 L617.7 280.2 L617.6 279.6 L617.5 278.9 L617.4 278.2 L617.2 277.5 L617.1 276.8 L617.0 276.1 L616.9 275.4 L616.9 274.7 L616.8 274.0 L616.7 273.3 L616.6 272.6 L616.5 271.9 L616.4 271.2 L616.3 270.5 L616.2 269.8 L616.1 269.1 L616.0 268.4 L615.9 267.7 L615.8 267.0 L615.7 266.3 L615.6 265.6 L615.5 264.9 L615.4 264.2 L615.3 263.5 L615.2 262.8 L615.1 262.1 L615.0 261.4 L614.9 260.7 L614.8 260.0 L614.7 259.3 L614.6 258.6 L614.5 257.9 L614.4 257.2 L614.3 256.5 L614.2 255.8 L614.1 255.2 L614.0 254.5 L613.9 253.8 L613.7 253.1 L613.6 252.4 L613.5 251.7 L613.4 251.0 L613.3 250.3 L613.2 249.6 L613.1 248.9 L613.0 248.2 L612.9 247.5 L612.8 246.8 L612.7 246.1 L612.6 245.4 L612.5 244.7 L612.4 244.0 L612.3 243.3 L612.2 242.6 L612.0 242.0 L611.9 241.3 L611.8 240.6 L611.7 239.9 L611.6 239.2 L611.5 238.5 L611.4 237.8 L611.3 237.1 L611.2 236.4 L611.1 235.7 L611.0 235.0 L610.8 234.3 L610.7 233.6 L610.6 232.9 L610.5 232.2 L610.4 231.5 L610.3 230.8 L610.2 230.2 L610.1 229.5 L610.0 228.8 L609.8 228.1 L609.7 227.4 L609.6 226.7 L609.5 226.0 L609.4 225.3 L609.3 224.6 L609.2 223.9 L609.1 223.2 L609.0 222.5 L608.9 221.8 L608.8 221.1 L608.7 220.4 L608.6 219.7 L608.5 218.9 L608.5 218.2 L608.4 217.4 L608.3 216.7 L608.3 215.9 L608.2 215.1 L608.1 214.3 L608.1 213.6 L608.0 212.8 L608.0 212.0 L607.9 211.3 L607.9 210.5 L607.9 209.8 L607.8 209.0 L607.8 208.3 L607.8 207.6 L607.8 206.9 L607.8 206.2 L607.8 205.5 L607.8 204.8 L607.8 204.2 L607.7 203.5 L607.7 202.8 L607.5 201.9 L606.9 200.9 L606.1 199.9 L605.3 199.2 L604.5 198.6 L603.8 198.1 L603.0 197.6 L602.3 197.2Z" fill="#000" stroke="#000" stroke-width="0.6" stroke-linejoin="round"/><circle cx="794.5" cy="221.4" r="4.0" fill="#000" stroke="none"/></g>
<path d="M721.6 551.0 L721.6 298.2 L721.9 300.2 L722.4 300.8 L722.9 301.3 L723.4 301.9 L723.9 302.4 L724.3 303.0 L724.7 303.6 L725.0 304.2 L725.2 304.8 L725.3 305.5 L725.4 306.1 L725.4 306.7 L725.5 307.4 L725.6 308.1 L725.6 308.7 L725.7 309.4 L725.7 310.1 L725.8 310.8 L725.8 311.5 L725.9 312.2 L725.9 313.0 L725.9 313.7 L726.0 314.4 L726.0 315.1 L726.0 315.9 L726.0 316.6 L726.1 317.3 L726.1 318.0 L726.1 318.8 L726.2 319.5 L726.2 320.2 L726.3 320.9 L726.3 321.6 L726.4 322.3 L726.4 323.0 L726.5 323.7 L726.5 324.4 L726.6 325.1 L726.6 325.8 L726.7 326.6 L726.8 327.3 L726.8 328.0 L726.9 328.7 L727.0 329.4 L727.0 330.1 L727.1 330.8 L727.1 331.5 L727.2 332.2 L727.3 332.9 L727.3 333.6 L727.4 334.3 L727.5 335.0 L727.6 335.7 L727.6 336.4 L727.7 337.1 L727.8 337.8 L727.9 338.5 L727.9 339.2 L728.0 339.9 L728.1 340.6 L728.2 341.3 L728.2 342.0 L728.3 342.7 L728.4 343.4 L728.5 344.1 L728.6 344.8 L728.7 345.5 L728.7 346.2 L728.8 346.9 L728.9 347.5 L729.0 348.2 L729.1 348.9 L729.2 349.6 L729.3 350.3 L729.4 351.0 L729.5 351.7 L729.6 352.4 L729.7 353.1 L729.8 353.8 L729.9 354.5 L730.0 355.2 L730.1 355.9 L730.2 356.6 L730.3 357.3 L730.4 358.0 L730.6 358.7 L730.7 359.4 L730.8 360.1 L730.9 360.8 L731.0 361.4 L731.2 362.1 L731.3 362.8 L731.4 363.5 L731.6 364.2 L731.7 364.9 L731.9 365.6 L732.0 366.3 L732.1 367.0 L732.3 367.7 L732.4 368.4 L732.6 369.1 L732.7 369.7 L732.9 370.4 L733.1 371.1 L733.2 371.8 L733.4 372.5 L733.5 373.2 L733.7 373.8 L733.9 374.5 L734.1 375.2 L734.2 375.9 L734.4 376.6 L734.6 377.2 L734.8 377.9 L734.9 378.6 L735.1 379.3 L735.3 380.0 L735.5 380.6 L735.7 381.3 L735.9 382.0 L736.1 382.7 L736.3 383.4 L736.5 384.1 L736.7 384.8 L737.0 385.5 L737.2 386.1 L737.4 386.8 L737.7 387.5 L737.9 388.2 L738.2 388.8 L738.4 389.5 L738.7 390.1 L738.9 390.8 L739.2 391.4 L739.5 392.1 L739.8 392.7 L740.1 393.3 L740.4 393.9 L740.7 394.5 L741.0 395.1 L741.4 395.7 L741.7 396.3 L742.1 396.8 L742.6 397.4 L743.0 398.0 L743.5 398.5 L744.0 399.0 L744.5 399.6 L745.0 400.1 L745.5 400.6 L746.0 401.1 L746.5 401.5 L747.0 402.0 L747.6 402.4 L748.1 402.8 L748.7 403.3 L749.2 403.7 L749.8 404.1 L750.4 404.5 L751.0 404.9 L751.6 405.3 L752.2 405.7 L752.8 406.1 L753.4 406.5 L754.0 406.8 L754.6 407.2 L755.3 407.5 L755.9 407.8 L756.5 408.1 L757.1 408.4 L757.8 408.7 L758.4 408.9 L759.1 409.2 L759.7 409.4 L760.4 409.7 L761.0 409.9 L761.7 410.1 L762.3 410.3 L763.0 410.6 L763.7 410.8 L764.4 411.0 L765.0 411.2 L765.7 411.4 L766.4 411.6 L767.1 411.8 L767.8 411.9 L768.5 412.1 L769.2 412.3 L769.8 412.5 L770.5 412.6 L771.2 412.8 L771.9 413.0 L772.6 413.1 L773.3 413.3 L774.0 413.5 L774.7 413.6 L775.3 413.8 L776.0 414.0 L776.7 414.1 L777.4 414.3 L778.1 414.5 L778.8 414.6 L779.4 414.8 L780.1 415.0 L780.8 415.1 L781.5 415.3 L782.2 415.5 L782.9 415.6 L783.6 415.7 L784.3 415.9 L785.0 416.0 L785.7 416.1 L786.4 416.3 L787.0 416.4 L787.7 416.5 L788.4 416.6 L789.1 416.7 L789.8 416.7 L790.5 416.8 L791.2 416.8 L791.9 416.9 L792.6 417.0 L793.3 417.0 L794.0 417.1 L794.7 417.1 L795.4 417.2 L796.1 417.2 L796.8 417.2 L797.5 417.3 L798.2 417.3 L798.9 417.4 L799.6 417.4 L800.3 417.4 L801.0 417.5 L801.7 417.5 L802.5 417.5 L803.2 417.5 L803.9 417.6 L804.6 417.6 L805.3 417.6 L806.0 417.6 L806.7 417.6 L807.4 417.6 L808.1 417.6 L808.8 417.6 L809.5 417.6 L810.2 417.6 L810.9 417.5 L811.6 417.5 L812.3 417.5 L813.0 417.5 L813.7 417.4 L814.4 417.4 L815.1 417.4 L815.8 417.3 L816.5 417.3 L817.2 417.2 L817.9 417.2 L818.6 417.1 L819.3 417.1 L820.0 417.1 L820.7 417.0 L821.4 417.0 L822.1 416.9 L822.8 416.8 L823.5 416.8 L824.2 416.7 L824.9 416.7 L825.6 416.6 L826.3 416.5 L827.0 416.5 L827.7 416.4 L828.4 416.3 L829.1 416.2 L829.8 416.1 L830.5 416.0 L831.2 415.9 L831.9 415.8 L832.6 415.6 L833.3 415.5 L834.0 415.4 L834.7 415.3 L835.4 415.2 L836.1 415.0 L836.8 414.9 L837.5 414.8 L838.2 414.6 L838.8 414.5 L839.5 414.4 L840.2 414.3 L840.9 414.1 L841.6 414.0 L842.3 413.8 L843.0 413.7 L843.7 413.5 L844.3 413.4 L845.0 413.2 L845.7 413.1 L846.4 412.9 L847.1 412.7 L847.8 412.5 L848.4 412.4 L849.1 412.2 L849.8 412.0 L850.5 411.8 L851.2 411.7 L851.8 411.5 L852.5 411.3 L853.2 411.1 L853.9 410.9 L854.6 410.7 L855.2 410.5 L855.9 410.4 L856.6 410.2 L857.3 410.0 L858.0 409.8 L858.6 409.6 L859.3 409.4 L860.0 409.2 L860.7 409.1 L861.3 408.9 L862.0 408.7 L862.7 408.5 L863.4 408.3 L864.1 408.1 L864.7 407.9 L865.4 407.7 L866.1 407.5 L866.8 407.3 L867.4 407.1 L868.1 406.9 L868.8 406.7 L869.4 406.4 L870.1 406.2 L870.8 406.0 L871.4 405.8 L872.1 405.6 L872.8 405.3 L873.4 405.1 L874.1 404.9 L874.8 404.6 L875.4 404.4 L876.1 404.2 L876.7 403.9 L877.4 403.7 L878.0 403.4 L878.7 403.2 L879.4 402.9 L880.0 402.6 L880.7 402.4 L881.3 402.1 L882.0 401.8 L882.6 401.6 L883.3 401.3 L883.9 401.0 L884.6 400.7 L885.2 400.5 L885.9 400.2 L886.5 399.9 L887.2 399.6 L887.8 399.4 L888.5 399.1 L889.1 398.8 L889.8 398.6 L890.4 398.3 L891.0 398.0 L891.7 397.7 L892.3 397.4 L893.0 397.1 L893.6 396.9 L894.3 396.6 L894.9 396.3 L895.5 396.0 L896.2 395.7 L896.8 395.4 L897.5 395.1 L898.1 394.8 L898.7 394.5 L899.4 394.2 L900.0 394.0 L900.7 393.7 L901.3 393.4 L901.9 393.1 L902.6 392.8 L903.2 392.5 L903.9 392.2 L904.5 391.9 L905.1 391.6 L905.8 391.3 L906.4 391.1 L907.1 390.8 L907.7 390.5 L908.4 390.2 L909.0 389.9 L909.7 389.7 L910.3 389.4 L910.9 389.1 L911.6 388.8 L912.2 388.5 L912.9 388.2 L913.5 388.0 L914.2 387.7 L914.8 387.4 L915.5 387.1 L916.1 386.9 L916.8 386.6 L917.4 386.3 L917.4 289.9 L721.6 551.0Z" fill="url(#g5)" shape-rendering="crispEdges"/>
<g fill="none" stroke="#000" stroke-width="2.7"><path d="M695.6 585.5L721.6 551.0" stroke="#000" stroke-width="9.2" stroke-linecap="round" fill="none"/><path d="M721.6 554.0L721.6 536.0" stroke="#000" stroke-width="9" stroke-linecap="butt" fill="none"/><path d="M721.6 312.2L721.6 302.7" stroke="#000" stroke-width="9" stroke-linecap="round" fill="none"/><circle cx="721.6" cy="537.0" r="3.0"/><circle cx="721.6" cy="532.5" r="3.0"/><circle cx="721.6" cy="527.4" r="3.0"/><circle cx="721.6" cy="521.8" r="3.0"/><circle cx="721.6" cy="515.6" r="3.0"/><circle cx="721.6" cy="508.7" r="3.0"/><circle cx="721.6" cy="501.1" r="3.0"/><circle cx="721.6" cy="492.6" r="3.0"/><circle cx="721.6" cy="483.2" r="3.0"/><circle cx="721.6" cy="473.0" r="3.0"/><circle cx="721.6" cy="462.8" r="3.0"/><circle cx="721.6" cy="452.6" r="3.0"/><circle cx="721.6" cy="442.4" r="3.0"/><circle cx="721.6" cy="432.2" r="3.0"/><circle cx="721.6" cy="422.0" r="3.0"/><circle cx="721.6" cy="411.8" r="3.0"/><circle cx="721.6" cy="401.6" r="3.0"/><circle cx="721.6" cy="391.4" r="3.0"/><circle cx="721.6" cy="381.6" r="3.0"/><circle cx="721.6" cy="372.6" r="3.0"/><circle cx="721.6" cy="364.3" r="3.0"/><circle cx="721.6" cy="356.6" r="3.0"/><circle cx="721.6" cy="349.4" r="3.0"/><circle cx="721.6" cy="342.9" r="3.0"/><circle cx="721.6" cy="336.8" r="3.0"/><circle cx="721.6" cy="331.1" r="3.0"/><circle cx="721.6" cy="325.9" r="3.0"/><circle cx="721.6" cy="321.1" r="3.0"/><circle cx="721.6" cy="316.6" r="3.0"/><circle cx="721.6" cy="312.5" r="3.0"/><path d="M719.7 302.2 L720.3 302.7 L720.8 303.2 L721.4 303.6 L721.9 304.0 L722.3 304.4 L722.6 304.8 L722.9 305.0 L723.0 305.3 L723.2 305.8 L723.4 306.3 L723.6 307.0 L723.7 307.6 L723.9 308.2 L724.1 308.9 L724.2 309.5 L724.3 310.2 L724.4 310.9 L724.5 311.6 L724.5 312.3 L724.5 313.0 L724.6 313.7 L724.6 314.5 L724.6 315.2 L724.7 315.9 L724.7 316.6 L724.7 317.4 L724.8 318.1 L724.8 318.8 L724.8 319.6 L724.9 320.3 L724.9 321.0 L725.0 321.7 L725.0 322.4 L725.1 323.2 L725.1 323.9 L725.2 324.6 L725.2 325.3 L725.3 326.0 L725.4 326.7 L725.4 327.4 L725.5 328.1 L725.5 328.8 L725.6 329.5 L725.7 330.2 L725.7 330.9 L725.8 331.6 L725.9 332.3 L725.9 333.0 L726.0 333.7 L726.1 334.4 L726.1 335.1 L726.2 335.8 L726.3 336.5 L726.4 337.2 L726.4 337.9 L726.5 338.6 L726.6 339.3 L726.7 340.0 L726.7 340.7 L726.8 341.4 L726.9 342.1 L727.0 342.8 L727.0 343.5 L727.1 344.2 L727.2 344.9 L727.3 345.6 L727.4 346.3 L727.4 347.0 L727.5 347.7 L727.6 348.4 L727.7 349.1 L727.8 349.8 L727.9 350.5 L728.0 351.2 L728.0 351.9 L728.1 352.6 L728.2 353.3 L728.3 354.0 L728.4 354.7 L728.5 355.4 L728.6 356.1 L728.7 356.8 L728.8 357.5 L728.9 358.2 L729.0 358.9 L729.1 359.6 L729.3 360.3 L729.4 361.0 L729.5 361.7 L729.6 362.4 L729.7 363.1 L729.9 363.8 L730.0 364.5 L730.1 365.2 L730.2 365.9 L730.4 366.6 L730.5 367.3 L730.6 368.0 L730.8 368.7 L730.9 369.4 L731.1 370.1 L731.2 370.8 L731.4 371.5 L731.5 372.2 L731.7 372.9 L731.8 373.6 L732.0 374.3 L732.1 375.0 L732.3 375.7 L732.5 376.3 L732.6 377.0 L732.8 377.7 L733.0 378.4 L733.1 379.1 L733.3 379.8 L733.5 380.5 L733.7 381.2 L733.8 381.9 L734.0 382.6 L734.2 383.3 L734.4 384.0 L734.6 384.7 L734.8 385.4 L735.0 386.1 L735.2 386.8 L735.4 387.5 L735.6 388.2 L735.9 388.9 L736.1 389.6 L736.3 390.3 L736.5 391.0 L736.8 391.7 L737.0 392.4 L737.3 393.1 L737.5 393.8 L737.8 394.5 L738.1 395.1 L738.3 395.8 L738.6 396.5 L738.9 397.2 L739.3 397.9 L739.7 398.6 L740.2 399.3 L740.6 399.9 L741.1 400.6 L741.6 401.2 L742.1 401.9 L742.6 402.5 L743.1 403.1 L743.7 403.6 L744.2 404.2 L744.7 404.7 L745.3 405.2 L745.8 405.7 L746.4 406.2 L747.0 406.7 L747.6 407.2 L748.2 407.7 L748.8 408.1 L749.4 408.6 L750.1 409.0 L750.7 409.5 L751.4 409.9 L752.1 410.3 L752.7 410.7 L753.4 411.1 L754.1 411.5 L754.8 411.8 L755.5 412.2 L756.2 412.5 L756.9 412.8 L757.5 413.1 L758.2 413.4 L758.9 413.6 L759.6 413.9 L760.3 414.2 L761.0 414.4 L761.7 414.6 L762.4 414.9 L763.1 415.1 L763.8 415.3 L764.6 415.5 L765.3 415.7 L766.0 415.9 L766.7 416.1 L767.4 416.3 L768.1 416.5 L768.8 416.7 L769.5 416.8 L770.2 417.0 L770.9 417.2 L771.6 417.4 L772.3 417.5 L773.0 417.7 L773.6 417.9 L774.3 418.0 L775.0 418.2 L775.7 418.4 L776.3 418.5 L777.0 418.7 L777.7 418.9 L778.4 419.0 L779.1 419.2 L779.8 419.4 L780.5 419.6 L781.3 419.7 L782.0 419.9 L782.7 420.0 L783.4 420.2 L784.2 420.3 L784.9 420.5 L785.6 420.6 L786.4 420.7 L787.1 420.8 L787.9 421.0 L788.6 421.0 L789.4 421.1 L790.2 421.2 L790.9 421.3 L791.6 421.3 L792.3 421.4 L793.0 421.4 L793.7 421.5 L794.4 421.5 L795.1 421.6 L795.8 421.6 L796.5 421.7 L797.3 421.7 L798.0 421.8 L798.7 421.8 L799.4 421.8 L800.1 421.9 L800.9 421.9 L801.6 421.9 L802.3 422.0 L803.0 422.0 L803.8 422.0 L804.5 422.0 L805.2 422.0 L805.9 422.0 L806.7 422.0 L807.4 422.0 L808.1 422.0 L808.8 422.0 L809.6 422.0 L810.3 422.0 L811.0 422.0 L811.8 422.0 L812.5 421.9 L813.2 421.9 L813.9 421.9 L814.6 421.8 L815.4 421.8 L816.1 421.8 L816.8 421.7 L817.5 421.7 L818.2 421.6 L818.9 421.6 L819.6 421.5 L820.3 421.5 L821.0 421.4 L821.8 421.4 L822.5 421.3 L823.2 421.3 L823.9 421.2 L824.6 421.2 L825.3 421.1 L826.1 421.0 L826.8 420.9 L827.5 420.9 L828.3 420.8 L829.0 420.7 L829.7 420.6 L830.5 420.5 L831.2 420.3 L831.9 420.2 L832.6 420.1 L833.3 420.0 L834.0 419.9 L834.8 419.7 L835.5 419.6 L836.2 419.5 L836.9 419.4 L837.6 419.2 L838.3 419.1 L839.0 419.0 L839.7 418.8 L840.3 418.7 L841.0 418.6 L841.8 418.4 L842.5 418.3 L843.2 418.1 L843.9 418.0 L844.6 417.8 L845.3 417.6 L846.0 417.5 L846.7 417.3 L847.4 417.1 L848.1 416.9 L848.8 416.8 L849.5 416.6 L850.2 416.4 L850.9 416.2 L851.6 416.0 L852.3 415.8 L853.0 415.7 L853.7 415.5 L854.3 415.3 L855.0 415.1 L855.7 414.9 L856.4 414.7 L857.1 414.5 L857.7 414.3 L858.4 414.2 L859.1 414.0 L859.8 413.8 L860.5 413.6 L861.2 413.4 L861.8 413.2 L862.5 413.0 L863.2 412.8 L863.9 412.6 L864.6 412.4 L865.3 412.2 L865.9 412.0 L866.6 411.8 L867.3 411.6 L868.0 411.4 L868.7 411.2 L869.4 411.0 L870.1 410.7 L870.7 410.5 L871.4 410.3 L872.1 410.1 L872.8 409.8 L873.5 409.6 L874.2 409.4 L874.8 409.1 L875.5 408.9 L876.2 408.6 L876.9 408.4 L877.6 408.1 L878.2 407.9 L878.9 407.6 L879.6 407.3 L880.2 407.1 L880.9 406.8 L881.6 406.5 L882.2 406.3 L882.9 406.0 L883.6 405.7 L884.2 405.4 L884.9 405.2 L885.5 404.9 L886.2 404.6 L886.8 404.3 L887.5 404.0 L888.1 403.8 L888.8 403.5 L889.4 403.2 L890.1 402.9 L890.7 402.7 L891.4 402.4 L892.0 402.1 L892.7 401.8 L893.4 401.5 L894.0 401.2 L894.7 400.9 L895.3 400.7 L896.0 400.4 L896.6 400.1 L897.2 399.8 L897.9 399.5 L898.5 399.2 L899.2 398.9 L899.8 398.6 L900.5 398.3 L901.1 398.0 L901.7 397.7 L902.4 397.4 L903.0 397.1 L903.7 396.8 L904.3 396.6 L904.9 396.3 L905.6 396.0 L906.2 395.7 L906.8 395.4 L907.5 395.1 L908.1 394.9 L908.7 394.6 L909.4 394.3 L910.0 394.0 L910.7 393.7 L911.3 393.5 L912.0 393.2 L912.6 392.9 L913.2 392.6 L913.9 392.3 L914.5 392.1 L915.2 391.8 L915.8 391.5 L916.5 391.2 L917.1 391.0 L917.8 390.7 L918.4 390.4 L919.0 390.1 L915.8 382.5 L915.1 382.8 L914.5 383.0 L913.8 383.3 L913.2 383.6 L912.5 383.9 L911.9 384.2 L911.2 384.4 L910.6 384.7 L909.9 385.0 L909.3 385.3 L908.6 385.6 L908.0 385.8 L907.3 386.1 L906.7 386.4 L906.1 386.7 L905.4 387.0 L904.8 387.3 L904.1 387.6 L903.5 387.8 L902.8 388.1 L902.2 388.4 L901.5 388.7 L900.9 389.0 L900.2 389.3 L899.6 389.6 L898.9 389.9 L898.3 390.2 L897.7 390.5 L897.0 390.8 L896.4 391.1 L895.7 391.4 L895.1 391.6 L894.5 391.9 L893.8 392.2 L893.2 392.5 L892.6 392.8 L891.9 393.1 L891.3 393.4 L890.7 393.6 L890.0 393.9 L889.4 394.2 L888.8 394.5 L888.1 394.7 L887.5 395.0 L886.8 395.3 L886.2 395.5 L885.5 395.8 L884.9 396.1 L884.2 396.4 L883.6 396.6 L882.9 396.9 L882.3 397.2 L881.7 397.4 L881.0 397.7 L880.4 398.0 L879.7 398.2 L879.1 398.5 L878.4 398.7 L877.8 399.0 L877.2 399.2 L876.5 399.5 L875.9 399.7 L875.2 400.0 L874.6 400.2 L874.0 400.4 L873.3 400.7 L872.7 400.9 L872.0 401.1 L871.4 401.3 L870.7 401.5 L870.1 401.7 L869.4 402.0 L868.8 402.2 L868.1 402.4 L867.5 402.6 L866.8 402.8 L866.2 403.0 L865.5 403.2 L864.8 403.4 L864.2 403.6 L863.5 403.8 L862.8 403.9 L862.2 404.1 L861.5 404.3 L860.8 404.5 L860.2 404.7 L859.5 404.9 L858.8 405.1 L858.2 405.3 L857.5 405.5 L856.8 405.6 L856.1 405.8 L855.5 406.0 L854.8 406.2 L854.1 406.4 L853.4 406.6 L852.7 406.7 L852.1 406.9 L851.4 407.1 L850.7 407.3 L850.0 407.5 L849.4 407.6 L848.7 407.8 L848.0 408.0 L847.4 408.2 L846.7 408.3 L846.0 408.5 L845.4 408.7 L844.7 408.8 L844.0 409.0 L843.4 409.1 L842.7 409.3 L842.0 409.4 L841.4 409.6 L840.7 409.7 L840.1 409.8 L839.4 410.0 L838.7 410.1 L838.0 410.2 L837.3 410.3 L836.7 410.5 L836.0 410.6 L835.3 410.7 L834.6 410.8 L833.9 411.0 L833.2 411.1 L832.6 411.2 L831.9 411.3 L831.2 411.4 L830.5 411.5 L829.9 411.6 L829.2 411.7 L828.5 411.8 L827.8 411.9 L827.2 412.0 L826.5 412.1 L825.8 412.1 L825.2 412.2 L824.5 412.3 L823.9 412.3 L823.2 412.4 L822.5 412.4 L821.8 412.5 L821.1 412.5 L820.4 412.6 L819.7 412.6 L819.0 412.7 L818.3 412.7 L817.6 412.8 L817.0 412.8 L816.3 412.8 L815.6 412.9 L814.9 412.9 L814.2 413.0 L813.5 413.0 L812.8 413.0 L812.1 413.0 L811.4 413.1 L810.8 413.1 L810.1 413.1 L809.4 413.1 L808.7 413.1 L808.0 413.1 L807.4 413.2 L806.7 413.2 L806.0 413.1 L805.3 413.1 L804.6 413.1 L804.0 413.1 L803.3 413.1 L802.6 413.1 L801.9 413.1 L801.2 413.0 L800.5 413.0 L799.9 413.0 L799.2 412.9 L798.5 412.9 L797.8 412.9 L797.1 412.8 L796.4 412.8 L795.7 412.7 L795.0 412.7 L794.3 412.6 L793.6 412.6 L792.9 412.5 L792.3 412.5 L791.6 412.4 L790.9 412.4 L790.3 412.3 L789.6 412.3 L789.0 412.2 L788.4 412.1 L787.7 412.0 L787.1 411.9 L786.4 411.8 L785.8 411.7 L785.1 411.6 L784.5 411.5 L783.8 411.3 L783.1 411.2 L782.5 411.0 L781.8 410.9 L781.1 410.7 L780.5 410.6 L779.8 410.4 L779.1 410.2 L778.4 410.1 L777.7 409.9 L777.1 409.7 L776.4 409.6 L775.7 409.4 L775.0 409.2 L774.3 409.1 L773.6 408.9 L772.9 408.8 L772.3 408.6 L771.6 408.4 L770.9 408.3 L770.2 408.1 L769.6 407.9 L768.9 407.8 L768.2 407.6 L767.6 407.4 L766.9 407.2 L766.2 407.0 L765.6 406.9 L764.9 406.7 L764.3 406.5 L763.7 406.3 L763.0 406.1 L762.4 405.9 L761.8 405.7 L761.2 405.5 L760.6 405.3 L760.0 405.1 L759.4 404.9 L758.8 404.6 L758.3 404.4 L757.7 404.2 L757.1 403.9 L756.5 403.6 L756.0 403.3 L755.4 403.1 L754.8 402.7 L754.3 402.4 L753.7 402.1 L753.1 401.8 L752.6 401.4 L752.0 401.1 L751.5 400.7 L750.9 400.3 L750.4 400.0 L749.9 399.6 L749.3 399.2 L748.8 398.8 L748.3 398.5 L747.8 398.1 L747.3 397.7 L746.8 397.3 L746.3 396.8 L745.9 396.4 L745.4 396.0 L745.0 395.5 L744.5 395.1 L744.2 394.7 L743.8 394.2 L743.5 393.8 L743.1 393.2 L742.8 392.7 L742.4 392.2 L742.1 391.6 L741.7 391.0 L741.4 390.5 L741.1 389.9 L740.8 389.3 L740.5 388.7 L740.2 388.0 L740.0 387.4 L739.7 386.8 L739.4 386.1 L739.2 385.5 L738.9 384.8 L738.7 384.1 L738.5 383.5 L738.2 382.8 L738.0 382.1 L737.8 381.5 L737.6 380.8 L737.4 380.1 L737.2 379.4 L737.0 378.8 L736.8 378.1 L736.6 377.4 L736.4 376.8 L736.2 376.1 L736.0 375.4 L735.8 374.8 L735.6 374.1 L735.5 373.4 L735.3 372.7 L735.1 372.1 L734.9 371.4 L734.8 370.7 L734.6 370.0 L734.4 369.4 L734.3 368.7 L734.1 368.0 L733.9 367.3 L733.8 366.6 L733.6 366.0 L733.5 365.3 L733.3 364.6 L733.2 363.9 L733.0 363.2 L732.9 362.5 L732.7 361.8 L732.6 361.2 L732.5 360.5 L732.3 359.8 L732.2 359.1 L732.1 358.4 L731.9 357.7 L731.8 357.0 L731.7 356.3 L731.6 355.7 L731.5 355.0 L731.3 354.3 L731.2 353.6 L731.1 352.9 L731.0 352.2 L730.9 351.5 L730.8 350.8 L730.7 350.1 L730.6 349.4 L730.5 348.8 L730.4 348.1 L730.3 347.4 L730.2 346.7 L730.1 346.0 L730.0 345.3 L729.9 344.6 L729.8 343.9 L729.8 343.2 L729.7 342.5 L729.6 341.8 L729.5 341.1 L729.4 340.4 L729.4 339.7 L729.3 339.0 L729.2 338.3 L729.1 337.6 L729.0 336.9 L729.0 336.2 L728.9 335.5 L728.8 334.8 L728.8 334.1 L728.7 333.4 L728.6 332.7 L728.6 332.0 L728.5 331.3 L728.4 330.6 L728.4 329.9 L728.3 329.2 L728.2 328.5 L728.2 327.8 L728.1 327.1 L728.1 326.4 L728.0 325.7 L727.9 325.0 L727.9 324.3 L727.8 323.6 L727.8 322.9 L727.7 322.2 L727.7 321.5 L727.6 320.8 L727.6 320.1 L727.5 319.4 L727.5 318.7 L727.5 318.0 L727.4 317.3 L727.4 316.5 L727.4 315.8 L727.3 315.1 L727.3 314.3 L727.3 313.6 L727.2 312.9 L727.2 312.2 L727.2 311.5 L727.2 310.7 L727.2 310.0 L727.2 309.3 L727.2 308.6 L727.2 307.9 L727.3 307.2 L727.3 306.5 L727.3 305.8 L727.3 305.1 L727.3 304.3 L727.1 303.4 L726.8 302.5 L726.4 301.6 L725.9 300.8 L725.4 300.1 L725.0 299.4 L724.5 298.8 L724.1 298.2Z" fill="#000" stroke="#000" stroke-width="0.6" stroke-linejoin="round"/><circle cx="917.4" cy="386.3" r="4.2" fill="#000" stroke="none"/></g>
<path d="M810.2 551.0 L810.2 421.4 L810.5 423.4 L811.2 423.8 L811.9 424.1 L812.5 424.6 L813.1 425.0 L813.5 425.5 L813.8 426.0 L814.0 426.6 L814.2 427.2 L814.4 427.8 L814.5 428.5 L814.7 429.2 L814.8 430.0 L814.9 430.7 L815.0 431.5 L815.1 432.2 L815.2 432.9 L815.3 433.6 L815.4 434.3 L815.4 435.0 L815.5 435.7 L815.6 436.4 L815.7 437.1 L815.7 437.8 L815.8 438.5 L815.9 439.2 L815.9 439.9 L816.0 440.6 L816.0 441.3 L816.1 442.0 L816.1 442.7 L816.2 443.4 L816.2 444.1 L816.3 444.8 L816.3 445.5 L816.4 446.2 L816.4 446.9 L816.5 447.6 L816.5 448.3 L816.6 449.0 L816.6 449.7 L816.7 450.4 L816.7 451.1 L816.7 451.8 L816.8 452.5 L816.8 453.2 L816.9 453.9 L816.9 454.6 L817.0 455.3 L817.0 456.0 L817.1 456.7 L817.1 457.4 L817.2 458.1 L817.2 458.8 L817.3 459.5 L817.4 460.2 L817.4 460.9 L817.5 461.6 L817.6 462.3 L817.6 463.0 L817.7 463.7 L817.8 464.4 L817.9 465.1 L817.9 465.8 L818.0 466.5 L818.1 467.2 L818.2 467.9 L818.3 468.6 L818.4 469.3 L818.4 470.0 L818.5 470.7 L818.6 471.4 L818.7 472.1 L818.8 472.8 L818.9 473.5 L819.0 474.2 L819.1 474.9 L819.2 475.6 L819.3 476.3 L819.4 477.0 L819.5 477.7 L819.6 478.4 L819.7 479.1 L819.8 479.8 L819.9 480.4 L820.0 481.1 L820.1 481.8 L820.2 482.5 L820.3 483.2 L820.4 483.9 L820.5 484.6 L820.7 485.3 L820.8 486.0 L820.9 486.7 L821.0 487.4 L821.1 488.1 L821.2 488.8 L821.3 489.5 L821.5 490.2 L821.6 490.9 L821.7 491.6 L821.8 492.2 L821.9 492.9 L822.0 493.6 L822.2 494.3 L822.3 495.0 L822.4 495.7 L822.5 496.4 L822.7 497.1 L822.8 497.8 L822.9 498.5 L823.1 499.2 L823.2 499.8 L823.3 500.5 L823.5 501.2 L823.6 501.9 L823.8 502.6 L823.9 503.3 L824.1 504.0 L824.2 504.7 L824.4 505.4 L824.5 506.0 L824.7 506.7 L824.8 507.4 L825.0 508.1 L825.1 508.8 L825.3 509.5 L825.5 510.2 L825.6 510.8 L825.8 511.5 L825.9 512.2 L826.1 512.9 L826.3 513.6 L826.5 514.2 L826.6 514.9 L826.8 515.6 L827.0 516.3 L827.2 517.0 L827.4 517.6 L827.6 518.3 L827.8 519.0 L828.0 519.7 L828.2 520.3 L828.4 521.0 L828.6 521.7 L828.8 522.4 L829.0 523.0 L829.2 523.7 L829.4 524.4 L829.6 525.0 L829.9 525.7 L830.1 526.4 L830.3 527.0 L830.5 527.7 L830.8 528.4 L831.0 529.0 L831.2 529.7 L831.5 530.4 L831.7 531.0 L831.9 531.7 L832.2 532.4 L832.4 533.0 L832.7 533.7 L832.9 534.3 L833.2 535.0 L833.5 535.7 L833.7 536.3 L834.0 536.9 L834.3 537.6 L834.6 538.2 L834.9 538.8 L835.2 539.5 L835.5 540.1 L835.9 540.7 L836.2 541.3 L836.6 541.9 L836.9 542.5 L837.3 543.1 L837.7 543.8 L838.1 544.4 L838.5 545.0 L838.9 545.5 L839.3 546.1 L839.8 546.7 L840.2 547.2 L840.6 547.8 L841.1 548.3 L841.6 548.8 L842.1 549.3 L842.5 549.7 L843.1 550.2 L843.6 550.6 L844.1 551.1 L844.7 551.5 L845.3 552.0 L845.9 552.4 L846.5 552.8 L847.1 553.2 L847.7 553.6 L848.4 553.9 L849.0 554.2 L849.6 554.5 L850.3 554.7 L850.9 554.9 L851.6 555.1 L852.2 555.3 L852.9 555.4 L853.6 555.6 L854.3 555.8 L854.9 555.9 L855.6 556.1 L856.4 556.2 L857.1 556.3 L857.8 556.4 L858.5 556.5 L859.2 556.6 L859.9 556.7 L860.6 556.8 L861.3 556.8 L862.0 556.8 L862.7 556.8 L863.4 556.8 L864.1 556.8 L864.8 556.7 L865.5 556.7 L866.2 556.7 L866.9 556.6 L867.6 556.6 L868.3 556.5 L869.0 556.5 L869.7 556.4 L870.4 556.3 L871.1 556.3 L871.8 556.2 L872.5 556.1 L873.2 556.0 L873.9 556.0 L874.6 555.9 L875.3 555.8 L876.0 555.7 L876.7 555.6 L877.4 555.5 L878.1 555.4 L878.8 555.2 L879.4 555.1 L880.1 554.9 L880.8 554.7 L881.5 554.6 L882.2 554.4 L882.8 554.2 L883.5 554.0 L884.2 553.8 L884.9 553.6 L885.6 553.4 L886.2 553.2 L886.9 553.0 L887.6 552.7 L888.3 552.5 L888.9 552.3 L889.6 552.1 L890.3 551.9 L891.0 551.7 L891.6 551.5 L892.3 551.4 L893.0 551.2 L893.7 551.0 L894.4 550.8 L895.0 550.6 L895.7 550.4 L896.4 550.2 L897.1 550.1 L897.7 549.9 L898.4 549.7 L899.1 549.5 L899.8 549.3 L900.4 549.1 L901.1 548.9 L901.8 548.7 L902.5 548.5 L903.1 548.3 L903.8 548.0 L904.5 547.8 L905.1 547.6 L905.8 547.4 L906.5 547.2 L907.1 546.9 L907.8 546.7 L908.5 546.5 L909.1 546.3 L909.8 546.0 L910.5 545.8 L911.1 545.6 L911.8 545.3 L912.5 545.1 L913.1 544.8 L913.8 544.6 L914.4 544.4 L915.1 544.1 L915.8 543.9 L916.4 543.6 L917.1 543.4 L917.7 543.1 L918.4 542.9 L919.1 542.6 L919.7 542.4 L920.4 542.1 L921.0 541.8 L921.7 541.6 L922.3 541.3 L923.0 541.0 L923.6 540.8 L924.3 540.5 L924.9 540.2 L925.6 540.0 L926.2 539.7 L926.9 539.4 L927.5 539.1 L928.1 538.8 L928.8 538.6 L929.4 538.3 L930.0 538.0 L930.7 537.7 L931.3 537.4 L931.9 537.1 L932.6 536.8 L933.2 536.5 L933.8 536.2 L934.5 535.9 L935.1 535.5 L935.7 535.2 L936.3 534.9 L936.9 534.6 L937.6 534.3 L938.2 533.9 L938.8 533.6 L939.4 533.3 L940.0 532.9 L940.7 532.6 L941.3 532.2 L941.9 531.9 L942.5 531.5 L943.1 531.2 L943.7 530.8 L944.3 530.5 L944.9 530.1 L945.5 529.8 L946.2 529.4 L946.8 529.1 L947.4 528.7 L948.0 528.3 L948.6 528.0 L949.2 527.6 L949.8 527.3 L950.4 526.9 L951.0 526.5 L951.6 526.2 L952.2 525.8 L952.8 525.4 L953.4 525.1 L954.0 524.7 L954.6 524.3 L955.2 523.9 L955.8 523.6 L956.4 523.2 L957.0 522.8 L957.6 522.5 L958.2 522.1 L958.8 521.7 L959.4 521.4 L960.0 521.0 L960.6 520.6 L961.2 520.3 L961.8 519.9 L962.4 519.5 L963.0 519.1 L963.6 518.8 L964.2 518.4 L964.8 518.0 L965.4 517.6 L965.9 517.3 L966.5 516.9 L967.1 516.5 L967.7 516.1 L968.3 515.7 L968.9 515.4 L969.5 515.0 L970.1 514.6 L970.7 514.2 L971.3 513.8 L971.8 513.4 L972.4 513.0 L973.0 512.7 L973.6 512.3 L974.2 511.9 L974.8 511.5 L975.3 511.1 L975.9 510.7 L976.5 510.3 L977.1 509.9 L977.7 509.5 L978.3 509.1 L978.8 508.7 L979.4 508.3 L980.0 507.9 L980.6 507.5 L981.2 507.1 L981.7 506.7 L982.3 506.3 L982.9 505.9 L983.5 505.5 L984.1 505.1 L984.6 504.7 L985.2 504.3 L985.8 503.9 L986.4 503.5 L986.9 503.1 L987.5 502.7 L988.1 502.3 L988.7 501.9 L989.3 501.5 L989.8 501.1 L990.4 500.7 L991.0 500.3 L991.6 499.9 L992.1 499.5 L992.7 499.1 L993.3 498.7 L993.8 498.3 L994.4 497.9 L995.0 497.5 L995.6 497.1 L996.1 496.7 L996.7 496.2 L997.3 495.8 L997.8 495.4 L998.4 495.0 L999.0 494.6 L999.5 494.2 L1000.1 493.8 L1000.7 493.3 L1001.2 492.9 L1001.8 492.5 L1002.4 492.1 L1002.9 491.7 L1003.5 491.3 L1004.1 490.8 L1004.6 490.4 L1005.2 490.0 L1005.2 291.0 L810.2 551.0Z" fill="url(#g6)" shape-rendering="crispEdges"/>
<g fill="none" stroke="#000" stroke-width="2.7"><path d="M784.2 585.5L810.2 551.0" stroke="#000" stroke-width="9.2" stroke-linecap="round" fill="none"/><path d="M810.2 554.0L810.2 536.0" stroke="#000" stroke-width="9" stroke-linecap="butt" fill="none"/><path d="M810.2 430.4L810.2 425.9" stroke="#000" stroke-width="9" stroke-linecap="round" fill="none"/><circle cx="810.2" cy="434.6" r="3.0"/><circle cx="810.2" cy="442.8" r="3.0"/><circle cx="810.2" cy="452.7" r="3.0"/><circle cx="810.2" cy="463.4" r="3.0"/><circle cx="810.2" cy="476.6" r="3.0"/><circle cx="810.2" cy="490.6" r="3.0"/><circle cx="810.2" cy="504.6" r="3.0"/><circle cx="810.2" cy="517.8" r="3.0"/><circle cx="810.2" cy="527.6" r="3.0"/><circle cx="810.2" cy="535.0" r="3.0"/><circle cx="810.2" cy="540.8" r="3.0"/><path d="M808.9 426.6 L809.6 426.8 L810.2 426.9 L810.6 427.1 L811.0 427.2 L811.2 427.2 L811.4 427.2 L811.6 427.4 L811.9 427.9 L812.2 428.4 L812.4 429.0 L812.7 429.6 L812.9 430.3 L813.2 431.0 L813.4 431.7 L813.6 432.4 L813.7 433.1 L813.8 433.8 L813.9 434.5 L814.0 435.1 L814.1 435.8 L814.2 436.5 L814.3 437.2 L814.4 437.9 L814.4 438.6 L814.5 439.3 L814.6 440.0 L814.6 440.7 L814.7 441.4 L814.7 442.1 L814.8 442.8 L814.8 443.5 L814.9 444.2 L814.9 444.9 L815.0 445.6 L815.0 446.3 L815.1 447.0 L815.1 447.7 L815.2 448.4 L815.2 449.1 L815.3 449.8 L815.3 450.5 L815.3 451.2 L815.4 451.9 L815.4 452.6 L815.5 453.3 L815.5 454.0 L815.6 454.7 L815.6 455.4 L815.7 456.1 L815.7 456.8 L815.8 457.5 L815.8 458.2 L815.9 458.9 L816.0 459.6 L816.0 460.3 L816.1 461.1 L816.2 461.8 L816.2 462.5 L816.3 463.2 L816.4 463.9 L816.4 464.6 L816.5 465.3 L816.6 466.0 L816.7 466.7 L816.7 467.4 L816.8 468.1 L816.9 468.8 L817.0 469.5 L817.1 470.2 L817.2 470.9 L817.2 471.6 L817.3 472.3 L817.4 473.0 L817.5 473.7 L817.6 474.4 L817.7 475.1 L817.8 475.8 L817.9 476.5 L818.0 477.2 L818.1 477.9 L818.2 478.6 L818.2 479.3 L818.3 480.0 L818.4 480.7 L818.5 481.4 L818.7 482.1 L818.8 482.8 L818.9 483.5 L819.0 484.2 L819.1 484.9 L819.2 485.6 L819.3 486.2 L819.4 486.9 L819.5 487.6 L819.6 488.3 L819.7 489.0 L819.8 489.7 L819.9 490.4 L820.1 491.1 L820.2 491.8 L820.3 492.5 L820.4 493.2 L820.5 493.9 L820.6 494.6 L820.7 495.3 L820.9 496.0 L821.0 496.7 L821.1 497.4 L821.2 498.1 L821.4 498.8 L821.5 499.5 L821.6 500.2 L821.7 500.9 L821.9 501.6 L822.0 502.3 L822.1 502.9 L822.3 503.6 L822.4 504.3 L822.6 505.0 L822.7 505.7 L822.8 506.4 L823.0 507.1 L823.1 507.8 L823.3 508.5 L823.4 509.2 L823.6 509.9 L823.7 510.6 L823.9 511.3 L824.0 511.9 L824.2 512.6 L824.4 513.3 L824.5 514.0 L824.7 514.7 L824.9 515.4 L825.0 516.1 L825.2 516.8 L825.4 517.5 L825.6 518.1 L825.7 518.8 L825.9 519.5 L826.1 520.2 L826.3 520.9 L826.5 521.6 L826.7 522.3 L826.9 522.9 L827.1 523.6 L827.3 524.3 L827.5 525.0 L827.7 525.7 L827.9 526.4 L828.1 527.0 L828.3 527.7 L828.6 528.4 L828.8 529.1 L829.0 529.7 L829.2 530.4 L829.4 531.1 L829.7 531.8 L829.9 532.4 L830.1 533.1 L830.3 533.8 L830.6 534.5 L830.8 535.2 L831.1 535.9 L831.3 536.5 L831.6 537.2 L831.8 537.9 L832.1 538.6 L832.4 539.3 L832.7 540.0 L833.0 540.6 L833.3 541.3 L833.6 541.9 L833.9 542.6 L834.2 543.3 L834.5 544.0 L834.9 544.6 L835.3 545.3 L835.6 546.0 L836.0 546.6 L836.4 547.3 L836.8 548.0 L837.3 548.6 L837.7 549.3 L838.2 549.9 L838.7 550.5 L839.2 551.1 L839.7 551.7 L840.2 552.3 L840.7 552.8 L841.3 553.4 L841.8 553.9 L842.4 554.5 L843.0 555.0 L843.7 555.6 L844.4 556.1 L845.1 556.6 L845.8 557.1 L846.5 557.5 L847.3 557.9 L848.1 558.3 L849.0 558.6 L849.7 558.9 L850.4 559.1 L851.1 559.4 L851.8 559.6 L852.5 559.8 L853.3 560.0 L854.0 560.2 L854.8 560.4 L855.5 560.5 L856.3 560.7 L857.1 560.8 L857.9 560.9 L858.7 561.0 L859.5 561.1 L860.3 561.2 L861.2 561.2 L862.0 561.2 L862.8 561.2 L863.5 561.2 L864.2 561.2 L865.0 561.2 L865.7 561.1 L866.5 561.1 L867.2 561.1 L868.0 561.0 L868.7 560.9 L869.4 560.9 L870.1 560.8 L870.9 560.7 L871.6 560.7 L872.3 560.6 L873.0 560.5 L873.7 560.4 L874.4 560.3 L875.1 560.3 L875.9 560.2 L876.6 560.1 L877.4 559.9 L878.2 559.8 L878.9 559.7 L879.7 559.5 L880.4 559.3 L881.2 559.1 L881.9 559.0 L882.6 558.8 L883.3 558.6 L884.0 558.4 L884.7 558.1 L885.4 557.9 L886.1 557.7 L886.8 557.5 L887.5 557.3 L888.2 557.1 L888.9 556.9 L889.5 556.7 L890.2 556.5 L890.8 556.3 L891.5 556.1 L892.1 555.9 L892.8 555.7 L893.5 555.5 L894.1 555.3 L894.8 555.2 L895.5 555.0 L896.2 554.8 L896.9 554.6 L897.5 554.4 L898.2 554.2 L898.9 554.0 L899.6 553.8 L900.3 553.6 L901.0 553.4 L901.7 553.2 L902.4 553.0 L903.1 552.8 L903.7 552.6 L904.4 552.3 L905.1 552.1 L905.8 551.9 L906.5 551.7 L907.1 551.4 L907.8 551.2 L908.5 551.0 L909.2 550.8 L909.8 550.5 L910.5 550.3 L911.2 550.0 L911.9 549.8 L912.5 549.6 L913.2 549.3 L913.9 549.1 L914.6 548.8 L915.2 548.6 L915.9 548.3 L916.6 548.1 L917.3 547.8 L917.9 547.6 L918.6 547.3 L919.3 547.1 L919.9 546.8 L920.6 546.5 L921.3 546.3 L921.9 546.0 L922.6 545.7 L923.3 545.5 L923.9 545.2 L924.6 544.9 L925.2 544.6 L925.9 544.4 L926.6 544.1 L927.2 543.8 L927.9 543.5 L928.5 543.2 L929.2 542.9 L929.8 542.6 L930.5 542.3 L931.1 542.0 L931.8 541.7 L932.4 541.4 L933.1 541.1 L933.7 540.8 L934.4 540.5 L935.0 540.2 L935.6 539.8 L936.3 539.5 L936.9 539.2 L937.6 538.8 L938.2 538.5 L938.8 538.2 L939.5 537.8 L940.1 537.5 L940.7 537.1 L941.3 536.8 L942.0 536.4 L942.6 536.1 L943.2 535.7 L943.8 535.4 L944.5 535.0 L945.1 534.7 L945.7 534.3 L946.3 533.9 L946.9 533.6 L947.6 533.2 L948.2 532.8 L948.8 532.5 L949.4 532.1 L950.0 531.7 L950.6 531.4 L951.2 531.0 L951.8 530.6 L952.4 530.3 L953.0 529.9 L953.7 529.5 L954.3 529.2 L954.9 528.8 L955.5 528.4 L956.1 528.0 L956.7 527.7 L957.3 527.3 L957.9 526.9 L958.5 526.6 L959.1 526.2 L959.7 525.8 L960.3 525.4 L960.9 525.1 L961.5 524.7 L962.1 524.3 L962.7 524.0 L963.3 523.6 L963.9 523.2 L964.5 522.8 L965.1 522.5 L965.7 522.1 L966.3 521.7 L966.9 521.3 L967.5 520.9 L968.1 520.6 L968.6 520.2 L969.2 519.8 L969.8 519.4 L970.4 519.0 L971.0 518.6 L971.6 518.2 L972.2 517.8 L972.8 517.4 L973.4 517.0 L974.0 516.7 L974.6 516.3 L975.2 515.9 L975.7 515.5 L976.3 515.1 L976.9 514.7 L977.5 514.3 L978.1 513.9 L978.7 513.5 L979.3 513.1 L979.8 512.7 L980.4 512.3 L981.0 511.9 L981.6 511.5 L982.2 511.1 L982.8 510.7 L983.3 510.3 L983.9 509.9 L984.5 509.5 L985.1 509.1 L985.7 508.7 L986.2 508.3 L986.8 507.9 L987.4 507.5 L988.0 507.1 L988.5 506.7 L989.1 506.3 L989.7 505.9 L990.3 505.5 L990.9 505.1 L991.4 504.7 L992.0 504.3 L992.6 503.8 L993.2 503.4 L993.7 503.0 L994.3 502.6 L994.9 502.2 L995.5 501.8 L996.1 501.4 L996.6 501.0 L997.2 500.6 L997.8 500.1 L998.3 499.7 L998.9 499.3 L999.5 498.9 L1000.1 498.5 L1000.6 498.1 L1001.2 497.6 L1001.8 497.2 L1002.3 496.8 L1002.9 496.4 L1003.5 496.0 L1004.0 495.5 L1004.6 495.1 L1005.2 494.7 L1005.7 494.3 L1006.3 493.9 L1006.9 493.4 L1007.4 493.0 L1003.0 487.0 L1002.4 487.4 L1001.8 487.8 L1001.3 488.2 L1000.7 488.6 L1000.1 489.1 L999.6 489.5 L999.0 489.9 L998.4 490.3 L997.9 490.7 L997.3 491.1 L996.7 491.5 L996.2 491.9 L995.6 492.4 L995.0 492.8 L994.5 493.2 L993.9 493.6 L993.3 494.0 L992.8 494.4 L992.2 494.8 L991.6 495.2 L991.1 495.6 L990.5 496.0 L989.9 496.4 L989.4 496.8 L988.8 497.2 L988.2 497.6 L987.6 498.0 L987.1 498.4 L986.5 498.8 L985.9 499.2 L985.3 499.6 L984.8 500.0 L984.2 500.4 L983.6 500.8 L983.0 501.2 L982.5 501.6 L981.9 502.0 L981.3 502.4 L980.7 502.8 L980.1 503.2 L979.6 503.6 L979.0 504.0 L978.4 504.4 L977.8 504.8 L977.3 505.2 L976.7 505.5 L976.1 505.9 L975.5 506.3 L974.9 506.7 L974.4 507.1 L973.8 507.5 L973.2 507.9 L972.6 508.3 L972.0 508.7 L971.4 509.1 L970.9 509.4 L970.3 509.8 L969.7 510.2 L969.1 510.6 L968.5 511.0 L967.9 511.4 L967.4 511.7 L966.8 512.1 L966.2 512.5 L965.6 512.9 L965.0 513.2 L964.4 513.6 L963.8 514.0 L963.3 514.4 L962.7 514.7 L962.1 515.1 L961.5 515.5 L960.9 515.8 L960.3 516.2 L959.7 516.6 L959.1 516.9 L958.5 517.3 L957.9 517.7 L957.4 518.0 L956.8 518.4 L956.2 518.8 L955.6 519.1 L955.0 519.5 L954.4 519.9 L953.8 520.2 L953.2 520.6 L952.6 521.0 L952.0 521.3 L951.4 521.7 L950.8 522.1 L950.2 522.4 L949.6 522.8 L949.0 523.2 L948.4 523.5 L947.8 523.9 L947.2 524.2 L946.6 524.6 L945.9 524.9 L945.3 525.3 L944.7 525.7 L944.1 526.0 L943.5 526.4 L942.9 526.7 L942.3 527.0 L941.7 527.4 L941.1 527.7 L940.5 528.1 L939.9 528.4 L939.3 528.7 L938.7 529.1 L938.1 529.4 L937.5 529.7 L936.9 530.0 L936.3 530.4 L935.7 530.7 L935.1 531.0 L934.5 531.3 L933.8 531.6 L933.2 531.9 L932.6 532.2 L932.0 532.5 L931.4 532.8 L930.8 533.1 L930.2 533.4 L929.6 533.7 L928.9 534.0 L928.3 534.2 L927.7 534.5 L927.1 534.8 L926.5 535.1 L925.8 535.3 L925.2 535.6 L924.6 535.9 L923.9 536.1 L923.3 536.4 L922.7 536.7 L922.0 536.9 L921.4 537.2 L920.7 537.4 L920.1 537.7 L919.5 537.9 L918.8 538.2 L918.2 538.4 L917.5 538.7 L916.9 538.9 L916.2 539.2 L915.6 539.4 L914.9 539.7 L914.3 539.9 L913.6 540.2 L913.0 540.4 L912.3 540.6 L911.7 540.9 L911.0 541.1 L910.4 541.3 L909.7 541.6 L909.1 541.8 L908.4 542.0 L907.7 542.2 L907.1 542.5 L906.4 542.7 L905.8 542.9 L905.1 543.1 L904.5 543.3 L903.8 543.5 L903.1 543.8 L902.5 544.0 L901.8 544.2 L901.2 544.4 L900.5 544.6 L899.9 544.8 L899.2 545.0 L898.6 545.2 L897.9 545.3 L897.2 545.5 L896.6 545.7 L895.9 545.9 L895.2 546.1 L894.6 546.3 L893.9 546.5 L893.2 546.6 L892.5 546.8 L891.9 547.0 L891.2 547.2 L890.5 547.4 L889.8 547.6 L889.1 547.8 L888.4 548.0 L887.7 548.2 L887.0 548.4 L886.3 548.6 L885.6 548.8 L885.0 549.0 L884.3 549.3 L883.6 549.5 L883.0 549.7 L882.3 549.8 L881.7 550.0 L881.0 550.2 L880.4 550.4 L879.7 550.5 L879.1 550.7 L878.5 550.8 L877.8 550.9 L877.2 551.1 L876.6 551.2 L876.0 551.3 L875.4 551.4 L874.8 551.4 L874.1 551.5 L873.4 551.6 L872.8 551.6 L872.1 551.7 L871.4 551.8 L870.7 551.9 L870.0 551.9 L869.3 552.0 L868.6 552.0 L868.0 552.1 L867.3 552.1 L866.6 552.2 L866.0 552.2 L865.3 552.3 L864.6 552.3 L864.0 552.3 L863.3 552.3 L862.7 552.4 L862.0 552.4 L861.5 552.4 L860.9 552.3 L860.3 552.3 L859.7 552.2 L859.0 552.2 L858.4 552.1 L857.8 552.0 L857.2 551.9 L856.5 551.8 L855.9 551.7 L855.2 551.5 L854.6 551.4 L854.0 551.3 L853.3 551.1 L852.7 551.0 L852.1 550.9 L851.6 550.7 L851.1 550.6 L850.7 550.5 L850.2 550.3 L849.7 550.1 L849.1 549.8 L848.6 549.5 L848.1 549.2 L847.5 548.9 L847.0 548.6 L846.4 548.2 L845.9 547.9 L845.4 547.5 L844.9 547.2 L844.4 546.8 L844.0 546.4 L843.5 546.1 L843.1 545.6 L842.7 545.2 L842.2 544.8 L841.8 544.3 L841.4 543.8 L840.9 543.3 L840.5 542.7 L840.1 542.2 L839.7 541.7 L839.3 541.1 L838.9 540.5 L838.5 540.0 L838.2 539.4 L837.8 538.9 L837.5 538.3 L837.2 537.7 L836.8 537.2 L836.5 536.6 L836.2 536.0 L835.9 535.4 L835.6 534.8 L835.3 534.1 L835.1 533.5 L834.8 532.9 L834.5 532.2 L834.2 531.6 L834.0 530.9 L833.7 530.3 L833.5 529.6 L833.2 529.0 L833.0 528.3 L832.7 527.7 L832.5 527.0 L832.3 526.4 L832.0 525.7 L831.8 525.1 L831.6 524.4 L831.3 523.8 L831.1 523.1 L830.9 522.4 L830.7 521.8 L830.5 521.1 L830.2 520.4 L830.0 519.8 L829.8 519.1 L829.6 518.5 L829.4 517.8 L829.2 517.1 L829.0 516.5 L828.8 515.8 L828.6 515.1 L828.4 514.4 L828.2 513.8 L828.1 513.1 L827.9 512.4 L827.7 511.8 L827.5 511.1 L827.3 510.4 L827.2 509.7 L827.0 509.1 L826.8 508.4 L826.7 507.7 L826.5 507.0 L826.3 506.4 L826.2 505.7 L826.0 505.0 L825.9 504.3 L825.7 503.6 L825.6 502.9 L825.4 502.3 L825.2 501.6 L825.1 500.9 L825.0 500.2 L824.8 499.5 L824.7 498.8 L824.5 498.2 L824.4 497.5 L824.2 496.8 L824.1 496.1 L824.0 495.4 L823.8 494.7 L823.7 494.0 L823.6 493.4 L823.5 492.7 L823.3 492.0 L823.2 491.3 L823.1 490.6 L823.0 489.9 L822.8 489.2 L822.7 488.5 L822.6 487.8 L822.5 487.2 L822.4 486.5 L822.3 485.8 L822.1 485.1 L822.0 484.4 L821.9 483.7 L821.8 483.0 L821.7 482.3 L821.6 481.6 L821.5 480.9 L821.4 480.2 L821.2 479.5 L821.1 478.8 L821.0 478.2 L820.9 477.5 L820.8 476.8 L820.7 476.1 L820.6 475.4 L820.5 474.7 L820.4 474.0 L820.3 473.3 L820.2 472.6 L820.1 471.9 L820.0 471.2 L819.9 470.5 L819.8 469.8 L819.7 469.1 L819.6 468.4 L819.6 467.7 L819.5 467.0 L819.4 466.4 L819.3 465.7 L819.2 465.0 L819.1 464.3 L819.1 463.6 L819.0 462.9 L818.9 462.2 L818.8 461.5 L818.8 460.8 L818.7 460.1 L818.7 459.4 L818.6 458.7 L818.5 458.0 L818.5 457.3 L818.4 456.6 L818.4 455.9 L818.3 455.2 L818.3 454.5 L818.2 453.8 L818.2 453.1 L818.1 452.4 L818.1 451.7 L818.0 451.0 L818.0 450.3 L818.0 449.6 L817.9 448.9 L817.9 448.2 L817.8 447.5 L817.8 446.8 L817.7 446.1 L817.7 445.4 L817.6 444.7 L817.6 444.0 L817.5 443.3 L817.5 442.6 L817.4 441.9 L817.4 441.2 L817.3 440.5 L817.3 439.8 L817.2 439.1 L817.1 438.4 L817.1 437.6 L817.0 436.9 L817.0 436.2 L816.9 435.5 L816.8 434.8 L816.8 434.1 L816.7 433.4 L816.7 432.7 L816.6 432.0 L816.6 431.3 L816.6 430.5 L816.7 429.7 L816.7 428.9 L816.7 428.1 L816.6 427.3 L816.6 426.5 L816.5 425.7 L816.2 424.8 L815.8 423.8 L815.1 422.8 L814.4 422.0 L813.6 421.4 L812.8 420.8 L812.1 420.2Z" fill="#000" stroke="#000" stroke-width="0.6" stroke-linejoin="round"/><circle cx="1005.2" cy="490.0" r="3.8" fill="#000" stroke="none"/></g>
<path d="M905.6 551.0 L905.6 469.2 L905.9 471.2 L905.9 471.9 L905.9 472.6 L905.9 473.3 L906.0 474.0 L906.0 474.7 L906.0 475.4 L906.0 476.1 L906.0 476.8 L906.0 477.5 L906.1 478.2 L906.1 478.9 L906.1 479.6 L906.1 480.3 L906.1 481.0 L906.1 481.7 L906.1 482.4 L906.2 483.1 L906.2 483.8 L906.2 484.5 L906.2 485.2 L906.2 486.0 L906.2 486.7 L906.3 487.4 L906.3 488.1 L906.3 488.8 L906.3 489.5 L906.3 490.2 L906.3 490.9 L906.3 491.6 L906.4 492.3 L906.4 493.0 L906.4 493.7 L906.4 494.4 L906.4 495.1 L906.4 495.8 L906.5 496.5 L906.5 497.2 L906.5 497.9 L906.5 498.6 L906.5 499.3 L906.5 500.0 L906.6 500.7 L906.6 501.4 L906.6 502.1 L906.6 502.8 L906.6 503.5 L906.6 504.2 L906.6 504.9 L906.7 505.6 L906.7 506.3 L906.7 507.0 L906.7 507.7 L906.7 508.4 L906.7 509.1 L906.8 509.8 L906.8 510.5 L906.8 511.2 L906.8 511.9 L906.8 512.6 L906.8 513.3 L906.9 514.1 L906.9 514.8 L906.9 515.5 L906.9 516.2 L906.9 516.9 L906.9 517.6 L907.0 518.3 L907.0 519.0 L907.0 519.7 L907.0 520.4 L907.0 521.1 L907.0 521.8 L907.1 522.5 L907.1 523.2 L907.1 523.9 L907.1 524.6 L907.1 525.3 L907.1 526.0 L907.2 526.7 L907.2 527.4 L907.2 528.1 L907.2 528.8 L907.2 529.5 L907.2 530.2 L907.3 530.9 L907.3 531.6 L907.3 532.3 L907.3 533.0 L907.3 533.7 L907.3 534.4 L907.4 535.1 L907.4 535.8 L907.4 536.5 L907.4 537.2 L907.4 537.9 L907.4 538.6 L907.5 539.3 L907.5 540.0 L907.5 540.7 L907.5 541.4 L907.5 542.2 L907.5 542.9 L907.6 543.6 L907.6 544.3 L907.6 545.0 L907.6 545.7 L907.6 546.4 L907.6 547.1 L907.7 547.8 L907.7 548.5 L907.7 549.2 L907.7 549.9 L907.7 550.6 L907.8 551.3 L907.8 552.0 L907.8 552.7 L907.8 553.4 L907.8 554.1 L907.8 554.8 L907.9 555.5 L907.9 556.2 L907.9 556.9 L907.9 557.6 L907.9 558.3 L908.0 559.0 L908.0 559.7 L908.0 560.4 L908.0 561.1 L908.1 561.8 L908.1 562.5 L908.1 563.2 L908.1 563.9 L908.1 564.6 L908.2 565.3 L908.2 566.0 L908.2 566.7 L908.2 567.4 L908.3 568.1 L908.3 568.8 L908.3 569.5 L908.3 570.2 L908.3 570.9 L908.4 571.7 L908.4 572.4 L908.4 573.1 L908.4 573.8 L908.5 574.5 L908.5 575.2 L908.5 575.9 L908.6 576.6 L908.6 577.3 L908.6 578.0 L908.6 578.7 L908.7 579.4 L908.7 580.1 L908.7 580.8 L908.8 581.5 L908.8 582.2 L908.8 582.9 L908.9 583.6 L908.9 584.3 L908.9 585.0 L909.0 585.7 L909.0 586.4 L909.0 587.1 L909.1 587.8 L909.1 588.5 L909.1 589.2 L909.2 589.9 L909.2 590.6 L909.2 591.3 L909.3 592.0 L909.3 592.7 L909.4 593.4 L909.4 594.2 L909.4 594.9 L909.5 595.6 L909.5 596.3 L909.6 597.0 L909.6 597.7 L909.7 598.4 L909.7 599.1 L909.8 599.8 L909.8 600.5 L909.9 601.2 L910.0 601.9 L910.0 602.6 L910.1 603.3 L910.2 604.0 L910.2 604.6 L910.3 605.3 L910.4 606.0 L910.5 606.7 L910.6 607.4 L910.7 608.1 L910.8 608.8 L910.9 609.5 L911.0 610.2 L911.2 610.9 L911.4 611.6 L911.5 612.3 L911.7 613.0 L911.9 613.7 L912.2 614.4 L912.4 615.0 L912.6 615.7 L912.9 616.3 L913.2 616.9 L913.5 617.5 L914.0 618.1 L914.4 618.7 L914.9 619.3 L915.5 619.7 L916.0 620.0 L916.6 620.3 L917.3 620.5 L917.9 620.7 L918.7 620.9 L919.4 621.0 L920.1 621.2 L920.8 621.2 L921.5 621.2 L922.2 621.2 L922.9 621.2 L923.6 621.2 L924.3 621.1 L925.0 621.1 L925.7 621.1 L926.4 621.1 L927.1 621.0 L927.8 621.0 L928.5 620.9 L929.2 620.9 L929.9 620.8 L930.6 620.8 L931.3 620.7 L932.0 620.7 L932.7 620.6 L933.4 620.6 L934.2 620.5 L934.9 620.5 L935.6 620.4 L936.3 620.3 L937.0 620.3 L937.6 620.2 L938.3 620.1 L939.0 620.0 L939.7 620.0 L940.4 619.9 L941.1 619.7 L941.8 619.6 L942.5 619.5 L943.2 619.4 L943.9 619.2 L944.6 619.1 L945.3 618.9 L945.9 618.8 L946.6 618.6 L947.3 618.5 L948.0 618.3 L948.7 618.2 L949.4 618.0 L950.1 617.8 L950.8 617.7 L951.4 617.5 L952.1 617.4 L952.8 617.2 L953.5 617.0 L954.2 616.9 L954.9 616.7 L955.6 616.6 L956.2 616.4 L956.9 616.3 L957.6 616.1 L958.3 615.9 L959.0 615.8 L959.7 615.6 L960.3 615.4 L961.0 615.3 L961.7 615.1 L962.4 614.9 L963.1 614.8 L963.8 614.6 L964.4 614.4 L965.1 614.3 L965.8 614.1 L966.5 613.9 L967.2 613.7 L967.8 613.5 L968.5 613.4 L969.2 613.2 L969.9 613.0 L970.5 612.8 L971.2 612.6 L971.9 612.4 L972.6 612.3 L973.3 612.1 L973.9 611.9 L974.6 611.7 L975.3 611.5 L976.0 611.3 L976.6 611.1 L977.3 610.9 L978.0 610.7 L978.7 610.5 L979.3 610.3 L980.0 610.1 L980.7 609.9 L981.3 609.7 L982.0 609.5 L982.7 609.3 L983.4 609.1 L984.0 608.8 L984.7 608.6 L985.4 608.4 L986.0 608.2 L986.7 608.0 L987.4 607.8 L988.0 607.6 L988.7 607.3 L989.4 607.1 L990.0 606.9 L990.7 606.7 L991.4 606.5 L992.1 606.2 L992.7 606.0 L993.4 605.8 L994.1 605.6 L994.7 605.3 L995.4 605.1 L996.0 604.9 L996.7 604.6 L997.4 604.4 L998.0 604.2 L998.7 603.9 L999.4 603.7 L1000.0 603.4 L1000.7 603.2 L1001.3 602.9 L1002.0 602.7 L1002.6 602.4 L1003.3 602.2 L1003.9 601.9 L1004.6 601.7 L1005.2 601.4 L1005.9 601.1 L1006.5 600.9 L1007.2 600.6 L1007.8 600.3 L1008.5 600.0 L1009.1 599.7 L1009.8 599.4 L1010.4 599.2 L1011.0 598.9 L1011.7 598.6 L1012.3 598.3 L1013.0 598.0 L1013.6 597.7 L1014.2 597.4 L1014.9 597.1 L1015.5 596.8 L1016.1 596.5 L1016.8 596.2 L1017.4 595.9 L1018.0 595.6 L1018.7 595.3 L1019.3 595.0 L1020.0 594.7 L1020.6 594.4 L1021.2 594.1 L1021.9 593.8 L1022.5 593.5 L1023.2 593.3 L1023.8 593.0 L1024.4 592.7 L1025.1 592.4 L1025.7 592.1 L1026.4 591.8 L1027.0 591.5 L1027.6 591.2 L1028.3 590.9 L1028.9 590.6 L1029.6 590.3 L1030.2 590.0 L1030.8 589.7 L1031.5 589.4 L1032.1 589.1 L1032.7 588.8 L1033.4 588.5 L1034.0 588.2 L1034.6 587.8 L1035.2 587.5 L1035.8 587.2 L1036.4 586.8 L1037.1 586.5 L1037.7 586.1 L1038.3 585.8 L1038.9 585.4 L1039.5 585.1 L1040.1 584.7 L1040.6 584.3 L1041.2 583.9 L1041.8 583.6 L1042.4 583.2 L1043.0 582.8 L1043.6 582.4 L1044.2 582.0 L1044.8 581.6 L1045.3 581.2 L1045.9 580.8 L1046.5 580.4 L1047.1 580.0 L1047.7 579.6 L1048.2 579.2 L1048.8 578.8 L1049.4 578.4 L1050.0 578.0 L1050.6 577.6 L1051.1 577.2 L1051.7 576.8 L1052.3 576.4 L1052.9 576.0 L1053.5 575.6 L1054.0 575.2 L1054.6 574.8 L1055.2 574.4 L1055.8 574.0 L1056.3 573.6 L1056.9 573.2 L1057.5 572.8 L1058.1 572.4 L1058.6 572.0 L1059.2 571.6 L1059.8 571.1 L1060.3 570.7 L1060.9 570.3 L1061.4 569.9 L1062.0 569.5 L1062.6 569.0 L1063.1 568.6 L1063.7 568.2 L1064.2 567.7 L1064.8 567.3 L1065.3 566.8 L1065.8 566.4 L1066.4 565.9 L1066.9 565.5 L1067.4 565.0 L1068.0 564.6 L1068.5 564.1 L1069.1 563.7 L1069.6 563.2 L1070.2 562.8 L1070.7 562.4 L1071.3 562.0 L1071.9 561.5 L1072.4 561.1 L1073.0 560.7 L1073.6 560.3 L1074.1 559.9 L1074.7 559.5 L1075.3 559.1 L1075.9 558.7 L1076.4 558.3 L1077.0 557.8 L1077.6 557.4 L1078.1 557.0 L1078.7 556.6 L1079.3 556.2 L1079.9 555.8 L1080.4 555.4 L1081.0 555.0 L1081.6 554.6 L1082.1 554.2 L1082.7 553.7 L1083.3 553.3 L1083.8 552.9 L1084.4 552.5 L1084.9 552.0 L1085.5 551.6 L1086.0 551.2 L1086.6 550.7 L1087.2 550.3 L1087.7 549.9 L1088.2 549.4 L1088.8 549.0 L1089.3 548.5 L1089.9 548.1 L1090.4 547.7 L1091.0 547.2 L1091.5 546.8 L1092.1 546.3 L1092.6 545.9 L1093.1 545.4 L1093.7 545.0 L1094.2 544.5 L1094.8 544.1 L1095.3 543.6 L1095.8 543.2 L1096.4 542.7 L1096.9 542.2 L1097.4 541.8 L1098.0 541.3 L1098.5 540.9 L1099.0 540.4 L1099.5 539.9 L1100.1 539.5 L1100.6 539.0 L1100.6 291.0 L905.6 551.0Z" fill="url(#g7)" shape-rendering="crispEdges"/>
<g fill="none" stroke="#000" stroke-width="2.7"><path d="M879.6 585.5L905.6 551.0" stroke="#000" stroke-width="9.2" stroke-linecap="round" fill="none"/><path d="M905.6 554.0L905.6 536.0" stroke="#000" stroke-width="9" stroke-linecap="butt" fill="none"/><path d="M905.6 477.2L905.6 473.7" stroke="#000" stroke-width="9" stroke-linecap="round" fill="none"/><circle cx="905.6" cy="537.0" r="3.0"/><circle cx="905.6" cy="532.5" r="3.0"/><circle cx="905.6" cy="527.4" r="3.0"/><circle cx="905.6" cy="522.2" r="3.0"/><circle cx="905.6" cy="517.0" r="3.0"/><circle cx="905.6" cy="511.8" r="3.0"/><circle cx="905.6" cy="506.6" r="3.0"/><circle cx="905.6" cy="501.4" r="3.0"/><circle cx="905.6" cy="496.2" r="3.0"/><circle cx="905.6" cy="491.0" r="3.0"/><circle cx="905.6" cy="486.2" r="3.0"/><circle cx="905.6" cy="481.7" r="3.0"/><circle cx="905.6" cy="477.6" r="3.0"/><path d="M906.2 551.0L908.2 580.0" stroke="#000" stroke-width="8.8" stroke-linecap="butt" fill="none"/><path d="M904.6 471.2 L904.6 471.9 L904.6 472.6 L904.6 473.3 L904.6 474.0 L904.6 474.7 L904.6 475.4 L904.7 476.1 L904.7 476.8 L904.7 477.6 L904.7 478.3 L904.7 479.0 L904.7 479.7 L904.7 480.4 L904.8 481.1 L904.8 481.8 L904.8 482.5 L904.8 483.2 L904.8 483.9 L904.8 484.6 L904.9 485.3 L904.9 486.0 L904.9 486.7 L904.9 487.4 L904.9 488.1 L904.9 488.8 L904.9 489.5 L905.0 490.2 L905.0 490.9 L905.0 491.6 L905.0 492.3 L905.0 493.0 L905.0 493.7 L905.1 494.4 L905.1 495.1 L905.1 495.8 L905.1 496.5 L905.1 497.2 L905.1 497.9 L905.2 498.6 L905.2 499.3 L905.2 500.0 L905.2 500.7 L905.2 501.4 L905.2 502.1 L905.2 502.8 L905.3 503.5 L905.3 504.2 L905.3 505.0 L905.3 505.7 L905.3 506.4 L905.3 507.1 L905.4 507.8 L905.4 508.5 L905.4 509.2 L905.4 509.9 L905.4 510.6 L905.4 511.3 L905.5 512.0 L905.5 512.7 L905.5 513.4 L905.5 514.1 L905.5 514.8 L905.5 515.5 L905.6 516.2 L905.6 516.9 L905.6 517.6 L905.6 518.3 L905.6 519.0 L905.6 519.7 L905.7 520.4 L905.7 521.1 L905.7 521.8 L905.7 522.5 L905.7 523.2 L905.7 523.9 L905.8 524.6 L905.8 525.3 L905.8 526.0 L905.8 526.7 L905.8 527.4 L905.8 528.1 L905.9 528.8 L905.9 529.5 L905.9 530.2 L905.9 530.9 L905.9 531.6 L905.9 532.3 L906.0 533.0 L906.0 533.8 L906.0 534.5 L906.0 535.2 L906.0 535.9 L906.0 536.6 L906.1 537.3 L906.1 538.0 L906.1 538.7 L906.1 539.4 L906.1 540.1 L906.1 540.8 L906.2 541.5 L906.2 542.2 L906.2 542.9 L906.2 543.6 L906.2 544.3 L906.2 545.0 L906.3 545.7 L906.3 546.4 L906.3 547.1 L906.3 547.8 L906.3 548.5 L906.3 549.2 L906.4 549.9 L906.4 550.6 L906.4 551.3 L906.4 552.0 L906.4 552.7 L906.5 553.4 L906.5 554.1 L906.5 554.8 L906.5 555.5 L906.5 556.2 L906.6 556.9 L906.6 557.6 L906.6 558.3 L906.6 559.0 L906.6 559.8 L906.7 560.5 L906.7 561.2 L906.7 561.9 L906.7 562.6 L906.7 563.3 L906.8 564.0 L906.8 564.7 L906.8 565.4 L906.8 566.1 L906.9 566.8 L906.9 567.5 L906.7 568.2 L906.6 568.9 L906.5 569.6 L906.4 570.3 L906.2 571.0 L906.1 571.7 L906.0 572.4 L905.8 573.1 L905.7 573.9 L905.6 574.6 L905.4 575.3 L905.3 576.0 L905.2 576.7 L905.1 577.4 L904.9 578.1 L904.8 578.8 L904.7 579.5 L904.6 580.3 L904.4 581.0 L904.5 581.7 L904.5 582.4 L904.5 583.1 L904.6 583.8 L904.6 584.5 L904.6 585.2 L904.7 585.9 L904.7 586.6 L904.7 587.3 L904.8 588.0 L904.8 588.7 L904.8 589.4 L904.9 590.1 L904.9 590.9 L904.9 591.6 L905.0 592.3 L905.0 593.0 L905.1 593.7 L905.1 594.4 L905.1 595.1 L905.2 595.8 L905.2 596.5 L905.3 597.3 L905.3 598.0 L905.4 598.7 L905.4 599.4 L905.5 600.1 L905.6 600.8 L905.6 601.5 L905.7 602.3 L905.7 603.0 L905.8 603.7 L905.9 604.4 L906.0 605.1 L906.0 605.8 L906.1 606.5 L906.2 607.2 L906.3 608.0 L906.4 608.7 L906.5 609.5 L906.7 610.3 L906.8 611.1 L907.0 611.9 L907.2 612.7 L907.4 613.5 L907.6 614.2 L907.8 615.0 L908.1 615.8 L908.4 616.5 L908.7 617.3 L909.0 618.0 L909.4 618.9 L909.9 619.8 L910.5 620.7 L911.2 621.6 L912.0 622.4 L913.0 623.2 L914.1 623.9 L915.0 624.3 L915.8 624.6 L916.7 624.9 L917.7 625.2 L918.6 625.4 L919.7 625.5 L920.7 625.6 L921.5 625.6 L922.3 625.6 L923.0 625.6 L923.7 625.6 L924.4 625.6 L925.2 625.6 L925.9 625.5 L926.6 625.5 L927.3 625.5 L928.1 625.4 L928.8 625.4 L929.5 625.3 L930.2 625.3 L931.0 625.2 L931.7 625.2 L932.4 625.1 L933.1 625.1 L933.8 625.0 L934.5 624.9 L935.2 624.9 L936.0 624.8 L936.7 624.7 L937.4 624.7 L938.1 624.6 L938.8 624.5 L939.6 624.4 L940.3 624.3 L941.1 624.2 L941.8 624.1 L942.6 624.0 L943.3 623.8 L944.0 623.7 L944.7 623.5 L945.5 623.4 L946.2 623.2 L946.9 623.1 L947.6 622.9 L948.3 622.7 L949.0 622.6 L949.7 622.4 L950.4 622.2 L951.1 622.1 L951.8 621.9 L952.4 621.8 L953.1 621.6 L953.8 621.4 L954.5 621.3 L955.1 621.1 L955.8 621.0 L956.5 620.8 L957.2 620.7 L957.9 620.5 L958.6 620.3 L959.3 620.2 L960.0 620.0 L960.7 619.8 L961.4 619.7 L962.1 619.5 L962.8 619.3 L963.4 619.2 L964.1 619.0 L964.8 618.8 L965.5 618.6 L966.2 618.5 L966.9 618.3 L967.6 618.1 L968.3 617.9 L968.9 617.7 L969.6 617.5 L970.3 617.4 L971.0 617.2 L971.7 617.0 L972.4 616.8 L973.1 616.6 L973.7 616.4 L974.4 616.2 L975.1 616.0 L975.8 615.8 L976.5 615.6 L977.2 615.4 L977.8 615.2 L978.5 615.0 L979.2 614.8 L979.9 614.6 L980.6 614.4 L981.3 614.2 L981.9 614.0 L982.6 613.8 L983.3 613.6 L984.0 613.4 L984.6 613.2 L985.3 612.9 L986.0 612.7 L986.7 612.5 L987.4 612.3 L988.0 612.1 L988.7 611.9 L989.4 611.7 L990.0 611.4 L990.7 611.2 L991.4 611.0 L992.1 610.8 L992.7 610.5 L993.4 610.3 L994.1 610.1 L994.8 609.9 L995.4 609.6 L996.1 609.4 L996.8 609.2 L997.5 608.9 L998.1 608.7 L998.8 608.4 L999.5 608.2 L1000.2 608.0 L1000.8 607.7 L1001.5 607.5 L1002.2 607.2 L1002.9 607.0 L1003.5 606.7 L1004.2 606.4 L1004.9 606.2 L1005.5 605.9 L1006.2 605.6 L1006.9 605.4 L1007.5 605.1 L1008.2 604.8 L1008.9 604.5 L1009.5 604.2 L1010.2 604.0 L1010.9 603.7 L1011.5 603.4 L1012.2 603.1 L1012.8 602.8 L1013.5 602.5 L1014.1 602.2 L1014.8 601.9 L1015.4 601.6 L1016.0 601.3 L1016.7 601.0 L1017.3 600.7 L1018.0 600.4 L1018.6 600.1 L1019.2 599.8 L1019.9 599.5 L1020.5 599.2 L1021.1 598.9 L1021.8 598.6 L1022.4 598.3 L1023.0 598.0 L1023.7 597.8 L1024.3 597.5 L1024.9 597.2 L1025.6 596.9 L1026.2 596.6 L1026.9 596.3 L1027.5 596.0 L1028.2 595.7 L1028.8 595.4 L1029.4 595.1 L1030.1 594.8 L1030.7 594.5 L1031.4 594.2 L1032.0 593.9 L1032.7 593.6 L1033.4 593.3 L1034.0 593.0 L1034.7 592.6 L1035.3 592.3 L1035.9 592.0 L1036.6 591.6 L1037.2 591.3 L1037.9 590.9 L1038.5 590.6 L1039.2 590.2 L1039.8 589.9 L1040.5 589.5 L1041.1 589.1 L1041.7 588.7 L1042.3 588.3 L1043.0 587.9 L1043.6 587.6 L1044.2 587.2 L1044.8 586.8 L1045.4 586.4 L1046.0 586.0 L1046.6 585.6 L1047.2 585.2 L1047.8 584.8 L1048.4 584.4 L1048.9 584.0 L1049.5 583.6 L1050.1 583.2 L1050.7 582.8 L1051.3 582.4 L1051.8 582.0 L1052.4 581.6 L1053.0 581.2 L1053.6 580.8 L1054.1 580.3 L1054.7 579.9 L1055.3 579.5 L1055.8 579.1 L1056.4 578.6 L1057.0 578.2 L1057.5 577.8 L1058.1 577.3 L1058.7 576.9 L1059.2 576.4 L1059.8 576.0 L1060.4 575.6 L1060.9 575.1 L1061.5 574.7 L1062.0 574.2 L1062.6 573.8 L1063.1 573.3 L1063.7 572.8 L1064.3 572.4 L1064.8 572.0 L1065.4 571.5 L1066.0 571.1 L1066.5 570.6 L1067.1 570.1 L1067.7 569.7 L1068.2 569.2 L1068.8 568.7 L1069.3 568.3 L1069.8 567.8 L1070.3 567.4 L1070.9 567.0 L1071.4 566.6 L1071.9 566.2 L1072.4 565.8 L1073.0 565.4 L1073.5 564.9 L1074.1 564.5 L1074.7 564.1 L1075.2 563.7 L1075.8 563.3 L1076.3 563.0 L1076.9 562.6 L1077.5 562.1 L1078.0 561.7 L1078.6 561.3 L1079.2 560.9 L1079.8 560.5 L1080.3 560.1 L1080.9 559.7 L1081.5 559.3 L1082.1 558.9 L1082.6 558.5 L1083.2 558.0 L1083.8 557.6 L1084.4 557.2 L1084.9 556.8 L1085.5 556.3 L1086.1 555.9 L1086.7 555.4 L1087.2 555.0 L1087.8 554.5 L1088.3 554.1 L1088.9 553.6 L1089.4 553.2 L1090.0 552.8 L1090.6 552.3 L1091.1 551.9 L1091.7 551.4 L1092.2 551.0 L1092.7 550.5 L1093.3 550.0 L1093.8 549.6 L1094.4 549.1 L1094.9 548.7 L1095.5 548.2 L1096.0 547.8 L1096.6 547.3 L1097.1 546.8 L1097.6 546.4 L1098.2 545.9 L1098.7 545.4 L1099.2 545.0 L1099.8 544.5 L1100.3 544.0 L1100.9 543.6 L1101.4 543.1 L1101.9 542.6 L1102.4 542.1 L1103.0 541.7 L1098.2 536.3 L1097.7 536.8 L1097.2 537.2 L1096.7 537.7 L1096.1 538.2 L1095.6 538.6 L1095.1 539.1 L1094.5 539.5 L1094.0 540.0 L1093.5 540.4 L1092.9 540.9 L1092.4 541.3 L1091.9 541.8 L1091.3 542.2 L1090.8 542.6 L1090.3 543.1 L1089.7 543.5 L1089.2 544.0 L1088.7 544.4 L1088.1 544.8 L1087.6 545.3 L1087.0 545.7 L1086.5 546.1 L1085.9 546.6 L1085.4 547.0 L1084.9 547.4 L1084.3 547.8 L1083.8 548.3 L1083.2 548.7 L1082.7 549.1 L1082.1 549.5 L1081.6 549.9 L1081.0 550.3 L1080.5 550.7 L1079.9 551.1 L1079.4 551.5 L1078.8 551.9 L1078.2 552.3 L1077.7 552.7 L1077.1 553.1 L1076.5 553.5 L1076.0 553.9 L1075.4 554.3 L1074.8 554.8 L1074.2 555.2 L1073.7 555.6 L1073.1 556.0 L1072.5 556.4 L1071.9 556.8 L1071.4 557.2 L1070.8 557.7 L1070.2 558.1 L1069.6 558.5 L1069.1 559.0 L1068.5 559.4 L1067.9 559.9 L1067.4 560.3 L1066.8 560.8 L1066.2 561.3 L1065.6 561.7 L1065.1 562.2 L1064.5 562.7 L1064.0 563.1 L1063.5 563.6 L1062.9 564.0 L1062.4 564.4 L1061.9 564.9 L1061.4 565.3 L1060.9 565.7 L1060.3 566.1 L1059.8 566.5 L1059.2 566.9 L1058.6 567.3 L1058.1 567.7 L1057.5 568.1 L1056.9 568.4 L1056.3 568.8 L1055.7 569.2 L1055.2 569.6 L1054.6 570.0 L1054.0 570.3 L1053.4 570.7 L1052.8 571.1 L1052.3 571.5 L1051.7 571.8 L1051.1 572.2 L1050.5 572.6 L1049.9 573.0 L1049.3 573.3 L1048.7 573.7 L1048.1 574.1 L1047.6 574.5 L1047.0 574.9 L1046.4 575.3 L1045.8 575.7 L1045.2 576.1 L1044.7 576.5 L1044.1 576.9 L1043.5 577.3 L1042.9 577.6 L1042.3 578.0 L1041.8 578.4 L1041.2 578.8 L1040.6 579.2 L1040.1 579.6 L1039.5 580.0 L1038.9 580.3 L1038.3 580.7 L1037.8 581.0 L1037.2 581.4 L1036.6 581.7 L1036.1 582.1 L1035.5 582.4 L1034.9 582.8 L1034.4 583.1 L1033.8 583.4 L1033.2 583.7 L1032.6 584.0 L1032.0 584.3 L1031.4 584.6 L1030.8 584.9 L1030.2 585.2 L1029.6 585.5 L1029.0 585.8 L1028.3 586.1 L1027.7 586.4 L1027.1 586.7 L1026.5 587.0 L1025.8 587.3 L1025.2 587.6 L1024.6 587.9 L1023.9 588.2 L1023.3 588.5 L1022.7 588.8 L1022.0 589.0 L1021.4 589.3 L1020.7 589.6 L1020.1 589.9 L1019.4 590.2 L1018.8 590.5 L1018.2 590.8 L1017.5 591.1 L1016.9 591.4 L1016.2 591.7 L1015.6 592.0 L1015.0 592.3 L1014.3 592.6 L1013.7 592.9 L1013.0 593.2 L1012.4 593.5 L1011.8 593.8 L1011.1 594.1 L1010.5 594.4 L1009.9 594.7 L1009.3 595.0 L1008.6 595.2 L1008.0 595.5 L1007.4 595.8 L1006.7 596.1 L1006.1 596.4 L1005.5 596.6 L1004.9 596.9 L1004.2 597.2 L1003.6 597.4 L1003.0 597.7 L1002.3 597.9 L1001.7 598.2 L1001.1 598.4 L1000.4 598.7 L999.8 598.9 L999.2 599.2 L998.5 599.4 L997.9 599.6 L997.2 599.9 L996.6 600.1 L995.9 600.4 L995.3 600.6 L994.6 600.8 L994.0 601.0 L993.3 601.3 L992.7 601.5 L992.0 601.7 L991.3 601.9 L990.7 602.2 L990.0 602.4 L989.4 602.6 L988.7 602.8 L988.0 603.0 L987.4 603.3 L986.7 603.5 L986.1 603.7 L985.4 603.9 L984.7 604.1 L984.1 604.3 L983.4 604.5 L982.7 604.7 L982.1 605.0 L981.4 605.2 L980.7 605.4 L980.1 605.6 L979.4 605.8 L978.8 606.0 L978.1 606.2 L977.4 606.4 L976.8 606.6 L976.1 606.8 L975.4 607.0 L974.8 607.2 L974.1 607.3 L973.4 607.5 L972.8 607.7 L972.1 607.9 L971.4 608.1 L970.8 608.3 L970.1 608.5 L969.4 608.6 L968.7 608.8 L968.1 609.0 L967.4 609.2 L966.7 609.4 L966.1 609.5 L965.4 609.7 L964.7 609.9 L964.0 610.0 L963.4 610.2 L962.7 610.4 L962.0 610.6 L961.3 610.7 L960.7 610.9 L960.0 611.1 L959.3 611.2 L958.6 611.4 L958.0 611.5 L957.3 611.7 L956.6 611.9 L955.9 612.0 L955.3 612.2 L954.6 612.3 L953.9 612.5 L953.2 612.6 L952.5 612.8 L951.8 612.9 L951.1 613.1 L950.4 613.3 L949.7 613.4 L949.1 613.6 L948.4 613.8 L947.7 613.9 L947.0 614.1 L946.3 614.2 L945.7 614.4 L945.0 614.5 L944.3 614.7 L943.7 614.8 L943.0 614.9 L942.4 615.1 L941.7 615.2 L941.1 615.3 L940.4 615.4 L939.8 615.5 L939.1 615.6 L938.5 615.7 L937.9 615.7 L937.2 615.8 L936.5 615.9 L935.9 615.9 L935.2 616.0 L934.5 616.0 L933.8 616.1 L933.1 616.2 L932.4 616.2 L931.7 616.3 L931.0 616.3 L930.3 616.4 L929.6 616.4 L928.9 616.5 L928.2 616.5 L927.5 616.5 L926.9 616.6 L926.2 616.6 L925.5 616.7 L924.8 616.7 L924.2 616.7 L923.5 616.7 L922.8 616.8 L922.1 616.8 L921.5 616.8 L921.0 616.8 L920.6 616.8 L920.1 616.7 L919.6 616.6 L919.1 616.5 L918.7 616.4 L918.2 616.2 L918.0 616.1 L918.0 616.2 L917.9 616.1 L917.7 615.9 L917.4 615.6 L917.2 615.2 L917.0 614.9 L916.8 614.5 L916.6 614.0 L916.4 613.5 L916.2 613.0 L916.0 612.4 L915.9 611.8 L915.7 611.2 L915.5 610.6 L915.4 610.0 L915.2 609.4 L915.1 608.7 L915.0 608.1 L914.9 607.5 L914.8 606.8 L914.7 606.2 L914.7 605.5 L914.6 604.9 L914.5 604.2 L914.4 603.5 L914.4 602.8 L914.3 602.2 L914.2 601.5 L914.2 600.8 L914.1 600.1 L914.1 599.4 L914.0 598.7 L914.0 598.1 L913.9 597.4 L913.9 596.7 L913.8 596.0 L913.8 595.3 L913.7 594.6 L913.7 593.9 L913.6 593.2 L913.6 592.5 L913.6 591.8 L913.5 591.1 L913.5 590.4 L913.5 589.7 L913.4 589.0 L913.4 588.3 L913.4 587.6 L913.3 586.9 L913.3 586.2 L913.3 585.5 L913.2 584.8 L913.2 584.1 L913.2 583.4 L913.1 582.7 L913.1 582.0 L913.1 581.3 L913.0 580.6 L912.8 579.9 L912.7 579.2 L912.5 578.5 L912.3 577.8 L912.1 577.1 L911.9 576.4 L911.7 575.7 L911.6 575.0 L911.4 574.4 L911.2 573.7 L911.0 573.0 L910.8 572.3 L910.7 571.6 L910.5 570.9 L910.3 570.2 L910.1 569.5 L909.9 568.8 L909.8 568.1 L909.6 567.4 L909.6 566.7 L909.5 566.0 L909.5 565.3 L909.5 564.6 L909.5 563.9 L909.4 563.2 L909.4 562.5 L909.4 561.8 L909.4 561.1 L909.4 560.4 L909.3 559.7 L909.3 559.0 L909.3 558.3 L909.3 557.6 L909.3 556.9 L909.2 556.2 L909.2 555.5 L909.2 554.8 L909.2 554.1 L909.2 553.4 L909.1 552.6 L909.1 551.9 L909.1 551.2 L909.1 550.5 L909.1 549.8 L909.0 549.1 L909.0 548.4 L909.0 547.7 L909.0 547.0 L909.0 546.3 L909.0 545.6 L908.9 544.9 L908.9 544.2 L908.9 543.5 L908.9 542.8 L908.9 542.1 L908.9 541.4 L908.8 540.7 L908.8 540.0 L908.8 539.3 L908.8 538.6 L908.8 537.9 L908.8 537.2 L908.7 536.5 L908.7 535.8 L908.7 535.1 L908.7 534.4 L908.7 533.7 L908.7 533.0 L908.6 532.3 L908.6 531.6 L908.6 530.9 L908.6 530.2 L908.6 529.5 L908.6 528.8 L908.5 528.1 L908.5 527.4 L908.5 526.7 L908.5 526.0 L908.5 525.3 L908.5 524.6 L908.4 523.9 L908.4 523.2 L908.4 522.4 L908.4 521.7 L908.4 521.0 L908.4 520.3 L908.3 519.6 L908.3 518.9 L908.3 518.2 L908.3 517.5 L908.3 516.8 L908.3 516.1 L908.2 515.4 L908.2 514.7 L908.2 514.0 L908.2 513.3 L908.2 512.6 L908.2 511.9 L908.1 511.2 L908.1 510.5 L908.1 509.8 L908.1 509.1 L908.1 508.4 L908.1 507.7 L908.0 507.0 L908.0 506.3 L908.0 505.6 L908.0 504.9 L908.0 504.2 L908.0 503.5 L907.9 502.8 L907.9 502.1 L907.9 501.4 L907.9 500.7 L907.9 500.0 L907.9 499.3 L907.9 498.6 L907.8 497.9 L907.8 497.2 L907.8 496.5 L907.8 495.8 L907.8 495.1 L907.8 494.4 L907.7 493.6 L907.7 492.9 L907.7 492.2 L907.7 491.5 L907.7 490.8 L907.7 490.1 L907.6 489.4 L907.6 488.7 L907.6 488.0 L907.6 487.3 L907.6 486.6 L907.6 485.9 L907.6 485.2 L907.5 484.5 L907.5 483.8 L907.5 483.1 L907.5 482.4 L907.5 481.7 L907.5 481.0 L907.4 480.3 L907.4 479.6 L907.4 478.9 L907.4 478.2 L907.4 477.5 L907.4 476.8 L907.4 476.1 L907.3 475.4 L907.3 474.7 L907.3 474.0 L907.3 473.3 L907.3 472.6 L907.3 471.9 L907.2 471.2Z" fill="#000" stroke="#000" stroke-width="0.6" stroke-linejoin="round"/><circle cx="1100.6" cy="539.0" r="3.6" fill="#000" stroke="none"/></g>
<path d="M1071.9 551.0 L1071.9 942.0 L1074.5 939.0 L1074.5 938.3 L1074.5 937.6 L1074.5 936.9 L1074.5 936.2 L1074.5 935.5 L1074.5 934.8 L1074.5 934.1 L1074.5 933.4 L1074.5 932.7 L1074.5 932.0 L1074.5 931.3 L1074.5 930.6 L1074.5 929.9 L1074.5 929.2 L1074.5 928.5 L1074.5 927.8 L1074.5 927.1 L1074.5 926.4 L1074.5 925.7 L1074.5 925.0 L1074.5 924.3 L1074.5 923.6 L1074.5 922.9 L1074.5 922.1 L1074.5 921.4 L1074.5 920.7 L1074.5 920.0 L1074.5 919.3 L1074.5 918.6 L1074.5 917.9 L1074.5 917.2 L1074.5 916.5 L1074.5 915.8 L1074.5 915.1 L1074.5 914.4 L1074.5 913.7 L1074.5 913.0 L1074.5 912.3 L1074.5 911.6 L1074.5 910.9 L1074.5 910.2 L1074.5 909.5 L1074.5 908.8 L1074.5 908.1 L1074.5 907.4 L1074.5 906.7 L1074.5 906.0 L1074.5 905.3 L1074.5 904.6 L1074.5 903.9 L1074.5 903.2 L1074.5 902.5 L1074.5 901.8 L1074.5 901.1 L1074.5 900.4 L1074.5 899.7 L1074.6 899.0 L1074.6 898.3 L1074.6 897.6 L1074.6 896.9 L1074.6 896.2 L1074.6 895.5 L1074.6 894.8 L1074.6 894.1 L1074.6 893.4 L1074.6 892.7 L1074.6 892.0 L1074.6 891.3 L1074.6 890.6 L1074.6 889.8 L1074.6 889.1 L1074.6 888.4 L1074.6 887.7 L1074.6 887.0 L1074.6 886.3 L1074.6 885.6 L1074.6 884.9 L1074.6 884.2 L1074.6 883.5 L1074.6 882.8 L1074.6 882.1 L1074.6 881.4 L1074.6 880.7 L1074.6 880.0 L1074.6 879.3 L1074.6 878.6 L1074.6 877.9 L1074.6 877.2 L1074.6 876.5 L1074.6 875.8 L1074.6 875.1 L1074.6 874.4 L1074.6 873.7 L1074.6 873.0 L1074.6 872.3 L1074.6 871.6 L1074.6 870.9 L1074.6 870.2 L1074.6 869.5 L1074.6 868.8 L1074.6 868.1 L1074.7 867.4 L1074.7 866.7 L1074.7 866.0 L1074.7 865.3 L1074.7 864.6 L1074.7 863.9 L1074.7 863.2 L1074.7 862.5 L1074.7 861.8 L1074.7 861.1 L1074.7 860.4 L1074.7 859.7 L1074.7 859.0 L1074.7 858.3 L1074.7 857.5 L1074.7 856.8 L1074.7 856.1 L1074.7 855.4 L1074.7 854.7 L1074.7 854.0 L1074.8 853.3 L1074.8 852.6 L1074.8 851.9 L1074.8 851.2 L1074.8 850.5 L1074.8 849.8 L1074.8 849.1 L1074.8 848.4 L1074.8 847.7 L1074.8 847.0 L1074.8 846.3 L1074.8 845.6 L1074.8 844.9 L1074.8 844.2 L1074.8 843.5 L1074.9 842.8 L1074.9 842.1 L1074.9 841.4 L1074.9 840.7 L1074.9 840.0 L1074.9 839.3 L1074.9 838.6 L1074.9 837.9 L1074.9 837.2 L1074.9 836.5 L1074.9 835.8 L1074.9 835.1 L1075.0 834.4 L1075.0 833.7 L1075.0 833.0 L1075.0 832.3 L1075.0 831.6 L1075.0 830.9 L1075.0 830.2 L1075.0 829.5 L1075.0 828.8 L1075.0 828.1 L1075.0 827.4 L1075.1 826.7 L1075.1 826.0 L1075.1 825.3 L1075.1 824.5 L1075.1 823.8 L1075.1 823.1 L1075.1 822.4 L1075.1 821.7 L1075.1 821.0 L1075.1 820.3 L1075.2 819.6 L1075.2 818.9 L1075.2 818.2 L1075.2 817.5 L1075.2 816.8 L1075.2 816.1 L1075.2 815.4 L1075.2 814.7 L1075.2 814.0 L1075.3 813.3 L1075.3 812.6 L1075.3 811.9 L1075.3 811.2 L1075.3 810.5 L1075.3 809.8 L1075.3 809.1 L1075.3 808.4 L1075.4 807.7 L1075.4 807.0 L1075.4 806.3 L1075.4 805.6 L1075.4 804.9 L1075.4 804.2 L1075.4 803.5 L1075.4 802.8 L1075.5 802.1 L1075.5 801.4 L1075.5 800.7 L1075.5 800.0 L1075.5 799.3 L1075.5 798.6 L1075.5 797.9 L1075.6 797.2 L1075.6 796.5 L1075.6 795.8 L1075.6 795.1 L1075.6 794.4 L1075.6 793.6 L1075.7 792.9 L1075.7 792.2 L1075.7 791.5 L1075.7 790.8 L1075.8 790.1 L1075.8 789.4 L1075.8 788.7 L1075.8 788.0 L1075.8 787.3 L1075.9 786.6 L1075.9 785.9 L1075.9 785.2 L1076.0 784.5 L1076.0 783.8 L1076.0 783.1 L1076.1 782.4 L1076.1 781.7 L1076.1 781.0 L1076.2 780.3 L1076.2 779.6 L1076.2 778.9 L1076.3 778.2 L1076.3 777.5 L1076.4 776.8 L1076.4 776.1 L1076.4 775.4 L1076.5 774.7 L1076.5 774.0 L1076.6 773.3 L1076.6 772.6 L1076.7 771.9 L1076.8 771.2 L1076.9 770.6 L1077.0 769.9 L1077.1 769.2 L1077.2 768.5 L1077.3 767.8 L1077.4 767.1 L1077.6 766.4 L1077.7 765.7 L1077.9 765.1 L1078.0 764.4 L1078.2 763.7 L1078.4 763.0 L1078.6 762.3 L1078.8 761.6 L1078.9 760.9 L1079.1 760.3 L1079.3 759.6 L1079.5 758.9 L1079.8 758.2 L1080.0 757.5 L1080.2 756.9 L1080.4 756.2 L1080.6 755.5 L1080.8 754.8 L1081.0 754.2 L1081.3 753.5 L1081.5 752.8 L1081.7 752.2 L1081.9 751.5 L1082.1 750.8 L1082.4 750.1 L1082.6 749.5 L1082.8 748.8 L1083.0 748.2 L1083.2 747.5 L1083.4 746.8 L1083.7 746.2 L1083.9 745.5 L1084.1 744.8 L1084.4 744.1 L1084.6 743.5 L1084.8 742.8 L1085.1 742.1 L1085.3 741.5 L1085.6 740.8 L1085.8 740.1 L1086.1 739.5 L1086.3 738.8 L1086.6 738.1 L1086.9 737.5 L1087.2 736.8 L1087.4 736.2 L1087.7 735.5 L1088.0 734.9 L1088.3 734.3 L1088.6 733.6 L1088.9 733.0 L1089.2 732.4 L1089.5 731.7 L1089.8 731.1 L1090.2 730.5 L1090.5 729.9 L1090.8 729.3 L1091.2 728.7 L1091.5 728.1 L1091.9 727.6 L1092.3 727.0 L1092.7 726.4 L1093.1 725.9 L1093.5 725.3 L1094.0 724.7 L1094.4 724.2 L1094.9 723.6 L1095.3 723.1 L1095.8 722.6 L1096.3 722.0 L1096.8 721.5 L1097.2 721.0 L1097.7 720.5 L1098.2 720.0 L1098.7 719.5 L1099.2 719.0 L1099.7 718.5 L1100.2 718.0 L1100.7 717.5 L1101.3 717.1 L1101.8 716.6 L1102.3 716.1 L1102.9 715.7 L1103.4 715.2 L1104.0 714.8 L1104.5 714.3 L1105.1 713.9 L1105.7 713.5 L1106.2 713.1 L1106.8 712.7 L1107.4 712.3 L1108.0 712.0 L1108.6 711.6 L1109.2 711.3 L1109.8 710.9 L1110.4 710.6 L1111.0 710.2 L1111.7 709.9 L1112.3 709.6 L1113.0 709.3 L1113.6 709.0 L1114.2 708.7 L1114.9 708.5 L1115.5 708.2 L1116.2 708.0 L1116.9 707.8 L1117.5 707.6 L1118.2 707.3 L1118.9 707.1 L1119.6 706.9 L1120.2 706.7 L1120.9 706.6 L1121.6 706.4 L1122.3 706.3 L1123.0 706.1 L1123.7 706.0 L1124.4 706.0 L1125.1 705.9 L1125.8 705.8 L1126.5 705.8 L1127.2 705.7 L1127.9 705.7 L1128.6 705.6 L1129.3 705.5 L1130.0 705.5 L1130.7 705.5 L1131.4 705.4 L1132.1 705.4 L1132.8 705.4 L1133.5 705.3 L1134.2 705.3 L1134.9 705.3 L1135.6 705.3 L1136.3 705.3 L1137.0 705.3 L1137.7 705.3 L1138.4 705.4 L1139.1 705.4 L1139.8 705.4 L1140.5 705.4 L1141.2 705.5 L1141.9 705.5 L1142.6 705.6 L1143.3 705.6 L1144.0 705.7 L1144.7 705.7 L1145.4 705.8 L1146.1 705.8 L1146.8 705.9 L1147.5 705.9 L1148.2 706.0 L1148.9 706.0 L1149.6 706.1 L1150.3 706.1 L1151.0 706.2 L1151.7 706.2 L1152.4 706.3 L1153.1 706.3 L1153.8 706.4 L1154.5 706.4 L1155.2 706.5 L1155.9 706.6 L1156.6 706.6 L1157.3 706.7 L1158.0 706.8 L1158.7 706.8 L1159.4 706.9 L1160.1 707.0 L1160.8 707.1 L1161.5 707.1 L1162.2 707.2 L1162.9 707.3 L1163.6 707.4 L1164.3 707.5 L1165.0 707.7 L1165.7 707.8 L1166.4 707.9 L1167.1 708.0 L1167.8 708.1 L1168.5 708.3 L1169.2 708.4 L1169.9 708.5 L1170.6 708.6 L1171.2 708.7 L1171.9 708.9 L1172.6 709.0 L1173.3 709.1 L1174.0 709.2 L1174.7 709.2 L1175.4 709.3 L1176.1 709.4 L1176.8 709.5 L1177.5 709.5 L1178.2 709.6 L1178.9 709.6 L1179.6 709.6 L1180.3 709.6 L1181.0 709.6 L1181.7 709.6 L1182.4 709.6 L1183.1 709.6 L1183.8 709.6 L1184.5 709.6 L1185.2 709.6 L1185.9 709.6 L1186.6 709.6 L1187.3 709.5 L1188.0 709.5 L1188.7 709.5 L1189.4 709.5 L1190.1 709.5 L1190.8 709.5 L1191.5 709.5 L1192.2 709.4 L1192.9 709.4 L1193.6 709.4 L1194.3 709.4 L1195.1 709.4 L1195.8 709.4 L1196.5 709.3 L1197.2 709.3 L1197.9 709.3 L1198.6 709.3 L1199.3 709.3 L1200.0 709.2 L1200.7 709.2 L1201.4 709.1 L1202.1 709.1 L1202.8 709.0 L1203.5 708.9 L1204.1 708.9 L1204.8 708.8 L1205.5 708.7 L1206.2 708.6 L1206.9 708.5 L1207.6 708.5 L1208.3 708.4 L1209.0 708.3 L1209.7 708.2 L1210.4 708.1 L1211.1 708.0 L1211.8 708.0 L1212.5 707.9 L1213.2 707.8 L1213.9 707.7 L1214.6 707.6 L1215.3 707.6 L1216.0 707.5 L1216.7 707.4 L1217.4 707.3 L1218.1 707.2 L1218.8 707.1 L1219.5 707.1 L1220.2 707.0 L1220.9 706.9 L1221.6 706.8 L1222.3 706.7 L1223.0 706.6 L1223.7 706.5 L1224.4 706.4 L1225.1 706.4 L1225.8 706.3 L1226.5 706.2 L1227.2 706.2 L1227.9 706.1 L1228.6 706.1 L1229.3 706.0 L1230.0 706.0 L1230.7 706.0 L1231.4 706.0 L1232.1 706.0 L1232.8 706.1 L1233.5 706.1 L1234.2 706.2 L1234.8 706.3 L1235.5 706.4 L1236.2 706.5 L1236.9 706.6 L1237.6 706.8 L1238.3 706.9 L1239.0 707.1 L1239.7 707.2 L1240.4 707.4 L1241.0 707.6 L1241.7 707.8 L1242.4 707.9 L1243.1 708.1 L1243.8 708.3 L1244.5 708.5 L1245.2 708.7 L1245.8 708.9 L1246.5 709.1 L1247.2 709.3 L1247.9 709.5 L1248.6 709.6 L1249.3 709.8 L1249.9 710.0 L1250.6 710.1 L1251.3 710.3 L1252.0 710.5 L1252.7 710.6 L1253.3 710.8 L1254.0 711.0 L1254.7 711.2 L1255.4 711.3 L1256.1 711.5 L1256.7 711.7 L1257.4 711.9 L1258.1 712.0 L1258.8 712.2 L1259.5 712.4 L1260.1 712.6 L1260.8 712.8 L1261.5 713.0 L1262.2 713.1 L1262.8 713.3 L1263.5 713.5 L1264.2 713.7 L1264.9 713.9 L1265.6 714.1 L1266.2 714.3 L1266.9 714.5 L1266.9 291.0 L1071.9 551.0Z" fill="url(#g8)" shape-rendering="crispEdges"/>
<g fill="none" stroke="#000" stroke-width="2.7"><path d="M1045.9 585.5L1071.9 551.0" stroke="#000" stroke-width="9.2" stroke-linecap="round" fill="none"/><rect x="1069.7" y="553.0" width="4.9" height="102.4" fill="#ffd0d0" stroke="none"/><rect x="1069.7" y="655.4" width="4.9" height="112.6" fill="#ff8c8c" stroke="none"/><path d="M1069.3 728.0V938.9a3.1 3.1 0 0 0 6.2 0V728.0Z" fill="url(#s8)" stroke="none"/><path d="M1069.3 768.0V938.9a3.1 3.1 0 0 0 6.2 0V778.0" fill="none" stroke="#000" stroke-width="2.2"/><circle cx="1071.9" cy="557.6" r="2.6" stroke-width="2.2"/><circle cx="1071.9" cy="573.3" r="2.6" stroke-width="2.2"/><circle cx="1071.9" cy="604.6" r="2.6" stroke-width="2.2"/><circle cx="1071.9" cy="655.4" r="2.6" stroke-width="2.2"/><circle cx="1071.9" cy="726.2" r="2.6" stroke-width="2.2"/><circle cx="1071.9" cy="802.0" r="2.6" stroke-width="2.2"/><circle cx="1071.9" cy="869.0" r="2.6" stroke-width="2.2"/><circle cx="1071.9" cy="915.0" r="2.6" stroke-width="2.2"/><circle cx="1071.9" cy="936.5" r="2.6" stroke-width="2.2"/><path d="M1075.8 939.0 L1075.9 938.3 L1075.9 937.6 L1075.9 936.9 L1075.9 936.2 L1075.9 935.5 L1075.9 934.8 L1075.9 934.1 L1075.9 933.4 L1075.9 932.7 L1075.9 932.0 L1075.9 931.3 L1075.9 930.6 L1075.9 929.9 L1075.9 929.2 L1075.9 928.5 L1075.9 927.8 L1075.9 927.1 L1075.9 926.4 L1075.9 925.7 L1075.9 925.0 L1075.9 924.3 L1075.9 923.6 L1075.9 922.9 L1075.9 922.1 L1075.9 921.4 L1075.9 920.7 L1075.9 920.0 L1075.9 919.3 L1075.9 918.6 L1075.9 917.9 L1075.9 917.2 L1075.9 916.5 L1075.9 915.8 L1075.9 915.1 L1075.9 914.4 L1075.9 913.7 L1075.9 913.0 L1075.9 912.3 L1075.9 911.6 L1075.9 910.9 L1075.9 910.2 L1075.9 909.5 L1075.9 908.8 L1075.9 908.1 L1075.9 907.4 L1075.9 906.7 L1075.9 906.0 L1075.9 905.3 L1075.9 904.6 L1075.9 903.9 L1075.9 903.2 L1075.9 902.5 L1075.9 901.8 L1075.9 901.1 L1075.9 900.4 L1075.9 899.7 L1075.9 899.0 L1075.9 898.3 L1075.9 897.6 L1075.9 896.9 L1075.9 896.2 L1075.9 895.5 L1075.9 894.8 L1075.9 894.1 L1075.9 893.4 L1075.9 892.7 L1075.9 892.0 L1075.9 891.3 L1075.9 890.6 L1075.9 889.9 L1075.9 889.2 L1075.9 888.4 L1075.9 887.7 L1075.9 887.0 L1075.9 886.3 L1075.9 885.6 L1075.9 884.9 L1075.9 884.2 L1075.9 883.5 L1075.9 882.8 L1075.9 882.1 L1075.9 881.4 L1075.9 880.7 L1075.9 880.0 L1076.0 879.3 L1076.0 878.6 L1076.0 877.9 L1076.0 877.2 L1076.0 876.5 L1076.0 875.8 L1076.0 875.1 L1076.0 874.4 L1076.0 873.7 L1076.0 873.0 L1076.0 872.3 L1076.0 871.6 L1076.0 870.9 L1076.0 870.2 L1076.0 869.5 L1076.0 868.8 L1076.0 868.1 L1076.0 867.4 L1076.0 866.7 L1076.0 866.0 L1076.0 865.3 L1076.0 864.6 L1076.0 863.9 L1076.0 863.2 L1076.0 862.5 L1076.0 861.8 L1076.0 861.1 L1076.0 860.4 L1076.1 859.7 L1076.1 859.0 L1076.1 858.3 L1076.1 857.6 L1076.1 856.9 L1076.1 856.2 L1076.1 855.5 L1076.1 854.8 L1076.1 854.1 L1076.1 853.3 L1076.1 852.6 L1076.1 851.9 L1076.1 851.2 L1076.1 850.5 L1076.1 849.8 L1076.1 849.1 L1076.1 848.4 L1076.2 847.7 L1076.2 847.0 L1076.2 846.3 L1076.2 845.6 L1076.2 844.9 L1076.2 844.2 L1076.2 843.5 L1076.2 842.8 L1076.2 842.1 L1076.2 841.4 L1076.2 840.7 L1076.2 840.0 L1076.2 839.3 L1076.2 838.6 L1076.3 837.9 L1076.3 837.2 L1076.3 836.5 L1076.3 835.8 L1076.3 835.1 L1076.3 834.4 L1076.3 833.7 L1076.3 833.0 L1076.3 832.3 L1076.3 831.6 L1076.3 830.9 L1076.4 830.2 L1076.4 829.5 L1076.4 828.8 L1076.4 828.1 L1076.4 827.4 L1076.4 826.7 L1076.4 826.0 L1076.4 825.3 L1076.4 824.6 L1076.4 823.9 L1076.5 823.2 L1076.5 822.5 L1076.5 821.8 L1076.5 821.1 L1076.5 820.4 L1076.5 819.7 L1076.5 819.0 L1076.5 818.3 L1076.5 817.5 L1076.6 816.8 L1076.6 816.1 L1076.6 815.4 L1076.6 814.7 L1076.6 814.0 L1076.6 813.3 L1076.6 812.6 L1076.6 811.9 L1076.6 811.2 L1076.7 810.5 L1076.7 809.8 L1076.7 809.1 L1076.7 808.4 L1076.7 807.7 L1076.7 807.0 L1076.7 806.3 L1076.7 805.6 L1076.8 804.9 L1076.8 804.2 L1076.8 803.5 L1076.8 802.8 L1076.8 802.1 L1076.8 801.4 L1076.8 800.7 L1076.9 800.0 L1076.9 799.3 L1076.9 798.6 L1076.9 797.9 L1076.9 797.2 L1076.9 796.5 L1076.9 795.8 L1077.0 795.1 L1077.0 794.4 L1077.0 793.7 L1077.0 793.0 L1077.0 792.3 L1077.1 791.6 L1077.1 790.9 L1077.1 790.2 L1077.1 789.5 L1077.1 788.8 L1077.2 788.1 L1077.2 787.4 L1077.2 786.7 L1077.3 785.9 L1077.3 785.2 L1077.3 784.5 L1077.3 783.8 L1077.4 783.1 L1077.4 782.4 L1077.4 781.7 L1077.5 781.0 L1077.5 780.3 L1077.5 779.7 L1077.6 779.0 L1077.6 778.3 L1077.7 777.6 L1077.7 776.9 L1077.8 776.2 L1077.8 775.5 L1077.9 774.8 L1077.9 774.1 L1078.0 773.4 L1078.1 772.7 L1078.1 772.1 L1078.2 771.4 L1078.3 770.8 L1078.5 770.1 L1078.6 769.4 L1078.7 768.8 L1078.9 768.1 L1079.0 767.4 L1079.2 766.8 L1079.4 766.1 L1079.5 765.4 L1079.7 764.8 L1079.9 764.1 L1080.1 763.4 L1080.3 762.8 L1080.5 762.1 L1080.8 761.5 L1081.0 760.8 L1081.2 760.1 L1081.4 759.5 L1081.6 758.8 L1081.8 758.1 L1082.1 757.5 L1082.3 756.8 L1082.5 756.1 L1082.7 755.5 L1083.0 754.8 L1083.2 754.1 L1083.4 753.5 L1083.6 752.8 L1083.9 752.1 L1084.1 751.4 L1084.3 750.8 L1084.5 750.1 L1084.8 749.4 L1085.0 748.8 L1085.2 748.1 L1085.4 747.5 L1085.6 746.8 L1085.9 746.2 L1086.1 745.5 L1086.4 744.8 L1086.6 744.2 L1086.8 743.5 L1087.1 742.9 L1087.4 742.2 L1087.6 741.6 L1087.9 740.9 L1088.2 740.3 L1088.4 739.6 L1088.7 739.0 L1089.0 738.4 L1089.3 737.7 L1089.6 737.1 L1089.9 736.5 L1090.2 735.9 L1090.5 735.3 L1090.8 734.7 L1091.2 734.1 L1091.5 733.5 L1091.8 732.9 L1092.2 732.3 L1092.5 731.8 L1092.9 731.2 L1093.2 730.7 L1093.6 730.2 L1093.9 729.6 L1094.3 729.1 L1094.7 728.6 L1095.1 728.1 L1095.5 727.6 L1095.9 727.1 L1096.4 726.6 L1096.8 726.2 L1097.3 725.7 L1097.7 725.2 L1098.2 724.7 L1098.7 724.2 L1099.2 723.8 L1099.7 723.3 L1100.2 722.8 L1100.7 722.3 L1101.1 721.9 L1101.6 721.4 L1102.1 721.0 L1102.6 720.6 L1103.1 720.1 L1103.6 719.7 L1104.2 719.3 L1104.7 718.9 L1105.2 718.5 L1105.7 718.1 L1106.3 717.7 L1106.8 717.3 L1107.3 716.9 L1107.9 716.6 L1108.4 716.2 L1108.9 715.9 L1109.5 715.6 L1110.0 715.3 L1110.6 715.0 L1111.2 714.7 L1111.8 714.4 L1112.3 714.1 L1112.9 713.8 L1113.5 713.5 L1114.1 713.3 L1114.7 713.0 L1115.3 712.8 L1115.8 712.6 L1116.4 712.4 L1117.0 712.2 L1117.6 712.0 L1118.2 711.8 L1118.9 711.6 L1119.5 711.4 L1120.1 711.3 L1120.7 711.1 L1121.4 710.9 L1122.0 710.8 L1122.5 710.7 L1123.1 710.6 L1123.7 710.5 L1124.2 710.4 L1124.8 710.3 L1125.5 710.3 L1126.2 710.2 L1126.9 710.2 L1127.5 710.1 L1128.2 710.1 L1128.9 710.0 L1129.6 710.0 L1130.3 709.9 L1130.9 709.9 L1131.6 709.9 L1132.3 709.8 L1132.9 709.8 L1133.6 709.8 L1134.3 709.8 L1134.9 709.7 L1135.6 709.7 L1136.3 709.7 L1136.9 709.8 L1137.6 709.8 L1138.3 709.8 L1138.9 709.8 L1139.6 709.8 L1140.3 709.9 L1141.0 709.9 L1141.6 710.0 L1142.3 710.0 L1143.0 710.0 L1143.7 710.1 L1144.4 710.1 L1145.1 710.2 L1145.8 710.2 L1146.5 710.3 L1147.2 710.3 L1147.9 710.4 L1148.6 710.4 L1149.3 710.5 L1150.0 710.5 L1150.7 710.6 L1151.4 710.6 L1152.1 710.7 L1152.8 710.7 L1153.4 710.8 L1154.1 710.9 L1154.8 710.9 L1155.5 711.0 L1156.2 711.0 L1156.9 711.1 L1157.6 711.2 L1158.3 711.2 L1159.0 711.3 L1159.7 711.4 L1160.3 711.4 L1161.0 711.5 L1161.6 711.6 L1162.3 711.7 L1162.9 711.8 L1163.6 711.9 L1164.3 712.0 L1164.9 712.1 L1165.6 712.2 L1166.3 712.4 L1167.0 712.5 L1167.7 712.6 L1168.4 712.7 L1169.1 712.8 L1169.8 713.0 L1170.5 713.1 L1171.2 713.2 L1172.0 713.3 L1172.7 713.4 L1173.4 713.5 L1174.2 713.6 L1174.9 713.7 L1175.7 713.8 L1176.5 713.9 L1177.2 713.9 L1178.0 714.0 L1178.8 714.0 L1179.5 714.0 L1180.3 714.0 L1181.0 714.0 L1181.7 714.0 L1182.4 714.0 L1183.1 714.0 L1183.8 714.0 L1184.6 714.0 L1185.3 714.0 L1186.0 714.0 L1186.7 714.0 L1187.4 714.0 L1188.1 714.0 L1188.8 714.0 L1189.5 714.0 L1190.2 713.9 L1190.9 713.9 L1191.6 713.9 L1192.3 713.9 L1193.0 713.9 L1193.8 713.9 L1194.5 713.8 L1195.2 713.8 L1195.9 713.8 L1196.6 713.8 L1197.3 713.8 L1198.0 713.7 L1198.7 713.7 L1199.5 713.7 L1200.2 713.6 L1201.0 713.6 L1201.7 713.5 L1202.4 713.5 L1203.2 713.4 L1203.9 713.3 L1204.6 713.3 L1205.3 713.2 L1206.0 713.1 L1206.8 713.0 L1207.5 712.9 L1208.2 712.9 L1208.9 712.8 L1209.6 712.7 L1210.3 712.6 L1211.0 712.5 L1211.7 712.4 L1212.4 712.3 L1213.0 712.3 L1213.7 712.2 L1214.4 712.1 L1215.1 712.0 L1215.8 712.0 L1216.5 711.9 L1217.2 711.8 L1218.0 711.7 L1218.7 711.6 L1219.4 711.5 L1220.1 711.4 L1220.8 711.4 L1221.5 711.3 L1222.2 711.2 L1222.9 711.1 L1223.6 711.0 L1224.3 710.9 L1224.9 710.8 L1225.6 710.8 L1226.3 710.7 L1226.9 710.6 L1227.6 710.6 L1228.2 710.5 L1228.8 710.5 L1229.5 710.5 L1230.1 710.4 L1230.7 710.4 L1231.3 710.4 L1231.9 710.4 L1232.5 710.5 L1233.1 710.5 L1233.7 710.6 L1234.3 710.6 L1234.9 710.7 L1235.5 710.8 L1236.1 710.9 L1236.7 711.0 L1237.3 711.2 L1238.0 711.3 L1238.6 711.5 L1239.3 711.6 L1239.9 711.8 L1240.6 712.0 L1241.3 712.1 L1241.9 712.3 L1242.6 712.5 L1243.3 712.7 L1244.0 712.9 L1244.7 713.1 L1245.4 713.3 L1246.1 713.5 L1246.8 713.7 L1247.5 713.8 L1248.2 714.0 L1248.9 714.2 L1249.6 714.4 L1250.3 714.5 L1251.0 714.7 L1251.6 714.9 L1252.3 715.0 L1253.0 715.2 L1253.6 715.4 L1254.3 715.5 L1255.0 715.7 L1255.7 715.9 L1256.3 716.0 L1257.0 716.2 L1257.7 716.4 L1258.3 716.6 L1259.0 716.8 L1259.7 716.9 L1260.3 717.1 L1261.0 717.3 L1261.7 717.5 L1262.3 717.7 L1263.0 717.9 L1263.7 718.1 L1264.4 718.3 L1265.0 718.4 L1265.7 718.6 L1268.1 710.4 L1267.4 710.2 L1266.8 710.0 L1266.1 709.8 L1265.4 709.6 L1264.7 709.4 L1264.0 709.2 L1263.3 709.0 L1262.6 708.8 L1262.0 708.6 L1261.3 708.4 L1260.6 708.2 L1259.9 708.0 L1259.2 707.8 L1258.5 707.7 L1257.8 707.5 L1257.2 707.3 L1256.5 707.1 L1255.8 706.9 L1255.1 706.8 L1254.4 706.6 L1253.7 706.4 L1253.0 706.3 L1252.3 706.1 L1251.6 705.9 L1250.9 705.8 L1250.3 705.6 L1249.7 705.4 L1249.0 705.3 L1248.3 705.1 L1247.7 704.9 L1247.0 704.7 L1246.3 704.5 L1245.6 704.3 L1245.0 704.2 L1244.3 704.0 L1243.6 703.8 L1242.9 703.6 L1242.1 703.4 L1241.4 703.2 L1240.7 703.0 L1240.0 702.8 L1239.2 702.6 L1238.5 702.5 L1237.7 702.3 L1237.0 702.2 L1236.2 702.0 L1235.4 701.9 L1234.7 701.8 L1233.9 701.7 L1233.1 701.6 L1232.3 701.6 L1231.5 701.6 L1230.7 701.6 L1229.9 701.6 L1229.1 701.6 L1228.4 701.6 L1227.6 701.7 L1226.9 701.7 L1226.1 701.8 L1225.4 701.9 L1224.7 701.9 L1223.9 702.0 L1223.2 702.1 L1222.5 702.2 L1221.8 702.3 L1221.0 702.4 L1220.3 702.5 L1219.6 702.6 L1218.9 702.7 L1218.3 702.8 L1217.6 702.8 L1216.9 702.9 L1216.2 703.0 L1215.5 703.1 L1214.9 703.2 L1214.2 703.2 L1213.4 703.3 L1212.7 703.4 L1212.0 703.5 L1211.3 703.6 L1210.6 703.6 L1209.9 703.7 L1209.2 703.8 L1208.5 703.9 L1207.8 704.0 L1207.1 704.1 L1206.4 704.2 L1205.7 704.2 L1205.0 704.3 L1204.4 704.4 L1203.7 704.5 L1203.0 704.5 L1202.3 704.6 L1201.7 704.6 L1201.0 704.7 L1200.4 704.7 L1199.7 704.8 L1199.0 704.8 L1198.4 704.8 L1197.7 704.9 L1197.0 704.9 L1196.3 704.9 L1195.6 704.9 L1194.9 704.9 L1194.2 705.0 L1193.5 705.0 L1192.8 705.0 L1192.1 705.0 L1191.4 705.0 L1190.7 705.0 L1190.0 705.0 L1189.3 705.1 L1188.6 705.1 L1187.9 705.1 L1187.3 705.1 L1186.6 705.1 L1185.9 705.1 L1185.2 705.1 L1184.5 705.1 L1183.8 705.1 L1183.1 705.1 L1182.4 705.1 L1181.7 705.2 L1181.0 705.2 L1180.3 705.2 L1179.7 705.2 L1179.0 705.1 L1178.4 705.1 L1177.8 705.1 L1177.2 705.0 L1176.5 705.0 L1175.9 704.9 L1175.3 704.9 L1174.6 704.8 L1174.0 704.7 L1173.3 704.6 L1172.6 704.5 L1172.0 704.4 L1171.3 704.3 L1170.6 704.2 L1169.9 704.0 L1169.2 703.9 L1168.5 703.8 L1167.8 703.7 L1167.1 703.5 L1166.4 703.4 L1165.7 703.3 L1165.0 703.2 L1164.3 703.1 L1163.5 703.0 L1162.8 702.9 L1162.1 702.8 L1161.3 702.7 L1160.6 702.6 L1159.9 702.5 L1159.2 702.4 L1158.5 702.4 L1157.7 702.3 L1157.0 702.2 L1156.3 702.2 L1155.6 702.1 L1154.9 702.0 L1154.2 702.0 L1153.5 701.9 L1152.8 701.8 L1152.1 701.8 L1151.4 701.7 L1150.6 701.7 L1149.9 701.6 L1149.2 701.6 L1148.5 701.5 L1147.8 701.5 L1147.1 701.4 L1146.4 701.4 L1145.7 701.3 L1145.0 701.3 L1144.3 701.2 L1143.6 701.2 L1142.9 701.1 L1142.2 701.1 L1141.5 701.0 L1140.7 701.0 L1140.0 701.0 L1139.3 700.9 L1138.6 700.9 L1137.8 700.9 L1137.1 700.9 L1136.3 700.9 L1135.6 700.9 L1134.9 700.9 L1134.1 700.9 L1133.4 700.9 L1132.6 700.9 L1131.9 700.9 L1131.2 701.0 L1130.4 701.0 L1129.7 701.1 L1129.0 701.1 L1128.2 701.2 L1127.5 701.2 L1126.8 701.3 L1126.1 701.4 L1125.4 701.4 L1124.6 701.5 L1123.9 701.6 L1123.1 701.7 L1122.3 701.8 L1121.5 702.0 L1120.7 702.1 L1119.9 702.3 L1119.1 702.6 L1118.4 702.8 L1117.6 703.0 L1116.9 703.2 L1116.2 703.5 L1115.5 703.7 L1114.8 704.0 L1114.1 704.3 L1113.4 704.6 L1112.7 704.9 L1111.9 705.2 L1111.2 705.5 L1110.5 705.9 L1109.8 706.3 L1109.2 706.6 L1108.5 707.0 L1107.8 707.4 L1107.2 707.8 L1106.6 708.2 L1105.9 708.6 L1105.3 709.0 L1104.7 709.5 L1104.1 709.9 L1103.5 710.4 L1102.8 710.9 L1102.3 711.4 L1101.7 711.9 L1101.1 712.4 L1100.5 712.9 L1100.0 713.4 L1099.4 713.9 L1098.9 714.4 L1098.3 714.9 L1097.8 715.5 L1097.3 716.0 L1096.8 716.5 L1096.3 717.0 L1095.8 717.6 L1095.3 718.1 L1094.8 718.7 L1094.3 719.2 L1093.9 719.8 L1093.4 720.4 L1092.9 721.0 L1092.4 721.6 L1092.0 722.2 L1091.5 722.8 L1091.1 723.4 L1090.7 724.1 L1090.3 724.7 L1089.9 725.3 L1089.5 726.0 L1089.1 726.7 L1088.8 727.3 L1088.5 728.0 L1088.1 728.6 L1087.8 729.3 L1087.5 729.9 L1087.2 730.6 L1086.9 731.2 L1086.7 731.9 L1086.4 732.6 L1086.1 733.2 L1085.8 733.9 L1085.5 734.6 L1085.3 735.2 L1085.0 735.9 L1084.7 736.6 L1084.5 737.3 L1084.2 738.0 L1084.0 738.7 L1083.7 739.3 L1083.5 740.0 L1083.3 740.7 L1083.0 741.4 L1082.8 742.1 L1082.6 742.8 L1082.4 743.4 L1082.1 744.1 L1081.9 744.8 L1081.7 745.5 L1081.5 746.2 L1081.3 746.8 L1081.0 747.5 L1080.8 748.2 L1080.6 748.8 L1080.4 749.5 L1080.2 750.2 L1080.0 750.8 L1079.8 751.5 L1079.6 752.2 L1079.3 752.9 L1079.1 753.5 L1078.9 754.2 L1078.7 754.9 L1078.5 755.6 L1078.3 756.3 L1078.1 757.0 L1077.9 757.7 L1077.7 758.3 L1077.5 759.0 L1077.3 759.7 L1077.1 760.4 L1077.0 761.1 L1076.8 761.8 L1076.6 762.5 L1076.5 763.3 L1076.4 764.0 L1076.2 764.7 L1076.1 765.4 L1076.0 766.1 L1075.9 766.8 L1075.8 767.5 L1075.7 768.2 L1075.6 768.9 L1075.5 769.7 L1075.4 770.4 L1075.3 771.1 L1075.3 771.8 L1075.2 772.5 L1075.2 773.2 L1075.2 773.9 L1075.1 774.6 L1075.1 775.3 L1075.0 776.0 L1075.0 776.7 L1075.0 777.4 L1074.9 778.1 L1074.9 778.8 L1074.9 779.5 L1074.8 780.2 L1074.8 780.9 L1074.7 781.6 L1074.7 782.3 L1074.7 783.0 L1074.6 783.7 L1074.6 784.4 L1074.6 785.1 L1074.6 785.8 L1074.5 786.5 L1074.5 787.3 L1074.5 788.0 L1074.4 788.7 L1074.4 789.4 L1074.4 790.1 L1074.4 790.8 L1074.4 791.5 L1074.3 792.2 L1074.3 792.9 L1074.3 793.6 L1074.3 794.3 L1074.3 795.0 L1074.2 795.7 L1074.2 796.4 L1074.2 797.1 L1074.2 797.8 L1074.2 798.5 L1074.2 799.3 L1074.2 800.0 L1074.1 800.7 L1074.1 801.4 L1074.1 802.1 L1074.1 802.8 L1074.1 803.5 L1074.1 804.2 L1074.1 804.9 L1074.0 805.6 L1074.0 806.3 L1074.0 807.0 L1074.0 807.7 L1074.0 808.4 L1074.0 809.1 L1074.0 809.8 L1074.0 810.5 L1073.9 811.2 L1073.9 811.9 L1073.9 812.6 L1073.9 813.3 L1073.9 814.0 L1073.9 814.7 L1073.9 815.4 L1073.9 816.1 L1073.9 816.8 L1073.8 817.5 L1073.8 818.2 L1073.8 818.9 L1073.8 819.6 L1073.8 820.3 L1073.8 821.0 L1073.8 821.7 L1073.8 822.4 L1073.8 823.1 L1073.7 823.8 L1073.7 824.5 L1073.7 825.2 L1073.7 825.9 L1073.7 826.6 L1073.7 827.3 L1073.7 828.0 L1073.7 828.7 L1073.7 829.4 L1073.7 830.1 L1073.6 830.8 L1073.6 831.6 L1073.6 832.3 L1073.6 833.0 L1073.6 833.7 L1073.6 834.4 L1073.6 835.1 L1073.6 835.8 L1073.6 836.5 L1073.6 837.2 L1073.6 837.9 L1073.5 838.6 L1073.5 839.3 L1073.5 840.0 L1073.5 840.7 L1073.5 841.4 L1073.5 842.1 L1073.5 842.8 L1073.5 843.5 L1073.5 844.2 L1073.5 844.9 L1073.5 845.6 L1073.5 846.3 L1073.5 847.0 L1073.5 847.7 L1073.4 848.4 L1073.4 849.1 L1073.4 849.8 L1073.4 850.5 L1073.4 851.2 L1073.4 851.9 L1073.4 852.6 L1073.4 853.3 L1073.4 854.0 L1073.4 854.7 L1073.4 855.4 L1073.4 856.1 L1073.4 856.8 L1073.4 857.5 L1073.4 858.2 L1073.4 858.9 L1073.4 859.6 L1073.3 860.3 L1073.3 861.1 L1073.3 861.8 L1073.3 862.5 L1073.3 863.2 L1073.3 863.9 L1073.3 864.6 L1073.3 865.3 L1073.3 866.0 L1073.3 866.7 L1073.3 867.4 L1073.3 868.1 L1073.3 868.8 L1073.3 869.5 L1073.3 870.2 L1073.3 870.9 L1073.3 871.6 L1073.3 872.3 L1073.3 873.0 L1073.3 873.7 L1073.3 874.4 L1073.3 875.1 L1073.3 875.8 L1073.3 876.5 L1073.3 877.2 L1073.3 877.9 L1073.3 878.6 L1073.3 879.3 L1073.2 880.0 L1073.2 880.7 L1073.2 881.4 L1073.2 882.1 L1073.2 882.8 L1073.2 883.5 L1073.2 884.2 L1073.2 884.9 L1073.2 885.6 L1073.2 886.3 L1073.2 887.0 L1073.2 887.7 L1073.2 888.4 L1073.2 889.1 L1073.2 889.8 L1073.2 890.5 L1073.2 891.3 L1073.2 892.0 L1073.2 892.7 L1073.2 893.4 L1073.2 894.1 L1073.2 894.8 L1073.2 895.5 L1073.2 896.2 L1073.2 896.9 L1073.2 897.6 L1073.2 898.3 L1073.2 899.0 L1073.2 899.7 L1073.2 900.4 L1073.2 901.1 L1073.2 901.8 L1073.2 902.5 L1073.2 903.2 L1073.2 903.9 L1073.2 904.6 L1073.2 905.3 L1073.2 906.0 L1073.2 906.7 L1073.2 907.4 L1073.2 908.1 L1073.2 908.8 L1073.2 909.5 L1073.2 910.2 L1073.2 910.9 L1073.2 911.6 L1073.2 912.3 L1073.2 913.0 L1073.2 913.7 L1073.2 914.4 L1073.2 915.1 L1073.2 915.8 L1073.2 916.5 L1073.2 917.2 L1073.2 917.9 L1073.2 918.6 L1073.2 919.3 L1073.2 920.0 L1073.2 920.7 L1073.2 921.4 L1073.2 922.1 L1073.2 922.8 L1073.2 923.6 L1073.2 924.3 L1073.2 925.0 L1073.2 925.7 L1073.2 926.4 L1073.2 927.1 L1073.2 927.8 L1073.2 928.5 L1073.2 929.2 L1073.2 929.9 L1073.2 930.6 L1073.2 931.3 L1073.2 932.0 L1073.2 932.7 L1073.2 933.4 L1073.2 934.1 L1073.2 934.8 L1073.2 935.5 L1073.2 936.2 L1073.2 936.9 L1073.2 937.6 L1073.2 938.3 L1073.2 939.0Z" fill="#000" stroke="#000" stroke-width="0.6" stroke-linejoin="round"/><circle cx="1266.9" cy="714.5" r="4.3" fill="#000" stroke="none"/></g>
<path d="M1162.9 551.0 L1162.9 952.0 L1165.5 949.0 L1165.5 948.3 L1165.5 947.6 L1165.5 946.9 L1165.5 946.2 L1165.5 945.5 L1165.5 944.8 L1165.5 944.1 L1165.5 943.4 L1165.5 942.7 L1165.5 942.0 L1165.5 941.3 L1165.5 940.6 L1165.5 939.9 L1165.5 939.2 L1165.5 938.5 L1165.5 937.8 L1165.5 937.1 L1165.5 936.4 L1165.5 935.7 L1165.5 935.0 L1165.5 934.3 L1165.5 933.6 L1165.5 932.9 L1165.5 932.2 L1165.5 931.5 L1165.5 930.8 L1165.5 930.1 L1165.5 929.4 L1165.5 928.7 L1165.5 928.0 L1165.5 927.3 L1165.5 926.6 L1165.5 925.9 L1165.5 925.2 L1165.5 924.5 L1165.6 923.7 L1165.6 923.0 L1165.6 922.3 L1165.6 921.6 L1165.6 920.9 L1165.6 920.2 L1165.6 919.5 L1165.6 918.8 L1165.6 918.1 L1165.6 917.4 L1165.6 916.7 L1165.6 916.0 L1165.6 915.3 L1165.6 914.6 L1165.6 913.9 L1165.6 913.2 L1165.6 912.5 L1165.6 911.8 L1165.6 911.1 L1165.6 910.4 L1165.6 909.7 L1165.6 909.0 L1165.6 908.3 L1165.6 907.6 L1165.6 906.9 L1165.6 906.2 L1165.6 905.5 L1165.6 904.8 L1165.6 904.1 L1165.7 903.4 L1165.7 902.7 L1165.7 902.0 L1165.7 901.3 L1165.7 900.6 L1165.7 899.9 L1165.7 899.2 L1165.7 898.5 L1165.7 897.8 L1165.7 897.1 L1165.7 896.4 L1165.7 895.7 L1165.7 895.0 L1165.7 894.3 L1165.7 893.6 L1165.7 892.9 L1165.7 892.2 L1165.7 891.5 L1165.7 890.8 L1165.7 890.1 L1165.7 889.4 L1165.7 888.7 L1165.7 888.0 L1165.8 887.3 L1165.8 886.6 L1165.8 885.9 L1165.8 885.2 L1165.8 884.5 L1165.8 883.8 L1165.8 883.1 L1165.8 882.4 L1165.8 881.7 L1165.8 881.0 L1165.8 880.3 L1165.8 879.6 L1165.8 878.9 L1165.8 878.2 L1165.8 877.5 L1165.8 876.8 L1165.8 876.1 L1165.8 875.4 L1165.8 874.7 L1165.8 874.0 L1165.9 873.2 L1165.9 872.5 L1165.9 871.8 L1165.9 871.1 L1165.9 870.4 L1165.9 869.7 L1165.9 869.0 L1165.9 868.3 L1165.9 867.6 L1165.9 866.9 L1165.9 866.2 L1165.9 865.5 L1165.9 864.8 L1166.0 864.1 L1166.0 863.4 L1166.0 862.7 L1166.0 862.0 L1166.0 861.3 L1166.0 860.6 L1166.0 859.9 L1166.0 859.2 L1166.0 858.5 L1166.0 857.8 L1166.0 857.1 L1166.1 856.4 L1166.1 855.7 L1166.1 855.0 L1166.1 854.3 L1166.1 853.6 L1166.1 852.9 L1166.1 852.2 L1166.1 851.5 L1166.1 850.8 L1166.1 850.1 L1166.2 849.4 L1166.2 848.7 L1166.2 848.0 L1166.2 847.3 L1166.2 846.6 L1166.2 845.9 L1166.2 845.2 L1166.2 844.5 L1166.2 843.8 L1166.3 843.1 L1166.3 842.4 L1166.3 841.7 L1166.3 841.0 L1166.3 840.3 L1166.3 839.6 L1166.3 838.9 L1166.3 838.2 L1166.4 837.5 L1166.4 836.8 L1166.4 836.1 L1166.4 835.4 L1166.4 834.7 L1166.4 834.0 L1166.4 833.3 L1166.4 832.6 L1166.4 831.9 L1166.5 831.2 L1166.5 830.5 L1166.5 829.8 L1166.5 829.1 L1166.5 828.4 L1166.5 827.7 L1166.5 827.0 L1166.5 826.3 L1166.6 825.6 L1166.6 824.9 L1166.6 824.2 L1166.6 823.5 L1166.6 822.8 L1166.6 822.1 L1166.6 821.4 L1166.6 820.6 L1166.7 819.9 L1166.7 819.2 L1166.7 818.5 L1166.7 817.8 L1166.7 817.1 L1166.7 816.4 L1166.7 815.7 L1166.7 815.0 L1166.8 814.3 L1166.8 813.6 L1166.8 812.9 L1166.8 812.2 L1166.8 811.5 L1166.8 810.8 L1166.8 810.1 L1166.8 809.4 L1166.9 808.7 L1166.9 808.0 L1166.9 807.3 L1166.9 806.6 L1166.9 805.9 L1166.9 805.2 L1166.9 804.5 L1166.9 803.8 L1166.9 803.1 L1167.0 802.4 L1167.0 801.7 L1167.0 801.0 L1167.0 800.3 L1167.0 799.6 L1167.0 798.9 L1167.0 798.2 L1167.0 797.5 L1167.0 796.8 L1167.1 796.1 L1167.1 795.4 L1167.1 794.7 L1167.1 794.0 L1167.1 793.3 L1167.1 792.6 L1167.1 791.9 L1167.1 791.2 L1167.1 790.5 L1167.1 789.8 L1167.1 789.1 L1167.2 788.4 L1167.2 787.7 L1167.2 787.0 L1167.2 786.3 L1167.2 785.6 L1167.2 784.9 L1167.2 784.2 L1167.2 783.5 L1167.2 782.8 L1167.2 782.1 L1167.2 781.4 L1167.2 780.6 L1167.2 779.9 L1167.3 779.2 L1167.3 778.5 L1167.3 777.8 L1167.3 777.1 L1167.3 776.4 L1167.3 775.7 L1167.3 775.0 L1167.3 774.3 L1167.3 773.6 L1167.3 772.9 L1167.3 772.2 L1167.4 771.5 L1167.4 770.8 L1167.4 770.1 L1167.4 769.4 L1167.4 768.7 L1167.4 768.0 L1167.4 767.3 L1167.4 766.6 L1167.4 765.9 L1167.5 765.2 L1167.5 764.5 L1167.5 763.8 L1167.5 763.1 L1167.5 762.4 L1167.5 761.7 L1167.5 761.0 L1167.6 760.3 L1167.6 759.6 L1167.6 758.9 L1167.6 758.2 L1167.6 757.5 L1167.6 756.8 L1167.7 756.1 L1167.7 755.4 L1167.7 754.7 L1167.7 754.0 L1167.8 753.3 L1167.8 752.6 L1167.8 751.9 L1167.8 751.2 L1167.9 750.5 L1167.9 749.8 L1167.9 749.1 L1168.0 748.4 L1168.1 747.7 L1168.1 747.0 L1168.2 746.3 L1168.3 745.6 L1168.4 744.9 L1168.4 744.2 L1168.5 743.5 L1168.6 742.8 L1168.7 742.1 L1168.8 741.5 L1168.9 740.8 L1169.1 740.1 L1169.2 739.4 L1169.3 738.7 L1169.4 738.0 L1169.5 737.3 L1169.7 736.6 L1169.8 735.9 L1169.9 735.2 L1170.0 734.5 L1170.2 733.8 L1170.3 733.1 L1170.4 732.5 L1170.5 731.8 L1170.7 731.1 L1170.8 730.4 L1171.0 729.7 L1171.1 729.0 L1171.3 728.3 L1171.4 727.6 L1171.6 726.9 L1171.8 726.2 L1171.9 725.6 L1172.1 724.9 L1172.3 724.2 L1172.5 723.5 L1172.7 722.9 L1172.9 722.2 L1173.2 721.5 L1173.4 720.9 L1173.6 720.2 L1173.9 719.6 L1174.1 719.0 L1174.4 718.3 L1174.7 717.7 L1175.0 717.1 L1175.3 716.4 L1175.6 715.8 L1176.0 715.2 L1176.3 714.6 L1176.7 714.0 L1177.1 713.3 L1177.4 712.7 L1177.8 712.1 L1178.2 711.5 L1178.6 711.0 L1179.0 710.4 L1179.5 709.8 L1179.9 709.2 L1180.3 708.7 L1180.7 708.1 L1181.1 707.6 L1181.6 707.0 L1182.0 706.5 L1182.5 706.0 L1182.9 705.4 L1183.4 704.9 L1183.9 704.3 L1184.3 703.8 L1184.8 703.3 L1185.4 702.8 L1185.9 702.3 L1186.4 701.8 L1186.9 701.3 L1187.5 700.9 L1188.0 700.4 L1188.6 700.1 L1189.2 699.7 L1189.7 699.4 L1190.3 699.0 L1190.9 698.7 L1191.6 698.4 L1192.2 698.1 L1192.9 697.8 L1193.5 697.6 L1194.2 697.3 L1194.9 697.1 L1195.6 696.9 L1196.3 696.7 L1197.0 696.5 L1197.6 696.4 L1198.3 696.2 L1199.0 696.1 L1199.7 696.0 L1200.4 695.9 L1201.1 695.8 L1201.8 695.7 L1202.5 695.7 L1203.2 695.6 L1203.9 695.5 L1204.6 695.5 L1205.3 695.5 L1206.0 695.5 L1206.7 695.5 L1207.4 695.6 L1208.1 695.6 L1208.8 695.6 L1209.5 695.7 L1210.2 695.7 L1210.9 695.8 L1211.6 695.9 L1212.3 695.9 L1213.0 696.0 L1213.7 696.1 L1214.4 696.2 L1215.1 696.4 L1215.7 696.5 L1216.4 696.7 L1217.1 696.9 L1217.8 697.0 L1218.5 697.2 L1219.2 697.4 L1219.8 697.6 L1220.5 697.7 L1221.2 697.9 L1221.9 698.1 L1222.5 698.3 L1223.2 698.5 L1223.9 698.7 L1224.5 698.9 L1225.2 699.2 L1225.9 699.4 L1226.5 699.6 L1227.2 699.8 L1227.9 700.1 L1228.5 700.3 L1229.2 700.5 L1229.9 700.8 L1230.5 701.0 L1231.2 701.2 L1231.8 701.5 L1232.5 701.7 L1233.2 701.9 L1233.8 702.1 L1234.5 702.4 L1235.2 702.6 L1235.8 702.8 L1236.5 703.0 L1237.2 703.2 L1237.8 703.5 L1238.5 703.7 L1239.2 703.9 L1239.8 704.1 L1240.5 704.3 L1241.2 704.6 L1241.8 704.8 L1242.5 705.0 L1243.2 705.2 L1243.8 705.4 L1244.5 705.6 L1245.2 705.9 L1245.8 706.1 L1246.5 706.3 L1247.2 706.5 L1247.8 706.7 L1248.5 706.9 L1249.2 707.2 L1249.8 707.4 L1250.5 707.6 L1251.2 707.8 L1251.8 708.0 L1252.5 708.2 L1253.2 708.4 L1253.9 708.6 L1254.5 708.8 L1255.2 709.0 L1255.9 709.3 L1256.5 709.5 L1257.2 709.7 L1257.9 709.9 L1258.5 710.2 L1259.2 710.4 L1259.9 710.6 L1260.5 710.9 L1261.2 711.1 L1261.9 711.3 L1262.6 711.5 L1263.2 711.8 L1263.9 712.0 L1264.6 712.2 L1265.2 712.4 L1265.9 712.6 L1266.6 712.7 L1267.3 712.9 L1267.9 713.1 L1268.6 713.2 L1269.3 713.4 L1270.0 713.5 L1270.7 713.6 L1271.4 713.7 L1272.0 713.8 L1272.7 713.9 L1273.4 714.0 L1274.1 714.1 L1274.8 714.2 L1275.5 714.3 L1276.2 714.4 L1276.9 714.5 L1277.6 714.6 L1278.3 714.7 L1279.0 714.8 L1279.7 714.9 L1280.4 714.9 L1281.1 715.0 L1281.8 715.1 L1282.5 715.1 L1283.2 715.2 L1283.9 715.2 L1284.6 715.2 L1285.3 715.3 L1286.0 715.3 L1286.7 715.3 L1287.4 715.3 L1288.1 715.3 L1288.8 715.3 L1289.5 715.2 L1290.2 715.2 L1290.9 715.2 L1291.6 715.1 L1292.3 715.1 L1293.0 715.0 L1293.7 714.9 L1294.4 714.9 L1295.1 714.8 L1295.8 714.7 L1296.5 714.6 L1297.2 714.5 L1297.9 714.4 L1298.6 714.3 L1299.3 714.2 L1300.0 714.1 L1300.7 714.0 L1301.4 713.9 L1302.1 713.8 L1302.8 713.7 L1303.5 713.6 L1304.1 713.5 L1304.8 713.4 L1305.5 713.2 L1306.2 713.1 L1306.9 712.9 L1307.6 712.8 L1308.2 712.6 L1308.9 712.4 L1309.6 712.2 L1310.3 712.0 L1310.9 711.8 L1311.6 711.6 L1312.3 711.4 L1312.9 711.2 L1313.6 710.9 L1314.3 710.7 L1315.0 710.5 L1315.6 710.2 L1316.3 710.0 L1317.0 709.8 L1317.6 709.5 L1318.3 709.3 L1318.9 709.1 L1319.6 708.8 L1320.3 708.6 L1320.9 708.4 L1321.6 708.1 L1322.2 707.9 L1322.9 707.7 L1323.6 707.4 L1324.2 707.2 L1324.9 706.9 L1325.5 706.6 L1326.2 706.4 L1326.8 706.1 L1327.5 705.9 L1328.1 705.6 L1328.8 705.3 L1329.4 705.0 L1330.1 704.8 L1330.7 704.5 L1331.4 704.2 L1332.0 704.0 L1332.6 703.7 L1333.3 703.4 L1333.9 703.1 L1334.6 702.9 L1335.2 702.6 L1335.9 702.3 L1336.5 702.1 L1337.2 701.8 L1337.8 701.6 L1338.5 701.3 L1339.2 701.1 L1339.8 700.8 L1340.5 700.6 L1341.1 700.3 L1341.8 700.0 L1342.4 699.8 L1343.1 699.5 L1343.8 699.3 L1344.4 699.0 L1345.1 698.8 L1345.7 698.5 L1346.4 698.3 L1347.0 698.0 L1347.7 697.8 L1348.3 697.5 L1349.0 697.2 L1349.6 697.0 L1350.3 696.7 L1350.9 696.4 L1351.5 696.1 L1352.2 695.8 L1352.8 695.5 L1353.4 695.2 L1354.1 694.9 L1354.7 694.6 L1355.3 694.3 L1355.9 694.0 L1356.6 693.6 L1357.2 693.3 L1357.8 692.9 L1358.4 692.6 L1358.4 290.3 L1162.9 551.0Z" fill="url(#g9)" shape-rendering="crispEdges"/>
<g fill="none" stroke="#000" stroke-width="2.7"><path d="M1136.9 585.5L1162.9 551.0" stroke="#000" stroke-width="9.2" stroke-linecap="round" fill="none"/><rect x="1160.7" y="553.0" width="4.9" height="117.7" fill="#ffd0d0" stroke="none"/><rect x="1160.7" y="670.7" width="4.9" height="71.3" fill="#ff8c8c" stroke="none"/><path d="M1160.3 702.0V948.9a3.1 3.1 0 0 0 6.2 0V702.0Z" fill="url(#s9)" stroke="none"/><path d="M1160.3 742.0V948.9a3.1 3.1 0 0 0 6.2 0V752.0" fill="none" stroke="#000" stroke-width="2.2"/><circle cx="1162.9" cy="558.0" r="2.6" stroke-width="2.2"/><circle cx="1162.9" cy="576.0" r="2.6" stroke-width="2.2"/><circle cx="1162.9" cy="611.0" r="2.6" stroke-width="2.2"/><circle cx="1162.9" cy="670.7" r="2.6" stroke-width="2.2"/><circle cx="1162.9" cy="751.4" r="2.6" stroke-width="2.2"/><circle cx="1162.9" cy="836.7" r="2.6" stroke-width="2.2"/><circle cx="1162.9" cy="907.0" r="2.6" stroke-width="2.2"/><circle cx="1162.9" cy="948.0" r="2.6" stroke-width="2.2"/><path d="M1166.8 949.0 L1166.9 948.3 L1166.9 947.6 L1166.9 946.9 L1166.9 946.2 L1166.9 945.5 L1166.9 944.8 L1166.9 944.1 L1166.9 943.4 L1166.9 942.7 L1166.9 942.0 L1166.9 941.3 L1166.9 940.6 L1166.9 939.9 L1166.9 939.2 L1166.9 938.5 L1166.9 937.8 L1166.9 937.1 L1166.9 936.4 L1166.9 935.7 L1166.9 935.0 L1166.9 934.3 L1166.9 933.6 L1166.9 932.9 L1166.9 932.2 L1166.9 931.5 L1166.9 930.8 L1166.9 930.1 L1166.9 929.4 L1166.9 928.7 L1166.9 928.0 L1166.9 927.3 L1166.9 926.6 L1166.9 925.9 L1166.9 925.2 L1166.9 924.5 L1166.9 923.8 L1166.9 923.1 L1166.9 922.4 L1166.9 921.6 L1166.9 920.9 L1166.9 920.2 L1166.9 919.5 L1166.9 918.8 L1166.9 918.1 L1166.9 917.4 L1166.9 916.7 L1166.9 916.0 L1166.9 915.3 L1166.9 914.6 L1166.9 913.9 L1166.9 913.2 L1167.0 912.5 L1167.0 911.8 L1167.0 911.1 L1167.0 910.4 L1167.0 909.7 L1167.0 909.0 L1167.0 908.3 L1167.0 907.6 L1167.0 906.9 L1167.0 906.2 L1167.0 905.5 L1167.0 904.8 L1167.0 904.1 L1167.0 903.4 L1167.0 902.7 L1167.0 902.0 L1167.0 901.3 L1167.0 900.6 L1167.0 899.9 L1167.0 899.2 L1167.0 898.5 L1167.0 897.8 L1167.0 897.1 L1167.0 896.4 L1167.0 895.7 L1167.1 895.0 L1167.1 894.3 L1167.1 893.6 L1167.1 892.9 L1167.1 892.2 L1167.1 891.5 L1167.1 890.8 L1167.1 890.1 L1167.1 889.4 L1167.1 888.7 L1167.1 888.0 L1167.1 887.3 L1167.1 886.6 L1167.1 885.9 L1167.1 885.2 L1167.1 884.5 L1167.1 883.8 L1167.1 883.1 L1167.1 882.4 L1167.1 881.7 L1167.1 881.0 L1167.1 880.3 L1167.2 879.6 L1167.2 878.9 L1167.2 878.2 L1167.2 877.5 L1167.2 876.8 L1167.2 876.1 L1167.2 875.4 L1167.2 874.7 L1167.2 874.0 L1167.2 873.3 L1167.2 872.6 L1167.2 871.9 L1167.2 871.2 L1167.2 870.5 L1167.2 869.8 L1167.2 869.1 L1167.3 868.4 L1167.3 867.7 L1167.3 867.0 L1167.3 866.3 L1167.3 865.5 L1167.3 864.8 L1167.3 864.1 L1167.3 863.4 L1167.3 862.7 L1167.3 862.0 L1167.3 861.3 L1167.3 860.6 L1167.4 859.9 L1167.4 859.2 L1167.4 858.5 L1167.4 857.8 L1167.4 857.1 L1167.4 856.4 L1167.4 855.7 L1167.4 855.0 L1167.4 854.3 L1167.4 853.6 L1167.5 852.9 L1167.5 852.2 L1167.5 851.5 L1167.5 850.8 L1167.5 850.1 L1167.5 849.4 L1167.5 848.7 L1167.5 848.0 L1167.5 847.3 L1167.5 846.6 L1167.6 845.9 L1167.6 845.2 L1167.6 844.5 L1167.6 843.8 L1167.6 843.1 L1167.6 842.4 L1167.6 841.7 L1167.6 841.0 L1167.7 840.3 L1167.7 839.6 L1167.7 838.9 L1167.7 838.2 L1167.7 837.5 L1167.7 836.8 L1167.7 836.1 L1167.7 835.4 L1167.7 834.7 L1167.8 834.0 L1167.8 833.3 L1167.8 832.6 L1167.8 831.9 L1167.8 831.2 L1167.8 830.5 L1167.8 829.8 L1167.8 829.1 L1167.9 828.4 L1167.9 827.7 L1167.9 827.0 L1167.9 826.3 L1167.9 825.6 L1167.9 824.9 L1167.9 824.2 L1167.9 823.5 L1168.0 822.8 L1168.0 822.1 L1168.0 821.4 L1168.0 820.7 L1168.0 820.0 L1168.0 819.3 L1168.0 818.6 L1168.0 817.9 L1168.1 817.2 L1168.1 816.5 L1168.1 815.8 L1168.1 815.1 L1168.1 814.4 L1168.1 813.7 L1168.1 813.0 L1168.1 812.3 L1168.2 811.6 L1168.2 810.9 L1168.2 810.2 L1168.2 809.5 L1168.2 808.7 L1168.2 808.0 L1168.2 807.3 L1168.2 806.6 L1168.3 805.9 L1168.3 805.2 L1168.3 804.5 L1168.3 803.8 L1168.3 803.1 L1168.3 802.4 L1168.3 801.7 L1168.3 801.0 L1168.3 800.3 L1168.4 799.6 L1168.4 798.9 L1168.4 798.2 L1168.4 797.5 L1168.4 796.8 L1168.4 796.1 L1168.4 795.4 L1168.4 794.7 L1168.4 794.0 L1168.4 793.3 L1168.5 792.6 L1168.5 791.9 L1168.5 791.2 L1168.5 790.5 L1168.5 789.8 L1168.5 789.1 L1168.5 788.4 L1168.5 787.7 L1168.5 787.0 L1168.5 786.3 L1168.5 785.6 L1168.5 784.9 L1168.5 784.2 L1168.6 783.5 L1168.6 782.8 L1168.6 782.1 L1168.6 781.4 L1168.6 780.7 L1168.6 780.0 L1168.6 779.3 L1168.6 778.6 L1168.6 777.9 L1168.6 777.2 L1168.6 776.5 L1168.6 775.8 L1168.7 775.0 L1168.7 774.3 L1168.7 773.6 L1168.7 772.9 L1168.7 772.2 L1168.7 771.5 L1168.7 770.8 L1168.7 770.1 L1168.7 769.4 L1168.7 768.7 L1168.8 768.0 L1168.8 767.3 L1168.8 766.6 L1168.8 765.9 L1168.8 765.2 L1168.8 764.5 L1168.8 763.8 L1168.9 763.1 L1168.9 762.4 L1168.9 761.7 L1168.9 761.0 L1168.9 760.3 L1168.9 759.6 L1168.9 758.9 L1169.0 758.2 L1169.0 757.5 L1169.0 756.8 L1169.0 756.1 L1169.0 755.4 L1169.1 754.8 L1169.1 754.1 L1169.1 753.4 L1169.1 752.7 L1169.1 752.0 L1169.2 751.3 L1169.2 750.6 L1169.3 749.9 L1169.3 749.2 L1169.4 748.5 L1169.4 747.9 L1169.5 747.2 L1169.6 746.5 L1169.7 745.8 L1169.8 745.1 L1169.9 744.4 L1170.0 743.7 L1170.1 743.0 L1170.2 742.4 L1170.3 741.7 L1170.4 741.0 L1170.5 740.3 L1170.7 739.6 L1170.8 738.9 L1170.9 738.2 L1171.0 737.5 L1171.2 736.9 L1171.3 736.2 L1171.5 735.5 L1171.6 734.8 L1171.7 734.1 L1171.9 733.4 L1172.0 732.8 L1172.2 732.1 L1172.3 731.4 L1172.5 730.7 L1172.6 730.1 L1172.8 729.4 L1173.0 728.7 L1173.2 728.0 L1173.3 727.4 L1173.5 726.7 L1173.8 726.0 L1174.0 725.4 L1174.2 724.7 L1174.4 724.1 L1174.7 723.5 L1174.9 722.8 L1175.2 722.2 L1175.4 721.6 L1175.7 721.0 L1176.0 720.4 L1176.3 719.9 L1176.6 719.3 L1176.9 718.7 L1177.2 718.2 L1177.5 717.6 L1177.9 717.0 L1178.3 716.5 L1178.6 715.9 L1179.0 715.4 L1179.4 714.8 L1179.8 714.2 L1180.2 713.7 L1180.6 713.2 L1181.0 712.6 L1181.4 712.1 L1181.9 711.6 L1182.3 711.0 L1182.7 710.5 L1183.2 710.0 L1183.6 709.5 L1184.0 709.0 L1184.5 708.5 L1184.9 708.0 L1185.4 707.5 L1185.9 707.1 L1186.4 706.6 L1186.8 706.1 L1187.3 705.7 L1187.8 705.2 L1188.3 704.8 L1188.8 704.5 L1189.3 704.1 L1189.8 703.8 L1190.2 703.5 L1190.7 703.2 L1191.2 703.0 L1191.6 702.8 L1192.2 702.6 L1192.7 702.3 L1193.3 702.1 L1193.9 701.9 L1194.5 701.7 L1195.1 701.5 L1195.7 701.3 L1196.2 701.1 L1196.8 701.0 L1197.4 700.8 L1197.9 700.7 L1198.5 700.6 L1199.0 700.5 L1199.7 700.4 L1200.4 700.4 L1201.0 700.3 L1201.7 700.2 L1202.3 700.1 L1202.9 700.1 L1203.5 700.0 L1204.1 700.0 L1204.7 699.9 L1205.3 699.9 L1205.9 699.9 L1206.6 700.0 L1207.2 700.0 L1207.8 700.0 L1208.5 700.1 L1209.2 700.1 L1209.8 700.1 L1210.5 700.2 L1211.2 700.3 L1211.8 700.3 L1212.4 700.4 L1213.0 700.5 L1213.6 700.6 L1214.2 700.7 L1214.8 700.8 L1215.4 700.9 L1216.1 701.1 L1216.7 701.2 L1217.4 701.4 L1218.1 701.6 L1218.8 701.8 L1219.4 701.9 L1220.0 702.1 L1220.7 702.2 L1221.3 702.4 L1221.9 702.6 L1222.6 702.8 L1223.2 703.0 L1223.9 703.2 L1224.5 703.4 L1225.1 703.6 L1225.8 703.9 L1226.4 704.1 L1227.1 704.3 L1227.8 704.6 L1228.4 704.8 L1229.1 705.0 L1229.8 705.3 L1230.4 705.5 L1231.1 705.7 L1231.8 706.0 L1232.5 706.2 L1233.2 706.4 L1233.8 706.6 L1234.5 706.9 L1235.2 707.1 L1235.8 707.3 L1236.5 707.5 L1237.2 707.7 L1237.8 708.0 L1238.5 708.2 L1239.2 708.4 L1239.8 708.6 L1240.5 708.8 L1241.2 709.1 L1241.8 709.3 L1242.5 709.5 L1243.2 709.7 L1243.8 709.9 L1244.5 710.1 L1245.2 710.4 L1245.9 710.6 L1246.5 710.8 L1247.2 711.0 L1247.9 711.2 L1248.5 711.4 L1249.2 711.7 L1249.9 711.9 L1250.6 712.1 L1251.2 712.3 L1251.9 712.5 L1252.6 712.7 L1253.2 712.9 L1253.9 713.1 L1254.5 713.3 L1255.2 713.5 L1255.8 713.8 L1256.5 714.0 L1257.1 714.2 L1257.8 714.4 L1258.5 714.7 L1259.2 714.9 L1259.8 715.2 L1260.5 715.4 L1261.2 715.6 L1261.9 715.9 L1262.6 716.1 L1263.3 716.3 L1264.0 716.5 L1264.8 716.7 L1265.5 716.9 L1266.2 717.1 L1267.0 717.3 L1267.7 717.5 L1268.5 717.7 L1269.2 717.8 L1270.0 717.9 L1270.7 718.1 L1271.4 718.2 L1272.1 718.3 L1272.8 718.4 L1273.5 718.5 L1274.2 718.6 L1274.9 718.7 L1275.6 718.8 L1276.3 718.9 L1277.0 719.0 L1277.8 719.1 L1278.5 719.2 L1279.2 719.3 L1280.0 719.4 L1280.7 719.4 L1281.4 719.5 L1282.2 719.6 L1282.9 719.6 L1283.7 719.6 L1284.4 719.7 L1285.2 719.7 L1285.9 719.7 L1286.7 719.7 L1287.4 719.7 L1288.2 719.7 L1289.0 719.7 L1289.7 719.7 L1290.5 719.6 L1291.2 719.6 L1291.9 719.5 L1292.7 719.5 L1293.4 719.4 L1294.2 719.3 L1294.9 719.3 L1295.6 719.2 L1296.4 719.1 L1297.1 719.0 L1297.8 718.9 L1298.5 718.8 L1299.2 718.7 L1299.9 718.6 L1300.7 718.5 L1301.4 718.4 L1302.1 718.3 L1302.8 718.2 L1303.4 718.1 L1304.1 717.9 L1304.9 717.8 L1305.6 717.7 L1306.4 717.5 L1307.1 717.3 L1307.9 717.2 L1308.6 717.0 L1309.3 716.8 L1310.1 716.6 L1310.8 716.4 L1311.5 716.1 L1312.2 715.9 L1312.9 715.7 L1313.6 715.4 L1314.3 715.2 L1315.0 715.0 L1315.7 714.7 L1316.4 714.5 L1317.0 714.3 L1317.7 714.0 L1318.4 713.8 L1319.0 713.5 L1319.7 713.3 L1320.3 713.1 L1321.0 712.8 L1321.7 712.6 L1322.3 712.4 L1323.0 712.1 L1323.7 711.9 L1324.4 711.6 L1325.1 711.3 L1325.7 711.1 L1326.4 710.8 L1327.1 710.5 L1327.7 710.3 L1328.4 710.0 L1329.1 709.7 L1329.7 709.5 L1330.4 709.2 L1331.0 708.9 L1331.7 708.6 L1332.3 708.4 L1333.0 708.1 L1333.6 707.8 L1334.3 707.5 L1334.9 707.3 L1335.6 707.0 L1336.2 706.8 L1336.8 706.5 L1337.5 706.2 L1338.1 706.0 L1338.7 705.7 L1339.4 705.5 L1340.0 705.2 L1340.7 705.0 L1341.3 704.7 L1342.0 704.5 L1342.6 704.2 L1343.3 704.0 L1343.9 703.7 L1344.6 703.5 L1345.3 703.2 L1345.9 703.0 L1346.6 702.7 L1347.2 702.4 L1347.9 702.2 L1348.6 701.9 L1349.2 701.6 L1349.9 701.4 L1350.6 701.1 L1351.2 700.8 L1351.9 700.5 L1352.6 700.2 L1353.2 699.9 L1353.9 699.6 L1354.6 699.3 L1355.2 698.9 L1355.9 698.6 L1356.6 698.2 L1357.2 697.9 L1357.9 697.5 L1358.5 697.2 L1359.1 696.8 L1359.8 696.5 L1360.4 696.1 L1356.4 689.1 L1355.8 689.4 L1355.2 689.8 L1354.6 690.1 L1354.0 690.4 L1353.4 690.7 L1352.8 691.0 L1352.2 691.3 L1351.7 691.6 L1351.1 691.8 L1350.5 692.1 L1349.9 692.4 L1349.2 692.6 L1348.6 692.9 L1348.0 693.1 L1347.4 693.4 L1346.7 693.6 L1346.1 693.9 L1345.5 694.1 L1344.8 694.4 L1344.2 694.6 L1343.5 694.9 L1342.9 695.1 L1342.2 695.4 L1341.6 695.6 L1340.9 695.9 L1340.3 696.1 L1339.6 696.4 L1339.0 696.6 L1338.3 696.9 L1337.6 697.1 L1337.0 697.4 L1336.3 697.7 L1335.6 697.9 L1335.0 698.2 L1334.3 698.5 L1333.7 698.7 L1333.0 699.0 L1332.3 699.3 L1331.7 699.5 L1331.0 699.8 L1330.4 700.1 L1329.7 700.4 L1329.1 700.6 L1328.4 700.9 L1327.8 701.2 L1327.2 701.4 L1326.5 701.7 L1325.9 702.0 L1325.2 702.2 L1324.6 702.5 L1324.0 702.7 L1323.3 703.0 L1322.7 703.2 L1322.0 703.5 L1321.4 703.7 L1320.8 703.9 L1320.1 704.2 L1319.5 704.4 L1318.9 704.6 L1318.2 704.8 L1317.5 705.1 L1316.9 705.3 L1316.2 705.5 L1315.5 705.7 L1314.9 706.0 L1314.2 706.2 L1313.6 706.4 L1312.9 706.7 L1312.2 706.9 L1311.6 707.1 L1310.9 707.3 L1310.3 707.5 L1309.7 707.7 L1309.0 707.9 L1308.4 708.1 L1307.7 708.2 L1307.1 708.4 L1306.5 708.6 L1305.9 708.7 L1305.2 708.8 L1304.6 709.0 L1304.0 709.1 L1303.4 709.2 L1302.8 709.3 L1302.1 709.4 L1301.4 709.5 L1300.7 709.6 L1300.1 709.7 L1299.4 709.8 L1298.7 709.9 L1298.0 710.0 L1297.3 710.0 L1296.6 710.1 L1296.0 710.2 L1295.3 710.3 L1294.6 710.4 L1293.9 710.5 L1293.3 710.5 L1292.6 710.6 L1291.9 710.6 L1291.3 710.7 L1290.6 710.7 L1290.0 710.8 L1289.3 710.8 L1288.7 710.8 L1288.0 710.8 L1287.4 710.9 L1286.7 710.9 L1286.1 710.8 L1285.5 710.8 L1284.8 710.8 L1284.2 710.8 L1283.5 710.7 L1282.8 710.7 L1282.2 710.6 L1281.5 710.6 L1280.8 710.5 L1280.2 710.5 L1279.5 710.4 L1278.8 710.3 L1278.2 710.2 L1277.5 710.1 L1276.8 710.1 L1276.1 710.0 L1275.4 709.9 L1274.8 709.8 L1274.1 709.7 L1273.4 709.6 L1272.7 709.5 L1272.0 709.4 L1271.4 709.3 L1270.7 709.2 L1270.1 709.1 L1269.5 709.0 L1268.9 708.8 L1268.3 708.7 L1267.7 708.6 L1267.1 708.4 L1266.4 708.2 L1265.8 708.0 L1265.2 707.9 L1264.5 707.7 L1263.9 707.5 L1263.2 707.3 L1262.6 707.0 L1261.9 706.8 L1261.3 706.6 L1260.6 706.4 L1259.9 706.1 L1259.3 705.9 L1258.6 705.7 L1257.9 705.4 L1257.2 705.2 L1256.5 705.0 L1255.8 704.8 L1255.1 704.5 L1254.5 704.3 L1253.8 704.1 L1253.1 703.9 L1252.5 703.7 L1251.8 703.5 L1251.1 703.3 L1250.5 703.1 L1249.8 702.9 L1249.2 702.6 L1248.5 702.4 L1247.8 702.2 L1247.2 702.0 L1246.5 701.8 L1245.8 701.6 L1245.2 701.4 L1244.5 701.1 L1243.8 700.9 L1243.2 700.7 L1242.5 700.5 L1241.8 700.3 L1241.2 700.1 L1240.5 699.8 L1239.8 699.6 L1239.2 699.4 L1238.5 699.2 L1237.8 699.0 L1237.2 698.7 L1236.5 698.5 L1235.8 698.3 L1235.2 698.1 L1234.5 697.9 L1233.9 697.7 L1233.2 697.4 L1232.6 697.2 L1231.9 697.0 L1231.3 696.8 L1230.6 696.5 L1229.9 696.3 L1229.3 696.0 L1228.6 695.8 L1227.9 695.6 L1227.2 695.3 L1226.6 695.1 L1225.9 694.9 L1225.2 694.6 L1224.5 694.4 L1223.8 694.2 L1223.1 694.0 L1222.3 693.8 L1221.6 693.6 L1220.9 693.4 L1220.2 693.2 L1219.6 693.0 L1218.9 692.8 L1218.2 692.6 L1217.5 692.4 L1216.7 692.3 L1216.0 692.1 L1215.2 691.9 L1214.4 691.8 L1213.6 691.7 L1212.8 691.5 L1212.0 691.5 L1211.3 691.4 L1210.6 691.3 L1209.8 691.3 L1209.1 691.2 L1208.4 691.2 L1207.6 691.1 L1206.8 691.1 L1206.1 691.1 L1205.3 691.1 L1204.5 691.1 L1203.6 691.1 L1202.8 691.2 L1202.0 691.3 L1201.3 691.3 L1200.5 691.5 L1199.7 691.6 L1199.0 691.7 L1198.3 691.8 L1197.6 692.0 L1196.8 692.1 L1196.0 692.3 L1195.2 692.5 L1194.4 692.8 L1193.6 693.1 L1192.8 693.4 L1192.0 693.7 L1191.3 694.0 L1190.6 694.4 L1189.8 694.8 L1189.2 695.1 L1188.5 695.5 L1187.8 695.9 L1187.2 696.4 L1186.5 696.9 L1185.8 697.4 L1185.2 697.9 L1184.6 698.5 L1184.0 699.1 L1183.4 699.7 L1182.9 700.3 L1182.4 700.9 L1181.9 701.5 L1181.4 702.1 L1180.9 702.7 L1180.4 703.3 L1180.0 703.9 L1179.5 704.5 L1179.1 705.1 L1178.7 705.6 L1178.3 706.2 L1177.9 706.8 L1177.4 707.4 L1177.0 708.0 L1176.6 708.7 L1176.2 709.3 L1175.8 709.9 L1175.5 710.6 L1175.1 711.2 L1174.7 711.9 L1174.4 712.6 L1174.0 713.2 L1173.7 713.9 L1173.4 714.6 L1173.1 715.3 L1172.8 716.0 L1172.5 716.7 L1172.2 717.4 L1172.0 718.1 L1171.7 718.8 L1171.5 719.5 L1171.3 720.2 L1171.1 720.8 L1171.0 721.5 L1170.8 722.2 L1170.6 723.0 L1170.4 723.7 L1170.3 724.4 L1170.1 725.1 L1170.0 725.8 L1169.8 726.5 L1169.7 727.2 L1169.5 727.9 L1169.4 728.6 L1169.3 729.3 L1169.2 730.1 L1169.0 730.8 L1168.9 731.5 L1168.8 732.2 L1168.7 732.8 L1168.6 733.5 L1168.5 734.2 L1168.4 734.9 L1168.2 735.6 L1168.1 736.3 L1168.0 737.0 L1167.9 737.7 L1167.8 738.4 L1167.7 739.1 L1167.6 739.8 L1167.5 740.5 L1167.4 741.2 L1167.3 741.9 L1167.2 742.6 L1167.1 743.3 L1167.0 744.1 L1167.0 744.8 L1166.9 745.5 L1166.8 746.2 L1166.7 746.9 L1166.7 747.6 L1166.6 748.3 L1166.6 749.0 L1166.5 749.7 L1166.5 750.5 L1166.5 751.2 L1166.4 751.9 L1166.4 752.6 L1166.4 753.3 L1166.4 754.0 L1166.4 754.7 L1166.3 755.4 L1166.3 756.1 L1166.3 756.8 L1166.3 757.5 L1166.3 758.2 L1166.2 758.9 L1166.2 759.6 L1166.2 760.3 L1166.2 761.0 L1166.2 761.7 L1166.2 762.4 L1166.2 763.1 L1166.1 763.8 L1166.1 764.5 L1166.1 765.2 L1166.1 765.9 L1166.1 766.6 L1166.1 767.3 L1166.1 768.0 L1166.0 768.7 L1166.0 769.4 L1166.0 770.1 L1166.0 770.8 L1166.0 771.5 L1166.0 772.2 L1166.0 772.9 L1166.0 773.6 L1166.0 774.3 L1166.0 775.0 L1165.9 775.7 L1165.9 776.4 L1165.9 777.1 L1165.9 777.8 L1165.9 778.5 L1165.9 779.2 L1165.9 779.9 L1165.9 780.6 L1165.9 781.3 L1165.9 782.0 L1165.9 782.7 L1165.9 783.4 L1165.8 784.1 L1165.8 784.8 L1165.8 785.6 L1165.8 786.3 L1165.8 787.0 L1165.8 787.7 L1165.8 788.4 L1165.8 789.1 L1165.8 789.8 L1165.8 790.5 L1165.8 791.2 L1165.8 791.9 L1165.8 792.6 L1165.7 793.3 L1165.7 794.0 L1165.7 794.7 L1165.7 795.4 L1165.7 796.1 L1165.7 796.8 L1165.7 797.5 L1165.7 798.2 L1165.7 798.9 L1165.7 799.6 L1165.6 800.3 L1165.6 801.0 L1165.6 801.7 L1165.6 802.4 L1165.6 803.1 L1165.6 803.8 L1165.6 804.5 L1165.6 805.2 L1165.6 805.9 L1165.5 806.6 L1165.5 807.3 L1165.5 808.0 L1165.5 808.7 L1165.5 809.4 L1165.5 810.1 L1165.5 810.8 L1165.5 811.5 L1165.4 812.2 L1165.4 812.9 L1165.4 813.6 L1165.4 814.3 L1165.4 815.0 L1165.4 815.7 L1165.4 816.4 L1165.4 817.1 L1165.3 817.8 L1165.3 818.5 L1165.3 819.2 L1165.3 819.9 L1165.3 820.6 L1165.3 821.3 L1165.3 822.0 L1165.3 822.7 L1165.2 823.4 L1165.2 824.1 L1165.2 824.8 L1165.2 825.5 L1165.2 826.2 L1165.2 826.9 L1165.2 827.6 L1165.2 828.3 L1165.1 829.0 L1165.1 829.7 L1165.1 830.4 L1165.1 831.1 L1165.1 831.8 L1165.1 832.5 L1165.1 833.2 L1165.1 834.0 L1165.0 834.7 L1165.0 835.4 L1165.0 836.1 L1165.0 836.8 L1165.0 837.5 L1165.0 838.2 L1165.0 838.9 L1165.0 839.6 L1165.0 840.3 L1164.9 841.0 L1164.9 841.7 L1164.9 842.4 L1164.9 843.1 L1164.9 843.8 L1164.9 844.5 L1164.9 845.2 L1164.9 845.9 L1164.8 846.6 L1164.8 847.3 L1164.8 848.0 L1164.8 848.7 L1164.8 849.4 L1164.8 850.1 L1164.8 850.8 L1164.8 851.5 L1164.8 852.2 L1164.8 852.9 L1164.7 853.6 L1164.7 854.3 L1164.7 855.0 L1164.7 855.7 L1164.7 856.4 L1164.7 857.1 L1164.7 857.8 L1164.7 858.5 L1164.7 859.2 L1164.7 859.9 L1164.6 860.6 L1164.6 861.3 L1164.6 862.0 L1164.6 862.7 L1164.6 863.4 L1164.6 864.1 L1164.6 864.8 L1164.6 865.5 L1164.6 866.2 L1164.6 866.9 L1164.6 867.6 L1164.6 868.3 L1164.5 869.0 L1164.5 869.7 L1164.5 870.4 L1164.5 871.1 L1164.5 871.8 L1164.5 872.5 L1164.5 873.2 L1164.5 873.9 L1164.5 874.6 L1164.5 875.3 L1164.5 876.0 L1164.5 876.7 L1164.5 877.4 L1164.5 878.1 L1164.5 878.9 L1164.5 879.6 L1164.4 880.3 L1164.4 881.0 L1164.4 881.7 L1164.4 882.4 L1164.4 883.1 L1164.4 883.8 L1164.4 884.5 L1164.4 885.2 L1164.4 885.9 L1164.4 886.6 L1164.4 887.3 L1164.4 888.0 L1164.4 888.7 L1164.4 889.4 L1164.4 890.1 L1164.4 890.8 L1164.4 891.5 L1164.4 892.2 L1164.4 892.9 L1164.4 893.6 L1164.4 894.3 L1164.4 895.0 L1164.3 895.7 L1164.3 896.4 L1164.3 897.1 L1164.3 897.8 L1164.3 898.5 L1164.3 899.2 L1164.3 899.9 L1164.3 900.6 L1164.3 901.3 L1164.3 902.0 L1164.3 902.7 L1164.3 903.4 L1164.3 904.1 L1164.3 904.8 L1164.3 905.5 L1164.3 906.2 L1164.3 906.9 L1164.3 907.6 L1164.3 908.3 L1164.3 909.0 L1164.3 909.7 L1164.3 910.4 L1164.3 911.1 L1164.3 911.8 L1164.3 912.5 L1164.2 913.2 L1164.2 913.9 L1164.2 914.6 L1164.2 915.3 L1164.2 916.0 L1164.2 916.7 L1164.2 917.4 L1164.2 918.1 L1164.2 918.8 L1164.2 919.5 L1164.2 920.2 L1164.2 920.9 L1164.2 921.6 L1164.2 922.3 L1164.2 923.0 L1164.2 923.7 L1164.2 924.4 L1164.2 925.1 L1164.2 925.8 L1164.2 926.5 L1164.2 927.3 L1164.2 928.0 L1164.2 928.7 L1164.2 929.4 L1164.2 930.1 L1164.2 930.8 L1164.2 931.5 L1164.2 932.2 L1164.2 932.9 L1164.2 933.6 L1164.2 934.3 L1164.2 935.0 L1164.2 935.7 L1164.2 936.4 L1164.2 937.1 L1164.2 937.8 L1164.2 938.5 L1164.2 939.2 L1164.2 939.9 L1164.2 940.6 L1164.2 941.3 L1164.2 942.0 L1164.2 942.7 L1164.2 943.4 L1164.2 944.1 L1164.2 944.8 L1164.2 945.5 L1164.2 946.2 L1164.2 946.9 L1164.2 947.6 L1164.2 948.3 L1164.2 949.0Z" fill="#000" stroke="#000" stroke-width="0.6" stroke-linejoin="round"/><circle cx="1358.4" cy="692.6" r="4.0" fill="#000" stroke="none"/></g></g>
<g stroke="#000" fill="none" shape-rendering="crispEdges"><line x1="158.0" y1="197.0" x2="158.0" y2="992.0" stroke-width="4" /><line x1="156.0" y1="990.0" x2="1195.0" y2="990.0" stroke-width="4" /><line x1="158.0" y1="585.0" x2="1193.0" y2="585.0" stroke-width="4" /><line x1="1193.0" y1="583.0" x2="1193.0" y2="990.0" stroke-width="4" /><line x1="158.0" y1="585.0" x2="376.0" y2="291.0" stroke-width="3.4" shape-rendering="auto"/><line x1="1193.0" y1="585.0" x2="1411.0" y2="291.0" stroke-width="3.4" shape-rendering="auto"/><line x1="1193.0" y1="990.0" x2="1412.0" y2="698.0" stroke-width="3.6" shape-rendering="auto"/><line x1="1411.0" y1="33.0" x2="1411.0" y2="700.0" stroke-width="4" /><line x1="374.0" y1="35.0" x2="1413.0" y2="35.0" stroke-width="4" /><line x1="376.0" y1="33.0" x2="376.0" y2="293.0" stroke-width="4" /><line x1="374.0" y1="291.0" x2="1413.0" y2="291.0" stroke-width="4" /><line x1="158.0" y1="199.0" x2="173.0" y2="199.0" stroke-width="4" /><line x1="158.0" y1="393.0" x2="173.0" y2="393.0" stroke-width="4" /><line x1="158.0" y1="778.0" x2="173.0" y2="778.0" stroke-width="4" /><line x1="158.0" y1="970.0" x2="173.0" y2="970.0" stroke-width="4" /><line x1="247.6" y1="990.0" x2="247.6" y2="982.0" stroke-width="4" /><line x1="465.6" y1="291.0" x2="465.6" y2="283.0" stroke-width="4" /><line x1="465.6" y1="35.0" x2="465.6" y2="43.0" stroke-width="4" /><line x1="300.1" y1="990.0" x2="300.1" y2="982.0" stroke-width="4" /><line x1="518.1" y1="291.0" x2="518.1" y2="283.0" stroke-width="4" /><line x1="518.1" y1="35.0" x2="518.1" y2="43.0" stroke-width="4" /><line x1="337.3" y1="990.0" x2="337.3" y2="982.0" stroke-width="4" /><line x1="555.3" y1="291.0" x2="555.3" y2="283.0" stroke-width="4" /><line x1="555.3" y1="35.0" x2="555.3" y2="43.0" stroke-width="4" /><line x1="366.2" y1="990.0" x2="366.2" y2="982.0" stroke-width="4" /><line x1="584.2" y1="291.0" x2="584.2" y2="283.0" stroke-width="4" /><line x1="584.2" y1="35.0" x2="584.2" y2="43.0" stroke-width="4" /><line x1="389.7" y1="990.0" x2="389.7" y2="982.0" stroke-width="4" /><line x1="607.7" y1="291.0" x2="607.7" y2="283.0" stroke-width="4" /><line x1="607.7" y1="35.0" x2="607.7" y2="43.0" stroke-width="4" /><line x1="409.7" y1="990.0" x2="409.7" y2="982.0" stroke-width="4" /><line x1="627.7" y1="291.0" x2="627.7" y2="283.0" stroke-width="4" /><line x1="627.7" y1="35.0" x2="627.7" y2="43.0" stroke-width="4" /><line x1="426.9" y1="990.0" x2="426.9" y2="982.0" stroke-width="4" /><line x1="644.9" y1="291.0" x2="644.9" y2="283.0" stroke-width="4" /><line x1="644.9" y1="35.0" x2="644.9" y2="43.0" stroke-width="4" /><line x1="442.2" y1="990.0" x2="442.2" y2="982.0" stroke-width="4" /><line x1="660.2" y1="291.0" x2="660.2" y2="283.0" stroke-width="4" /><line x1="660.2" y1="35.0" x2="660.2" y2="43.0" stroke-width="4" /><line x1="455.8" y1="990.0" x2="455.8" y2="975.0" stroke-width="4" /><line x1="673.8" y1="291.0" x2="673.8" y2="276.0" stroke-width="4" /><line x1="673.8" y1="35.0" x2="673.8" y2="50.0" stroke-width="4" /><line x1="545.4" y1="990.0" x2="545.4" y2="982.0" stroke-width="4" /><line x1="763.4" y1="291.0" x2="763.4" y2="283.0" stroke-width="4" /><line x1="763.4" y1="35.0" x2="763.4" y2="43.0" stroke-width="4" /><line x1="597.9" y1="990.0" x2="597.9" y2="982.0" stroke-width="4" /><line x1="815.9" y1="291.0" x2="815.9" y2="283.0" stroke-width="4" /><line x1="815.9" y1="35.0" x2="815.9" y2="43.0" stroke-width="4" /><line x1="635.1" y1="990.0" x2="635.1" y2="982.0" stroke-width="4" /><line x1="853.1" y1="291.0" x2="853.1" y2="283.0" stroke-width="4" /><line x1="853.1" y1="35.0" x2="853.1" y2="43.0" stroke-width="4" /><line x1="664.0" y1="990.0" x2="664.0" y2="982.0" stroke-width="4" /><line x1="882.0" y1="291.0" x2="882.0" y2="283.0" stroke-width="4" /><line x1="882.0" y1="35.0" x2="882.0" y2="43.0" stroke-width="4" /><line x1="687.5" y1="990.0" x2="687.5" y2="982.0" stroke-width="4" /><line x1="905.5" y1="291.0" x2="905.5" y2="283.0" stroke-width="4" /><line x1="905.5" y1="35.0" x2="905.5" y2="43.0" stroke-width="4" /><line x1="707.5" y1="990.0" x2="707.5" y2="982.0" stroke-width="4" /><line x1="925.5" y1="291.0" x2="925.5" y2="283.0" stroke-width="4" /><line x1="925.5" y1="35.0" x2="925.5" y2="43.0" stroke-width="4" /><line x1="724.7" y1="990.0" x2="724.7" y2="982.0" stroke-width="4" /><line x1="942.7" y1="291.0" x2="942.7" y2="283.0" stroke-width="4" /><line x1="942.7" y1="35.0" x2="942.7" y2="43.0" stroke-width="4" /><line x1="740.0" y1="990.0" x2="740.0" y2="982.0" stroke-width="4" /><line x1="958.0" y1="291.0" x2="958.0" y2="283.0" stroke-width="4" /><line x1="958.0" y1="35.0" x2="958.0" y2="43.0" stroke-width="4" /><line x1="753.6" y1="990.0" x2="753.6" y2="975.0" stroke-width="4" /><line x1="971.6" y1="291.0" x2="971.6" y2="276.0" stroke-width="4" /><line x1="971.6" y1="35.0" x2="971.6" y2="50.0" stroke-width="4" /><line x1="843.2" y1="990.0" x2="843.2" y2="982.0" stroke-width="4" /><line x1="1061.2" y1="291.0" x2="1061.2" y2="283.0" stroke-width="4" /><line x1="1061.2" y1="35.0" x2="1061.2" y2="43.0" stroke-width="4" /><line x1="895.7" y1="990.0" x2="895.7" y2="982.0" stroke-width="4" /><line x1="1113.7" y1="291.0" x2="1113.7" y2="283.0" stroke-width="4" /><line x1="1113.7" y1="35.0" x2="1113.7" y2="43.0" stroke-width="4" /><line x1="932.9" y1="990.0" x2="932.9" y2="982.0" stroke-width="4" /><line x1="1150.9" y1="291.0" x2="1150.9" y2="283.0" stroke-width="4" /><line x1="1150.9" y1="35.0" x2="1150.9" y2="43.0" stroke-width="4" /><line x1="961.8" y1="990.0" x2="961.8" y2="982.0" stroke-width="4" /><line x1="1179.8" y1="291.0" x2="1179.8" y2="283.0" stroke-width="4" /><line x1="1179.8" y1="35.0" x2="1179.8" y2="43.0" stroke-width="4" /><line x1="985.3" y1="990.0" x2="985.3" y2="982.0" stroke-width="4" /><line x1="1203.3" y1="291.0" x2="1203.3" y2="283.0" stroke-width="4" /><line x1="1203.3" y1="35.0" x2="1203.3" y2="43.0" stroke-width="4" /><line x1="1005.3" y1="990.0" x2="1005.3" y2="982.0" stroke-width="4" /><line x1="1223.3" y1="291.0" x2="1223.3" y2="283.0" stroke-width="4" /><line x1="1223.3" y1="35.0" x2="1223.3" y2="43.0" stroke-width="4" /><line x1="1022.5" y1="990.0" x2="1022.5" y2="982.0" stroke-width="4" /><line x1="1240.5" y1="291.0" x2="1240.5" y2="283.0" stroke-width="4" /><line x1="1240.5" y1="35.0" x2="1240.5" y2="43.0" stroke-width="4" /><line x1="1037.8" y1="990.0" x2="1037.8" y2="982.0" stroke-width="4" /><line x1="1255.8" y1="291.0" x2="1255.8" y2="283.0" stroke-width="4" /><line x1="1255.8" y1="35.0" x2="1255.8" y2="43.0" stroke-width="4" /><line x1="1051.4" y1="990.0" x2="1051.4" y2="975.0" stroke-width="4" /><line x1="1269.4" y1="291.0" x2="1269.4" y2="276.0" stroke-width="4" /><line x1="1269.4" y1="35.0" x2="1269.4" y2="50.0" stroke-width="4" /><line x1="1141.0" y1="990.0" x2="1141.0" y2="982.0" stroke-width="4" /><line x1="1359.0" y1="291.0" x2="1359.0" y2="283.0" stroke-width="4" /><line x1="1359.0" y1="35.0" x2="1359.0" y2="43.0" stroke-width="4" /><line x1="1193.5" y1="990.0" x2="1193.5" y2="982.0" stroke-width="4" /><line x1="376.0" y1="272.4" x2="384.0" y2="272.4" stroke-width="4" /><line x1="376.0" y1="254.2" x2="384.0" y2="254.2" stroke-width="4" /><line x1="376.0" y1="235.9" x2="384.0" y2="235.9" stroke-width="4" /><line x1="376.0" y1="217.6" x2="391.0" y2="217.6" stroke-width="4" /><line x1="376.0" y1="199.3" x2="384.0" y2="199.3" stroke-width="4" /><line x1="376.0" y1="181.0" x2="384.0" y2="181.0" stroke-width="4" /><line x1="376.0" y1="162.8" x2="384.0" y2="162.8" stroke-width="4" /><line x1="376.0" y1="144.5" x2="384.0" y2="144.5" stroke-width="4" /><line x1="376.0" y1="126.2" x2="391.0" y2="126.2" stroke-width="4" /><line x1="376.0" y1="107.9" x2="384.0" y2="107.9" stroke-width="4" /><line x1="376.0" y1="89.6" x2="384.0" y2="89.6" stroke-width="4" /><line x1="376.0" y1="71.4" x2="384.0" y2="71.4" stroke-width="4" /><line x1="376.0" y1="53.1" x2="384.0" y2="53.1" stroke-width="4" /><line x1="1207.6" y1="970.5" x2="1198.6" y2="970.5" stroke-width="4" /><line x1="1220.4" y1="953.5" x2="1201.4" y2="953.5" stroke-width="4" /><line x1="1233.1" y1="936.5" x2="1224.1" y2="936.5" stroke-width="4" /><line x1="1245.9" y1="919.4" x2="1236.9" y2="919.4" stroke-width="4" /><line x1="1258.7" y1="902.4" x2="1249.7" y2="902.4" stroke-width="4" /><line x1="1271.5" y1="885.4" x2="1262.5" y2="885.4" stroke-width="4" /><line x1="1284.2" y1="868.4" x2="1265.2" y2="868.4" stroke-width="4" /><line x1="1297.0" y1="851.3" x2="1288.0" y2="851.3" stroke-width="4" /><line x1="1309.8" y1="834.3" x2="1300.8" y2="834.3" stroke-width="4" /><line x1="1322.6" y1="817.3" x2="1313.6" y2="817.3" stroke-width="4" /><line x1="1335.3" y1="800.2" x2="1326.3" y2="800.2" stroke-width="4" /><line x1="1348.1" y1="783.2" x2="1329.1" y2="783.2" stroke-width="4" /><line x1="1360.9" y1="766.2" x2="1351.9" y2="766.2" stroke-width="4" /><line x1="1373.6" y1="749.1" x2="1364.6" y2="749.1" stroke-width="4" /><line x1="1386.4" y1="732.1" x2="1377.4" y2="732.1" stroke-width="4" /><line x1="1399.2" y1="715.1" x2="1390.2" y2="715.1" stroke-width="4" /><line x1="1412.0" y1="698.0" x2="1397.0" y2="698.0" stroke-width="4" /></g>
<g stroke="#000" stroke-width="3.4" stroke-linecap="round" stroke-dasharray="0.1 6.5" fill="none"><path d="M190 551H1218"/><path d="M1218.2 551V953"/></g>
<path d="M376.0 183.9 L379.0 183.9 L382.0 184.0 L385.0 184.0 L388.0 184.0 L391.0 184.0 L394.1 184.1 L397.1 184.1 L400.1 184.1 L403.1 184.1 L406.1 184.2 L409.1 184.2 L412.1 184.2 L415.1 184.2 L418.1 184.2 L421.1 184.2 L424.2 184.2 L427.2 184.2 L430.2 184.2 L433.2 184.2 L436.2 184.2 L439.2 184.2 L442.2 184.2 L445.2 184.2 L448.2 184.2 L451.2 184.2 L454.3 184.1 L457.3 184.1 L460.3 184.1 L463.3 184.1 L466.3 184.1 L469.3 184.1 L472.3 184.1 L475.3 184.1 L478.3 184.1 L481.3 184.1 L484.3 184.1 L487.4 184.0 L490.4 184.0 L493.4 184.0 L496.4 184.0 L499.4 184.0 L502.4 184.0 L505.4 184.0 L508.4 184.0 L511.4 184.0 L514.4 184.0 L517.5 183.9 L520.5 183.9 L523.5 183.9 L526.5 183.9 L529.5 183.9 L532.5 183.9 L535.5 183.9 L538.5 183.9 L541.5 183.8 L544.5 183.8 L547.6 183.8 L550.6 183.8 L553.6 183.8 L556.6 183.8 L559.6 183.8 L562.6 183.7 L565.6 183.7 L568.6 183.7 L571.6 183.7 L574.6 183.7 L577.7 183.7 L580.7 183.6 L583.7 183.6 L586.7 183.6 L589.7 183.6 L592.7 183.6 L595.7 183.5 L598.7 183.5 L601.7 183.5 L604.7 183.5 L607.7 183.4 L610.8 183.4 L613.8 183.4 L616.8 183.4 L619.8 183.3 L622.8 183.3 L625.8 183.3 L628.8 183.2 L631.8 183.2 L634.8 183.1 L637.8 183.1 L640.9 183.1 L643.9 183.0 L646.9 183.0 L649.9 182.9 L652.9 182.9 L655.9 182.8 L658.9 182.8 L661.9 182.8 L664.9 182.7 L667.9 182.6 L670.9 182.6 L674.0 182.5 L677.0 182.5 L680.0 182.4 L683.0 182.4 L686.0 182.3 L689.0 182.2 L692.0 182.2 L695.0 182.1 L698.0 182.0 L701.0 182.0 L704.0 181.9 L707.1 181.8 L710.1 181.7 L713.1 181.6 L716.1 181.6 L719.1 181.5 L722.1 181.3 L725.1 181.2 L728.1 181.1 L731.1 181.0 L734.1 180.9 L737.1 180.7 L740.1 180.6 L743.2 180.5 L746.2 180.3 L749.2 180.2 L752.2 180.0 L755.2 179.9 L758.2 179.7 L761.2 179.5 L764.2 179.4 L767.2 179.2 L770.2 178.9 L773.2 178.7 L776.2 178.5 L779.2 178.2 L782.2 178.0 L785.2 177.7 L788.2 177.4 L791.2 177.1 L794.2 176.9 L797.2 176.6 L800.2 176.3 L803.2 176.0 L806.2 175.7 L809.2 175.4 L812.1 175.0 L815.1 174.7 L818.1 174.3 L821.1 174.0 L824.1 173.6 L827.1 173.2 L830.1 172.8 L833.0 172.4 L836.0 172.0 L839.0 171.5 L842.0 171.1 L845.0 170.6 L848.0 170.2 L850.9 169.7 L853.9 169.2 L856.8 168.6 L859.8 168.0 L862.7 167.4 L865.7 166.8 L868.6 166.1 L871.5 165.4 L874.4 164.7 L877.3 163.9 L880.2 163.1 L883.2 162.3 L886.1 161.5 L888.9 160.6 L891.8 159.7 L894.7 158.9 L897.6 158.0 L900.5 157.1 L903.4 156.1 L906.2 155.2 L909.1 154.3 L911.9 153.4 L914.8 152.4 L917.6 151.4 L920.4 150.4 L923.3 149.4 L926.1 148.3 L928.9 147.3 L931.7 146.2 L934.5 145.1 L937.3 144.0 L940.1 142.9 L942.9 141.8 L945.7 140.6 L948.5 139.5 L951.3 138.4 L954.1 137.3 L956.9 136.2 L959.7 135.1 L962.5 134.0 L965.3 132.9 L968.1 131.8 L970.9 130.7 L973.7 129.6 L976.5 128.5 L979.3 127.4 L982.1 126.3 L984.9 125.2 L987.7 124.1 L990.5 123.0 L993.3 121.9 L996.1 120.8 L998.9 119.7 L1001.8 118.6 L1004.6 117.5 L1007.4 116.5 L1010.2 115.4 L1013.0 114.4 L1015.9 113.3 L1018.7 112.3 L1021.5 111.2 L1024.3 110.1 L1027.1 109.1 L1030.0 108.0 L1032.8 107.0 L1035.6 105.9 L1038.5 104.9 L1041.3 103.9 L1044.2 102.9 L1047.0 102.0 L1049.9 101.0 L1052.7 100.1 L1055.6 99.3 L1058.5 98.4 L1061.4 97.6 L1064.3 96.8 L1067.2 96.0 L1070.1 95.3 L1073.0 94.5 L1075.9 93.8 L1078.8 93.0 L1081.8 92.3 L1084.7 91.6 L1087.6 90.9 L1090.6 90.3 L1093.5 89.6 L1096.5 89.0 L1099.4 88.4 L1102.4 87.9 L1105.3 87.3 L1108.3 86.8 L1111.3 86.3 L1114.2 85.8 L1117.2 85.3 L1120.2 84.8 L1123.1 84.4 L1126.1 83.9 L1129.1 83.5 L1132.1 83.0 L1135.1 82.6 L1138.1 82.2 L1141.1 81.8 L1144.0 81.5 L1147.0 81.2 L1150.0 80.8 L1153.0 80.6 L1156.0 80.3 L1159.0 80.1 L1162.0 79.9 L1165.0 79.7 L1168.0 79.5 L1171.0 79.3 L1174.0 79.1 L1177.0 78.9 L1180.0 78.7 L1183.0 78.6 L1186.1 78.4 L1189.1 78.3 L1192.1 78.1 L1195.1 78.0 L1198.1 77.9 L1201.1 77.8 L1204.1 77.8 L1207.1 77.7 L1210.1 77.7 L1213.1 77.7 L1216.1 77.7 L1219.2 77.6 L1222.2 77.6 L1225.2 77.6 L1228.2 77.6 L1231.2 77.6 L1234.2 77.6 L1237.2 77.5 L1240.2 77.5 L1243.2 77.5 L1246.2 77.5 L1249.3 77.5 L1252.3 77.5 L1255.3 77.5 L1258.3 77.5 L1261.3 77.5 L1264.3 77.5 L1267.3 77.6 L1270.3 77.6 L1273.3 77.7 L1276.3 77.8 L1279.3 78.0 L1282.4 78.1 L1285.4 78.3 L1288.4 78.4 L1291.4 78.6 L1294.4 78.8 L1297.4 78.9 L1300.4 79.1 L1303.4 79.3 L1306.4 79.5 L1309.4 79.7 L1312.4 79.8 L1315.4 80.0 L1318.4 80.2 L1321.4 80.4 L1324.4 80.7 L1327.4 80.9 L1330.4 81.1 L1333.4 81.4 L1336.4 81.6 L1339.4 81.9 L1342.4 82.1 L1345.4 82.4 L1348.4 82.7 L1351.4 83.0 L1354.4 83.3 L1357.4 83.5 L1360.4 83.8 L1363.4 84.1 L1366.4 84.5 L1369.4 84.8 L1372.4 85.1 L1375.4 85.5 L1378.3 85.9 L1381.3 86.2 L1384.3 86.6 L1387.3 87.0" stroke="#d9d9d9" stroke-width="9.5" fill="none"/>
<path d="M410.6 167.9L423.1 190.7L398.1 190.7Z"/>
<path d="M494.9 166.6L507.4 188.6L482.4 188.6Z"/>
<path d="M615.6 167.9L628.1 190.7L603.1 190.7Z"/>
<path d="M707.8 170.0L720.3 192.6L695.3 192.6Z"/>
<path d="M792.7 165.2L805.2 186.5L780.2 186.5Z"/>
<path d="M913.9 139.7L926.4 161.5L901.4 161.5Z"/>
<path d="M1002.2 105.4L1014.7 126.7L989.7 126.7Z"/>
<path d="M1097.0 77.5L1109.5 99.0L1084.5 99.0Z"/>
<path d="M1264.2 66.4L1276.7 88.5L1251.7 88.5Z"/>
<path d="M1271.6 59.0L1284.1 82.0L1259.1 82.0Z"/>
<path d="M1355.2 70.4L1367.7 92.5L1342.7 92.5Z"/>
<g id="inset"><g fill="#fff" stroke="#f00" stroke-width="2.2" shape-rendering="crispEdges"><rect x="438.2" y="726.1" width="15.4" height="15.4"/><rect x="439.3" y="726.1" width="15.4" height="15.4"/><rect x="440.5" y="726.1" width="15.4" height="15.4"/><rect x="441.6" y="726.1" width="15.4" height="15.4"/><rect x="442.8" y="726.1" width="15.4" height="15.4"/><rect x="444.0" y="726.1" width="15.4" height="15.4"/><rect x="445.1" y="726.1" width="15.4" height="15.4"/><rect x="446.3" y="726.1" width="15.4" height="15.4"/><rect x="447.4" y="726.1" width="15.4" height="15.4"/><rect x="448.6" y="726.1" width="15.4" height="15.4"/><rect x="449.7" y="726.1" width="15.4" height="15.4"/><rect x="450.9" y="726.1" width="15.4" height="15.4"/><rect x="452.1" y="726.1" width="15.4" height="15.4"/><rect x="453.2" y="726.1" width="15.4" height="15.4"/><rect x="454.4" y="726.1" width="15.4" height="15.4"/><rect x="455.5" y="726.1" width="15.4" height="15.4"/><rect x="456.7" y="726.1" width="15.4" height="15.4"/><rect x="457.8" y="726.1" width="15.4" height="15.4"/><rect x="459.0" y="726.1" width="15.4" height="15.4"/><rect x="460.1" y="726.1" width="15.4" height="15.4"/><rect x="461.3" y="726.1" width="15.4" height="15.4"/><rect x="462.5" y="726.1" width="15.4" height="15.4"/><rect x="463.6" y="726.1" width="15.4" height="15.4"/><rect x="464.8" y="726.1" width="15.4" height="15.4"/><rect x="465.9" y="726.1" width="15.4" height="15.4"/><rect x="467.1" y="726.1" width="15.4" height="15.4"/><rect x="468.2" y="726.1" width="15.4" height="15.4"/><rect x="469.4" y="726.1" width="15.4" height="15.4"/><rect x="470.5" y="726.1" width="15.4" height="15.4"/><rect x="471.7" y="726.1" width="15.4" height="15.4"/><rect x="472.9" y="726.1" width="15.4" height="15.4"/><rect x="474.0" y="726.1" width="15.4" height="15.4"/><rect x="475.2" y="726.1" width="15.4" height="15.4"/><rect x="476.3" y="726.1" width="15.4" height="15.4"/><rect x="477.5" y="726.1" width="15.4" height="15.4"/><rect x="478.6" y="726.1" width="15.4" height="15.4"/><rect x="479.8" y="726.1" width="15.4" height="15.4"/><rect x="481.0" y="726.1" width="15.4" height="15.4"/><rect x="482.1" y="726.1" width="15.4" height="15.4"/><rect x="483.3" y="726.1" width="15.4" height="15.4"/><rect x="484.4" y="726.1" width="15.4" height="15.4"/><rect x="485.6" y="726.1" width="15.4" height="15.4"/><rect x="486.7" y="726.1" width="15.4" height="15.4"/><rect x="487.9" y="726.1" width="15.4" height="15.4"/><rect x="489.0" y="726.1" width="15.4" height="15.4"/><rect x="490.2" y="726.1" width="15.4" height="15.4"/><rect x="491.4" y="726.1" width="15.4" height="15.4"/><rect x="492.5" y="726.1" width="15.4" height="15.4"/><rect x="493.7" y="726.1" width="15.4" height="15.4"/><rect x="494.8" y="726.1" width="15.4" height="15.4"/><rect x="496.0" y="726.1" width="15.4" height="15.4"/><rect x="497.1" y="726.1" width="15.4" height="15.4"/><rect x="498.3" y="726.1" width="15.4" height="15.4"/><rect x="499.4" y="726.1" width="15.4" height="15.4"/><rect x="500.6" y="726.1" width="15.4" height="15.4"/><rect x="501.8" y="726.1" width="15.4" height="15.4"/><rect x="502.9" y="726.1" width="15.4" height="15.4"/><rect x="512.7" y="739.9" width="15.4" height="15.4"/><rect x="515.6" y="757.3" width="15.4" height="15.4"/><rect x="518.5" y="774.7" width="15.4" height="15.4"/><rect x="520.8" y="792.1" width="15.4" height="15.4"/><rect x="522.6" y="809.5" width="15.4" height="15.4"/><rect x="525.5" y="823.6" width="15.4" height="15.4"/><rect x="527.2" y="834.5" width="15.4" height="15.4"/><rect x="528.3" y="836.2" width="15.4" height="15.4"/><rect x="529.5" y="837.9" width="15.4" height="15.4"/><rect x="530.7" y="838.4" width="15.4" height="15.4"/><rect x="531.8" y="837.7" width="15.4" height="15.4"/><rect x="533.0" y="836.9" width="15.4" height="15.4"/><rect x="534.1" y="836.2" width="15.4" height="15.4"/><rect x="535.3" y="835.5" width="15.4" height="15.4"/><rect x="536.4" y="834.7" width="15.4" height="15.4"/><rect x="537.6" y="834.0" width="15.4" height="15.4"/><rect x="538.8" y="833.2" width="15.4" height="15.4"/><rect x="539.9" y="832.5" width="15.4" height="15.4"/><rect x="541.1" y="831.8" width="15.4" height="15.4"/><rect x="542.2" y="831.0" width="15.4" height="15.4"/><rect x="543.4" y="830.3" width="15.4" height="15.4"/><rect x="544.5" y="829.5" width="15.4" height="15.4"/><rect x="545.7" y="828.8" width="15.4" height="15.4"/><rect x="546.8" y="828.1" width="15.4" height="15.4"/><rect x="548.0" y="827.3" width="15.4" height="15.4"/><rect x="549.2" y="826.6" width="15.4" height="15.4"/><rect x="550.3" y="825.8" width="15.4" height="15.4"/><rect x="551.5" y="825.1" width="15.4" height="15.4"/><rect x="552.6" y="824.4" width="15.4" height="15.4"/><rect x="553.8" y="823.6" width="15.4" height="15.4"/><rect x="554.9" y="822.9" width="15.4" height="15.4"/><rect x="556.1" y="822.1" width="15.4" height="15.4"/><rect x="557.2" y="821.4" width="15.4" height="15.4"/><rect x="558.4" y="820.8" width="15.4" height="15.4"/><rect x="559.6" y="820.1" width="15.4" height="15.4"/><rect x="560.7" y="819.5" width="15.4" height="15.4"/><rect x="561.9" y="818.9" width="15.4" height="15.4"/><rect x="563.0" y="818.3" width="15.4" height="15.4"/><rect x="564.2" y="817.6" width="15.4" height="15.4"/><rect x="565.3" y="817.0" width="15.4" height="15.4"/><rect x="566.5" y="816.4" width="15.4" height="15.4"/><rect x="567.6" y="815.8" width="15.4" height="15.4"/><rect x="568.8" y="815.1" width="15.4" height="15.4"/><rect x="570.0" y="814.5" width="15.4" height="15.4"/><rect x="571.1" y="813.9" width="15.4" height="15.4"/><rect x="572.3" y="813.3" width="15.4" height="15.4"/><rect x="573.4" y="812.6" width="15.4" height="15.4"/><rect x="574.6" y="812.0" width="15.4" height="15.4"/><rect x="575.7" y="811.4" width="15.4" height="15.4"/><rect x="576.9" y="810.8" width="15.4" height="15.4"/><rect x="578.1" y="810.1" width="15.4" height="15.4"/><rect x="579.2" y="809.5" width="15.4" height="15.4"/><rect x="580.4" y="809.2" width="15.4" height="15.4"/><rect x="581.5" y="808.8" width="15.4" height="15.4"/><rect x="582.7" y="808.5" width="15.4" height="15.4"/><rect x="583.8" y="808.1" width="15.4" height="15.4"/><rect x="585.0" y="807.8" width="15.4" height="15.4"/><rect x="586.1" y="807.4" width="15.4" height="15.4"/><rect x="587.3" y="807.1" width="15.4" height="15.4"/><rect x="588.5" y="806.8" width="15.4" height="15.4"/><rect x="589.6" y="806.4" width="15.4" height="15.4"/><rect x="590.8" y="806.1" width="15.4" height="15.4"/><rect x="591.9" y="805.7" width="15.4" height="15.4"/><rect x="593.1" y="805.4" width="15.4" height="15.4"/><rect x="594.2" y="805.1" width="15.4" height="15.4"/><rect x="595.4" y="804.7" width="15.4" height="15.4"/><rect x="596.5" y="804.4" width="15.4" height="15.4"/><rect x="597.7" y="804.0" width="15.4" height="15.4"/><rect x="598.9" y="803.7" width="15.4" height="15.4"/><rect x="600.0" y="803.3" width="15.4" height="15.4"/><rect x="601.2" y="803.0" width="15.4" height="15.4"/><rect x="602.3" y="802.8" width="15.4" height="15.4"/><rect x="603.5" y="802.5" width="15.4" height="15.4"/><rect x="604.6" y="802.3" width="15.4" height="15.4"/><rect x="605.8" y="802.0" width="15.4" height="15.4"/><rect x="607.0" y="801.8" width="15.4" height="15.4"/><rect x="608.1" y="801.6" width="15.4" height="15.4"/><rect x="609.3" y="801.3" width="15.4" height="15.4"/><rect x="610.4" y="801.1" width="15.4" height="15.4"/><rect x="611.6" y="800.9" width="15.4" height="15.4"/><rect x="612.7" y="800.6" width="15.4" height="15.4"/><rect x="613.9" y="800.4" width="15.4" height="15.4"/><rect x="615.0" y="800.1" width="15.4" height="15.4"/><rect x="616.2" y="799.9" width="15.4" height="15.4"/><rect x="617.4" y="799.7" width="15.4" height="15.4"/><rect x="618.5" y="799.4" width="15.4" height="15.4"/><rect x="619.7" y="799.2" width="15.4" height="15.4"/><rect x="620.8" y="799.0" width="15.4" height="15.4"/><rect x="622.0" y="798.7" width="15.4" height="15.4"/><rect x="623.1" y="798.5" width="15.4" height="15.4"/><rect x="624.3" y="798.4" width="15.4" height="15.4"/><rect x="625.4" y="798.3" width="15.4" height="15.4"/><rect x="626.6" y="798.1" width="15.4" height="15.4"/><rect x="627.8" y="798.0" width="15.4" height="15.4"/><rect x="628.9" y="797.8" width="15.4" height="15.4"/><rect x="630.1" y="797.7" width="15.4" height="15.4"/><rect x="631.2" y="797.6" width="15.4" height="15.4"/><rect x="632.4" y="797.4" width="15.4" height="15.4"/><rect x="633.5" y="797.3" width="15.4" height="15.4"/><rect x="634.7" y="797.2" width="15.4" height="15.4"/><rect x="635.9" y="797.0" width="15.4" height="15.4"/><rect x="637.0" y="796.9" width="15.4" height="15.4"/><rect x="638.2" y="796.8" width="15.4" height="15.4"/><rect x="639.3" y="796.6" width="15.4" height="15.4"/><rect x="640.5" y="796.5" width="15.4" height="15.4"/><rect x="641.6" y="796.3" width="15.4" height="15.4"/><rect x="642.8" y="796.2" width="15.4" height="15.4"/><rect x="643.9" y="796.1" width="15.4" height="15.4"/><rect x="645.1" y="796.0" width="15.4" height="15.4"/><rect x="646.3" y="795.9" width="15.4" height="15.4"/><rect x="647.4" y="795.8" width="15.4" height="15.4"/><rect x="648.6" y="795.7" width="15.4" height="15.4"/><rect x="649.7" y="795.6" width="15.4" height="15.4"/><rect x="650.9" y="795.5" width="15.4" height="15.4"/><rect x="652.0" y="795.4" width="15.4" height="15.4"/><rect x="653.2" y="795.3" width="15.4" height="15.4"/><rect x="654.3" y="795.2" width="15.4" height="15.4"/><rect x="655.5" y="795.1" width="15.4" height="15.4"/><rect x="656.7" y="795.0" width="15.4" height="15.4"/><rect x="657.8" y="794.9" width="15.4" height="15.4"/><rect x="659.0" y="794.9" width="15.4" height="15.4"/><rect x="660.1" y="794.8" width="15.4" height="15.4"/><rect x="661.3" y="794.7" width="15.4" height="15.4"/><rect x="662.4" y="794.6" width="15.4" height="15.4"/><rect x="663.6" y="794.5" width="15.4" height="15.4"/><rect x="664.8" y="794.4" width="15.4" height="15.4"/><rect x="665.9" y="794.3" width="15.4" height="15.4"/><rect x="667.1" y="794.2" width="15.4" height="15.4"/><rect x="668.2" y="794.2" width="15.4" height="15.4"/><rect x="669.4" y="794.1" width="15.4" height="15.4"/><rect x="670.5" y="794.1" width="15.4" height="15.4"/><rect x="671.7" y="794.0" width="15.4" height="15.4"/><rect x="672.8" y="794.0" width="15.4" height="15.4"/><rect x="674.0" y="793.9" width="15.4" height="15.4"/><rect x="675.2" y="793.8" width="15.4" height="15.4"/><rect x="676.3" y="793.8" width="15.4" height="15.4"/><rect x="677.5" y="793.7" width="15.4" height="15.4"/><rect x="678.6" y="793.7" width="15.4" height="15.4"/><rect x="679.8" y="793.6" width="15.4" height="15.4"/><rect x="680.9" y="793.5" width="15.4" height="15.4"/><rect x="682.1" y="793.5" width="15.4" height="15.4"/><rect x="683.2" y="793.4" width="15.4" height="15.4"/><rect x="684.4" y="793.4" width="15.4" height="15.4"/><rect x="685.6" y="793.3" width="15.4" height="15.4"/><rect x="686.7" y="793.3" width="15.4" height="15.4"/><rect x="687.9" y="793.2" width="15.4" height="15.4"/><rect x="689.0" y="793.1" width="15.4" height="15.4"/><rect x="690.2" y="793.1" width="15.4" height="15.4"/><rect x="691.3" y="793.0" width="15.4" height="15.4"/><rect x="692.5" y="793.0" width="15.4" height="15.4"/><rect x="693.7" y="792.9" width="15.4" height="15.4"/><rect x="694.8" y="792.8" width="15.4" height="15.4"/><rect x="696.0" y="792.8" width="15.4" height="15.4"/><rect x="697.1" y="792.7" width="15.4" height="15.4"/><rect x="698.3" y="792.7" width="15.4" height="15.4"/><rect x="699.4" y="792.6" width="15.4" height="15.4"/><rect x="700.6" y="792.5" width="15.4" height="15.4"/><rect x="701.7" y="792.5" width="15.4" height="15.4"/><rect x="702.9" y="792.4" width="15.4" height="15.4"/><rect x="704.1" y="792.4" width="15.4" height="15.4"/><rect x="705.2" y="792.3" width="15.4" height="15.4"/><rect x="706.4" y="792.2" width="15.4" height="15.4"/><rect x="707.5" y="792.2" width="15.4" height="15.4"/><rect x="708.7" y="792.1" width="15.4" height="15.4"/><rect x="709.8" y="792.1" width="15.4" height="15.4"/><rect x="711.0" y="792.1" width="15.4" height="15.4"/><rect x="712.1" y="792.1" width="15.4" height="15.4"/><rect x="713.3" y="792.0" width="15.4" height="15.4"/><rect x="714.5" y="792.0" width="15.4" height="15.4"/><rect x="715.6" y="792.0" width="15.4" height="15.4"/><rect x="716.8" y="792.0" width="15.4" height="15.4"/><rect x="717.9" y="792.0" width="15.4" height="15.4"/><rect x="719.1" y="791.9" width="15.4" height="15.4"/><rect x="720.2" y="791.9" width="15.4" height="15.4"/><rect x="721.4" y="791.9" width="15.4" height="15.4"/><rect x="722.6" y="791.9" width="15.4" height="15.4"/><rect x="723.7" y="791.9" width="15.4" height="15.4"/><rect x="724.9" y="791.9" width="15.4" height="15.4"/><rect x="726.0" y="791.8" width="15.4" height="15.4"/><rect x="727.2" y="791.8" width="15.4" height="15.4"/><rect x="728.3" y="791.8" width="15.4" height="15.4"/><rect x="729.5" y="791.8" width="15.4" height="15.4"/><rect x="730.6" y="791.8" width="15.4" height="15.4"/><rect x="731.8" y="791.7" width="15.4" height="15.4"/><rect x="733.0" y="791.7" width="15.4" height="15.4"/><rect x="734.1" y="791.7" width="15.4" height="15.4"/><rect x="735.3" y="791.7" width="15.4" height="15.4"/><rect x="736.4" y="791.7" width="15.4" height="15.4"/><rect x="737.6" y="791.6" width="15.4" height="15.4"/><rect x="738.7" y="791.6" width="15.4" height="15.4"/><rect x="739.9" y="791.6" width="15.4" height="15.4"/><rect x="741.0" y="791.6" width="15.4" height="15.4"/><rect x="742.2" y="791.6" width="15.4" height="15.4"/><rect x="743.4" y="791.6" width="15.4" height="15.4"/><rect x="744.5" y="791.5" width="15.4" height="15.4"/><rect x="745.7" y="791.5" width="15.4" height="15.4"/><rect x="746.8" y="791.5" width="15.4" height="15.4"/><rect x="748.0" y="791.5" width="15.4" height="15.4"/><rect x="749.1" y="791.5" width="15.4" height="15.4"/><rect x="750.3" y="791.4" width="15.4" height="15.4"/><rect x="751.5" y="791.4" width="15.4" height="15.4"/><rect x="752.6" y="791.4" width="15.4" height="15.4"/><rect x="753.8" y="791.4" width="15.4" height="15.4"/><rect x="754.9" y="791.4" width="15.4" height="15.4"/><rect x="756.1" y="791.4" width="15.4" height="15.4"/><rect x="757.2" y="791.4" width="15.4" height="15.4"/><rect x="758.4" y="791.4" width="15.4" height="15.4"/><rect x="759.5" y="791.4" width="15.4" height="15.4"/><rect x="760.7" y="791.4" width="15.4" height="15.4"/><rect x="761.9" y="791.4" width="15.4" height="15.4"/><rect x="763.0" y="791.4" width="15.4" height="15.4"/><rect x="764.2" y="791.4" width="15.4" height="15.4"/><rect x="765.3" y="791.4" width="15.4" height="15.4"/><rect x="766.5" y="791.4" width="15.4" height="15.4"/><rect x="767.6" y="791.4" width="15.4" height="15.4"/><rect x="768.8" y="791.4" width="15.4" height="15.4"/><rect x="770.0" y="791.4" width="15.4" height="15.4"/><rect x="771.1" y="791.4" width="15.4" height="15.4"/><rect x="772.3" y="791.4" width="15.4" height="15.4"/><rect x="776.3" y="791.4" width="15.4" height="15.4"/><rect x="777.5" y="791.4" width="15.4" height="15.4"/><rect x="778.6" y="791.4" width="15.4" height="15.4"/><rect x="779.8" y="791.4" width="15.4" height="15.4"/><rect x="780.9" y="791.4" width="15.4" height="15.4"/><rect x="782.1" y="791.4" width="15.4" height="15.4"/><rect x="783.2" y="791.4" width="15.4" height="15.4"/><rect x="784.4" y="791.4" width="15.4" height="15.4"/><rect x="785.6" y="791.4" width="15.4" height="15.4"/><rect x="786.7" y="791.4" width="15.4" height="15.4"/><rect x="787.9" y="791.4" width="15.4" height="15.4"/><rect x="789.0" y="791.4" width="15.4" height="15.4"/><rect x="790.2" y="791.4" width="15.4" height="15.4"/><rect x="791.3" y="791.4" width="15.4" height="15.4"/><rect x="792.5" y="791.4" width="15.4" height="15.4"/><rect x="793.6" y="791.4" width="15.4" height="15.4"/><rect x="794.8" y="791.4" width="15.4" height="15.4"/><rect x="796.0" y="791.4" width="15.4" height="15.4"/><rect x="797.1" y="791.4" width="15.4" height="15.4"/><rect x="798.3" y="791.4" width="15.4" height="15.4"/><rect x="799.4" y="791.4" width="15.4" height="15.4"/><rect x="800.6" y="791.4" width="15.4" height="15.4"/><rect x="801.2" y="791.4" width="15.4" height="15.4"/></g><g fill="#fff" stroke="#00f" stroke-width="2.4" shape-rendering="crispEdges"><rect x="472.2" y="725.2" width="15.6" height="15.6"/><rect x="474.5" y="735.5" width="15.6" height="15.6"/><rect x="476.8" y="728.7" width="15.6" height="15.6"/><rect x="479.1" y="729.9" width="15.6" height="15.6"/><rect x="481.4" y="729.3" width="15.6" height="15.6"/><rect x="483.7" y="723.2" width="15.6" height="15.6"/><rect x="486.1" y="719.5" width="15.6" height="15.6"/><rect x="488.4" y="728.9" width="15.6" height="15.6"/><rect x="490.7" y="728.5" width="15.6" height="15.6"/><rect x="493.0" y="733.0" width="15.6" height="15.6"/><rect x="495.3" y="713.8" width="15.6" height="15.6"/><rect x="497.6" y="725.6" width="15.6" height="15.6"/><rect x="499.9" y="723.9" width="15.6" height="15.6"/><rect x="502.2" y="715.1" width="15.6" height="15.6"/><rect x="504.5" y="701.4" width="15.6" height="15.6"/><rect x="506.9" y="707.6" width="15.6" height="15.6"/><rect x="509.2" y="713.6" width="15.6" height="15.6"/><rect x="511.5" y="709.0" width="15.6" height="15.6"/><rect x="513.8" y="697.5" width="15.6" height="15.6"/><rect x="516.1" y="700.3" width="15.6" height="15.6"/><rect x="518.4" y="702.2" width="15.6" height="15.6"/><rect x="520.7" y="696.6" width="15.6" height="15.6"/><rect x="523.0" y="688.1" width="15.6" height="15.6"/><rect x="525.4" y="677.9" width="15.6" height="15.6"/><rect x="527.7" y="697.6" width="15.6" height="15.6"/><rect x="530.0" y="691.5" width="15.6" height="15.6"/><rect x="532.3" y="691.6" width="15.6" height="15.6"/><rect x="534.6" y="701.6" width="15.6" height="15.6"/><rect x="536.9" y="690.7" width="15.6" height="15.6"/><rect x="539.2" y="690.6" width="15.6" height="15.6"/><rect x="541.5" y="675.4" width="15.6" height="15.6"/><rect x="543.9" y="683.0" width="15.6" height="15.6"/><rect x="546.2" y="692.2" width="15.6" height="15.6"/><rect x="548.5" y="676.1" width="15.6" height="15.6"/><rect x="550.8" y="682.1" width="15.6" height="15.6"/><rect x="553.1" y="690.6" width="15.6" height="15.6"/><rect x="555.4" y="682.1" width="15.6" height="15.6"/><rect x="557.7" y="681.2" width="15.6" height="15.6"/><rect x="560.0" y="681.9" width="15.6" height="15.6"/><rect x="562.3" y="674.7" width="15.6" height="15.6"/><rect x="564.7" y="688.8" width="15.6" height="15.6"/><rect x="567.0" y="674.3" width="15.6" height="15.6"/><rect x="569.3" y="664.5" width="15.6" height="15.6"/><rect x="571.6" y="664.3" width="15.6" height="15.6"/><rect x="573.9" y="661.4" width="15.6" height="15.6"/><rect x="576.2" y="660.2" width="15.6" height="15.6"/><rect x="578.5" y="656.5" width="15.6" height="15.6"/><rect x="580.8" y="672.8" width="15.6" height="15.6"/><rect x="583.2" y="658.4" width="15.6" height="15.6"/><rect x="585.5" y="675.5" width="15.6" height="15.6"/><rect x="587.8" y="666.3" width="15.6" height="15.6"/><rect x="590.1" y="674.4" width="15.6" height="15.6"/><rect x="592.4" y="653.7" width="15.6" height="15.6"/><rect x="594.7" y="651.0" width="15.6" height="15.6"/><rect x="597.0" y="660.5" width="15.6" height="15.6"/><rect x="599.3" y="646.5" width="15.6" height="15.6"/><rect x="601.7" y="662.2" width="15.6" height="15.6"/><rect x="604.0" y="655.9" width="15.6" height="15.6"/><rect x="606.3" y="655.1" width="15.6" height="15.6"/><rect x="608.6" y="662.6" width="15.6" height="15.6"/><rect x="610.9" y="651.7" width="15.6" height="15.6"/><rect x="613.2" y="641.1" width="15.6" height="15.6"/><rect x="615.5" y="660.9" width="15.6" height="15.6"/><rect x="617.8" y="647.9" width="15.6" height="15.6"/><rect x="620.1" y="654.8" width="15.6" height="15.6"/><rect x="622.5" y="641.7" width="15.6" height="15.6"/><rect x="624.8" y="650.2" width="15.6" height="15.6"/><rect x="627.1" y="648.8" width="15.6" height="15.6"/><rect x="629.4" y="648.9" width="15.6" height="15.6"/><rect x="631.7" y="651.4" width="15.6" height="15.6"/><rect x="634.0" y="662.3" width="15.6" height="15.6"/><rect x="636.3" y="643.4" width="15.6" height="15.6"/><rect x="638.6" y="661.9" width="15.6" height="15.6"/><rect x="641.0" y="650.8" width="15.6" height="15.6"/><rect x="643.3" y="648.0" width="15.6" height="15.6"/><rect x="645.6" y="657.5" width="15.6" height="15.6"/><rect x="647.9" y="650.7" width="15.6" height="15.6"/><rect x="650.2" y="643.5" width="15.6" height="15.6"/><rect x="652.5" y="651.2" width="15.6" height="15.6"/><rect x="654.8" y="656.8" width="15.6" height="15.6"/><rect x="657.1" y="670.2" width="15.6" height="15.6"/><rect x="659.5" y="656.8" width="15.6" height="15.6"/><rect x="661.8" y="654.0" width="15.6" height="15.6"/><rect x="664.1" y="653.2" width="15.6" height="15.6"/><rect x="666.4" y="655.9" width="15.6" height="15.6"/><rect x="668.7" y="646.7" width="15.6" height="15.6"/><rect x="671.0" y="652.8" width="15.6" height="15.6"/><rect x="673.3" y="649.4" width="15.6" height="15.6"/><rect x="675.6" y="644.3" width="15.6" height="15.6"/><rect x="677.9" y="654.9" width="15.6" height="15.6"/><rect x="680.3" y="651.4" width="15.6" height="15.6"/><rect x="682.6" y="635.1" width="15.6" height="15.6"/><rect x="684.9" y="643.9" width="15.6" height="15.6"/><rect x="687.2" y="658.7" width="15.6" height="15.6"/><rect x="689.5" y="650.8" width="15.6" height="15.6"/><rect x="691.8" y="646.7" width="15.6" height="15.6"/><rect x="694.1" y="642.4" width="15.6" height="15.6"/><rect x="696.4" y="649.9" width="15.6" height="15.6"/><rect x="698.8" y="654.7" width="15.6" height="15.6"/><rect x="701.1" y="656.3" width="15.6" height="15.6"/></g><path d="M533 733.8H809" stroke="#000" stroke-width="3.2" stroke-linecap="round" stroke-dasharray="0.1 4.9" fill="none"/><g stroke="#000" stroke-width="4" fill="none" shape-rendering="crispEdges"><rect x="445" y="622" width="364" height="257" fill="none"/><line x1="474.2" y1="879" x2="474.2" y2="868"/><line x1="532.0" y1="879" x2="532.0" y2="868"/><line x1="589.8" y1="879" x2="589.8" y2="868"/><line x1="647.6" y1="879" x2="647.6" y2="868"/><line x1="705.4" y1="879" x2="705.4" y2="868"/><line x1="763.2" y1="879" x2="763.2" y2="868"/><line x1="445" y1="677.8" x2="452" y2="677.8"/><line x1="445" y1="789.8" x2="452" y2="789.8"/><line x1="445" y1="845.9" x2="452" y2="845.9"/></g></g>
<g id="labels"><text x="149.3" y="214.0" font-size="43.5" text-anchor="end" >0.2</text><text x="149.3" y="408.0" font-size="43.5" text-anchor="end" >0.1</text><text x="149.3" y="600.0" font-size="43.5" text-anchor="end" >0</text><text x="149.3" y="793.0" font-size="43.5" text-anchor="end" >-0.1</text><text x="149.3" y="985.0" font-size="43.5" text-anchor="end" >-0.2</text><text x="158.0" y="1033.5" font-size="43.5" text-anchor="middle" >0.01</text><text x="455.8" y="1033.5" font-size="43.5" text-anchor="middle" >0.1</text><text x="753.6" y="1033.5" font-size="43.5" text-anchor="middle" >1</text><text x="1051.4" y="1033.5" font-size="43.5" text-anchor="middle" >10</text><text x="466.2" y="1087.4" font-size="44.5" text-anchor="start" >Gd concentration (%)</text><text x="368.5" y="50.0" font-size="43.5" text-anchor="end" >150</text><text x="368.5" y="141.2" font-size="43.5" text-anchor="end" >100</text><text x="368.5" y="232.6" font-size="43.5" text-anchor="end" >50</text><text x="1237.4" y="969.0" font-size="43.5" text-anchor="start" >0</text><text x="1301.2" y="883.9" font-size="43.5" text-anchor="start" >0.5</text><text x="1365.1" y="798.7" font-size="43.5" text-anchor="start" >1.0</text><text x="1429.0" y="713.5" font-size="43.5" text-anchor="start" >1.5</text><text transform="translate(1332.5,998.5) rotate(-57)" font-size="44.5">Time delay (ns)</text><text transform="translate(283.7,220.4) rotate(-90)" font-size="43.5" font-style="italic">T</text><text transform="translate(294.0,197.5) rotate(-90)" font-size="31.0">C</text><text transform="translate(283.7,160.5) rotate(-90)" font-size="43.5">(K)</text><text transform="translate(1439.3,135.9) rotate(90)" font-size="43.5" font-style="italic">J</text><text transform="translate(1428.2,157.6) rotate(90)" font-size="30.5">ex</text><text transform="translate(76.7,729.6) rotate(-90)" font-size="43.5">Δ</text><text transform="translate(76.7,699.9) rotate(-90)" font-size="43.5" font-style="italic">I</text><text transform="translate(46.1,677.6) rotate(-90)" font-size="31.3">MSHG</text><text transform="translate(76.7,571.5) rotate(-90)" font-size="43.5">/</text><text transform="translate(76.7,544.0) rotate(-90)" font-size="43.5" font-style="italic">I</text><text transform="translate(46.1,521.7) rotate(-90)" font-size="31.3">MSHG</text><text x="441.0" y="634.0" font-size="34.0" text-anchor="end" >0.2</text><text x="441.0" y="745.8" font-size="34.0" text-anchor="end" >0</text><text x="441.0" y="857.9" font-size="34.0" text-anchor="end" >-0.2</text><text x="470.2" y="914.5" font-size="34.0" text-anchor="middle" >-1</text><text x="532.0" y="914.5" font-size="34.0" text-anchor="middle" >0</text><text x="589.8" y="914.5" font-size="34.0" text-anchor="middle" >1</text><text x="647.6" y="914.5" font-size="34.0" text-anchor="middle" >2</text><text x="705.4" y="914.5" font-size="34.0" text-anchor="middle" >3</text><text x="763.2" y="914.5" font-size="34.0" text-anchor="middle" >4</text><text x="629.0" y="946.0" font-size="34.0" text-anchor="middle" >Time delay (ps)</text><text x="727.3" y="665.6" font-size="34.0" text-anchor="start" >Gd:</text><text x="696.5" y="709.6" font-size="34.0" text-anchor="start" >0.64 %</text><text x="695.3" y="848.2" font-size="34.0" text-anchor="start" >9.63 %</text><text transform="translate(372.9,869.3) rotate(-90)" font-size="34.0">Δ</text><text transform="translate(372.9,846.3) rotate(-90)" font-size="34.0" font-style="italic">I</text><text transform="translate(348.9,827.8) rotate(-90)" font-size="24.3">MSHG</text><text transform="translate(372.9,745.5) rotate(-90)" font-size="34.0">/</text><text transform="translate(372.9,723.8) rotate(-90)" font-size="34.0" font-style="italic">I</text><text transform="translate(348.9,704.7) rotate(-90)" font-size="24.3">MSHG</text></g>
</svg></body></html>
